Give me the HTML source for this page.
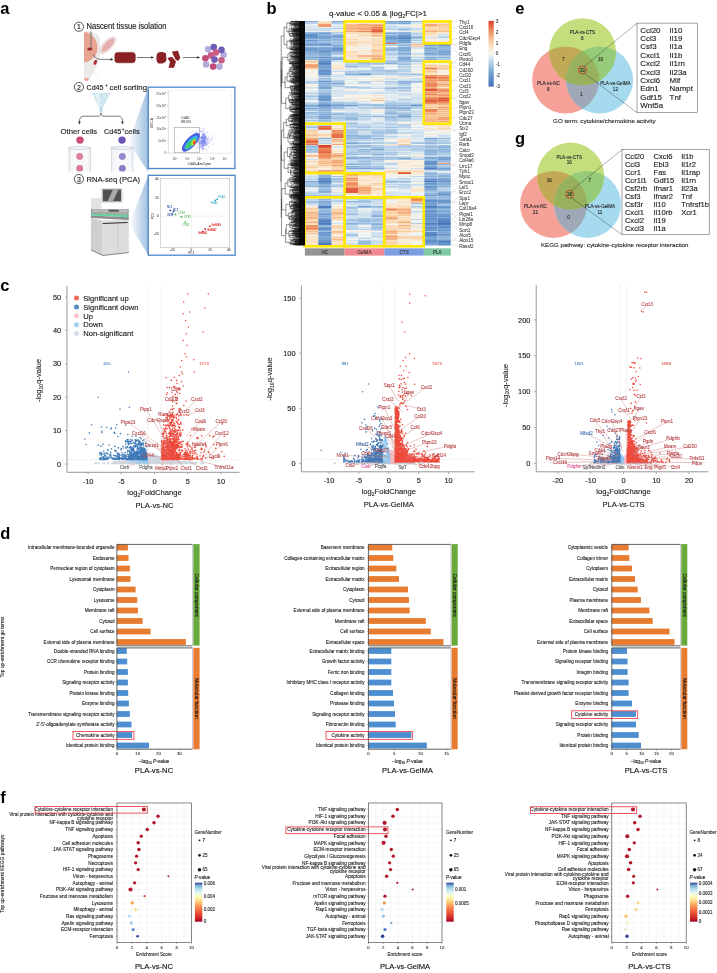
<!DOCTYPE html>
<html><head><meta charset="utf-8"><style>
html,body{margin:0;padding:0;background:#fff;width:717px;height:973px;overflow:hidden}
svg{display:block}
text{font-family:"Liberation Sans", sans-serif}
svg{-webkit-font-smoothing:antialiased;will-change:transform}
</style></head><body>
<svg width="717" height="973" viewBox="0 0 717 973" font-family='"Liberation Sans", sans-serif'>
<rect width="717" height="973" fill="#fff"/>
<defs><linearGradient id="wg" x1="0" y1="0" x2="1" y2="0"><stop offset="0" stop-color="#ffffff"/><stop offset="1" stop-color="#9dbfe0"/></linearGradient></defs>
<path d="M128.5 142 L148.3 87 L148.3 172 Z" fill="url(#wg)"/>
<path d="M129.4 224 L148.3 175.3 L148.3 255.2 Z" fill="url(#wg)"/>
<text x="0.30" y="14.30" font-size="16.5" font-weight="bold">a</text>
<circle cx="78.9" cy="26.7" r="4.6" fill="none" stroke="#222" stroke-width="0.75"/><text x="78.90" y="29.20" font-size="7" text-anchor="middle" fill="#222" stroke="#222" stroke-width="0.14">1</text>
<text x="86.50" y="29.40" font-size="8.2" fill="#222" stroke="#222" stroke-width="0.14" textLength="80" lengthAdjust="spacingAndGlyphs">Nascent tissue isolation</text>
<path d="M84.5 32 C90 31 97 33 99 38 L100 52 C99 60 96 66 93 72 C91 76 89 80 86 81 L84.5 80 Z" fill="#ece9e9" stroke="#d6d0d0" stroke-width="0.4"/>
<path d="M84.5 32.5 C92 33 97.5 40 97 49 C96.5 55 93 59 87 61.5 L84.5 62 Z" fill="#e8a491" stroke="#d88070" stroke-width="0.5"/>
<ellipse cx="107.6" cy="45.4" rx="10.8" ry="4.6" fill="#efe2e2" stroke="#d8c4c4" stroke-width="0.5" transform="rotate(-47 107.6 45.4)"/>
<ellipse cx="107.9" cy="45.1" rx="8.6" ry="3.2" fill="#e6adad" transform="rotate(-47 107.9 45.1)"/>
<line x1="91.00" y1="31.50" x2="91.00" y2="48.50" stroke="#7a7a7a" stroke-width="1.1"/>
<ellipse cx="89.8" cy="49" rx="2.6" ry="1.6" fill="#9c2a30"/>
<ellipse cx="95.3" cy="62.3" rx="1.5" ry="2.6" fill="#b02a30" transform="rotate(25 95.3 62.3)"/>
<ellipse cx="86.6" cy="79.5" rx="2.2" ry="1.4" fill="#e8a090"/>
<path d="M92 71 C95 73 97 76 99 78" stroke="#e0dada" stroke-width="0.4" fill="none"/>
<path d="M93 54.5 C95 58 97.5 59.4 101 59.4 L111.5 59.4" stroke="#222" stroke-width="0.6" fill="none"/>
<path d="M113.3 59.4 L110.6 58.1 L110.6 60.7 Z" fill="#222"/>
<rect x="114.8" y="52.4" width="20.5" height="10.4" rx="3" fill="#8b2225" stroke="#6a1518" stroke-width="0.5"/>
<line x1="137.00" y1="57.50" x2="152.00" y2="57.50" stroke="#222" stroke-width="0.6"/>
<path d="M154 57.5 L151.2 56.2 L151.2 58.8 Z" fill="#222"/>
<path d="M157.5 53 C160 51.5 164 51.8 166 53.5 L166.5 60 C165.5 63 162 64 158.5 63.5 C156 62 155.8 56 157.5 53 Z" fill="#8b2225"/>
<path d="M167.5 58 L172 56.8 L176 61.5 L174 67.8 L168.5 67.8 L170 62 Z" fill="#8b2225"/>
<path d="M172 51.5 L178 50.8 L180.3 58 L178 61 L175.5 59.5 L173 54.5 Z" fill="#8b2225"/>
<line x1="183.00" y1="57.50" x2="198.00" y2="57.50" stroke="#222" stroke-width="0.6"/>
<path d="M200 57.5 L197.2 56.2 L197.2 58.8 Z" fill="#222"/>
<circle cx="223.60" cy="54.70" r="3.30" fill="#b3aadc"/>
<circle cx="223.60" cy="54.70" r="1.50" fill="#b3aadc" opacity="0.6" stroke="#fff" stroke-opacity="0.15" stroke-width="0.3"/>
<circle cx="208.20" cy="49.20" r="3.30" fill="#b3aadc"/>
<circle cx="208.20" cy="49.20" r="1.50" fill="#b3aadc" opacity="0.6" stroke="#fff" stroke-opacity="0.15" stroke-width="0.3"/>
<circle cx="206.10" cy="64.50" r="3.30" fill="#b3aadc"/>
<circle cx="206.10" cy="64.50" r="1.50" fill="#b3aadc" opacity="0.6" stroke="#fff" stroke-opacity="0.15" stroke-width="0.3"/>
<circle cx="219.40" cy="66.60" r="3.30" fill="#b3aadc"/>
<circle cx="219.40" cy="66.60" r="1.50" fill="#b3aadc" opacity="0.6" stroke="#fff" stroke-opacity="0.15" stroke-width="0.3"/>
<circle cx="213.80" cy="47.10" r="3.30" fill="#6e5cb8"/>
<circle cx="213.80" cy="47.10" r="1.50" fill="#6e5cb8" opacity="0.6" stroke="#fff" stroke-opacity="0.15" stroke-width="0.3"/>
<circle cx="221.50" cy="49.90" r="3.30" fill="#6e5cb8"/>
<circle cx="221.50" cy="49.90" r="1.50" fill="#6e5cb8" opacity="0.6" stroke="#fff" stroke-opacity="0.15" stroke-width="0.3"/>
<circle cx="215.90" cy="52.60" r="3.30" fill="#c95c84"/>
<circle cx="215.90" cy="52.60" r="1.50" fill="#c95c84" opacity="0.6" stroke="#fff" stroke-opacity="0.15" stroke-width="0.3"/>
<circle cx="211.00" cy="55.40" r="3.30" fill="#c95c84"/>
<circle cx="211.00" cy="55.40" r="1.50" fill="#c95c84" opacity="0.6" stroke="#fff" stroke-opacity="0.15" stroke-width="0.3"/>
<circle cx="205.40" cy="58.20" r="3.30" fill="#c24a78"/>
<circle cx="205.40" cy="58.20" r="1.50" fill="#c24a78" opacity="0.6" stroke="#fff" stroke-opacity="0.15" stroke-width="0.3"/>
<circle cx="214.50" cy="59.60" r="3.30" fill="#6e5cb8"/>
<circle cx="214.50" cy="59.60" r="1.50" fill="#6e5cb8" opacity="0.6" stroke="#fff" stroke-opacity="0.15" stroke-width="0.3"/>
<circle cx="221.50" cy="60.30" r="3.30" fill="#c95c84"/>
<circle cx="221.50" cy="60.30" r="1.50" fill="#c95c84" opacity="0.6" stroke="#fff" stroke-opacity="0.15" stroke-width="0.3"/>
<circle cx="213.10" cy="66.60" r="3.30" fill="#c24a78"/>
<circle cx="213.10" cy="66.60" r="1.50" fill="#c24a78" opacity="0.6" stroke="#fff" stroke-opacity="0.15" stroke-width="0.3"/>
<circle cx="78.9" cy="87" r="4.6" fill="none" stroke="#222" stroke-width="0.75"/><text x="78.90" y="89.50" font-size="7" text-anchor="middle" fill="#222" stroke="#222" stroke-width="0.14">2</text>
<text x="86.50" y="89.50" font-size="8.0" fill="#222" stroke="#222" stroke-width="0.14" textLength="17" lengthAdjust="spacingAndGlyphs">Cd45</text>
<text x="104.90" y="86.60" font-size="4.8" fill="#222" stroke="#222" stroke-width="0.1">+</text>
<text x="109.60" y="89.50" font-size="8.0" fill="#222" stroke="#222" stroke-width="0.14" textLength="37.4" lengthAdjust="spacingAndGlyphs">cell sorting</text>
<path d="M92.5 93 L110.1 93 L103.2 106.8 L98.8 106.8 Z" fill="#cfe7f0" stroke="#b8d6e4" stroke-width="0.3"/>
<path d="M95 93 L99 93 L100 106.8 L99.3 106.8 Z" fill="#e8f4f8"/>
<rect x="99.40" y="106.80" width="3.20" height="5.70" fill="#bcdde8"/>
<path d="M101 113 C101 115 100 116.2 98 116.2 L84 116.2 C81 116.2 79.4 118 79.4 121.5 M101 113 C101 115 102 116.2 104 116.2 L118.5 116.2 C121 116.2 122.5 118 122.5 121.5" stroke="#222" stroke-width="0.6" fill="none"/>
<path d="M79.4 124.4 L78.1 121.5 L80.7 121.5 Z" fill="#222"/>
<path d="M122.5 124.4 L121.2 121.5 L123.8 121.5 Z" fill="#222"/>
<text x="60.60" y="134.20" font-size="7.8" fill="#222" stroke="#222" stroke-width="0.14" textLength="36.5" lengthAdjust="spacingAndGlyphs">Other cells</text>
<text x="104.00" y="134.20" font-size="7.8" fill="#222" stroke="#222" stroke-width="0.14" textLength="17.4" lengthAdjust="spacingAndGlyphs">Cd45</text>
<text x="121.70" y="131.20" font-size="4.6" fill="#222" stroke="#222" stroke-width="0.1">+</text>
<text x="124.40" y="134.20" font-size="7.8" fill="#222" stroke="#222" stroke-width="0.14" textLength="15.4" lengthAdjust="spacingAndGlyphs">cells</text>
<circle cx="80.00" cy="140.10" r="3.70" fill="#c74a78"/>
<circle cx="122.00" cy="140.10" r="3.70" fill="#6a55b5"/>
<rect x="69" y="148" width="21.3" height="24" fill="#eef2f5" stroke="#b7c2cc" stroke-width="0.5"/>
<rect x="71" y="149" width="17.3" height="23" fill="#f6f8fa"/>
<ellipse cx="79.65" cy="148" rx="11.65" ry="1.4" fill="#f4f6f8" stroke="#a8b4be" stroke-width="0.5"/>
<circle cx="79.65" cy="156.40" r="3.40" fill="#dc7ea0"/>
<circle cx="79.65" cy="168.50" r="3.40" fill="#d8789c"/>
<rect x="111.7" y="148" width="21.3" height="24" fill="#eef2f5" stroke="#b7c2cc" stroke-width="0.5"/>
<rect x="113.7" y="149" width="17.3" height="23" fill="#f6f8fa"/>
<ellipse cx="122.35000000000001" cy="148" rx="11.65" ry="1.4" fill="#f4f6f8" stroke="#a8b4be" stroke-width="0.5"/>
<circle cx="122.35" cy="156.40" r="3.40" fill="#9a88cc"/>
<circle cx="122.35" cy="168.50" r="3.40" fill="#8e7cc6"/>
<rect x="60.00" y="171.50" width="80.00" height="3.50" fill="#fff"/>
<rect x="148.30" y="87.20" width="86.60" height="81.30" fill="#fff" stroke="#4a86c8" stroke-width="1.3"/>
<path d="M168.6 90.5 L231.4 90.5 L231.4 153.2" stroke="#e2e2e2" stroke-width="0.4" fill="none"/>
<path d="M168.6 90.5 L168.6 153.2 L231.4 153.2" stroke="#9a9a9a" stroke-width="0.4" fill="none" stroke-dasharray="1 0.6"/>
<text x="166.2" y="94.6" font-size="3.2" text-anchor="end" fill="#444">25x10<tspan font-size="2.2" dy="-1.2">3</tspan></text>
<line x1="167.00" y1="93.50" x2="168.60" y2="93.50" stroke="#888" stroke-width="0.3"/>
<text x="166.2" y="106.6" font-size="3.2" text-anchor="end" fill="#444">20x10<tspan font-size="2.2" dy="-1.2">3</tspan></text>
<line x1="167.00" y1="105.50" x2="168.60" y2="105.50" stroke="#888" stroke-width="0.3"/>
<text x="166.2" y="118.5" font-size="3.2" text-anchor="end" fill="#444">15x10<tspan font-size="2.2" dy="-1.2">3</tspan></text>
<line x1="167.00" y1="117.40" x2="168.60" y2="117.40" stroke="#888" stroke-width="0.3"/>
<text x="166.2" y="130.3" font-size="3.2" text-anchor="end" fill="#444">10x10<tspan font-size="2.2" dy="-1.2">3</tspan></text>
<line x1="167.00" y1="129.20" x2="168.60" y2="129.20" stroke="#888" stroke-width="0.3"/>
<text x="166.2" y="142.2" font-size="3.2" text-anchor="end" fill="#444">5x10<tspan font-size="2.2" dy="-1.2">3</tspan></text>
<line x1="167.00" y1="141.10" x2="168.60" y2="141.10" stroke="#888" stroke-width="0.3"/>
<text x="166.2" y="153.9" font-size="3.2" text-anchor="end" fill="#444">0<tspan font-size="2.2" dy="-1.2"></tspan></text>
<line x1="167.00" y1="152.80" x2="168.60" y2="152.80" stroke="#888" stroke-width="0.3"/>
<text x="174.9" y="159.8" font-size="3.2" text-anchor="middle" fill="#444">10<tspan font-size="2.2" dy="-1.2">2</tspan></text>
<text x="187.4" y="159.8" font-size="3.2" text-anchor="middle" fill="#444">10<tspan font-size="2.2" dy="-1.2">3</tspan></text>
<text x="199.3" y="159.8" font-size="3.2" text-anchor="middle" fill="#444">10<tspan font-size="2.2" dy="-1.2">4</tspan></text>
<text x="212.5" y="159.8" font-size="3.2" text-anchor="middle" fill="#444">10<tspan font-size="2.2" dy="-1.2">5</tspan></text>
<text x="225" y="159.8" font-size="3.2" text-anchor="middle" fill="#444">10<tspan font-size="2.2" dy="-1.2">6</tspan></text>
<text x="199.30" y="165.00" font-size="3.6" text-anchor="middle" fill="#444" stroke="#444" stroke-width="0.05">Cd45-AmCyan</text>
<text x="152.50" y="123.00" font-size="3.2" text-anchor="middle" fill="#444" stroke="#444" stroke-width="0.05" transform="rotate(-90 152.50 123.00)">SSC-A</text>
<rect x="174.20" y="127.40" width="25.50" height="25.40" fill="none" stroke="#8a8a8a" stroke-width="0.5"/>
<text x="181.00" y="118.60" font-size="3.6" fill="#444" stroke="#444" stroke-width="0.05">Cd45</text>
<text x="181.00" y="122.80" font-size="3.6" fill="#444" stroke="#444" stroke-width="0.05">98.5%</text>
<path d="M196.1 133.1h0M207.5 141.2h0M208.8 137.0h0M204.0 138.3h0M198.3 140.9h0M195.7 137.9h0M205.5 140.3h0M202.3 136.5h0M202.8 136.9h0M200.1 137.9h0M212.1 140.1h0M202.9 144.0h0M212.1 138.7h0M194.7 137.8h0M205.3 136.9h0M200.1 142.8h0M203.1 141.7h0M199.8 147.7h0M209.5 140.2h0M199.7 144.4h0M204.4 133.8h0M199.7 146.3h0M201.5 138.0h0M203.1 139.8h0M202.0 128.4h0M210.7 141.2h0M197.6 145.9h0M203.5 140.1h0M204.8 149.5h0M212.8 133.9h0M199.4 144.7h0M193.5 138.4h0M208.5 146.3h0M204.9 128.6h0M213.8 143.3h0M205.8 143.0h0M193.4 131.4h0M195.9 151.5h0M197.8 138.5h0M200.7 143.4h0M204.5 141.6h0M202.8 141.6h0M208.2 139.4h0M198.9 142.5h0M194.2 133.8h0M197.0 141.7h0M212.5 144.6h0M207.7 141.4h0M203.4 137.3h0M196.0 132.3h0M206.2 144.0h0M207.7 149.3h0M200.5 146.3h0M211.8 139.9h0M207.4 139.0h0M193.9 140.7h0M197.9 140.7h0M199.7 141.9h0M208.8 137.9h0M197.5 140.0h0M205.4 142.5h0M204.0 128.2h0M196.3 148.1h0M203.2 130.9h0M197.7 131.3h0M196.9 147.1h0M200.9 146.8h0M202.9 130.9h0M198.1 133.6h0M208.3 140.5h0M202.0 149.0h0M193.0 142.6h0M196.6 131.4h0M197.9 147.0h0M201.3 128.8h0M196.3 149.3h0M207.2 133.3h0M214.4 137.8h0M195.9 139.2h0M206.8 149.9h0M207.3 137.4h0M199.1 131.1h0M201.6 136.3h0M203.3 132.2h0M199.4 134.6h0M195.8 132.7h0M196.8 132.7h0M204.9 140.6h0M195.2 143.1h0M203.5 149.0h0M201.0 138.7h0M198.5 140.8h0M204.5 141.1h0M200.7 143.5h0M202.5 141.5h0M197.2 141.3h0M196.9 134.8h0M207.1 140.0h0M201.1 146.1h0M209.1 147.5h0M201.0 141.2h0M200.3 138.2h0M197.6 138.5h0M191.0 132.6h0M204.2 134.3h0M204.8 132.1h0M200.1 142.4h0M196.7 135.6h0M214.6 135.8h0M198.4 136.5h0M202.2 139.8h0M207.0 144.9h0M199.9 137.8h0M194.8 130.8h0M198.2 144.5h0M202.6 144.9h0M206.8 139.0h0M212.7 136.8h0M198.8 137.4h0M207.8 139.2h0M198.2 142.7h0M207.8 139.3h0M200.7 146.7h0M207.0 145.8h0M198.1 141.7h0M203.9 129.0h0M208.1 140.6h0M202.7 135.6h0M201.7 143.5h0M206.2 139.6h0M197.6 135.7h0M197.8 133.6h0M201.9 137.0h0M202.3 134.9h0M197.6 138.9h0M200.2 147.1h0M197.4 141.3h0M201.8 132.0h0M205.7 141.0h0M191.3 143.7h0M206.8 135.1h0M210.6 141.0h0M196.1 143.4h0M200.2 131.8h0M191.1 141.5h0M198.2 143.9h0M204.0 136.8h0" stroke="#7480ea" stroke-width="0.7" stroke-linecap="round" opacity="0.55"/>
<path d="M202.3 148.6h0M207.3 144.0h0M202.7 136.0h0M202.6 148.1h0M204.5 139.2h0M200.7 141.3h0M201.5 140.6h0M205.2 145.4h0M203.8 138.9h0M204.0 148.8h0M204.3 134.1h0M207.0 141.7h0M211.3 138.4h0M203.3 139.1h0M204.3 137.8h0M200.2 131.7h0M203.2 138.1h0M202.2 150.2h0M205.3 145.5h0M202.4 141.9h0M203.0 139.6h0M205.2 143.3h0M204.2 141.2h0M200.3 137.1h0M204.4 138.8h0M201.8 142.1h0M201.4 137.4h0M205.5 138.9h0M206.7 142.9h0M205.3 145.7h0M198.7 140.1h0M200.6 138.4h0M203.3 146.2h0M203.4 148.0h0M202.3 140.2h0M203.7 144.8h0M203.4 137.7h0M202.8 134.1h0M206.3 143.9h0M204.5 141.8h0M202.2 138.7h0M205.3 136.9h0M201.8 147.7h0M207.0 141.8h0M204.7 141.4h0M206.7 138.5h0M203.7 142.7h0M206.7 139.4h0M204.0 138.3h0M202.0 137.5h0M203.7 144.5h0M202.0 137.8h0M202.6 142.1h0M205.1 134.8h0M204.3 136.0h0M205.1 136.1h0M201.1 137.3h0M203.4 136.0h0M204.0 141.2h0M203.7 141.7h0M205.4 137.2h0M203.5 140.4h0M199.0 142.3h0M201.8 137.3h0M202.5 140.9h0M204.2 142.7h0M202.0 143.6h0M204.4 138.7h0M203.5 144.1h0M204.5 143.6h0M203.7 145.6h0M208.4 142.5h0M200.0 148.3h0M202.2 134.3h0M198.3 142.4h0M205.9 145.0h0M202.7 147.0h0M203.3 137.8h0M203.6 141.5h0M203.6 142.3h0M198.7 147.6h0M202.2 143.4h0M201.7 141.2h0M203.1 133.4h0M204.3 143.4h0M201.0 131.1h0M202.1 136.7h0M203.7 140.4h0M207.0 143.4h0M202.9 141.2h0M197.2 136.4h0M201.5 140.0h0M204.2 141.5h0M205.6 137.4h0M204.2 139.9h0M203.5 141.9h0M202.9 141.5h0M203.4 145.1h0M203.3 141.9h0M209.2 143.3h0M204.6 145.3h0M201.3 143.7h0M205.1 142.5h0M205.6 144.0h0M206.1 137.6h0M204.5 138.1h0M206.2 141.1h0M200.6 141.0h0M201.3 144.9h0M202.8 130.7h0M202.6 145.1h0M204.2 137.7h0M204.9 143.1h0M206.7 144.6h0M204.3 137.0h0M204.1 141.9h0M203.5 142.4h0M200.9 143.1h0M203.5 142.1h0M203.3 139.2h0M204.1 144.0h0M202.8 142.0h0M201.8 142.4h0M203.5 134.8h0M206.0 136.5h0M203.7 134.6h0M199.7 143.4h0M200.4 131.2h0M203.0 133.6h0M203.1 148.7h0M202.6 142.1h0M204.7 141.6h0M203.2 147.2h0M203.3 142.1h0M203.7 134.8h0M204.2 140.7h0M204.9 143.6h0M206.9 132.0h0M202.3 138.4h0M201.6 142.3h0" stroke="#4f5ce6" stroke-width="0.9" stroke-linecap="round" opacity="0.6"/>
<ellipse cx="203.2" cy="140.5" rx="2.6" ry="7" fill="#5864e6" opacity="0.35" transform="rotate(12 203.2 140.5)"/>
<ellipse cx="190.8" cy="142.3" rx="12" ry="4.9" fill="#4a5ae6" transform="rotate(-47 190.8 142.3)"/>
<ellipse cx="191.2" cy="142.6" rx="9" ry="3.4" fill="#34b4e4" transform="rotate(-47 191.2 142.6)"/>
<ellipse cx="190.5" cy="143.8" rx="7" ry="2.5" fill="#3ccc78" transform="rotate(-45 190.5 143.8)"/>
<ellipse cx="193.6" cy="142.4" rx="3.4" ry="1.9" fill="#b8e030" transform="rotate(-62 193.6 142.4)"/>
<ellipse cx="194.4" cy="142.6" rx="1.2" ry="2.2" fill="#e84820" transform="rotate(12 194.4 142.6)"/>
<circle cx="78.9" cy="179" r="4.6" fill="none" stroke="#222" stroke-width="0.75"/><text x="78.90" y="181.50" font-size="7" text-anchor="middle" fill="#222" stroke="#222" stroke-width="0.14">3</text>
<text x="86.50" y="181.80" font-size="8.0" fill="#222" stroke="#222" stroke-width="0.14" textLength="53.5" lengthAdjust="spacingAndGlyphs">RNA-seq (PCA)</text>
<rect x="90.90" y="198.00" width="10.50" height="11.50" fill="#e2e2e2"/>
<rect x="101.30" y="188.20" width="21.30" height="14.50" fill="#d9d9d9"/>
<rect x="102.80" y="189.50" width="18.30" height="11.80" fill="#505050"/>
<path d="M107.5 201.3 L113 189.5 L118.5 189.5 L113 201.3 Z" fill="#a8a8a8"/>
<path d="M90.9 209 L128.8 209 L128.8 216.5 L90.9 214.5 Z" fill="#a6a6a6"/>
<path d="M93 209.5 L127 209.5 L127 212.5 L93 211.5 Z" fill="#bdbdbd"/>
<path d="M108 209.8 L118 209.8 L119.5 211.8 L109 211.8 Z" fill="#5a5a5a"/>
<path d="M90.9 213.5 L128.8 215.3 L128.8 217.3 L90.9 215.5 Z" fill="#5fd8a0"/>
<path d="M90.9 215.5 L128.8 217.3 L128.8 220 L90.9 218 Z" fill="#8e8e8e"/>
<path d="M90.9 218 L102.7 220.5 L102.7 255.5 L90.9 250 Z" fill="#d0cfcf"/>
<path d="M102.7 220.5 L128.8 220 L128.8 252.5 L102.7 255.5 Z" fill="#dedcdc"/>
<line x1="102.70" y1="223.50" x2="127.60" y2="222.50" stroke="#2a2a2a" stroke-width="1"/>
<line x1="118.10" y1="224.00" x2="118.10" y2="253.80" stroke="#c2c0c0" stroke-width="0.5"/>
<path d="M90.9 250 L102.7 255.5 L128.8 252.5" stroke="#5a5a5a" stroke-width="0.7" fill="none"/>
<line x1="91.20" y1="223.00" x2="102.50" y2="226.00" stroke="#c4c2c2" stroke-width="0.4"/>
<line x1="91.20" y1="230.00" x2="102.50" y2="233.00" stroke="#c4c2c2" stroke-width="0.4"/>
<line x1="91.20" y1="237.00" x2="102.50" y2="240.00" stroke="#c4c2c2" stroke-width="0.4"/>
<line x1="91.20" y1="244.00" x2="102.50" y2="247.00" stroke="#c4c2c2" stroke-width="0.4"/>
<rect x="148.30" y="175.30" width="86.80" height="79.90" fill="#fff" stroke="#4a86c8" stroke-width="1.3"/>
<rect x="160.60" y="178.40" width="69.20" height="69.10" fill="none" stroke="#999" stroke-width="0.4"/>
<line x1="191.40" y1="178.40" x2="191.40" y2="247.50" stroke="#dddddd" stroke-width="0.4"/>
<line x1="160.60" y1="216.10" x2="229.80" y2="216.10" stroke="#dddddd" stroke-width="0.4"/>
<text x="158.60" y="180.40" font-size="3.2" text-anchor="end" fill="#444" stroke="#444" stroke-width="0.05">40</text>
<text x="158.60" y="198.50" font-size="3.2" text-anchor="end" fill="#444" stroke="#444" stroke-width="0.05">20</text>
<text x="158.60" y="217.20" font-size="3.2" text-anchor="end" fill="#444" stroke="#444" stroke-width="0.05">0</text>
<text x="158.60" y="235.40" font-size="3.2" text-anchor="end" fill="#444" stroke="#444" stroke-width="0.05">-20</text>
<text x="172.20" y="250.60" font-size="3.2" text-anchor="middle" fill="#444" stroke="#444" stroke-width="0.05">-20</text>
<text x="191.40" y="250.60" font-size="3.2" text-anchor="middle" fill="#444" stroke="#444" stroke-width="0.05">0</text>
<text x="209.90" y="250.60" font-size="3.2" text-anchor="middle" fill="#444" stroke="#444" stroke-width="0.05">20</text>
<text x="228.70" y="250.60" font-size="3.2" text-anchor="middle" fill="#444" stroke="#444" stroke-width="0.05">40</text>
<text x="191.40" y="254.00" font-size="3.0" text-anchor="middle" fill="#444" stroke="#444" stroke-width="0.05">PC1</text>
<text x="154.00" y="216.10" font-size="3.0" text-anchor="middle" fill="#444" stroke="#444" stroke-width="0.05" transform="rotate(-90 154.00 216.10)">PC2</text>
<circle cx="170.20" cy="210.40" r="0.90" fill="#1e3fa0"/>
<text x="167.00" y="207.80" font-size="2.6" fill="#1e3fa0" stroke="#1e3fa0" stroke-width="0.05">NC1</text>
<circle cx="172.20" cy="214.10" r="0.90" fill="#1e3fa0"/>
<text x="167.50" y="216.00" font-size="2.6" fill="#1e3fa0" stroke="#1e3fa0" stroke-width="0.05">NC3</text>
<circle cx="173.50" cy="211.50" r="0.90" fill="#1e3fa0"/>
<text x="173.00" y="211.20" font-size="2.6" fill="#1e3fa0" stroke="#1e3fa0" stroke-width="0.05">NC2</text>
<circle cx="175.50" cy="214.40" r="0.90" fill="#3cb043"/>
<text x="178.00" y="214.20" font-size="2.6" fill="#3cb043" stroke="#3cb043" stroke-width="0.05">CTS3</text>
<circle cx="181.40" cy="217.00" r="0.90" fill="#3cb043"/>
<text x="184.00" y="217.80" font-size="2.6" fill="#3cb043" stroke="#3cb043" stroke-width="0.05">CTS1</text>
<circle cx="185.40" cy="222.10" r="0.90" fill="#3cb043"/>
<text x="182.50" y="225.50" font-size="2.6" fill="#3cb043" stroke="#3cb043" stroke-width="0.05">CTS2</text>
<circle cx="215.20" cy="200.50" r="0.90" fill="#2aa0c8"/>
<text x="211.00" y="203.50" font-size="2.6" fill="#2aa0c8" stroke="#2aa0c8" stroke-width="0.05">PLA2</text>
<circle cx="217.20" cy="199.20" r="0.90" fill="#2aa0c8"/>
<text x="218.50" y="197.50" font-size="2.6" fill="#2aa0c8" stroke="#2aa0c8" stroke-width="0.05">PLA1</text>
<circle cx="209.90" cy="226.30" r="0.90" fill="#e02020"/>
<text x="211.50" y="225.50" font-size="2.6" fill="#e02020" stroke="#e02020" stroke-width="0.05">GelMA3</text>
<circle cx="205.30" cy="229.00" r="0.90" fill="#e02020"/>
<text x="207.00" y="230.50" font-size="2.6" fill="#e02020" stroke="#e02020" stroke-width="0.05">GelMA2</text>
<circle cx="202.60" cy="231.60" r="0.90" fill="#e02020"/>
<text x="198.00" y="234.00" font-size="2.6" fill="#e02020" stroke="#e02020" stroke-width="0.05">GelMA1</text>
<text x="266.50" y="14.20" font-size="16.5" font-weight="bold">b</text>
<text x="378" y="15.8" font-size="8" text-anchor="middle" fill="#222" stroke="#222" stroke-width="0.14">q-value &lt; 0.05 &amp; |log<tspan font-size="5" dy="1.8">2</tspan><tspan dy="-1.8">FC|&gt;1</tspan></text>
<path d="M305.00 21.0h13.25v1.0h-13.25zM318.25 40.0h13.25v1.0h-13.25z" fill="#85acd7"/>
<path d="M318.25 21.0h13.25v1.0h-13.25zM344.75 23.0h13.25v1.0h-13.25zM305.00 157.0h13.25v1.0h-13.25zM411.00 160.0h13.25v1.0h-13.25zM411.00 174.0h13.25v1.0h-13.25zM371.25 194.0h13.25v1.0h-13.25zM305.00 206.0h13.25v1.0h-13.25zM397.75 239.0h13.25v1.0h-13.25zM305.00 243.0h13.25v1.0h-13.25z" fill="#faebd6"/>
<path d="M331.50 21.0h13.25v1.0h-13.25zM344.75 74.0h13.25v1.0h-13.25zM318.25 93.0h13.25v1.0h-13.25zM318.25 108.0h13.25v1.0h-13.25zM371.25 154.0h13.25v1.0h-13.25zM437.50 169.0h13.25v1.0h-13.25zM424.25 173.0h13.25v1.0h-13.25zM318.25 177.0h13.25v1.0h-13.25zM424.25 182.0h13.25v1.0h-13.25zM424.25 209.0h13.25v1.0h-13.25zM437.50 213.0h13.25v1.0h-13.25zM437.50 231.0h13.25v1.0h-13.25z" fill="#84acd7"/>
<path d="M344.75 21.0h13.25v1.0h-13.25zM305.00 25.0h13.25v1.0h-13.25zM331.50 79.0h13.25v1.0h-13.25zM384.50 96.0h13.25v1.0h-13.25zM384.50 98.0h13.25v1.0h-13.25zM331.50 100.0h13.25v1.0h-13.25zM424.25 136.0h13.25v1.0h-13.25zM411.00 139.0h13.25v1.0h-13.25zM331.50 173.0h13.25v1.0h-13.25zM331.50 194.0h13.25v1.0h-13.25zM358.00 237.0h13.25v1.0h-13.25zM371.25 238.0h13.25v1.0h-13.25z" fill="#e1ebf1"/>
<path d="M358.00 21.0h13.25v1.0h-13.25zM437.50 73.0h13.25v1.0h-13.25zM344.75 84.0h13.25v1.0h-13.25zM305.00 85.0h13.25v1.0h-13.25zM371.25 111.0h13.25v1.0h-13.25zM331.50 145.0h13.25v1.0h-13.25zM397.75 175.0h13.25v1.0h-13.25z" fill="#f6f2e9"/>
<path d="M371.25 21.0h13.25v1.0h-13.25zM424.25 39.0h13.25v1.0h-13.25zM358.00 53.0h13.25v1.0h-13.25zM305.00 63.0h13.25v1.0h-13.25zM371.25 80.0h13.25v1.0h-13.25zM424.25 134.0h13.25v1.0h-13.25zM331.50 150.0h13.25v1.0h-13.25zM358.00 178.0h13.25v1.0h-13.25zM358.00 183.0h13.25v1.0h-13.25zM384.50 202.0h13.25v1.0h-13.25z" fill="#fbe9d1"/>
<path d="M384.50 21.0h13.25v1.0h-13.25zM397.75 47.0h13.25v1.0h-13.25zM305.00 52.0h13.25v1.0h-13.25zM318.25 53.0h13.25v1.0h-13.25zM318.25 54.0h13.25v1.0h-13.25zM318.25 83.0h13.25v1.0h-13.25zM318.25 237.0h13.25v1.0h-13.25z" fill="#83abd7"/>
<path d="M397.75 21.0h13.25v1.0h-13.25zM384.50 37.0h13.25v1.0h-13.25zM318.25 70.0h13.25v1.0h-13.25zM318.25 74.0h13.25v1.0h-13.25zM318.25 229.0h13.25v1.0h-13.25z" fill="#6795cb"/>
<path d="M411.00 21.0h13.25v1.0h-13.25zM397.75 29.0h13.25v1.0h-13.25zM437.50 48.0h13.25v1.0h-13.25zM318.25 212.0h13.25v1.0h-13.25z" fill="#98bbdf"/>
<path d="M424.25 21.0h13.25v1.0h-13.25zM344.75 37.0h13.25v1.0h-13.25zM358.00 46.0h13.25v1.0h-13.25zM371.25 79.0h13.25v1.0h-13.25zM318.25 133.0h13.25v1.0h-13.25zM318.25 136.0h13.25v1.0h-13.25zM411.00 191.0h13.25v1.0h-13.25zM305.00 207.0h13.25v1.0h-13.25zM411.00 226.0h13.25v1.0h-13.25zM397.75 243.0h13.25v1.0h-13.25z" fill="#faead4"/>
<path d="M437.50 21.0h13.25v1.0h-13.25zM411.00 24.0h13.25v1.0h-13.25zM344.75 34.0h13.25v1.0h-13.25zM358.00 37.0h13.25v1.0h-13.25zM305.00 75.0h13.25v1.0h-13.25zM424.25 126.0h13.25v1.0h-13.25zM384.50 169.0h13.25v1.0h-13.25zM371.25 186.0h13.25v1.0h-13.25zM331.50 191.0h13.25v1.0h-13.25zM384.50 203.0h13.25v1.0h-13.25zM397.75 234.0h13.25v1.0h-13.25z" fill="#f6f1e7"/>
<path d="M305.00 22.0h13.25v1.0h-13.25zM305.00 23.0h13.25v1.0h-13.25zM411.00 34.0h13.25v1.0h-13.25zM424.25 56.0h13.25v1.0h-13.25zM344.75 62.0h13.25v1.0h-13.25zM358.00 72.0h13.25v1.0h-13.25zM371.25 72.0h13.25v1.0h-13.25zM358.00 88.0h13.25v1.0h-13.25zM344.75 108.0h13.25v1.0h-13.25zM344.75 127.0h13.25v1.0h-13.25zM384.50 142.0h13.25v1.0h-13.25zM318.25 143.0h13.25v1.0h-13.25zM358.00 159.0h13.25v1.0h-13.25zM371.25 161.0h13.25v1.0h-13.25zM344.75 202.0h13.25v1.0h-13.25z" fill="#bad3e9"/>
<path d="M318.25 22.0h13.25v1.0h-13.25zM358.00 23.0h13.25v1.0h-13.25zM344.75 32.0h13.25v1.0h-13.25zM411.00 45.0h13.25v1.0h-13.25zM424.25 105.0h13.25v1.0h-13.25zM437.50 129.0h13.25v1.0h-13.25zM384.50 172.0h13.25v1.0h-13.25zM397.75 219.0h13.25v1.0h-13.25zM384.50 226.0h13.25v1.0h-13.25zM331.50 228.0h13.25v1.0h-13.25zM384.50 243.0h13.25v1.0h-13.25z" fill="#fadbb7"/>
<path d="M331.50 22.0h13.25v1.0h-13.25zM437.50 37.0h13.25v1.0h-13.25zM344.75 71.0h13.25v1.0h-13.25zM358.00 71.0h13.25v1.0h-13.25zM397.75 74.0h13.25v1.0h-13.25zM331.50 82.0h13.25v1.0h-13.25zM331.50 84.0h13.25v1.0h-13.25zM411.00 108.0h13.25v1.0h-13.25zM384.50 111.0h13.25v1.0h-13.25zM305.00 118.0h13.25v1.0h-13.25zM384.50 118.0h13.25v1.0h-13.25zM411.00 142.0h13.25v1.0h-13.25zM358.00 147.0h13.25v1.0h-13.25zM384.50 182.0h13.25v1.0h-13.25zM344.75 197.0h13.25v1.0h-13.25zM358.00 218.0h13.25v1.0h-13.25z" fill="#abc9e5"/>
<path d="M344.75 22.0h13.25v1.0h-13.25zM371.25 36.0h13.25v1.0h-13.25zM371.25 44.0h13.25v1.0h-13.25zM371.25 54.0h13.25v1.0h-13.25zM331.50 154.0h13.25v1.0h-13.25zM318.25 160.0h13.25v1.0h-13.25zM305.00 167.0h13.25v1.0h-13.25zM344.75 177.0h13.25v1.0h-13.25zM371.25 183.0h13.25v1.0h-13.25zM331.50 210.0h13.25v1.0h-13.25zM411.00 237.0h13.25v1.0h-13.25z" fill="#f8cfa4"/>
<path d="M358.00 22.0h13.25v1.0h-13.25zM437.50 125.0h13.25v1.0h-13.25zM397.75 139.0h13.25v1.0h-13.25zM397.75 140.0h13.25v1.0h-13.25zM411.00 189.0h13.25v1.0h-13.25zM397.75 230.0h13.25v1.0h-13.25z" fill="#fae2c3"/>
<path d="M371.25 22.0h13.25v1.0h-13.25zM371.25 43.0h13.25v1.0h-13.25zM397.75 206.0h13.25v1.0h-13.25z" fill="#fadcb9"/>
<path d="M384.50 22.0h13.25v1.0h-13.25zM384.50 23.0h13.25v1.0h-13.25zM318.25 32.0h13.25v1.0h-13.25zM437.50 47.0h13.25v1.0h-13.25zM437.50 57.0h13.25v1.0h-13.25zM424.25 59.0h13.25v1.0h-13.25zM397.75 83.0h13.25v1.0h-13.25zM371.25 138.0h13.25v1.0h-13.25zM358.00 145.0h13.25v1.0h-13.25zM424.25 152.0h13.25v1.0h-13.25zM344.75 157.0h13.25v1.0h-13.25zM437.50 175.0h13.25v1.0h-13.25zM437.50 197.0h13.25v1.0h-13.25zM318.25 226.0h13.25v1.0h-13.25zM371.25 227.0h13.25v1.0h-13.25zM437.50 233.0h13.25v1.0h-13.25z" fill="#8eb4db"/>
<path d="M397.75 22.0h13.25v1.0h-13.25zM331.50 57.0h13.25v1.0h-13.25zM331.50 108.0h13.25v1.0h-13.25zM344.75 132.0h13.25v1.0h-13.25zM437.50 150.0h13.25v1.0h-13.25zM371.25 157.0h13.25v1.0h-13.25zM424.25 160.0h13.25v1.0h-13.25zM437.50 160.0h13.25v1.0h-13.25zM424.25 165.0h13.25v1.0h-13.25zM424.25 197.0h13.25v1.0h-13.25zM437.50 209.0h13.25v1.0h-13.25zM437.50 238.0h13.25v1.0h-13.25z" fill="#96bade"/>
<path d="M411.00 22.0h13.25v1.0h-13.25zM437.50 34.0h13.25v1.0h-13.25zM331.50 60.0h13.25v1.0h-13.25zM397.75 65.0h13.25v1.0h-13.25zM411.00 79.0h13.25v1.0h-13.25zM384.50 92.0h13.25v1.0h-13.25zM384.50 100.0h13.25v1.0h-13.25zM344.75 110.0h13.25v1.0h-13.25zM411.00 110.0h13.25v1.0h-13.25zM305.00 119.0h13.25v1.0h-13.25zM358.00 128.0h13.25v1.0h-13.25zM411.00 181.0h13.25v1.0h-13.25zM331.50 187.0h13.25v1.0h-13.25zM305.00 204.0h13.25v1.0h-13.25zM371.25 208.0h13.25v1.0h-13.25zM358.00 213.0h13.25v1.0h-13.25zM358.00 216.0h13.25v1.0h-13.25zM344.75 218.0h13.25v1.0h-13.25zM371.25 235.0h13.25v1.0h-13.25z" fill="#d1e2ef"/>
<path d="M424.25 22.0h13.25v1.0h-13.25zM424.25 27.0h13.25v1.0h-13.25zM371.25 34.0h13.25v1.0h-13.25zM331.50 167.0h13.25v1.0h-13.25zM371.25 184.0h13.25v1.0h-13.25zM397.75 217.0h13.25v1.0h-13.25zM384.50 234.0h13.25v1.0h-13.25zM397.75 236.0h13.25v1.0h-13.25z" fill="#fadbb6"/>
<path d="M437.50 22.0h13.25v1.0h-13.25zM437.50 23.0h13.25v1.0h-13.25zM358.00 42.0h13.25v1.0h-13.25zM358.00 43.0h13.25v1.0h-13.25zM384.50 214.0h13.25v1.0h-13.25zM331.50 230.0h13.25v1.0h-13.25z" fill="#fae1c2"/>
<path d="M318.25 23.0h13.25v1.0h-13.25zM424.25 29.0h13.25v1.0h-13.25zM424.25 33.0h13.25v1.0h-13.25zM305.00 68.0h13.25v1.0h-13.25zM331.50 128.0h13.25v1.0h-13.25zM384.50 215.0h13.25v1.0h-13.25zM384.50 222.0h13.25v1.0h-13.25z" fill="#f9d4aa"/>
<path d="M331.50 23.0h13.25v1.0h-13.25zM331.50 41.0h13.25v1.0h-13.25zM397.75 55.0h13.25v1.0h-13.25zM371.25 60.0h13.25v1.0h-13.25zM344.75 64.0h13.25v1.0h-13.25zM384.50 87.0h13.25v1.0h-13.25zM397.75 125.0h13.25v1.0h-13.25zM344.75 126.0h13.25v1.0h-13.25zM358.00 142.0h13.25v1.0h-13.25zM371.25 143.0h13.25v1.0h-13.25zM305.00 150.0h13.25v1.0h-13.25zM358.00 150.0h13.25v1.0h-13.25zM358.00 153.0h13.25v1.0h-13.25zM384.50 153.0h13.25v1.0h-13.25zM397.75 182.0h13.25v1.0h-13.25zM371.25 214.0h13.25v1.0h-13.25z" fill="#b1cde6"/>
<path d="M371.25 23.0h13.25v1.0h-13.25zM331.50 31.0h13.25v1.0h-13.25zM424.25 34.0h13.25v1.0h-13.25zM305.00 164.0h13.25v1.0h-13.25zM318.25 166.0h13.25v1.0h-13.25zM305.00 169.0h13.25v1.0h-13.25zM397.75 201.0h13.25v1.0h-13.25zM397.75 229.0h13.25v1.0h-13.25z" fill="#fbe8cf"/>
<path d="M397.75 23.0h13.25v1.0h-13.25zM331.50 47.0h13.25v1.0h-13.25zM318.25 95.0h13.25v1.0h-13.25zM318.25 103.0h13.25v1.0h-13.25zM305.00 108.0h13.25v1.0h-13.25zM318.25 114.0h13.25v1.0h-13.25zM424.25 154.0h13.25v1.0h-13.25zM424.25 158.0h13.25v1.0h-13.25zM344.75 166.0h13.25v1.0h-13.25zM437.50 178.0h13.25v1.0h-13.25zM437.50 184.0h13.25v1.0h-13.25zM318.25 186.0h13.25v1.0h-13.25zM437.50 192.0h13.25v1.0h-13.25zM318.25 208.0h13.25v1.0h-13.25z" fill="#81aad6"/>
<path d="M411.00 23.0h13.25v1.0h-13.25zM411.00 48.0h13.25v1.0h-13.25zM384.50 69.0h13.25v1.0h-13.25zM344.75 88.0h13.25v1.0h-13.25zM384.50 91.0h13.25v1.0h-13.25zM397.75 100.0h13.25v1.0h-13.25zM331.50 147.0h13.25v1.0h-13.25zM397.75 153.0h13.25v1.0h-13.25zM397.75 193.0h13.25v1.0h-13.25zM305.00 198.0h13.25v1.0h-13.25zM371.25 204.0h13.25v1.0h-13.25zM411.00 204.0h13.25v1.0h-13.25zM371.25 240.0h13.25v1.0h-13.25z" fill="#d3e3ef"/>
<path d="M424.25 23.0h13.25v1.0h-13.25zM437.50 87.0h13.25v1.0h-13.25z" fill="#fbe3c6"/>
<path d="M305.00 24.0h13.25v1.0h-13.25zM384.50 31.0h13.25v1.0h-13.25zM411.00 52.0h13.25v1.0h-13.25zM371.25 83.0h13.25v1.0h-13.25zM358.00 84.0h13.25v1.0h-13.25zM411.00 177.0h13.25v1.0h-13.25zM358.00 232.0h13.25v1.0h-13.25zM344.75 238.0h13.25v1.0h-13.25zM358.00 239.0h13.25v1.0h-13.25z" fill="#ebf1f2"/>
<path d="M318.25 24.0h13.25v1.0h-13.25z" fill="#f19a6c"/>
<path d="M331.50 24.0h13.25v1.0h-13.25zM331.50 95.0h13.25v1.0h-13.25zM371.25 128.0h13.25v1.0h-13.25zM371.25 141.0h13.25v1.0h-13.25zM358.00 228.0h13.25v1.0h-13.25z" fill="#d7e6f0"/>
<path d="M344.75 24.0h13.25v1.0h-13.25zM384.50 219.0h13.25v1.0h-13.25z" fill="#f7c498"/>
<path d="M358.00 24.0h13.25v1.0h-13.25z" fill="#f3a475"/>
<path d="M371.25 24.0h13.25v1.0h-13.25zM371.25 35.0h13.25v1.0h-13.25zM358.00 56.0h13.25v1.0h-13.25zM424.25 87.0h13.25v1.0h-13.25zM358.00 189.0h13.25v1.0h-13.25zM305.00 212.0h13.25v1.0h-13.25zM397.75 225.0h13.25v1.0h-13.25zM331.50 239.0h13.25v1.0h-13.25z" fill="#f6b587"/>
<path d="M384.50 24.0h13.25v1.0h-13.25zM397.75 26.0h13.25v1.0h-13.25zM344.75 101.0h13.25v1.0h-13.25zM305.00 111.0h13.25v1.0h-13.25zM397.75 121.0h13.25v1.0h-13.25zM371.25 125.0h13.25v1.0h-13.25zM371.25 165.0h13.25v1.0h-13.25zM384.50 178.0h13.25v1.0h-13.25zM305.00 191.0h13.25v1.0h-13.25zM397.75 194.0h13.25v1.0h-13.25zM331.50 223.0h13.25v1.0h-13.25z" fill="#d4e4f0"/>
<path d="M397.75 24.0h13.25v1.0h-13.25zM318.25 30.0h13.25v1.0h-13.25zM344.75 91.0h13.25v1.0h-13.25zM331.50 109.0h13.25v1.0h-13.25zM384.50 123.0h13.25v1.0h-13.25zM397.75 129.0h13.25v1.0h-13.25zM411.00 132.0h13.25v1.0h-13.25zM411.00 135.0h13.25v1.0h-13.25zM411.00 136.0h13.25v1.0h-13.25zM384.50 156.0h13.25v1.0h-13.25zM411.00 158.0h13.25v1.0h-13.25zM344.75 162.0h13.25v1.0h-13.25zM371.25 243.0h13.25v1.0h-13.25zM371.25 244.0h13.25v1.0h-13.25z" fill="#ccdfee"/>
<path d="M424.25 24.0h13.25v1.0h-13.25zM305.00 66.0h13.25v1.0h-13.25zM437.50 92.0h13.25v1.0h-13.25zM424.25 93.0h13.25v1.0h-13.25zM318.25 170.0h13.25v1.0h-13.25zM397.75 209.0h13.25v1.0h-13.25z" fill="#f4aa7b"/>
<path d="M437.50 24.0h13.25v1.0h-13.25zM358.00 186.0h13.25v1.0h-13.25zM331.50 231.0h13.25v1.0h-13.25z" fill="#f7c497"/>
<path d="M318.25 25.0h13.25v1.0h-13.25z" fill="#f09769"/>
<path d="M331.50 25.0h13.25v1.0h-13.25zM411.00 41.0h13.25v1.0h-13.25zM437.50 42.0h13.25v1.0h-13.25zM437.50 63.0h13.25v1.0h-13.25zM411.00 214.0h13.25v1.0h-13.25z" fill="#e8eff2"/>
<path d="M344.75 25.0h13.25v1.0h-13.25zM358.00 27.0h13.25v1.0h-13.25zM424.25 81.0h13.25v1.0h-13.25zM318.25 158.0h13.25v1.0h-13.25zM331.50 161.0h13.25v1.0h-13.25zM344.75 179.0h13.25v1.0h-13.25zM331.50 213.0h13.25v1.0h-13.25zM397.75 222.0h13.25v1.0h-13.25zM384.50 238.0h13.25v1.0h-13.25z" fill="#f4ad7e"/>
<path d="M358.00 25.0h13.25v1.0h-13.25z" fill="#f5b284"/>
<path d="M371.25 25.0h13.25v1.0h-13.25zM305.00 229.0h13.25v1.0h-13.25z" fill="#f0986a"/>
<path d="M384.50 25.0h13.25v1.0h-13.25zM437.50 35.0h13.25v1.0h-13.25zM411.00 47.0h13.25v1.0h-13.25zM411.00 53.0h13.25v1.0h-13.25zM384.50 59.0h13.25v1.0h-13.25zM358.00 86.0h13.25v1.0h-13.25zM331.50 93.0h13.25v1.0h-13.25zM411.00 119.0h13.25v1.0h-13.25zM384.50 128.0h13.25v1.0h-13.25z" fill="#d5e4f0"/>
<path d="M397.75 25.0h13.25v1.0h-13.25zM331.50 30.0h13.25v1.0h-13.25zM384.50 67.0h13.25v1.0h-13.25zM358.00 79.0h13.25v1.0h-13.25zM305.00 84.0h13.25v1.0h-13.25zM411.00 92.0h13.25v1.0h-13.25zM384.50 176.0h13.25v1.0h-13.25zM397.75 197.0h13.25v1.0h-13.25zM411.00 216.0h13.25v1.0h-13.25zM411.00 220.0h13.25v1.0h-13.25z" fill="#edf2f2"/>
<path d="M411.00 25.0h13.25v1.0h-13.25zM411.00 240.0h13.25v1.0h-13.25z" fill="#fbe8ce"/>
<path d="M424.25 25.0h13.25v1.0h-13.25z" fill="#f3a576"/>
<path d="M437.50 25.0h13.25v1.0h-13.25zM424.25 65.0h13.25v1.0h-13.25zM437.50 106.0h13.25v1.0h-13.25zM424.25 115.0h13.25v1.0h-13.25zM397.75 144.0h13.25v1.0h-13.25z" fill="#f7c79b"/>
<path d="M305.00 26.0h13.25v1.0h-13.25zM331.50 70.0h13.25v1.0h-13.25zM411.00 94.0h13.25v1.0h-13.25zM397.75 95.0h13.25v1.0h-13.25zM331.50 121.0h13.25v1.0h-13.25zM411.00 127.0h13.25v1.0h-13.25zM411.00 131.0h13.25v1.0h-13.25zM305.00 189.0h13.25v1.0h-13.25zM397.75 189.0h13.25v1.0h-13.25zM358.00 212.0h13.25v1.0h-13.25zM371.25 232.0h13.25v1.0h-13.25z" fill="#d7e5f0"/>
<path d="M318.25 26.0h13.25v1.0h-13.25z" fill="#f19b6d"/>
<path d="M331.50 26.0h13.25v1.0h-13.25zM305.00 28.0h13.25v1.0h-13.25zM371.25 61.0h13.25v1.0h-13.25zM384.50 75.0h13.25v1.0h-13.25zM305.00 92.0h13.25v1.0h-13.25zM411.00 99.0h13.25v1.0h-13.25zM437.50 139.0h13.25v1.0h-13.25zM344.75 160.0h13.25v1.0h-13.25zM344.75 165.0h13.25v1.0h-13.25zM424.25 170.0h13.25v1.0h-13.25zM305.00 177.0h13.25v1.0h-13.25zM371.25 198.0h13.25v1.0h-13.25zM344.75 217.0h13.25v1.0h-13.25zM344.75 233.0h13.25v1.0h-13.25zM344.75 240.0h13.25v1.0h-13.25z" fill="#d2e3ef"/>
<path d="M344.75 26.0h13.25v1.0h-13.25zM358.00 26.0h13.25v1.0h-13.25zM424.25 96.0h13.25v1.0h-13.25zM384.50 237.0h13.25v1.0h-13.25z" fill="#f6bb8d"/>
<path d="M371.25 26.0h13.25v1.0h-13.25zM437.50 109.0h13.25v1.0h-13.25zM331.50 160.0h13.25v1.0h-13.25zM384.50 231.0h13.25v1.0h-13.25z" fill="#f4ac7d"/>
<path d="M384.50 26.0h13.25v1.0h-13.25zM411.00 78.0h13.25v1.0h-13.25zM411.00 112.0h13.25v1.0h-13.25zM384.50 151.0h13.25v1.0h-13.25zM411.00 151.0h13.25v1.0h-13.25zM371.25 155.0h13.25v1.0h-13.25zM305.00 178.0h13.25v1.0h-13.25zM397.75 187.0h13.25v1.0h-13.25zM344.75 215.0h13.25v1.0h-13.25z" fill="#c5daec"/>
<path d="M411.00 26.0h13.25v1.0h-13.25zM305.00 71.0h13.25v1.0h-13.25zM437.50 71.0h13.25v1.0h-13.25zM331.50 73.0h13.25v1.0h-13.25zM305.00 74.0h13.25v1.0h-13.25zM344.75 82.0h13.25v1.0h-13.25zM371.25 171.0h13.25v1.0h-13.25zM305.00 190.0h13.25v1.0h-13.25z" fill="#f5f4ed"/>
<path d="M424.25 26.0h13.25v1.0h-13.25zM424.25 118.0h13.25v1.0h-13.25zM384.50 242.0h13.25v1.0h-13.25z" fill="#f8c99d"/>
<path d="M437.50 26.0h13.25v1.0h-13.25zM344.75 51.0h13.25v1.0h-13.25zM371.25 52.0h13.25v1.0h-13.25zM331.50 209.0h13.25v1.0h-13.25z" fill="#f9d5ac"/>
<path d="M305.00 27.0h13.25v1.0h-13.25zM331.50 55.0h13.25v1.0h-13.25zM358.00 92.0h13.25v1.0h-13.25zM384.50 95.0h13.25v1.0h-13.25zM384.50 97.0h13.25v1.0h-13.25zM358.00 109.0h13.25v1.0h-13.25zM371.25 118.0h13.25v1.0h-13.25zM384.50 135.0h13.25v1.0h-13.25zM424.25 137.0h13.25v1.0h-13.25zM358.00 144.0h13.25v1.0h-13.25zM384.50 165.0h13.25v1.0h-13.25zM437.50 172.0h13.25v1.0h-13.25zM397.75 176.0h13.25v1.0h-13.25zM344.75 198.0h13.25v1.0h-13.25z" fill="#dfeaf1"/>
<path d="M318.25 27.0h13.25v1.0h-13.25zM411.00 58.0h13.25v1.0h-13.25zM397.75 78.0h13.25v1.0h-13.25zM331.50 89.0h13.25v1.0h-13.25zM344.75 111.0h13.25v1.0h-13.25zM397.75 136.0h13.25v1.0h-13.25zM411.00 137.0h13.25v1.0h-13.25zM411.00 140.0h13.25v1.0h-13.25zM358.00 141.0h13.25v1.0h-13.25zM411.00 141.0h13.25v1.0h-13.25zM384.50 167.0h13.25v1.0h-13.25zM371.25 205.0h13.25v1.0h-13.25zM358.00 210.0h13.25v1.0h-13.25zM411.00 212.0h13.25v1.0h-13.25z" fill="#e0ebf1"/>
<path d="M331.50 27.0h13.25v1.0h-13.25zM384.50 58.0h13.25v1.0h-13.25zM397.75 68.0h13.25v1.0h-13.25zM305.00 128.0h13.25v1.0h-13.25zM371.25 170.0h13.25v1.0h-13.25zM397.75 183.0h13.25v1.0h-13.25z" fill="#dce9f0"/>
<path d="M344.75 27.0h13.25v1.0h-13.25zM411.00 44.0h13.25v1.0h-13.25zM437.50 96.0h13.25v1.0h-13.25zM384.50 232.0h13.25v1.0h-13.25z" fill="#f6b688"/>
<path d="M371.25 27.0h13.25v1.0h-13.25zM424.25 98.0h13.25v1.0h-13.25zM437.50 101.0h13.25v1.0h-13.25z" fill="#eb8255"/>
<path d="M384.50 27.0h13.25v1.0h-13.25zM411.00 28.0h13.25v1.0h-13.25zM411.00 35.0h13.25v1.0h-13.25zM411.00 39.0h13.25v1.0h-13.25zM384.50 51.0h13.25v1.0h-13.25zM411.00 54.0h13.25v1.0h-13.25zM331.50 71.0h13.25v1.0h-13.25zM344.75 75.0h13.25v1.0h-13.25zM411.00 75.0h13.25v1.0h-13.25zM344.75 93.0h13.25v1.0h-13.25zM358.00 110.0h13.25v1.0h-13.25zM331.50 112.0h13.25v1.0h-13.25zM318.25 122.0h13.25v1.0h-13.25zM384.50 122.0h13.25v1.0h-13.25zM384.50 126.0h13.25v1.0h-13.25zM358.00 134.0h13.25v1.0h-13.25zM437.50 135.0h13.25v1.0h-13.25zM424.25 144.0h13.25v1.0h-13.25zM397.75 148.0h13.25v1.0h-13.25zM384.50 168.0h13.25v1.0h-13.25z" fill="#c9dded"/>
<path d="M397.75 27.0h13.25v1.0h-13.25zM305.00 29.0h13.25v1.0h-13.25zM411.00 30.0h13.25v1.0h-13.25zM411.00 43.0h13.25v1.0h-13.25zM397.75 79.0h13.25v1.0h-13.25zM331.50 94.0h13.25v1.0h-13.25zM331.50 96.0h13.25v1.0h-13.25zM397.75 98.0h13.25v1.0h-13.25zM411.00 100.0h13.25v1.0h-13.25zM411.00 102.0h13.25v1.0h-13.25zM371.25 114.0h13.25v1.0h-13.25zM331.50 122.0h13.25v1.0h-13.25zM397.75 137.0h13.25v1.0h-13.25zM358.00 148.0h13.25v1.0h-13.25zM411.00 153.0h13.25v1.0h-13.25zM397.75 180.0h13.25v1.0h-13.25zM411.00 185.0h13.25v1.0h-13.25zM331.50 202.0h13.25v1.0h-13.25zM344.75 205.0h13.25v1.0h-13.25z" fill="#d8e6f0"/>
<path d="M411.00 27.0h13.25v1.0h-13.25zM411.00 76.0h13.25v1.0h-13.25zM331.50 88.0h13.25v1.0h-13.25zM358.00 91.0h13.25v1.0h-13.25zM358.00 102.0h13.25v1.0h-13.25zM411.00 129.0h13.25v1.0h-13.25zM437.50 134.0h13.25v1.0h-13.25zM371.25 144.0h13.25v1.0h-13.25zM344.75 241.0h13.25v1.0h-13.25z" fill="#e3ecf1"/>
<path d="M437.50 27.0h13.25v1.0h-13.25zM371.25 51.0h13.25v1.0h-13.25zM437.50 81.0h13.25v1.0h-13.25zM437.50 120.0h13.25v1.0h-13.25zM384.50 216.0h13.25v1.0h-13.25z" fill="#f8ca9f"/>
<path d="M318.25 28.0h13.25v1.0h-13.25zM411.00 29.0h13.25v1.0h-13.25zM437.50 36.0h13.25v1.0h-13.25zM384.50 64.0h13.25v1.0h-13.25zM397.75 75.0h13.25v1.0h-13.25zM331.50 91.0h13.25v1.0h-13.25zM384.50 93.0h13.25v1.0h-13.25zM411.00 101.0h13.25v1.0h-13.25zM411.00 113.0h13.25v1.0h-13.25zM305.00 121.0h13.25v1.0h-13.25zM397.75 156.0h13.25v1.0h-13.25zM411.00 168.0h13.25v1.0h-13.25zM358.00 214.0h13.25v1.0h-13.25z" fill="#cde0ee"/>
<path d="M331.50 28.0h13.25v1.0h-13.25zM331.50 32.0h13.25v1.0h-13.25zM371.25 69.0h13.25v1.0h-13.25zM305.00 81.0h13.25v1.0h-13.25zM397.75 85.0h13.25v1.0h-13.25zM371.25 106.0h13.25v1.0h-13.25zM331.50 116.0h13.25v1.0h-13.25zM318.25 123.0h13.25v1.0h-13.25zM397.75 149.0h13.25v1.0h-13.25zM358.00 160.0h13.25v1.0h-13.25zM318.25 172.0h13.25v1.0h-13.25zM371.25 218.0h13.25v1.0h-13.25z" fill="#b3cee7"/>
<path d="M344.75 28.0h13.25v1.0h-13.25zM331.50 144.0h13.25v1.0h-13.25zM344.75 173.0h13.25v1.0h-13.25z" fill="#f3a677"/>
<path d="M358.00 28.0h13.25v1.0h-13.25z" fill="#f3a577"/>
<path d="M371.25 28.0h13.25v1.0h-13.25zM437.50 75.0h13.25v1.0h-13.25z" fill="#ef9264"/>
<path d="M384.50 28.0h13.25v1.0h-13.25zM384.50 82.0h13.25v1.0h-13.25z" fill="#bfd7eb"/>
<path d="M397.75 28.0h13.25v1.0h-13.25zM358.00 82.0h13.25v1.0h-13.25zM331.50 119.0h13.25v1.0h-13.25zM358.00 140.0h13.25v1.0h-13.25zM331.50 180.0h13.25v1.0h-13.25zM344.75 196.0h13.25v1.0h-13.25zM331.50 200.0h13.25v1.0h-13.25zM371.25 222.0h13.25v1.0h-13.25zM358.00 240.0h13.25v1.0h-13.25z" fill="#b8d1e8"/>
<path d="M424.25 28.0h13.25v1.0h-13.25zM424.25 41.0h13.25v1.0h-13.25zM411.00 165.0h13.25v1.0h-13.25zM384.50 198.0h13.25v1.0h-13.25zM397.75 207.0h13.25v1.0h-13.25zM331.50 225.0h13.25v1.0h-13.25zM305.00 236.0h13.25v1.0h-13.25zM305.00 245.0h13.25v0.5h-13.25z" fill="#fadfbe"/>
<path d="M437.50 28.0h13.25v1.0h-13.25zM305.00 161.0h13.25v1.0h-13.25z" fill="#fadab4"/>
<path d="M318.25 29.0h13.25v1.0h-13.25zM437.50 188.0h13.25v1.0h-13.25z" fill="#c6dbed"/>
<path d="M331.50 29.0h13.25v1.0h-13.25zM384.50 56.0h13.25v1.0h-13.25zM331.50 87.0h13.25v1.0h-13.25zM331.50 92.0h13.25v1.0h-13.25zM331.50 101.0h13.25v1.0h-13.25zM358.00 101.0h13.25v1.0h-13.25zM344.75 107.0h13.25v1.0h-13.25zM344.75 109.0h13.25v1.0h-13.25zM331.50 110.0h13.25v1.0h-13.25zM358.00 131.0h13.25v1.0h-13.25zM397.75 151.0h13.25v1.0h-13.25zM305.00 175.0h13.25v1.0h-13.25zM331.50 198.0h13.25v1.0h-13.25zM371.25 202.0h13.25v1.0h-13.25z" fill="#dbe8f0"/>
<path d="M344.75 29.0h13.25v1.0h-13.25z" fill="#f7c195"/>
<path d="M358.00 29.0h13.25v1.0h-13.25zM371.25 58.0h13.25v1.0h-13.25zM437.50 107.0h13.25v1.0h-13.25z" fill="#f2a273"/>
<path d="M371.25 29.0h13.25v1.0h-13.25z" fill="#e8764e"/>
<path d="M384.50 29.0h13.25v1.0h-13.25zM384.50 52.0h13.25v1.0h-13.25zM384.50 57.0h13.25v1.0h-13.25zM411.00 82.0h13.25v1.0h-13.25zM397.75 91.0h13.25v1.0h-13.25zM371.25 107.0h13.25v1.0h-13.25zM397.75 112.0h13.25v1.0h-13.25zM397.75 127.0h13.25v1.0h-13.25zM344.75 131.0h13.25v1.0h-13.25zM371.25 139.0h13.25v1.0h-13.25zM437.50 141.0h13.25v1.0h-13.25zM384.50 147.0h13.25v1.0h-13.25zM305.00 148.0h13.25v1.0h-13.25zM397.75 184.0h13.25v1.0h-13.25z" fill="#b9d2e9"/>
<path d="M437.50 29.0h13.25v1.0h-13.25zM371.25 49.0h13.25v1.0h-13.25zM437.50 110.0h13.25v1.0h-13.25zM331.50 215.0h13.25v1.0h-13.25z" fill="#f9d5ab"/>
<path d="M305.00 30.0h13.25v1.0h-13.25zM331.50 56.0h13.25v1.0h-13.25zM371.25 81.0h13.25v1.0h-13.25zM384.50 84.0h13.25v1.0h-13.25zM384.50 90.0h13.25v1.0h-13.25zM411.00 98.0h13.25v1.0h-13.25zM305.00 102.0h13.25v1.0h-13.25zM371.25 122.0h13.25v1.0h-13.25zM397.75 133.0h13.25v1.0h-13.25zM384.50 148.0h13.25v1.0h-13.25zM411.00 157.0h13.25v1.0h-13.25zM371.25 233.0h13.25v1.0h-13.25z" fill="#c6dbec"/>
<path d="M344.75 30.0h13.25v1.0h-13.25zM424.25 69.0h13.25v1.0h-13.25zM437.50 85.0h13.25v1.0h-13.25zM437.50 111.0h13.25v1.0h-13.25z" fill="#f6bd90"/>
<path d="M358.00 30.0h13.25v1.0h-13.25zM331.50 164.0h13.25v1.0h-13.25zM305.00 233.0h13.25v1.0h-13.25z" fill="#f8c99e"/>
<path d="M371.25 30.0h13.25v1.0h-13.25zM344.75 192.0h13.25v1.0h-13.25z" fill="#e26242"/>
<path d="M384.50 30.0h13.25v1.0h-13.25zM305.00 31.0h13.25v1.0h-13.25zM411.00 49.0h13.25v1.0h-13.25zM344.75 78.0h13.25v1.0h-13.25zM344.75 100.0h13.25v1.0h-13.25zM318.25 132.0h13.25v1.0h-13.25zM384.50 141.0h13.25v1.0h-13.25zM384.50 175.0h13.25v1.0h-13.25zM384.50 200.0h13.25v1.0h-13.25zM411.00 244.0h13.25v1.0h-13.25z" fill="#eef3f2"/>
<path d="M397.75 30.0h13.25v1.0h-13.25zM371.25 88.0h13.25v1.0h-13.25zM344.75 141.0h13.25v1.0h-13.25zM424.25 156.0h13.25v1.0h-13.25zM411.00 176.0h13.25v1.0h-13.25zM344.75 243.0h13.25v1.0h-13.25z" fill="#c2d8eb"/>
<path d="M424.25 30.0h13.25v1.0h-13.25zM437.50 30.0h13.25v1.0h-13.25zM437.50 114.0h13.25v1.0h-13.25zM305.00 208.0h13.25v1.0h-13.25zM384.50 211.0h13.25v1.0h-13.25zM305.00 214.0h13.25v1.0h-13.25zM305.00 219.0h13.25v1.0h-13.25z" fill="#f8cea3"/>
<path d="M318.25 31.0h13.25v1.0h-13.25zM384.50 66.0h13.25v1.0h-13.25zM305.00 80.0h13.25v1.0h-13.25zM305.00 91.0h13.25v1.0h-13.25zM411.00 121.0h13.25v1.0h-13.25zM397.75 128.0h13.25v1.0h-13.25zM384.50 162.0h13.25v1.0h-13.25zM331.50 177.0h13.25v1.0h-13.25zM397.75 191.0h13.25v1.0h-13.25z" fill="#e4edf1"/>
<path d="M344.75 31.0h13.25v1.0h-13.25z" fill="#f3a87a"/>
<path d="M358.00 31.0h13.25v1.0h-13.25zM437.50 90.0h13.25v1.0h-13.25zM318.25 156.0h13.25v1.0h-13.25zM411.00 199.0h13.25v1.0h-13.25z" fill="#ec8658"/>
<path d="M371.25 31.0h13.25v1.0h-13.25zM318.25 147.0h13.25v1.0h-13.25zM397.75 173.0h13.25v1.0h-13.25z" fill="#e15f40"/>
<path d="M397.75 31.0h13.25v1.0h-13.25zM411.00 91.0h13.25v1.0h-13.25zM411.00 224.0h13.25v1.0h-13.25z" fill="#e7eef2"/>
<path d="M411.00 31.0h13.25v1.0h-13.25zM318.25 167.0h13.25v1.0h-13.25z" fill="#fbe7cc"/>
<path d="M424.25 31.0h13.25v1.0h-13.25zM371.25 56.0h13.25v1.0h-13.25zM437.50 103.0h13.25v1.0h-13.25zM331.50 162.0h13.25v1.0h-13.25z" fill="#f4a97a"/>
<path d="M437.50 31.0h13.25v1.0h-13.25zM331.50 217.0h13.25v1.0h-13.25z" fill="#f6b98b"/>
<path d="M305.00 32.0h13.25v1.0h-13.25zM318.25 39.0h13.25v1.0h-13.25zM397.75 45.0h13.25v1.0h-13.25zM424.25 58.0h13.25v1.0h-13.25zM318.25 86.0h13.25v1.0h-13.25zM344.75 154.0h13.25v1.0h-13.25zM318.25 189.0h13.25v1.0h-13.25z" fill="#94b8dd"/>
<path d="M358.00 32.0h13.25v1.0h-13.25zM305.00 130.0h13.25v1.0h-13.25zM305.00 136.0h13.25v1.0h-13.25zM397.75 214.0h13.25v1.0h-13.25zM331.50 227.0h13.25v1.0h-13.25z" fill="#f9d7ae"/>
<path d="M371.25 32.0h13.25v1.0h-13.25zM437.50 117.0h13.25v1.0h-13.25zM344.75 182.0h13.25v1.0h-13.25z" fill="#f2a274"/>
<path d="M384.50 32.0h13.25v1.0h-13.25zM331.50 42.0h13.25v1.0h-13.25zM331.50 52.0h13.25v1.0h-13.25zM305.00 55.0h13.25v1.0h-13.25zM397.75 61.0h13.25v1.0h-13.25zM397.75 110.0h13.25v1.0h-13.25zM331.50 113.0h13.25v1.0h-13.25zM371.25 116.0h13.25v1.0h-13.25zM397.75 117.0h13.25v1.0h-13.25zM344.75 138.0h13.25v1.0h-13.25zM358.00 151.0h13.25v1.0h-13.25zM397.75 181.0h13.25v1.0h-13.25zM437.50 191.0h13.25v1.0h-13.25zM411.00 203.0h13.25v1.0h-13.25z" fill="#9bbee0"/>
<path d="M397.75 32.0h13.25v1.0h-13.25zM305.00 41.0h13.25v1.0h-13.25zM305.00 42.0h13.25v1.0h-13.25zM358.00 73.0h13.25v1.0h-13.25zM331.50 106.0h13.25v1.0h-13.25zM424.25 151.0h13.25v1.0h-13.25zM318.25 176.0h13.25v1.0h-13.25z" fill="#90b5dc"/>
<path d="M411.00 32.0h13.25v1.0h-13.25zM358.00 67.0h13.25v1.0h-13.25zM384.50 137.0h13.25v1.0h-13.25zM344.75 216.0h13.25v1.0h-13.25z" fill="#cee1ef"/>
<path d="M424.25 32.0h13.25v1.0h-13.25zM344.75 52.0h13.25v1.0h-13.25zM424.25 73.0h13.25v1.0h-13.25zM437.50 124.0h13.25v1.0h-13.25zM437.50 126.0h13.25v1.0h-13.25zM331.50 216.0h13.25v1.0h-13.25zM305.00 242.0h13.25v1.0h-13.25z" fill="#fadfbd"/>
<path d="M437.50 32.0h13.25v1.0h-13.25zM331.50 142.0h13.25v1.0h-13.25zM397.75 142.0h13.25v1.0h-13.25zM384.50 144.0h13.25v1.0h-13.25zM358.00 179.0h13.25v1.0h-13.25zM371.25 187.0h13.25v1.0h-13.25z" fill="#fbe5c9"/>
<path d="M305.00 33.0h13.25v1.0h-13.25zM318.25 201.0h13.25v1.0h-13.25zM437.50 210.0h13.25v1.0h-13.25zM344.75 223.0h13.25v1.0h-13.25z" fill="#88afd9"/>
<path d="M318.25 33.0h13.25v1.0h-13.25zM437.50 202.0h13.25v1.0h-13.25zM318.25 234.0h13.25v1.0h-13.25z" fill="#719dcf"/>
<path d="M331.50 33.0h13.25v1.0h-13.25zM411.00 59.0h13.25v1.0h-13.25zM397.75 73.0h13.25v1.0h-13.25zM397.75 119.0h13.25v1.0h-13.25zM371.25 129.0h13.25v1.0h-13.25zM358.00 169.0h13.25v1.0h-13.25zM344.75 211.0h13.25v1.0h-13.25zM358.00 229.0h13.25v1.0h-13.25z" fill="#bed5ea"/>
<path d="M344.75 33.0h13.25v1.0h-13.25zM344.75 55.0h13.25v1.0h-13.25zM411.00 171.0h13.25v1.0h-13.25zM305.00 211.0h13.25v1.0h-13.25zM384.50 212.0h13.25v1.0h-13.25zM305.00 230.0h13.25v1.0h-13.25zM331.50 240.0h13.25v1.0h-13.25z" fill="#f9d7af"/>
<path d="M358.00 33.0h13.25v1.0h-13.25zM344.75 56.0h13.25v1.0h-13.25zM344.75 58.0h13.25v1.0h-13.25zM424.25 64.0h13.25v1.0h-13.25zM371.25 180.0h13.25v1.0h-13.25zM305.00 223.0h13.25v1.0h-13.25zM384.50 225.0h13.25v1.0h-13.25z" fill="#fae0c0"/>
<path d="M371.25 33.0h13.25v1.0h-13.25z" fill="#f6bc8f"/>
<path d="M384.50 33.0h13.25v1.0h-13.25zM437.50 51.0h13.25v1.0h-13.25zM344.75 168.0h13.25v1.0h-13.25zM437.50 232.0h13.25v1.0h-13.25zM424.25 236.0h13.25v1.0h-13.25zM424.25 245.0h13.25v0.5h-13.25z" fill="#7aa4d3"/>
<path d="M397.75 33.0h13.25v1.0h-13.25zM331.50 39.0h13.25v1.0h-13.25zM318.25 55.0h13.25v1.0h-13.25zM318.25 138.0h13.25v1.0h-13.25zM437.50 183.0h13.25v1.0h-13.25zM318.25 196.0h13.25v1.0h-13.25z" fill="#86aed8"/>
<path d="M411.00 33.0h13.25v1.0h-13.25zM371.25 93.0h13.25v1.0h-13.25zM384.50 101.0h13.25v1.0h-13.25zM397.75 102.0h13.25v1.0h-13.25zM344.75 125.0h13.25v1.0h-13.25zM344.75 149.0h13.25v1.0h-13.25zM397.75 150.0h13.25v1.0h-13.25zM397.75 152.0h13.25v1.0h-13.25zM344.75 161.0h13.25v1.0h-13.25z" fill="#c1d8eb"/>
<path d="M437.50 33.0h13.25v1.0h-13.25zM358.00 50.0h13.25v1.0h-13.25zM344.75 59.0h13.25v1.0h-13.25zM437.50 74.0h13.25v1.0h-13.25zM344.75 77.0h13.25v1.0h-13.25zM424.25 129.0h13.25v1.0h-13.25z" fill="#f8eddc"/>
<path d="M305.00 34.0h13.25v1.0h-13.25z" fill="#618ec8"/>
<path d="M318.25 34.0h13.25v1.0h-13.25zM331.50 51.0h13.25v1.0h-13.25zM358.00 61.0h13.25v1.0h-13.25zM397.75 105.0h13.25v1.0h-13.25zM437.50 176.0h13.25v1.0h-13.25zM424.25 238.0h13.25v1.0h-13.25z" fill="#87aed8"/>
<path d="M331.50 34.0h13.25v1.0h-13.25zM424.25 55.0h13.25v1.0h-13.25zM305.00 117.0h13.25v1.0h-13.25zM384.50 129.0h13.25v1.0h-13.25zM437.50 148.0h13.25v1.0h-13.25zM305.00 185.0h13.25v1.0h-13.25zM424.25 191.0h13.25v1.0h-13.25zM424.25 231.0h13.25v1.0h-13.25zM358.00 244.0h13.25v1.0h-13.25z" fill="#a3c3e2"/>
<path d="M358.00 34.0h13.25v1.0h-13.25zM344.75 38.0h13.25v1.0h-13.25zM411.00 170.0h13.25v1.0h-13.25zM358.00 176.0h13.25v1.0h-13.25zM384.50 199.0h13.25v1.0h-13.25z" fill="#fbe5ca"/>
<path d="M384.50 34.0h13.25v1.0h-13.25zM371.25 71.0h13.25v1.0h-13.25zM318.25 79.0h13.25v1.0h-13.25zM331.50 117.0h13.25v1.0h-13.25zM344.75 134.0h13.25v1.0h-13.25z" fill="#aecbe5"/>
<path d="M397.75 34.0h13.25v1.0h-13.25zM305.00 59.0h13.25v1.0h-13.25zM318.25 110.0h13.25v1.0h-13.25zM437.50 138.0h13.25v1.0h-13.25zM318.25 192.0h13.25v1.0h-13.25zM424.25 193.0h13.25v1.0h-13.25zM437.50 199.0h13.25v1.0h-13.25zM318.25 211.0h13.25v1.0h-13.25z" fill="#8ab1d9"/>
<path d="M305.00 35.0h13.25v1.0h-13.25zM318.25 57.0h13.25v1.0h-13.25zM318.25 62.0h13.25v1.0h-13.25zM424.25 214.0h13.25v1.0h-13.25z" fill="#6290c8"/>
<path d="M318.25 35.0h13.25v1.0h-13.25zM424.25 49.0h13.25v1.0h-13.25zM318.25 112.0h13.25v1.0h-13.25zM331.50 114.0h13.25v1.0h-13.25zM384.50 181.0h13.25v1.0h-13.25zM424.25 190.0h13.25v1.0h-13.25zM344.75 201.0h13.25v1.0h-13.25z" fill="#91b6dc"/>
<path d="M331.50 35.0h13.25v1.0h-13.25zM397.75 48.0h13.25v1.0h-13.25zM305.00 105.0h13.25v1.0h-13.25zM397.75 116.0h13.25v1.0h-13.25zM371.25 149.0h13.25v1.0h-13.25zM318.25 230.0h13.25v1.0h-13.25zM318.25 239.0h13.25v1.0h-13.25z" fill="#7ea7d5"/>
<path d="M344.75 35.0h13.25v1.0h-13.25zM437.50 61.0h13.25v1.0h-13.25zM371.25 65.0h13.25v1.0h-13.25zM331.50 98.0h13.25v1.0h-13.25zM384.50 166.0h13.25v1.0h-13.25zM358.00 195.0h13.25v1.0h-13.25zM331.50 205.0h13.25v1.0h-13.25zM358.00 209.0h13.25v1.0h-13.25z" fill="#f6f3eb"/>
<path d="M358.00 35.0h13.25v1.0h-13.25zM371.25 41.0h13.25v1.0h-13.25zM305.00 209.0h13.25v1.0h-13.25z" fill="#f9d8b0"/>
<path d="M384.50 35.0h13.25v1.0h-13.25zM437.50 147.0h13.25v1.0h-13.25z" fill="#87afd8"/>
<path d="M397.75 35.0h13.25v1.0h-13.25z" fill="#6e9bcf"/>
<path d="M424.25 35.0h13.25v1.0h-13.25zM344.75 44.0h13.25v1.0h-13.25zM305.00 60.0h13.25v1.0h-13.25zM424.25 61.0h13.25v1.0h-13.25zM437.50 127.0h13.25v1.0h-13.25zM424.25 128.0h13.25v1.0h-13.25zM397.75 162.0h13.25v1.0h-13.25zM305.00 166.0h13.25v1.0h-13.25zM371.25 176.0h13.25v1.0h-13.25zM305.00 220.0h13.25v1.0h-13.25zM331.50 236.0h13.25v1.0h-13.25zM305.00 239.0h13.25v1.0h-13.25z" fill="#fae2c4"/>
<path d="M305.00 36.0h13.25v1.0h-13.25zM437.50 207.0h13.25v1.0h-13.25zM437.50 234.0h13.25v1.0h-13.25z" fill="#6492ca"/>
<path d="M318.25 36.0h13.25v1.0h-13.25zM318.25 60.0h13.25v1.0h-13.25zM318.25 69.0h13.25v1.0h-13.25zM424.25 169.0h13.25v1.0h-13.25zM437.50 206.0h13.25v1.0h-13.25z" fill="#709ccf"/>
<path d="M331.50 36.0h13.25v1.0h-13.25zM318.25 38.0h13.25v1.0h-13.25zM318.25 45.0h13.25v1.0h-13.25zM318.25 65.0h13.25v1.0h-13.25zM318.25 66.0h13.25v1.0h-13.25zM318.25 118.0h13.25v1.0h-13.25z" fill="#78a3d2"/>
<path d="M344.75 36.0h13.25v1.0h-13.25zM424.25 122.0h13.25v1.0h-13.25zM331.50 151.0h13.25v1.0h-13.25zM397.75 165.0h13.25v1.0h-13.25zM358.00 173.0h13.25v1.0h-13.25zM397.75 199.0h13.25v1.0h-13.25zM305.00 238.0h13.25v1.0h-13.25zM331.50 243.0h13.25v1.0h-13.25z" fill="#fbe6cb"/>
<path d="M358.00 36.0h13.25v1.0h-13.25zM371.25 40.0h13.25v1.0h-13.25zM331.50 65.0h13.25v1.0h-13.25zM384.50 206.0h13.25v1.0h-13.25z" fill="#fae3c6"/>
<path d="M384.50 36.0h13.25v1.0h-13.25zM305.00 38.0h13.25v1.0h-13.25zM318.25 49.0h13.25v1.0h-13.25zM397.75 57.0h13.25v1.0h-13.25zM331.50 59.0h13.25v1.0h-13.25z" fill="#7da6d4"/>
<path d="M397.75 36.0h13.25v1.0h-13.25zM305.00 49.0h13.25v1.0h-13.25zM424.25 229.0h13.25v1.0h-13.25z" fill="#6c99ce"/>
<path d="M411.00 36.0h13.25v1.0h-13.25zM344.75 73.0h13.25v1.0h-13.25zM318.25 75.0h13.25v1.0h-13.25zM305.00 96.0h13.25v1.0h-13.25zM384.50 110.0h13.25v1.0h-13.25zM318.25 121.0h13.25v1.0h-13.25zM344.75 137.0h13.25v1.0h-13.25zM384.50 158.0h13.25v1.0h-13.25zM344.75 163.0h13.25v1.0h-13.25zM318.25 200.0h13.25v1.0h-13.25zM305.00 202.0h13.25v1.0h-13.25zM344.75 220.0h13.25v1.0h-13.25z" fill="#a4c4e3"/>
<path d="M424.25 36.0h13.25v1.0h-13.25zM358.00 51.0h13.25v1.0h-13.25zM437.50 122.0h13.25v1.0h-13.25zM411.00 162.0h13.25v1.0h-13.25zM411.00 169.0h13.25v1.0h-13.25z" fill="#f9ecda"/>
<path d="M305.00 37.0h13.25v1.0h-13.25zM331.50 49.0h13.25v1.0h-13.25zM424.25 164.0h13.25v1.0h-13.25zM318.25 180.0h13.25v1.0h-13.25zM437.50 216.0h13.25v1.0h-13.25zM318.25 235.0h13.25v1.0h-13.25z" fill="#6694cb"/>
<path d="M318.25 37.0h13.25v1.0h-13.25zM318.25 116.0h13.25v1.0h-13.25zM437.50 159.0h13.25v1.0h-13.25zM424.25 166.0h13.25v1.0h-13.25zM424.25 208.0h13.25v1.0h-13.25z" fill="#75a0d1"/>
<path d="M331.50 37.0h13.25v1.0h-13.25zM344.75 143.0h13.25v1.0h-13.25zM437.50 211.0h13.25v1.0h-13.25z" fill="#79a3d3"/>
<path d="M371.25 37.0h13.25v1.0h-13.25zM358.00 52.0h13.25v1.0h-13.25zM437.50 70.0h13.25v1.0h-13.25zM344.75 89.0h13.25v1.0h-13.25zM358.00 95.0h13.25v1.0h-13.25zM411.00 163.0h13.25v1.0h-13.25zM371.25 195.0h13.25v1.0h-13.25zM411.00 217.0h13.25v1.0h-13.25zM331.50 224.0h13.25v1.0h-13.25z" fill="#f8efe0"/>
<path d="M397.75 37.0h13.25v1.0h-13.25z" fill="#5c8ac5"/>
<path d="M411.00 37.0h13.25v1.0h-13.25zM384.50 42.0h13.25v1.0h-13.25zM331.50 83.0h13.25v1.0h-13.25zM437.50 180.0h13.25v1.0h-13.25zM305.00 181.0h13.25v1.0h-13.25zM424.25 199.0h13.25v1.0h-13.25z" fill="#7da7d4"/>
<path d="M424.25 37.0h13.25v1.0h-13.25zM318.25 77.0h13.25v1.0h-13.25zM331.50 90.0h13.25v1.0h-13.25zM397.75 111.0h13.25v1.0h-13.25zM371.25 117.0h13.25v1.0h-13.25zM371.25 124.0h13.25v1.0h-13.25zM358.00 133.0h13.25v1.0h-13.25zM371.25 137.0h13.25v1.0h-13.25zM358.00 203.0h13.25v1.0h-13.25zM358.00 215.0h13.25v1.0h-13.25z" fill="#cfe1ef"/>
<path d="M331.50 38.0h13.25v1.0h-13.25zM331.50 43.0h13.25v1.0h-13.25zM424.25 46.0h13.25v1.0h-13.25zM411.00 61.0h13.25v1.0h-13.25zM318.25 91.0h13.25v1.0h-13.25zM318.25 101.0h13.25v1.0h-13.25zM331.50 103.0h13.25v1.0h-13.25zM358.00 104.0h13.25v1.0h-13.25zM305.00 114.0h13.25v1.0h-13.25zM437.50 143.0h13.25v1.0h-13.25zM384.50 154.0h13.25v1.0h-13.25z" fill="#a2c3e2"/>
<path d="M358.00 38.0h13.25v1.0h-13.25zM424.25 62.0h13.25v1.0h-13.25zM358.00 172.0h13.25v1.0h-13.25zM358.00 182.0h13.25v1.0h-13.25zM371.25 191.0h13.25v1.0h-13.25zM397.75 232.0h13.25v1.0h-13.25zM305.00 244.0h13.25v1.0h-13.25z" fill="#fbe8d0"/>
<path d="M371.25 38.0h13.25v1.0h-13.25zM358.00 58.0h13.25v1.0h-13.25zM331.50 68.0h13.25v1.0h-13.25zM397.75 141.0h13.25v1.0h-13.25zM305.00 162.0h13.25v1.0h-13.25zM384.50 207.0h13.25v1.0h-13.25zM384.50 220.0h13.25v1.0h-13.25zM384.50 221.0h13.25v1.0h-13.25zM305.00 232.0h13.25v1.0h-13.25zM411.00 239.0h13.25v1.0h-13.25z" fill="#faddba"/>
<path d="M384.50 38.0h13.25v1.0h-13.25zM305.00 44.0h13.25v1.0h-13.25zM318.25 97.0h13.25v1.0h-13.25z" fill="#6b99cd"/>
<path d="M397.75 38.0h13.25v1.0h-13.25zM437.50 242.0h13.25v1.0h-13.25zM437.50 244.0h13.25v1.0h-13.25z" fill="#5987c3"/>
<path d="M411.00 38.0h13.25v1.0h-13.25zM437.50 59.0h13.25v1.0h-13.25zM371.25 74.0h13.25v1.0h-13.25zM331.50 81.0h13.25v1.0h-13.25zM331.50 102.0h13.25v1.0h-13.25zM305.00 104.0h13.25v1.0h-13.25zM305.00 120.0h13.25v1.0h-13.25zM371.25 150.0h13.25v1.0h-13.25zM437.50 156.0h13.25v1.0h-13.25zM371.25 158.0h13.25v1.0h-13.25zM437.50 177.0h13.25v1.0h-13.25zM424.25 196.0h13.25v1.0h-13.25z" fill="#a7c6e3"/>
<path d="M424.25 38.0h13.25v1.0h-13.25zM331.50 125.0h13.25v1.0h-13.25zM437.50 133.0h13.25v1.0h-13.25zM384.50 194.0h13.25v1.0h-13.25zM358.00 208.0h13.25v1.0h-13.25zM371.25 239.0h13.25v1.0h-13.25z" fill="#e5eef1"/>
<path d="M437.50 38.0h13.25v1.0h-13.25z" fill="#eff3f3"/>
<path d="M305.00 39.0h13.25v1.0h-13.25zM305.00 58.0h13.25v1.0h-13.25zM411.00 74.0h13.25v1.0h-13.25z" fill="#9dc0e1"/>
<path d="M344.75 39.0h13.25v1.0h-13.25zM371.25 53.0h13.25v1.0h-13.25zM371.25 98.0h13.25v1.0h-13.25zM437.50 128.0h13.25v1.0h-13.25zM305.00 170.0h13.25v1.0h-13.25z" fill="#f9d9b3"/>
<path d="M358.00 39.0h13.25v1.0h-13.25zM305.00 69.0h13.25v1.0h-13.25zM424.25 74.0h13.25v1.0h-13.25zM384.50 223.0h13.25v1.0h-13.25zM397.75 242.0h13.25v1.0h-13.25z" fill="#fae9d2"/>
<path d="M371.25 39.0h13.25v1.0h-13.25zM358.00 98.0h13.25v1.0h-13.25zM397.75 171.0h13.25v1.0h-13.25zM411.00 230.0h13.25v1.0h-13.25z" fill="#fae1c1"/>
<path d="M384.50 39.0h13.25v1.0h-13.25zM397.75 50.0h13.25v1.0h-13.25zM331.50 58.0h13.25v1.0h-13.25zM318.25 59.0h13.25v1.0h-13.25zM437.50 195.0h13.25v1.0h-13.25zM424.25 205.0h13.25v1.0h-13.25zM424.25 222.0h13.25v1.0h-13.25z" fill="#7ba5d3"/>
<path d="M397.75 39.0h13.25v1.0h-13.25zM358.00 60.0h13.25v1.0h-13.25zM437.50 157.0h13.25v1.0h-13.25zM358.00 206.0h13.25v1.0h-13.25z" fill="#7ba5d4"/>
<path d="M437.50 39.0h13.25v1.0h-13.25zM411.00 62.0h13.25v1.0h-13.25zM397.75 96.0h13.25v1.0h-13.25zM331.50 172.0h13.25v1.0h-13.25zM397.75 195.0h13.25v1.0h-13.25z" fill="#e5edf1"/>
<path d="M305.00 40.0h13.25v1.0h-13.25zM437.50 240.0h13.25v1.0h-13.25z" fill="#6a97cd"/>
<path d="M331.50 40.0h13.25v1.0h-13.25zM344.75 60.0h13.25v1.0h-13.25zM397.75 60.0h13.25v1.0h-13.25zM344.75 118.0h13.25v1.0h-13.25zM318.25 175.0h13.25v1.0h-13.25z" fill="#92b7dc"/>
<path d="M344.75 40.0h13.25v1.0h-13.25zM384.50 77.0h13.25v1.0h-13.25zM331.50 126.0h13.25v1.0h-13.25zM411.00 172.0h13.25v1.0h-13.25zM358.00 177.0h13.25v1.0h-13.25zM331.50 229.0h13.25v1.0h-13.25z" fill="#faead3"/>
<path d="M358.00 40.0h13.25v1.0h-13.25zM371.25 193.0h13.25v1.0h-13.25zM411.00 225.0h13.25v1.0h-13.25z" fill="#faead5"/>
<path d="M384.50 40.0h13.25v1.0h-13.25zM424.25 57.0h13.25v1.0h-13.25zM397.75 115.0h13.25v1.0h-13.25zM358.00 149.0h13.25v1.0h-13.25zM371.25 216.0h13.25v1.0h-13.25zM371.25 224.0h13.25v1.0h-13.25z" fill="#89b0d9"/>
<path d="M397.75 40.0h13.25v1.0h-13.25z" fill="#6a98cd"/>
<path d="M411.00 40.0h13.25v1.0h-13.25zM344.75 106.0h13.25v1.0h-13.25zM344.75 145.0h13.25v1.0h-13.25zM371.25 152.0h13.25v1.0h-13.25zM397.75 159.0h13.25v1.0h-13.25zM358.00 200.0h13.25v1.0h-13.25zM411.00 206.0h13.25v1.0h-13.25z" fill="#a9c8e4"/>
<path d="M424.25 40.0h13.25v1.0h-13.25zM344.75 95.0h13.25v1.0h-13.25zM358.00 96.0h13.25v1.0h-13.25zM371.25 110.0h13.25v1.0h-13.25zM397.75 164.0h13.25v1.0h-13.25zM331.50 174.0h13.25v1.0h-13.25z" fill="#f6f2ea"/>
<path d="M437.50 40.0h13.25v1.0h-13.25zM344.75 48.0h13.25v1.0h-13.25zM305.00 86.0h13.25v1.0h-13.25zM331.50 127.0h13.25v1.0h-13.25zM397.75 143.0h13.25v1.0h-13.25z" fill="#f8eede"/>
<path d="M318.25 41.0h13.25v1.0h-13.25zM358.00 166.0h13.25v1.0h-13.25zM344.75 167.0h13.25v1.0h-13.25zM331.50 178.0h13.25v1.0h-13.25z" fill="#a0c2e2"/>
<path d="M344.75 41.0h13.25v1.0h-13.25zM305.00 165.0h13.25v1.0h-13.25zM371.25 172.0h13.25v1.0h-13.25zM371.25 175.0h13.25v1.0h-13.25zM331.50 218.0h13.25v1.0h-13.25zM384.50 228.0h13.25v1.0h-13.25zM384.50 229.0h13.25v1.0h-13.25z" fill="#f9d8b1"/>
<path d="M358.00 41.0h13.25v1.0h-13.25zM424.25 123.0h13.25v1.0h-13.25zM397.75 205.0h13.25v1.0h-13.25zM384.50 241.0h13.25v1.0h-13.25z" fill="#fadebd"/>
<path d="M384.50 41.0h13.25v1.0h-13.25zM384.50 63.0h13.25v1.0h-13.25zM318.25 85.0h13.25v1.0h-13.25zM358.00 158.0h13.25v1.0h-13.25zM318.25 185.0h13.25v1.0h-13.25z" fill="#8bb2da"/>
<path d="M397.75 41.0h13.25v1.0h-13.25zM344.75 158.0h13.25v1.0h-13.25z" fill="#82aad6"/>
<path d="M437.50 41.0h13.25v1.0h-13.25zM371.25 95.0h13.25v1.0h-13.25zM411.00 155.0h13.25v1.0h-13.25zM397.75 224.0h13.25v1.0h-13.25z" fill="#fbe4c7"/>
<path d="M318.25 42.0h13.25v1.0h-13.25z" fill="#99bcdf"/>
<path d="M344.75 42.0h13.25v1.0h-13.25zM437.50 105.0h13.25v1.0h-13.25zM305.00 132.0h13.25v1.0h-13.25z" fill="#faddb9"/>
<path d="M371.25 42.0h13.25v1.0h-13.25zM371.25 48.0h13.25v1.0h-13.25zM358.00 184.0h13.25v1.0h-13.25zM411.00 190.0h13.25v1.0h-13.25zM344.75 193.0h13.25v1.0h-13.25zM305.00 224.0h13.25v1.0h-13.25zM305.00 240.0h13.25v1.0h-13.25zM331.50 244.0h13.25v1.0h-13.25z" fill="#fae3c5"/>
<path d="M397.75 42.0h13.25v1.0h-13.25zM318.25 52.0h13.25v1.0h-13.25zM318.25 87.0h13.25v1.0h-13.25zM318.25 106.0h13.25v1.0h-13.25zM424.25 187.0h13.25v1.0h-13.25zM424.25 220.0h13.25v1.0h-13.25z" fill="#729ed0"/>
<path d="M411.00 42.0h13.25v1.0h-13.25zM411.00 57.0h13.25v1.0h-13.25zM305.00 83.0h13.25v1.0h-13.25zM397.75 84.0h13.25v1.0h-13.25zM411.00 107.0h13.25v1.0h-13.25zM358.00 118.0h13.25v1.0h-13.25zM331.50 120.0h13.25v1.0h-13.25zM371.25 151.0h13.25v1.0h-13.25zM305.00 179.0h13.25v1.0h-13.25zM397.75 186.0h13.25v1.0h-13.25zM371.25 197.0h13.25v1.0h-13.25zM358.00 224.0h13.25v1.0h-13.25zM344.75 228.0h13.25v1.0h-13.25zM358.00 238.0h13.25v1.0h-13.25z" fill="#bdd5ea"/>
<path d="M424.25 42.0h13.25v1.0h-13.25zM358.00 57.0h13.25v1.0h-13.25zM411.00 236.0h13.25v1.0h-13.25zM384.50 240.0h13.25v1.0h-13.25z" fill="#faddbb"/>
<path d="M305.00 43.0h13.25v1.0h-13.25zM384.50 49.0h13.25v1.0h-13.25zM437.50 50.0h13.25v1.0h-13.25zM358.00 138.0h13.25v1.0h-13.25zM371.25 206.0h13.25v1.0h-13.25z" fill="#8bb1da"/>
<path d="M318.25 43.0h13.25v1.0h-13.25zM424.25 54.0h13.25v1.0h-13.25zM424.25 176.0h13.25v1.0h-13.25zM318.25 191.0h13.25v1.0h-13.25zM318.25 216.0h13.25v1.0h-13.25zM318.25 236.0h13.25v1.0h-13.25z" fill="#86add8"/>
<path d="M344.75 43.0h13.25v1.0h-13.25zM371.25 173.0h13.25v1.0h-13.25z" fill="#f9d2a8"/>
<path d="M384.50 43.0h13.25v1.0h-13.25z" fill="#eb8053"/>
<path d="M397.75 43.0h13.25v1.0h-13.25zM397.75 56.0h13.25v1.0h-13.25zM397.75 69.0h13.25v1.0h-13.25zM384.50 120.0h13.25v1.0h-13.25zM371.25 130.0h13.25v1.0h-13.25zM358.00 197.0h13.25v1.0h-13.25zM371.25 211.0h13.25v1.0h-13.25zM344.75 213.0h13.25v1.0h-13.25z" fill="#acc9e5"/>
<path d="M424.25 43.0h13.25v1.0h-13.25zM305.00 56.0h13.25v1.0h-13.25zM397.75 64.0h13.25v1.0h-13.25zM318.25 94.0h13.25v1.0h-13.25zM344.75 123.0h13.25v1.0h-13.25zM305.00 147.0h13.25v1.0h-13.25zM318.25 190.0h13.25v1.0h-13.25z" fill="#99bddf"/>
<path d="M437.50 43.0h13.25v1.0h-13.25zM331.50 105.0h13.25v1.0h-13.25zM424.25 204.0h13.25v1.0h-13.25z" fill="#76a1d2"/>
<path d="M318.25 44.0h13.25v1.0h-13.25zM424.25 186.0h13.25v1.0h-13.25z" fill="#6290c9"/>
<path d="M331.50 44.0h13.25v1.0h-13.25zM318.25 80.0h13.25v1.0h-13.25zM318.25 109.0h13.25v1.0h-13.25zM397.75 114.0h13.25v1.0h-13.25zM344.75 117.0h13.25v1.0h-13.25zM305.00 127.0h13.25v1.0h-13.25zM371.25 132.0h13.25v1.0h-13.25zM424.25 140.0h13.25v1.0h-13.25zM371.25 147.0h13.25v1.0h-13.25z" fill="#9fc1e1"/>
<path d="M358.00 44.0h13.25v1.0h-13.25zM411.00 72.0h13.25v1.0h-13.25zM411.00 89.0h13.25v1.0h-13.25zM371.25 96.0h13.25v1.0h-13.25zM344.75 97.0h13.25v1.0h-13.25zM371.25 99.0h13.25v1.0h-13.25zM371.25 101.0h13.25v1.0h-13.25zM397.75 122.0h13.25v1.0h-13.25zM384.50 139.0h13.25v1.0h-13.25zM331.50 149.0h13.25v1.0h-13.25zM411.00 187.0h13.25v1.0h-13.25zM384.50 197.0h13.25v1.0h-13.25zM397.75 203.0h13.25v1.0h-13.25zM411.00 209.0h13.25v1.0h-13.25z" fill="#f8eedf"/>
<path d="M384.50 44.0h13.25v1.0h-13.25zM384.50 47.0h13.25v1.0h-13.25zM358.00 152.0h13.25v1.0h-13.25zM437.50 187.0h13.25v1.0h-13.25zM318.25 188.0h13.25v1.0h-13.25zM424.25 192.0h13.25v1.0h-13.25zM331.50 195.0h13.25v1.0h-13.25z" fill="#b2cde7"/>
<path d="M397.75 44.0h13.25v1.0h-13.25zM358.00 219.0h13.25v1.0h-13.25zM344.75 224.0h13.25v1.0h-13.25z" fill="#a2c2e2"/>
<path d="M424.25 44.0h13.25v1.0h-13.25z" fill="#79a3d2"/>
<path d="M437.50 44.0h13.25v1.0h-13.25zM318.25 50.0h13.25v1.0h-13.25zM318.25 178.0h13.25v1.0h-13.25zM424.25 221.0h13.25v1.0h-13.25zM424.25 228.0h13.25v1.0h-13.25z" fill="#6795cc"/>
<path d="M305.00 45.0h13.25v1.0h-13.25zM331.50 45.0h13.25v1.0h-13.25zM424.25 50.0h13.25v1.0h-13.25zM305.00 57.0h13.25v1.0h-13.25zM384.50 108.0h13.25v1.0h-13.25zM424.25 157.0h13.25v1.0h-13.25zM397.75 158.0h13.25v1.0h-13.25zM424.25 188.0h13.25v1.0h-13.25zM424.25 202.0h13.25v1.0h-13.25zM318.25 218.0h13.25v1.0h-13.25zM437.50 228.0h13.25v1.0h-13.25z" fill="#7fa8d5"/>
<path d="M344.75 45.0h13.25v1.0h-13.25zM371.25 179.0h13.25v1.0h-13.25zM384.50 204.0h13.25v1.0h-13.25zM331.50 211.0h13.25v1.0h-13.25zM331.50 241.0h13.25v1.0h-13.25z" fill="#fae0c1"/>
<path d="M358.00 45.0h13.25v1.0h-13.25zM358.00 47.0h13.25v1.0h-13.25zM358.00 77.0h13.25v1.0h-13.25zM305.00 89.0h13.25v1.0h-13.25zM371.25 231.0h13.25v1.0h-13.25zM344.75 245.0h13.25v0.5h-13.25z" fill="#f6f3ea"/>
<path d="M371.25 45.0h13.25v1.0h-13.25zM384.50 227.0h13.25v1.0h-13.25z" fill="#fadebb"/>
<path d="M384.50 45.0h13.25v1.0h-13.25zM397.75 63.0h13.25v1.0h-13.25zM384.50 73.0h13.25v1.0h-13.25zM305.00 107.0h13.25v1.0h-13.25zM371.25 108.0h13.25v1.0h-13.25zM384.50 114.0h13.25v1.0h-13.25zM358.00 129.0h13.25v1.0h-13.25zM371.25 131.0h13.25v1.0h-13.25zM344.75 133.0h13.25v1.0h-13.25zM371.25 142.0h13.25v1.0h-13.25zM384.50 159.0h13.25v1.0h-13.25zM424.25 172.0h13.25v1.0h-13.25zM437.50 173.0h13.25v1.0h-13.25z" fill="#adcae5"/>
<path d="M424.25 45.0h13.25v1.0h-13.25zM318.25 98.0h13.25v1.0h-13.25zM424.25 138.0h13.25v1.0h-13.25z" fill="#6f9ccf"/>
<path d="M437.50 45.0h13.25v1.0h-13.25zM331.50 48.0h13.25v1.0h-13.25zM424.25 179.0h13.25v1.0h-13.25zM437.50 201.0h13.25v1.0h-13.25zM437.50 218.0h13.25v1.0h-13.25zM318.25 222.0h13.25v1.0h-13.25zM437.50 245.0h13.25v0.5h-13.25z" fill="#6593ca"/>
<path d="M305.00 46.0h13.25v1.0h-13.25z" fill="#b8d2e9"/>
<path d="M318.25 46.0h13.25v1.0h-13.25zM397.75 46.0h13.25v1.0h-13.25zM371.25 73.0h13.25v1.0h-13.25zM344.75 86.0h13.25v1.0h-13.25zM344.75 113.0h13.25v1.0h-13.25zM358.00 114.0h13.25v1.0h-13.25zM397.75 118.0h13.25v1.0h-13.25zM358.00 124.0h13.25v1.0h-13.25zM411.00 148.0h13.25v1.0h-13.25zM371.25 164.0h13.25v1.0h-13.25zM344.75 227.0h13.25v1.0h-13.25z" fill="#b8d2e8"/>
<path d="M331.50 46.0h13.25v1.0h-13.25zM318.25 56.0h13.25v1.0h-13.25zM318.25 82.0h13.25v1.0h-13.25zM318.25 113.0h13.25v1.0h-13.25zM344.75 142.0h13.25v1.0h-13.25zM424.25 147.0h13.25v1.0h-13.25zM424.25 194.0h13.25v1.0h-13.25z" fill="#95bade"/>
<path d="M344.75 46.0h13.25v1.0h-13.25zM331.50 67.0h13.25v1.0h-13.25z" fill="#fae9d3"/>
<path d="M371.25 46.0h13.25v1.0h-13.25z" fill="#f9dab4"/>
<path d="M384.50 46.0h13.25v1.0h-13.25zM358.00 78.0h13.25v1.0h-13.25zM371.25 78.0h13.25v1.0h-13.25zM397.75 155.0h13.25v1.0h-13.25zM344.75 230.0h13.25v1.0h-13.25z" fill="#f4f6f2"/>
<path d="M411.00 46.0h13.25v1.0h-13.25zM424.25 116.0h13.25v1.0h-13.25zM305.00 216.0h13.25v1.0h-13.25zM397.75 231.0h13.25v1.0h-13.25zM397.75 237.0h13.25v1.0h-13.25z" fill="#f8cba0"/>
<path d="M437.50 46.0h13.25v1.0h-13.25zM384.50 88.0h13.25v1.0h-13.25zM318.25 210.0h13.25v1.0h-13.25z" fill="#95b9dd"/>
<path d="M305.00 47.0h13.25v1.0h-13.25z" fill="#89afd9"/>
<path d="M318.25 47.0h13.25v1.0h-13.25zM397.75 58.0h13.25v1.0h-13.25zM397.75 108.0h13.25v1.0h-13.25zM437.50 186.0h13.25v1.0h-13.25zM318.25 202.0h13.25v1.0h-13.25zM424.25 213.0h13.25v1.0h-13.25zM424.25 226.0h13.25v1.0h-13.25z" fill="#80a9d5"/>
<path d="M344.75 47.0h13.25v1.0h-13.25zM305.00 73.0h13.25v1.0h-13.25zM344.75 90.0h13.25v1.0h-13.25zM331.50 190.0h13.25v1.0h-13.25zM411.00 232.0h13.25v1.0h-13.25z" fill="#f7f1e5"/>
<path d="M371.25 47.0h13.25v1.0h-13.25zM344.75 53.0h13.25v1.0h-13.25zM331.50 138.0h13.25v1.0h-13.25z" fill="#fae0bf"/>
<path d="M424.25 47.0h13.25v1.0h-13.25zM305.00 54.0h13.25v1.0h-13.25zM371.25 215.0h13.25v1.0h-13.25z" fill="#8cb3da"/>
<path d="M305.00 48.0h13.25v1.0h-13.25zM437.50 229.0h13.25v1.0h-13.25z" fill="#74a0d1"/>
<path d="M318.25 48.0h13.25v1.0h-13.25zM424.25 48.0h13.25v1.0h-13.25zM305.00 50.0h13.25v1.0h-13.25zM437.50 54.0h13.25v1.0h-13.25zM358.00 74.0h13.25v1.0h-13.25zM437.50 158.0h13.25v1.0h-13.25zM318.25 238.0h13.25v1.0h-13.25z" fill="#76a1d1"/>
<path d="M358.00 48.0h13.25v1.0h-13.25zM344.75 94.0h13.25v1.0h-13.25zM358.00 94.0h13.25v1.0h-13.25zM318.25 131.0h13.25v1.0h-13.25zM331.50 222.0h13.25v1.0h-13.25z" fill="#ecf2f2"/>
<path d="M384.50 48.0h13.25v1.0h-13.25zM384.50 71.0h13.25v1.0h-13.25zM344.75 114.0h13.25v1.0h-13.25zM424.25 149.0h13.25v1.0h-13.25zM318.25 195.0h13.25v1.0h-13.25zM371.25 219.0h13.25v1.0h-13.25z" fill="#9fc0e1"/>
<path d="M344.75 49.0h13.25v1.0h-13.25zM384.50 160.0h13.25v1.0h-13.25zM411.00 167.0h13.25v1.0h-13.25z" fill="#f7f0e5"/>
<path d="M358.00 49.0h13.25v1.0h-13.25zM437.50 60.0h13.25v1.0h-13.25zM411.00 71.0h13.25v1.0h-13.25zM305.00 160.0h13.25v1.0h-13.25zM411.00 188.0h13.25v1.0h-13.25zM397.75 240.0h13.25v1.0h-13.25zM397.75 245.0h13.25v0.5h-13.25z" fill="#f8eddd"/>
<path d="M397.75 49.0h13.25v1.0h-13.25zM437.50 53.0h13.25v1.0h-13.25zM318.25 68.0h13.25v1.0h-13.25zM318.25 102.0h13.25v1.0h-13.25zM305.00 106.0h13.25v1.0h-13.25zM384.50 113.0h13.25v1.0h-13.25zM318.25 184.0h13.25v1.0h-13.25zM318.25 199.0h13.25v1.0h-13.25z" fill="#8db3db"/>
<path d="M437.50 49.0h13.25v1.0h-13.25zM384.50 105.0h13.25v1.0h-13.25zM358.00 157.0h13.25v1.0h-13.25zM305.00 186.0h13.25v1.0h-13.25zM318.25 203.0h13.25v1.0h-13.25zM318.25 217.0h13.25v1.0h-13.25z" fill="#8fb5db"/>
<path d="M331.50 50.0h13.25v1.0h-13.25z" fill="#75a1d1"/>
<path d="M344.75 50.0h13.25v1.0h-13.25z" fill="#f8efe1"/>
<path d="M371.25 50.0h13.25v1.0h-13.25zM437.50 83.0h13.25v1.0h-13.25zM331.50 140.0h13.25v1.0h-13.25zM318.25 159.0h13.25v1.0h-13.25zM318.25 162.0h13.25v1.0h-13.25zM397.75 208.0h13.25v1.0h-13.25zM397.75 221.0h13.25v1.0h-13.25z" fill="#f7c69a"/>
<path d="M384.50 50.0h13.25v1.0h-13.25zM397.75 51.0h13.25v1.0h-13.25zM358.00 63.0h13.25v1.0h-13.25zM358.00 161.0h13.25v1.0h-13.25zM344.75 207.0h13.25v1.0h-13.25zM358.00 207.0h13.25v1.0h-13.25z" fill="#9cbfe0"/>
<path d="M411.00 50.0h13.25v1.0h-13.25z" fill="#f1f5f3"/>
<path d="M305.00 51.0h13.25v1.0h-13.25zM424.25 150.0h13.25v1.0h-13.25zM371.25 168.0h13.25v1.0h-13.25z" fill="#82abd6"/>
<path d="M318.25 51.0h13.25v1.0h-13.25zM318.25 61.0h13.25v1.0h-13.25zM424.25 161.0h13.25v1.0h-13.25zM437.50 194.0h13.25v1.0h-13.25zM424.25 225.0h13.25v1.0h-13.25z" fill="#6896cc"/>
<path d="M411.00 51.0h13.25v1.0h-13.25zM424.25 63.0h13.25v1.0h-13.25zM397.75 123.0h13.25v1.0h-13.25zM424.25 131.0h13.25v1.0h-13.25zM384.50 177.0h13.25v1.0h-13.25z" fill="#f5f5ef"/>
<path d="M424.25 51.0h13.25v1.0h-13.25zM358.00 62.0h13.25v1.0h-13.25zM384.50 116.0h13.25v1.0h-13.25zM358.00 137.0h13.25v1.0h-13.25zM437.50 145.0h13.25v1.0h-13.25zM424.25 175.0h13.25v1.0h-13.25zM331.50 176.0h13.25v1.0h-13.25zM305.00 201.0h13.25v1.0h-13.25z" fill="#9dbfe1"/>
<path d="M397.75 52.0h13.25v1.0h-13.25zM344.75 66.0h13.25v1.0h-13.25zM318.25 115.0h13.25v1.0h-13.25zM344.75 119.0h13.25v1.0h-13.25zM358.00 241.0h13.25v1.0h-13.25zM358.00 242.0h13.25v1.0h-13.25z" fill="#98bcdf"/>
<path d="M424.25 52.0h13.25v1.0h-13.25zM384.50 107.0h13.25v1.0h-13.25zM424.25 143.0h13.25v1.0h-13.25zM437.50 182.0h13.25v1.0h-13.25zM318.25 213.0h13.25v1.0h-13.25z" fill="#8db3da"/>
<path d="M437.50 52.0h13.25v1.0h-13.25zM424.25 210.0h13.25v1.0h-13.25zM318.25 227.0h13.25v1.0h-13.25zM437.50 235.0h13.25v1.0h-13.25z" fill="#77a2d2"/>
<path d="M305.00 53.0h13.25v1.0h-13.25z" fill="#93b7dd"/>
<path d="M331.50 53.0h13.25v1.0h-13.25zM384.50 62.0h13.25v1.0h-13.25zM318.25 76.0h13.25v1.0h-13.25zM331.50 107.0h13.25v1.0h-13.25zM384.50 131.0h13.25v1.0h-13.25zM424.25 142.0h13.25v1.0h-13.25zM344.75 146.0h13.25v1.0h-13.25zM371.25 148.0h13.25v1.0h-13.25zM305.00 151.0h13.25v1.0h-13.25zM305.00 182.0h13.25v1.0h-13.25zM437.50 196.0h13.25v1.0h-13.25zM437.50 205.0h13.25v1.0h-13.25zM318.25 209.0h13.25v1.0h-13.25zM344.75 214.0h13.25v1.0h-13.25zM344.75 219.0h13.25v1.0h-13.25zM344.75 235.0h13.25v1.0h-13.25z" fill="#a1c2e2"/>
<path d="M384.50 53.0h13.25v1.0h-13.25zM344.75 63.0h13.25v1.0h-13.25zM384.50 109.0h13.25v1.0h-13.25zM305.00 115.0h13.25v1.0h-13.25zM331.50 115.0h13.25v1.0h-13.25zM358.00 119.0h13.25v1.0h-13.25zM397.75 126.0h13.25v1.0h-13.25zM371.25 127.0h13.25v1.0h-13.25zM384.50 150.0h13.25v1.0h-13.25zM344.75 151.0h13.25v1.0h-13.25zM358.00 165.0h13.25v1.0h-13.25zM371.25 169.0h13.25v1.0h-13.25zM331.50 182.0h13.25v1.0h-13.25zM384.50 184.0h13.25v1.0h-13.25zM318.25 194.0h13.25v1.0h-13.25zM384.50 195.0h13.25v1.0h-13.25zM331.50 197.0h13.25v1.0h-13.25zM305.00 199.0h13.25v1.0h-13.25z" fill="#c0d7eb"/>
<path d="M397.75 53.0h13.25v1.0h-13.25zM397.75 59.0h13.25v1.0h-13.25zM318.25 107.0h13.25v1.0h-13.25zM318.25 117.0h13.25v1.0h-13.25zM424.25 178.0h13.25v1.0h-13.25z" fill="#83abd6"/>
<path d="M424.25 53.0h13.25v1.0h-13.25z" fill="#7ea8d5"/>
<path d="M331.50 54.0h13.25v1.0h-13.25zM397.75 62.0h13.25v1.0h-13.25zM371.25 64.0h13.25v1.0h-13.25zM397.75 71.0h13.25v1.0h-13.25zM397.75 90.0h13.25v1.0h-13.25zM358.00 126.0h13.25v1.0h-13.25zM344.75 139.0h13.25v1.0h-13.25zM424.25 141.0h13.25v1.0h-13.25zM305.00 145.0h13.25v1.0h-13.25zM411.00 145.0h13.25v1.0h-13.25zM397.75 147.0h13.25v1.0h-13.25zM437.50 154.0h13.25v1.0h-13.25zM344.75 159.0h13.25v1.0h-13.25zM358.00 171.0h13.25v1.0h-13.25zM305.00 197.0h13.25v1.0h-13.25zM358.00 222.0h13.25v1.0h-13.25zM411.00 223.0h13.25v1.0h-13.25z" fill="#b0cce6"/>
<path d="M344.75 54.0h13.25v1.0h-13.25zM331.50 129.0h13.25v1.0h-13.25zM358.00 181.0h13.25v1.0h-13.25zM331.50 234.0h13.25v1.0h-13.25zM397.75 244.0h13.25v1.0h-13.25z" fill="#f9ebd7"/>
<path d="M358.00 54.0h13.25v1.0h-13.25zM411.00 55.0h13.25v1.0h-13.25zM358.00 100.0h13.25v1.0h-13.25zM424.25 124.0h13.25v1.0h-13.25zM437.50 132.0h13.25v1.0h-13.25zM397.75 190.0h13.25v1.0h-13.25zM384.50 196.0h13.25v1.0h-13.25zM331.50 235.0h13.25v1.0h-13.25zM411.00 243.0h13.25v1.0h-13.25z" fill="#f7f0e3"/>
<path d="M384.50 54.0h13.25v1.0h-13.25zM371.25 67.0h13.25v1.0h-13.25zM371.25 70.0h13.25v1.0h-13.25zM384.50 70.0h13.25v1.0h-13.25zM318.25 111.0h13.25v1.0h-13.25zM318.25 119.0h13.25v1.0h-13.25zM371.25 135.0h13.25v1.0h-13.25zM358.00 154.0h13.25v1.0h-13.25zM305.00 184.0h13.25v1.0h-13.25zM371.25 207.0h13.25v1.0h-13.25zM371.25 213.0h13.25v1.0h-13.25zM371.25 221.0h13.25v1.0h-13.25zM371.25 229.0h13.25v1.0h-13.25z" fill="#aac8e4"/>
<path d="M397.75 54.0h13.25v1.0h-13.25zM318.25 78.0h13.25v1.0h-13.25zM397.75 107.0h13.25v1.0h-13.25zM305.00 112.0h13.25v1.0h-13.25zM371.25 223.0h13.25v1.0h-13.25z" fill="#93b8dd"/>
<path d="M358.00 55.0h13.25v1.0h-13.25zM305.00 138.0h13.25v1.0h-13.25zM331.50 171.0h13.25v1.0h-13.25zM344.75 175.0h13.25v1.0h-13.25z" fill="#f5b486"/>
<path d="M371.25 55.0h13.25v1.0h-13.25zM437.50 113.0h13.25v1.0h-13.25zM384.50 208.0h13.25v1.0h-13.25z" fill="#f6b88a"/>
<path d="M384.50 55.0h13.25v1.0h-13.25zM305.00 97.0h13.25v1.0h-13.25zM384.50 125.0h13.25v1.0h-13.25zM318.25 142.0h13.25v1.0h-13.25zM384.50 164.0h13.25v1.0h-13.25zM344.75 199.0h13.25v1.0h-13.25zM305.00 200.0h13.25v1.0h-13.25z" fill="#c7dced"/>
<path d="M437.50 55.0h13.25v1.0h-13.25zM305.00 109.0h13.25v1.0h-13.25zM305.00 113.0h13.25v1.0h-13.25zM371.25 196.0h13.25v1.0h-13.25zM344.75 234.0h13.25v1.0h-13.25z" fill="#a6c5e3"/>
<path d="M411.00 56.0h13.25v1.0h-13.25zM358.00 69.0h13.25v1.0h-13.25zM305.00 79.0h13.25v1.0h-13.25zM371.25 121.0h13.25v1.0h-13.25z" fill="#e0eaf1"/>
<path d="M437.50 56.0h13.25v1.0h-13.25zM358.00 66.0h13.25v1.0h-13.25zM397.75 66.0h13.25v1.0h-13.25zM344.75 67.0h13.25v1.0h-13.25zM384.50 72.0h13.25v1.0h-13.25zM331.50 86.0h13.25v1.0h-13.25zM318.25 92.0h13.25v1.0h-13.25zM384.50 102.0h13.25v1.0h-13.25zM358.00 107.0h13.25v1.0h-13.25zM344.75 129.0h13.25v1.0h-13.25zM397.75 145.0h13.25v1.0h-13.25zM411.00 146.0h13.25v1.0h-13.25zM344.75 148.0h13.25v1.0h-13.25zM424.25 148.0h13.25v1.0h-13.25zM344.75 153.0h13.25v1.0h-13.25zM371.25 199.0h13.25v1.0h-13.25zM344.75 210.0h13.25v1.0h-13.25zM344.75 221.0h13.25v1.0h-13.25z" fill="#b4cfe7"/>
<path d="M344.75 57.0h13.25v1.0h-13.25zM411.00 65.0h13.25v1.0h-13.25zM397.75 77.0h13.25v1.0h-13.25zM318.25 144.0h13.25v1.0h-13.25zM305.00 153.0h13.25v1.0h-13.25zM384.50 174.0h13.25v1.0h-13.25zM397.75 204.0h13.25v1.0h-13.25zM331.50 220.0h13.25v1.0h-13.25z" fill="#f9eddb"/>
<path d="M371.25 57.0h13.25v1.0h-13.25zM358.00 194.0h13.25v1.0h-13.25zM305.00 221.0h13.25v1.0h-13.25z" fill="#f8d0a5"/>
<path d="M318.25 58.0h13.25v1.0h-13.25zM411.00 81.0h13.25v1.0h-13.25zM318.25 120.0h13.25v1.0h-13.25zM437.50 149.0h13.25v1.0h-13.25zM318.25 197.0h13.25v1.0h-13.25zM358.00 221.0h13.25v1.0h-13.25z" fill="#92b7dd"/>
<path d="M437.50 58.0h13.25v1.0h-13.25zM384.50 60.0h13.25v1.0h-13.25zM344.75 115.0h13.25v1.0h-13.25zM344.75 124.0h13.25v1.0h-13.25zM437.50 142.0h13.25v1.0h-13.25zM411.00 147.0h13.25v1.0h-13.25zM331.50 201.0h13.25v1.0h-13.25z" fill="#b5cfe7"/>
<path d="M358.00 59.0h13.25v1.0h-13.25zM358.00 68.0h13.25v1.0h-13.25zM371.25 89.0h13.25v1.0h-13.25zM424.25 132.0h13.25v1.0h-13.25zM305.00 163.0h13.25v1.0h-13.25zM318.25 168.0h13.25v1.0h-13.25zM397.75 198.0h13.25v1.0h-13.25zM411.00 210.0h13.25v1.0h-13.25z" fill="#f5f4ef"/>
<path d="M371.25 59.0h13.25v1.0h-13.25zM424.25 114.0h13.25v1.0h-13.25zM331.50 141.0h13.25v1.0h-13.25zM318.25 161.0h13.25v1.0h-13.25zM318.25 165.0h13.25v1.0h-13.25zM411.00 201.0h13.25v1.0h-13.25z" fill="#f7bf92"/>
<path d="M411.00 60.0h13.25v1.0h-13.25zM384.50 130.0h13.25v1.0h-13.25z" fill="#aecae5"/>
<path d="M424.25 60.0h13.25v1.0h-13.25zM331.50 168.0h13.25v1.0h-13.25zM397.75 170.0h13.25v1.0h-13.25zM358.00 180.0h13.25v1.0h-13.25zM371.25 190.0h13.25v1.0h-13.25zM397.75 202.0h13.25v1.0h-13.25zM305.00 234.0h13.25v1.0h-13.25zM397.75 238.0h13.25v1.0h-13.25z" fill="#fadebc"/>
<path d="M305.00 61.0h13.25v1.0h-13.25zM424.25 107.0h13.25v1.0h-13.25zM331.50 157.0h13.25v1.0h-13.25zM397.75 228.0h13.25v1.0h-13.25zM384.50 235.0h13.25v1.0h-13.25z" fill="#f7c599"/>
<path d="M331.50 61.0h13.25v1.0h-13.25zM331.50 76.0h13.25v1.0h-13.25zM384.50 83.0h13.25v1.0h-13.25zM384.50 89.0h13.25v1.0h-13.25zM371.25 126.0h13.25v1.0h-13.25zM358.00 156.0h13.25v1.0h-13.25zM305.00 176.0h13.25v1.0h-13.25zM411.00 184.0h13.25v1.0h-13.25zM358.00 204.0h13.25v1.0h-13.25zM344.75 206.0h13.25v1.0h-13.25zM344.75 212.0h13.25v1.0h-13.25z" fill="#c8dced"/>
<path d="M344.75 61.0h13.25v1.0h-13.25zM384.50 61.0h13.25v1.0h-13.25zM411.00 143.0h13.25v1.0h-13.25zM318.25 174.0h13.25v1.0h-13.25z" fill="#a5c4e3"/>
<path d="M305.00 62.0h13.25v1.0h-13.25z" fill="#f9d6ae"/>
<path d="M331.50 62.0h13.25v1.0h-13.25zM344.75 85.0h13.25v1.0h-13.25zM331.50 111.0h13.25v1.0h-13.25zM411.00 161.0h13.25v1.0h-13.25zM344.75 195.0h13.25v1.0h-13.25zM358.00 233.0h13.25v1.0h-13.25zM411.00 233.0h13.25v1.0h-13.25zM411.00 234.0h13.25v1.0h-13.25zM358.00 236.0h13.25v1.0h-13.25z" fill="#f4f6f3"/>
<path d="M371.25 62.0h13.25v1.0h-13.25zM331.50 80.0h13.25v1.0h-13.25zM305.00 82.0h13.25v1.0h-13.25zM318.25 89.0h13.25v1.0h-13.25zM305.00 99.0h13.25v1.0h-13.25zM344.75 102.0h13.25v1.0h-13.25zM384.50 115.0h13.25v1.0h-13.25zM397.75 120.0h13.25v1.0h-13.25zM397.75 132.0h13.25v1.0h-13.25zM344.75 156.0h13.25v1.0h-13.25zM358.00 198.0h13.25v1.0h-13.25zM344.75 229.0h13.25v1.0h-13.25z" fill="#b7d1e8"/>
<path d="M437.50 62.0h13.25v1.0h-13.25zM331.50 72.0h13.25v1.0h-13.25zM371.25 82.0h13.25v1.0h-13.25zM397.75 92.0h13.25v1.0h-13.25zM384.50 140.0h13.25v1.0h-13.25zM397.75 160.0h13.25v1.0h-13.25z" fill="#f5f3ec"/>
<path d="M318.25 63.0h13.25v1.0h-13.25zM424.25 168.0h13.25v1.0h-13.25z" fill="#5583c1"/>
<path d="M331.50 63.0h13.25v1.0h-13.25zM411.00 69.0h13.25v1.0h-13.25zM371.25 76.0h13.25v1.0h-13.25zM305.00 78.0h13.25v1.0h-13.25zM384.50 99.0h13.25v1.0h-13.25zM371.25 119.0h13.25v1.0h-13.25zM318.25 130.0h13.25v1.0h-13.25zM424.25 133.0h13.25v1.0h-13.25zM437.50 144.0h13.25v1.0h-13.25zM437.50 171.0h13.25v1.0h-13.25zM411.00 180.0h13.25v1.0h-13.25zM371.25 181.0h13.25v1.0h-13.25zM411.00 205.0h13.25v1.0h-13.25zM411.00 213.0h13.25v1.0h-13.25z" fill="#e9f0f2"/>
<path d="M371.25 63.0h13.25v1.0h-13.25zM384.50 106.0h13.25v1.0h-13.25z" fill="#a4c4e2"/>
<path d="M411.00 63.0h13.25v1.0h-13.25zM411.00 80.0h13.25v1.0h-13.25zM305.00 98.0h13.25v1.0h-13.25zM358.00 103.0h13.25v1.0h-13.25zM411.00 117.0h13.25v1.0h-13.25zM305.00 129.0h13.25v1.0h-13.25zM437.50 136.0h13.25v1.0h-13.25zM344.75 155.0h13.25v1.0h-13.25zM305.00 159.0h13.25v1.0h-13.25zM344.75 209.0h13.25v1.0h-13.25zM371.25 242.0h13.25v1.0h-13.25z" fill="#cee0ef"/>
<path d="M305.00 64.0h13.25v1.0h-13.25zM437.50 104.0h13.25v1.0h-13.25zM331.50 156.0h13.25v1.0h-13.25zM344.75 186.0h13.25v1.0h-13.25zM305.00 217.0h13.25v1.0h-13.25z" fill="#f5b081"/>
<path d="M318.25 64.0h13.25v1.0h-13.25z" fill="#608dc7"/>
<path d="M331.50 64.0h13.25v1.0h-13.25zM305.00 72.0h13.25v1.0h-13.25zM384.50 173.0h13.25v1.0h-13.25zM371.25 178.0h13.25v1.0h-13.25zM411.00 228.0h13.25v1.0h-13.25zM344.75 231.0h13.25v1.0h-13.25z" fill="#f7efe1"/>
<path d="M358.00 64.0h13.25v1.0h-13.25zM358.00 108.0h13.25v1.0h-13.25zM397.75 109.0h13.25v1.0h-13.25zM384.50 124.0h13.25v1.0h-13.25zM344.75 140.0h13.25v1.0h-13.25zM411.00 159.0h13.25v1.0h-13.25z" fill="#aecbe6"/>
<path d="M411.00 64.0h13.25v1.0h-13.25zM331.50 78.0h13.25v1.0h-13.25zM397.75 86.0h13.25v1.0h-13.25zM411.00 95.0h13.25v1.0h-13.25zM384.50 192.0h13.25v1.0h-13.25z" fill="#d9e7f0"/>
<path d="M437.50 64.0h13.25v1.0h-13.25zM371.25 97.0h13.25v1.0h-13.25zM411.00 229.0h13.25v1.0h-13.25zM411.00 241.0h13.25v1.0h-13.25z" fill="#f7f1e6"/>
<path d="M305.00 65.0h13.25v1.0h-13.25zM424.25 80.0h13.25v1.0h-13.25zM424.25 82.0h13.25v1.0h-13.25zM331.50 131.0h13.25v1.0h-13.25zM331.50 132.0h13.25v1.0h-13.25z" fill="#ef9466"/>
<path d="M344.75 65.0h13.25v1.0h-13.25zM331.50 85.0h13.25v1.0h-13.25zM397.75 124.0h13.25v1.0h-13.25zM318.25 125.0h13.25v1.0h-13.25zM305.00 126.0h13.25v1.0h-13.25zM318.25 140.0h13.25v1.0h-13.25zM437.50 162.0h13.25v1.0h-13.25zM397.75 178.0h13.25v1.0h-13.25zM371.25 226.0h13.25v1.0h-13.25z" fill="#b6d0e8"/>
<path d="M358.00 65.0h13.25v1.0h-13.25zM358.00 81.0h13.25v1.0h-13.25zM397.75 89.0h13.25v1.0h-13.25zM305.00 95.0h13.25v1.0h-13.25zM411.00 103.0h13.25v1.0h-13.25zM371.25 123.0h13.25v1.0h-13.25zM384.50 136.0h13.25v1.0h-13.25zM384.50 143.0h13.25v1.0h-13.25zM371.25 163.0h13.25v1.0h-13.25zM437.50 165.0h13.25v1.0h-13.25zM384.50 180.0h13.25v1.0h-13.25zM331.50 184.0h13.25v1.0h-13.25zM437.50 190.0h13.25v1.0h-13.25zM358.00 199.0h13.25v1.0h-13.25zM371.25 201.0h13.25v1.0h-13.25zM371.25 241.0h13.25v1.0h-13.25z" fill="#bfd6ea"/>
<path d="M384.50 65.0h13.25v1.0h-13.25zM411.00 84.0h13.25v1.0h-13.25zM371.25 85.0h13.25v1.0h-13.25zM411.00 90.0h13.25v1.0h-13.25zM411.00 125.0h13.25v1.0h-13.25zM384.50 201.0h13.25v1.0h-13.25zM411.00 218.0h13.25v1.0h-13.25zM331.50 221.0h13.25v1.0h-13.25z" fill="#f3f5f3"/>
<path d="M437.50 65.0h13.25v1.0h-13.25zM371.25 189.0h13.25v1.0h-13.25zM331.50 219.0h13.25v1.0h-13.25z" fill="#f9d3a9"/>
<path d="M331.50 66.0h13.25v1.0h-13.25zM437.50 72.0h13.25v1.0h-13.25zM358.00 97.0h13.25v1.0h-13.25zM358.00 231.0h13.25v1.0h-13.25z" fill="#f9ecd8"/>
<path d="M371.25 66.0h13.25v1.0h-13.25zM344.75 69.0h13.25v1.0h-13.25zM384.50 86.0h13.25v1.0h-13.25zM305.00 87.0h13.25v1.0h-13.25zM411.00 97.0h13.25v1.0h-13.25zM305.00 125.0h13.25v1.0h-13.25zM411.00 130.0h13.25v1.0h-13.25zM424.25 171.0h13.25v1.0h-13.25zM384.50 179.0h13.25v1.0h-13.25zM397.75 188.0h13.25v1.0h-13.25zM331.50 199.0h13.25v1.0h-13.25zM331.50 203.0h13.25v1.0h-13.25z" fill="#d0e2ef"/>
<path d="M411.00 66.0h13.25v1.0h-13.25zM384.50 85.0h13.25v1.0h-13.25zM371.25 120.0h13.25v1.0h-13.25zM411.00 123.0h13.25v1.0h-13.25zM411.00 134.0h13.25v1.0h-13.25zM411.00 179.0h13.25v1.0h-13.25zM331.50 183.0h13.25v1.0h-13.25zM411.00 208.0h13.25v1.0h-13.25z" fill="#e2ecf1"/>
<path d="M424.25 66.0h13.25v1.0h-13.25z" fill="#fadcb7"/>
<path d="M437.50 66.0h13.25v1.0h-13.25zM331.50 159.0h13.25v1.0h-13.25zM344.75 176.0h13.25v1.0h-13.25zM371.25 188.0h13.25v1.0h-13.25zM331.50 214.0h13.25v1.0h-13.25zM384.50 230.0h13.25v1.0h-13.25z" fill="#f8cda2"/>
<path d="M305.00 67.0h13.25v1.0h-13.25z" fill="#f4ab7c"/>
<path d="M318.25 67.0h13.25v1.0h-13.25zM424.25 219.0h13.25v1.0h-13.25z" fill="#6d9ace"/>
<path d="M397.75 67.0h13.25v1.0h-13.25zM397.75 106.0h13.25v1.0h-13.25zM371.25 146.0h13.25v1.0h-13.25zM371.25 212.0h13.25v1.0h-13.25z" fill="#b5d0e8"/>
<path d="M411.00 67.0h13.25v1.0h-13.25zM371.25 86.0h13.25v1.0h-13.25zM371.25 87.0h13.25v1.0h-13.25zM344.75 121.0h13.25v1.0h-13.25zM358.00 122.0h13.25v1.0h-13.25zM397.75 130.0h13.25v1.0h-13.25zM411.00 152.0h13.25v1.0h-13.25zM344.75 200.0h13.25v1.0h-13.25zM344.75 244.0h13.25v1.0h-13.25z" fill="#dde9f1"/>
<path d="M424.25 67.0h13.25v1.0h-13.25zM371.25 174.0h13.25v1.0h-13.25zM411.00 202.0h13.25v1.0h-13.25z" fill="#f7c194"/>
<path d="M437.50 67.0h13.25v1.0h-13.25zM424.25 108.0h13.25v1.0h-13.25zM384.50 170.0h13.25v1.0h-13.25zM397.75 220.0h13.25v1.0h-13.25zM397.75 227.0h13.25v1.0h-13.25zM331.50 238.0h13.25v1.0h-13.25z" fill="#fadcb8"/>
<path d="M344.75 68.0h13.25v1.0h-13.25zM371.25 75.0h13.25v1.0h-13.25zM384.50 76.0h13.25v1.0h-13.25zM344.75 96.0h13.25v1.0h-13.25zM397.75 138.0h13.25v1.0h-13.25zM305.00 174.0h13.25v1.0h-13.25zM331.50 204.0h13.25v1.0h-13.25zM358.00 225.0h13.25v1.0h-13.25zM344.75 242.0h13.25v1.0h-13.25z" fill="#f0f4f3"/>
<path d="M371.25 68.0h13.25v1.0h-13.25zM384.50 74.0h13.25v1.0h-13.25zM371.25 134.0h13.25v1.0h-13.25zM411.00 211.0h13.25v1.0h-13.25z" fill="#bcd4e9"/>
<path d="M384.50 68.0h13.25v1.0h-13.25zM358.00 89.0h13.25v1.0h-13.25zM411.00 122.0h13.25v1.0h-13.25zM437.50 130.0h13.25v1.0h-13.25zM331.50 188.0h13.25v1.0h-13.25z" fill="#f4f5f2"/>
<path d="M411.00 68.0h13.25v1.0h-13.25zM411.00 86.0h13.25v1.0h-13.25zM358.00 90.0h13.25v1.0h-13.25zM371.25 113.0h13.25v1.0h-13.25zM411.00 164.0h13.25v1.0h-13.25zM358.00 226.0h13.25v1.0h-13.25z" fill="#eff3f2"/>
<path d="M424.25 68.0h13.25v1.0h-13.25z" fill="#e97b51"/>
<path d="M437.50 68.0h13.25v1.0h-13.25zM424.25 104.0h13.25v1.0h-13.25zM358.00 193.0h13.25v1.0h-13.25z" fill="#f7c396"/>
<path d="M331.50 69.0h13.25v1.0h-13.25zM371.25 90.0h13.25v1.0h-13.25zM397.75 167.0h13.25v1.0h-13.25zM305.00 173.0h13.25v1.0h-13.25zM411.00 215.0h13.25v1.0h-13.25z" fill="#f6f1e6"/>
<path d="M437.50 69.0h13.25v1.0h-13.25zM384.50 171.0h13.25v1.0h-13.25z" fill="#f9d6ad"/>
<path d="M305.00 70.0h13.25v1.0h-13.25zM371.25 94.0h13.25v1.0h-13.25zM331.50 97.0h13.25v1.0h-13.25zM331.50 148.0h13.25v1.0h-13.25zM358.00 234.0h13.25v1.0h-13.25z" fill="#f1f4f3"/>
<path d="M344.75 70.0h13.25v1.0h-13.25zM344.75 76.0h13.25v1.0h-13.25zM344.75 81.0h13.25v1.0h-13.25zM358.00 93.0h13.25v1.0h-13.25zM411.00 93.0h13.25v1.0h-13.25zM358.00 111.0h13.25v1.0h-13.25zM437.50 137.0h13.25v1.0h-13.25zM344.75 237.0h13.25v1.0h-13.25z" fill="#deeaf1"/>
<path d="M358.00 70.0h13.25v1.0h-13.25zM305.00 194.0h13.25v1.0h-13.25z" fill="#c1d7eb"/>
<path d="M397.75 70.0h13.25v1.0h-13.25zM305.00 196.0h13.25v1.0h-13.25z" fill="#bcd5ea"/>
<path d="M411.00 70.0h13.25v1.0h-13.25zM331.50 77.0h13.25v1.0h-13.25zM411.00 124.0h13.25v1.0h-13.25zM397.75 168.0h13.25v1.0h-13.25zM358.00 170.0h13.25v1.0h-13.25z" fill="#eaf0f2"/>
<path d="M424.25 70.0h13.25v1.0h-13.25zM318.25 164.0h13.25v1.0h-13.25z" fill="#f9d4a9"/>
<path d="M318.25 71.0h13.25v1.0h-13.25zM424.25 201.0h13.25v1.0h-13.25z" fill="#618fc8"/>
<path d="M424.25 71.0h13.25v1.0h-13.25z" fill="#f7c397"/>
<path d="M318.25 72.0h13.25v1.0h-13.25zM318.25 96.0h13.25v1.0h-13.25zM318.25 99.0h13.25v1.0h-13.25z" fill="#6c99cd"/>
<path d="M344.75 72.0h13.25v1.0h-13.25zM384.50 81.0h13.25v1.0h-13.25zM358.00 87.0h13.25v1.0h-13.25zM305.00 103.0h13.25v1.0h-13.25zM371.25 145.0h13.25v1.0h-13.25z" fill="#b2cee7"/>
<path d="M397.75 72.0h13.25v1.0h-13.25zM305.00 122.0h13.25v1.0h-13.25zM344.75 128.0h13.25v1.0h-13.25zM318.25 141.0h13.25v1.0h-13.25z" fill="#d2e2ef"/>
<path d="M424.25 72.0h13.25v1.0h-13.25zM305.00 133.0h13.25v1.0h-13.25zM318.25 135.0h13.25v1.0h-13.25zM358.00 185.0h13.25v1.0h-13.25zM411.00 231.0h13.25v1.0h-13.25z" fill="#f9d9b2"/>
<path d="M318.25 73.0h13.25v1.0h-13.25zM318.25 182.0h13.25v1.0h-13.25zM424.25 183.0h13.25v1.0h-13.25z" fill="#6794cb"/>
<path d="M411.00 73.0h13.25v1.0h-13.25zM384.50 78.0h13.25v1.0h-13.25zM331.50 123.0h13.25v1.0h-13.25zM358.00 125.0h13.25v1.0h-13.25zM344.75 144.0h13.25v1.0h-13.25zM344.75 171.0h13.25v1.0h-13.25zM384.50 193.0h13.25v1.0h-13.25zM318.25 198.0h13.25v1.0h-13.25zM358.00 227.0h13.25v1.0h-13.25z" fill="#cbdeee"/>
<path d="M331.50 74.0h13.25v1.0h-13.25zM358.00 123.0h13.25v1.0h-13.25zM358.00 211.0h13.25v1.0h-13.25zM411.00 227.0h13.25v1.0h-13.25z" fill="#dce8f0"/>
<path d="M331.50 75.0h13.25v1.0h-13.25zM371.25 84.0h13.25v1.0h-13.25zM371.25 91.0h13.25v1.0h-13.25zM344.75 92.0h13.25v1.0h-13.25zM344.75 99.0h13.25v1.0h-13.25zM358.00 112.0h13.25v1.0h-13.25zM384.50 138.0h13.25v1.0h-13.25zM397.75 192.0h13.25v1.0h-13.25z" fill="#dde9f0"/>
<path d="M358.00 75.0h13.25v1.0h-13.25zM358.00 83.0h13.25v1.0h-13.25zM358.00 115.0h13.25v1.0h-13.25zM397.75 185.0h13.25v1.0h-13.25zM344.75 203.0h13.25v1.0h-13.25zM411.00 207.0h13.25v1.0h-13.25z" fill="#c4daec"/>
<path d="M424.25 75.0h13.25v1.0h-13.25zM305.00 225.0h13.25v1.0h-13.25z" fill="#ee8e60"/>
<path d="M305.00 76.0h13.25v1.0h-13.25zM305.00 77.0h13.25v1.0h-13.25zM397.75 169.0h13.25v1.0h-13.25zM397.75 177.0h13.25v1.0h-13.25zM411.00 182.0h13.25v1.0h-13.25z" fill="#f6f2e8"/>
<path d="M358.00 76.0h13.25v1.0h-13.25zM411.00 83.0h13.25v1.0h-13.25zM305.00 90.0h13.25v1.0h-13.25zM358.00 121.0h13.25v1.0h-13.25zM411.00 154.0h13.25v1.0h-13.25zM411.00 186.0h13.25v1.0h-13.25zM384.50 189.0h13.25v1.0h-13.25zM411.00 194.0h13.25v1.0h-13.25zM411.00 195.0h13.25v1.0h-13.25z" fill="#e7eff2"/>
<path d="M397.75 76.0h13.25v1.0h-13.25zM344.75 112.0h13.25v1.0h-13.25zM358.00 117.0h13.25v1.0h-13.25z" fill="#cadded"/>
<path d="M424.25 76.0h13.25v1.0h-13.25zM437.50 102.0h13.25v1.0h-13.25zM305.00 140.0h13.25v1.0h-13.25z" fill="#ee8d5f"/>
<path d="M437.50 76.0h13.25v1.0h-13.25zM331.50 139.0h13.25v1.0h-13.25z" fill="#f5ae7f"/>
<path d="M371.25 77.0h13.25v1.0h-13.25zM411.00 166.0h13.25v1.0h-13.25z" fill="#f9eddc"/>
<path d="M411.00 77.0h13.25v1.0h-13.25zM344.75 80.0h13.25v1.0h-13.25zM305.00 100.0h13.25v1.0h-13.25zM371.25 102.0h13.25v1.0h-13.25zM411.00 175.0h13.25v1.0h-13.25zM397.75 196.0h13.25v1.0h-13.25z" fill="#f4f5f1"/>
<path d="M424.25 77.0h13.25v1.0h-13.25z" fill="#e36644"/>
<path d="M437.50 77.0h13.25v1.0h-13.25z" fill="#e8784f"/>
<path d="M424.25 78.0h13.25v1.0h-13.25zM424.25 99.0h13.25v1.0h-13.25z" fill="#ec8355"/>
<path d="M437.50 78.0h13.25v1.0h-13.25zM318.25 148.0h13.25v1.0h-13.25zM344.75 178.0h13.25v1.0h-13.25z" fill="#ee8c5e"/>
<path d="M344.75 79.0h13.25v1.0h-13.25zM331.50 99.0h13.25v1.0h-13.25zM411.00 115.0h13.25v1.0h-13.25zM384.50 145.0h13.25v1.0h-13.25zM384.50 185.0h13.25v1.0h-13.25zM305.00 187.0h13.25v1.0h-13.25zM331.50 189.0h13.25v1.0h-13.25zM371.25 237.0h13.25v1.0h-13.25z" fill="#dae7f0"/>
<path d="M384.50 79.0h13.25v1.0h-13.25zM358.00 120.0h13.25v1.0h-13.25z" fill="#cde0ef"/>
<path d="M424.25 79.0h13.25v1.0h-13.25zM437.50 84.0h13.25v1.0h-13.25zM384.50 218.0h13.25v1.0h-13.25z" fill="#f2a374"/>
<path d="M437.50 79.0h13.25v1.0h-13.25zM437.50 118.0h13.25v1.0h-13.25zM437.50 119.0h13.25v1.0h-13.25zM331.50 165.0h13.25v1.0h-13.25z" fill="#f2a172"/>
<path d="M358.00 80.0h13.25v1.0h-13.25zM305.00 101.0h13.25v1.0h-13.25zM411.00 128.0h13.25v1.0h-13.25zM305.00 188.0h13.25v1.0h-13.25zM384.50 188.0h13.25v1.0h-13.25zM411.00 221.0h13.25v1.0h-13.25zM411.00 245.0h13.25v0.5h-13.25z" fill="#f5f5f0"/>
<path d="M384.50 80.0h13.25v1.0h-13.25z" fill="#e6eef2"/>
<path d="M397.75 80.0h13.25v1.0h-13.25zM371.25 217.0h13.25v1.0h-13.25z" fill="#c5dbec"/>
<path d="M437.50 80.0h13.25v1.0h-13.25zM424.25 102.0h13.25v1.0h-13.25z" fill="#ed8a5c"/>
<path d="M318.25 81.0h13.25v1.0h-13.25zM437.50 200.0h13.25v1.0h-13.25zM437.50 225.0h13.25v1.0h-13.25zM424.25 230.0h13.25v1.0h-13.25z" fill="#6b98cd"/>
<path d="M397.75 81.0h13.25v1.0h-13.25zM397.75 82.0h13.25v1.0h-13.25zM344.75 136.0h13.25v1.0h-13.25zM358.00 143.0h13.25v1.0h-13.25zM305.00 149.0h13.25v1.0h-13.25zM437.50 151.0h13.25v1.0h-13.25zM318.25 225.0h13.25v1.0h-13.25z" fill="#95b9de"/>
<path d="M437.50 82.0h13.25v1.0h-13.25z" fill="#f8c79b"/>
<path d="M344.75 83.0h13.25v1.0h-13.25zM305.00 94.0h13.25v1.0h-13.25zM411.00 96.0h13.25v1.0h-13.25zM358.00 113.0h13.25v1.0h-13.25zM411.00 120.0h13.25v1.0h-13.25zM305.00 123.0h13.25v1.0h-13.25zM424.25 130.0h13.25v1.0h-13.25zM384.50 134.0h13.25v1.0h-13.25zM411.00 138.0h13.25v1.0h-13.25zM384.50 155.0h13.25v1.0h-13.25zM371.25 162.0h13.25v1.0h-13.25zM344.75 170.0h13.25v1.0h-13.25zM331.50 193.0h13.25v1.0h-13.25zM358.00 217.0h13.25v1.0h-13.25zM371.25 234.0h13.25v1.0h-13.25z" fill="#d6e5f0"/>
<path d="M424.25 83.0h13.25v1.0h-13.25z" fill="#f09768"/>
<path d="M318.25 84.0h13.25v1.0h-13.25zM384.50 112.0h13.25v1.0h-13.25zM305.00 116.0h13.25v1.0h-13.25zM344.75 130.0h13.25v1.0h-13.25zM358.00 146.0h13.25v1.0h-13.25zM344.75 147.0h13.25v1.0h-13.25zM437.50 167.0h13.25v1.0h-13.25zM424.25 174.0h13.25v1.0h-13.25zM358.00 220.0h13.25v1.0h-13.25z" fill="#9abde0"/>
<path d="M424.25 84.0h13.25v1.0h-13.25z" fill="#eb8154"/>
<path d="M358.00 85.0h13.25v1.0h-13.25zM411.00 88.0h13.25v1.0h-13.25zM358.00 99.0h13.25v1.0h-13.25zM411.00 144.0h13.25v1.0h-13.25zM384.50 190.0h13.25v1.0h-13.25zM411.00 193.0h13.25v1.0h-13.25zM371.25 245.0h13.25v0.5h-13.25z" fill="#f2f5f3"/>
<path d="M411.00 85.0h13.25v1.0h-13.25zM397.75 135.0h13.25v1.0h-13.25zM358.00 230.0h13.25v1.0h-13.25zM305.00 235.0h13.25v1.0h-13.25zM344.75 239.0h13.25v1.0h-13.25z" fill="#f5f4ee"/>
<path d="M424.25 85.0h13.25v1.0h-13.25zM424.25 94.0h13.25v1.0h-13.25zM424.25 109.0h13.25v1.0h-13.25zM318.25 149.0h13.25v1.0h-13.25z" fill="#ec8557"/>
<path d="M424.25 86.0h13.25v1.0h-13.25zM344.75 187.0h13.25v1.0h-13.25z" fill="#ee9062"/>
<path d="M437.50 86.0h13.25v1.0h-13.25zM437.50 116.0h13.25v1.0h-13.25zM331.50 166.0h13.25v1.0h-13.25z" fill="#f8cca1"/>
<path d="M344.75 87.0h13.25v1.0h-13.25zM344.75 103.0h13.25v1.0h-13.25zM424.25 145.0h13.25v1.0h-13.25zM397.75 146.0h13.25v1.0h-13.25zM344.75 152.0h13.25v1.0h-13.25zM384.50 152.0h13.25v1.0h-13.25zM371.25 167.0h13.25v1.0h-13.25zM358.00 196.0h13.25v1.0h-13.25zM371.25 225.0h13.25v1.0h-13.25z" fill="#a8c7e4"/>
<path d="M397.75 87.0h13.25v1.0h-13.25zM305.00 146.0h13.25v1.0h-13.25zM358.00 164.0h13.25v1.0h-13.25z" fill="#97bbdf"/>
<path d="M411.00 87.0h13.25v1.0h-13.25zM305.00 88.0h13.25v1.0h-13.25zM371.25 92.0h13.25v1.0h-13.25zM384.50 191.0h13.25v1.0h-13.25zM305.00 205.0h13.25v1.0h-13.25z" fill="#dee9f1"/>
<path d="M318.25 88.0h13.25v1.0h-13.25zM437.50 193.0h13.25v1.0h-13.25zM437.50 217.0h13.25v1.0h-13.25zM424.25 244.0h13.25v1.0h-13.25z" fill="#7ca6d4"/>
<path d="M397.75 88.0h13.25v1.0h-13.25zM344.75 104.0h13.25v1.0h-13.25zM305.00 110.0h13.25v1.0h-13.25zM358.00 127.0h13.25v1.0h-13.25zM424.25 139.0h13.25v1.0h-13.25zM437.50 152.0h13.25v1.0h-13.25zM397.75 157.0h13.25v1.0h-13.25zM437.50 166.0h13.25v1.0h-13.25zM318.25 173.0h13.25v1.0h-13.25zM424.25 177.0h13.25v1.0h-13.25zM305.00 183.0h13.25v1.0h-13.25z" fill="#a7c6e4"/>
<path d="M424.25 88.0h13.25v1.0h-13.25z" fill="#ef9566"/>
<path d="M437.50 88.0h13.25v1.0h-13.25zM305.00 155.0h13.25v1.0h-13.25zM318.25 163.0h13.25v1.0h-13.25zM305.00 231.0h13.25v1.0h-13.25z" fill="#f6bb8e"/>
<path d="M424.25 89.0h13.25v1.0h-13.25z" fill="#df563b"/>
<path d="M437.50 89.0h13.25v1.0h-13.25zM358.00 188.0h13.25v1.0h-13.25z" fill="#f19f70"/>
<path d="M318.25 90.0h13.25v1.0h-13.25zM397.75 104.0h13.25v1.0h-13.25zM344.75 150.0h13.25v1.0h-13.25zM305.00 152.0h13.25v1.0h-13.25zM437.50 153.0h13.25v1.0h-13.25zM384.50 163.0h13.25v1.0h-13.25zM305.00 193.0h13.25v1.0h-13.25zM371.25 228.0h13.25v1.0h-13.25z" fill="#afcce6"/>
<path d="M424.25 90.0h13.25v1.0h-13.25z" fill="#e0593c"/>
<path d="M424.25 91.0h13.25v1.0h-13.25zM424.25 95.0h13.25v1.0h-13.25z" fill="#f5b384"/>
<path d="M437.50 91.0h13.25v1.0h-13.25z" fill="#f19d6e"/>
<path d="M424.25 92.0h13.25v1.0h-13.25z" fill="#f09869"/>
<path d="M305.00 93.0h13.25v1.0h-13.25zM371.25 160.0h13.25v1.0h-13.25zM358.00 205.0h13.25v1.0h-13.25zM371.25 236.0h13.25v1.0h-13.25z" fill="#bbd3e9"/>
<path d="M397.75 93.0h13.25v1.0h-13.25zM397.75 94.0h13.25v1.0h-13.25zM411.00 118.0h13.25v1.0h-13.25zM384.50 121.0h13.25v1.0h-13.25zM411.00 133.0h13.25v1.0h-13.25zM344.75 236.0h13.25v1.0h-13.25zM358.00 245.0h13.25v0.5h-13.25z" fill="#cadeee"/>
<path d="M437.50 93.0h13.25v1.0h-13.25zM344.75 181.0h13.25v1.0h-13.25zM384.50 245.0h13.25v0.5h-13.25z" fill="#f8cb9f"/>
<path d="M384.50 94.0h13.25v1.0h-13.25zM397.75 97.0h13.25v1.0h-13.25zM371.25 103.0h13.25v1.0h-13.25zM371.25 112.0h13.25v1.0h-13.25zM411.00 156.0h13.25v1.0h-13.25zM411.00 178.0h13.25v1.0h-13.25zM411.00 222.0h13.25v1.0h-13.25zM397.75 235.0h13.25v1.0h-13.25zM411.00 235.0h13.25v1.0h-13.25z" fill="#e6eef1"/>
<path d="M437.50 94.0h13.25v1.0h-13.25z" fill="#f19e70"/>
<path d="M437.50 95.0h13.25v1.0h-13.25zM384.50 236.0h13.25v1.0h-13.25z" fill="#f09a6b"/>
<path d="M424.25 97.0h13.25v1.0h-13.25zM331.50 155.0h13.25v1.0h-13.25zM305.00 226.0h13.25v1.0h-13.25z" fill="#f09668"/>
<path d="M437.50 97.0h13.25v1.0h-13.25zM305.00 139.0h13.25v1.0h-13.25z" fill="#ed8b5d"/>
<path d="M344.75 98.0h13.25v1.0h-13.25zM344.75 194.0h13.25v1.0h-13.25zM397.75 216.0h13.25v1.0h-13.25zM305.00 241.0h13.25v1.0h-13.25z" fill="#fbe7cd"/>
<path d="M437.50 98.0h13.25v1.0h-13.25z" fill="#e05b3d"/>
<path d="M397.75 99.0h13.25v1.0h-13.25zM397.75 103.0h13.25v1.0h-13.25zM437.50 140.0h13.25v1.0h-13.25zM358.00 163.0h13.25v1.0h-13.25zM331.50 186.0h13.25v1.0h-13.25zM437.50 189.0h13.25v1.0h-13.25z" fill="#accae5"/>
<path d="M437.50 99.0h13.25v1.0h-13.25zM411.00 197.0h13.25v1.0h-13.25z" fill="#e66f4a"/>
<path d="M318.25 100.0h13.25v1.0h-13.25zM424.25 167.0h13.25v1.0h-13.25z" fill="#6e9ace"/>
<path d="M371.25 100.0h13.25v1.0h-13.25zM424.25 112.0h13.25v1.0h-13.25zM437.50 115.0h13.25v1.0h-13.25z" fill="#f7be91"/>
<path d="M424.25 100.0h13.25v1.0h-13.25zM424.25 101.0h13.25v1.0h-13.25z" fill="#e26141"/>
<path d="M437.50 100.0h13.25v1.0h-13.25z" fill="#df593c"/>
<path d="M397.75 101.0h13.25v1.0h-13.25zM318.25 139.0h13.25v1.0h-13.25z" fill="#d0e1ef"/>
<path d="M384.50 103.0h13.25v1.0h-13.25z" fill="#abc8e4"/>
<path d="M424.25 103.0h13.25v1.0h-13.25z" fill="#ef9263"/>
<path d="M318.25 104.0h13.25v1.0h-13.25zM437.50 230.0h13.25v1.0h-13.25zM424.25 237.0h13.25v1.0h-13.25zM424.25 239.0h13.25v1.0h-13.25zM318.25 240.0h13.25v1.0h-13.25zM437.50 243.0h13.25v1.0h-13.25z" fill="#6e9bce"/>
<path d="M331.50 104.0h13.25v1.0h-13.25zM318.25 205.0h13.25v1.0h-13.25zM437.50 239.0h13.25v1.0h-13.25z" fill="#88afd8"/>
<path d="M371.25 104.0h13.25v1.0h-13.25zM411.00 106.0h13.25v1.0h-13.25zM397.75 113.0h13.25v1.0h-13.25zM358.00 116.0h13.25v1.0h-13.25zM384.50 127.0h13.25v1.0h-13.25zM358.00 135.0h13.25v1.0h-13.25zM424.25 159.0h13.25v1.0h-13.25zM358.00 167.0h13.25v1.0h-13.25zM331.50 181.0h13.25v1.0h-13.25zM305.00 195.0h13.25v1.0h-13.25zM424.25 198.0h13.25v1.0h-13.25zM371.25 220.0h13.25v1.0h-13.25zM358.00 243.0h13.25v1.0h-13.25z" fill="#9ec0e1"/>
<path d="M384.50 104.0h13.25v1.0h-13.25zM358.00 105.0h13.25v1.0h-13.25zM384.50 119.0h13.25v1.0h-13.25zM371.25 133.0h13.25v1.0h-13.25zM411.00 149.0h13.25v1.0h-13.25zM437.50 174.0h13.25v1.0h-13.25zM358.00 202.0h13.25v1.0h-13.25z" fill="#a5c5e3"/>
<path d="M411.00 104.0h13.25v1.0h-13.25zM424.25 146.0h13.25v1.0h-13.25z" fill="#94b9dd"/>
<path d="M318.25 105.0h13.25v1.0h-13.25zM318.25 228.0h13.25v1.0h-13.25z" fill="#5b88c4"/>
<path d="M344.75 105.0h13.25v1.0h-13.25zM437.50 168.0h13.25v1.0h-13.25z" fill="#749fd1"/>
<path d="M371.25 105.0h13.25v1.0h-13.25zM437.50 185.0h13.25v1.0h-13.25z" fill="#9cbee0"/>
<path d="M411.00 105.0h13.25v1.0h-13.25zM437.50 226.0h13.25v1.0h-13.25z" fill="#6997cc"/>
<path d="M358.00 106.0h13.25v1.0h-13.25zM437.50 155.0h13.25v1.0h-13.25z" fill="#cddfee"/>
<path d="M424.25 106.0h13.25v1.0h-13.25zM437.50 112.0h13.25v1.0h-13.25zM305.00 137.0h13.25v1.0h-13.25z" fill="#f9d5aa"/>
<path d="M437.50 108.0h13.25v1.0h-13.25z" fill="#f7c296"/>
<path d="M371.25 109.0h13.25v1.0h-13.25z" fill="#faebd7"/>
<path d="M411.00 109.0h13.25v1.0h-13.25zM397.75 131.0h13.25v1.0h-13.25zM358.00 155.0h13.25v1.0h-13.25zM358.00 235.0h13.25v1.0h-13.25z" fill="#ecf1f2"/>
<path d="M424.25 110.0h13.25v1.0h-13.25zM344.75 174.0h13.25v1.0h-13.25zM384.50 209.0h13.25v1.0h-13.25z" fill="#ea7d52"/>
<path d="M411.00 111.0h13.25v1.0h-13.25zM344.75 122.0h13.25v1.0h-13.25zM424.25 155.0h13.25v1.0h-13.25zM397.75 179.0h13.25v1.0h-13.25zM318.25 193.0h13.25v1.0h-13.25zM344.75 225.0h13.25v1.0h-13.25zM371.25 230.0h13.25v1.0h-13.25z" fill="#c3d9ec"/>
<path d="M424.25 111.0h13.25v1.0h-13.25zM318.25 153.0h13.25v1.0h-13.25z" fill="#ef9163"/>
<path d="M424.25 113.0h13.25v1.0h-13.25zM331.50 170.0h13.25v1.0h-13.25z" fill="#f2a475"/>
<path d="M411.00 114.0h13.25v1.0h-13.25zM344.75 120.0h13.25v1.0h-13.25zM371.25 153.0h13.25v1.0h-13.25zM384.50 186.0h13.25v1.0h-13.25zM411.00 219.0h13.25v1.0h-13.25z" fill="#bcd4ea"/>
<path d="M371.25 115.0h13.25v1.0h-13.25z" fill="#c2d9eb"/>
<path d="M344.75 116.0h13.25v1.0h-13.25zM384.50 132.0h13.25v1.0h-13.25zM437.50 170.0h13.25v1.0h-13.25zM344.75 208.0h13.25v1.0h-13.25z" fill="#a9c7e4"/>
<path d="M411.00 116.0h13.25v1.0h-13.25zM371.25 136.0h13.25v1.0h-13.25zM437.50 198.0h13.25v1.0h-13.25z" fill="#a3c4e2"/>
<path d="M384.50 117.0h13.25v1.0h-13.25zM437.50 212.0h13.25v1.0h-13.25z" fill="#91b7dc"/>
<path d="M424.25 117.0h13.25v1.0h-13.25zM384.50 210.0h13.25v1.0h-13.25zM305.00 218.0h13.25v1.0h-13.25z" fill="#f6ba8c"/>
<path d="M331.50 118.0h13.25v1.0h-13.25zM384.50 157.0h13.25v1.0h-13.25z" fill="#9dbfe0"/>
<path d="M424.25 119.0h13.25v1.0h-13.25z" fill="#f5b385"/>
<path d="M424.25 120.0h13.25v1.0h-13.25zM305.00 213.0h13.25v1.0h-13.25z" fill="#f6b586"/>
<path d="M424.25 121.0h13.25v1.0h-13.25z" fill="#f6ba8d"/>
<path d="M437.50 121.0h13.25v1.0h-13.25zM437.50 163.0h13.25v1.0h-13.25zM358.00 190.0h13.25v1.0h-13.25z" fill="#f19e6f"/>
<path d="M437.50 123.0h13.25v1.0h-13.25zM318.25 169.0h13.25v1.0h-13.25zM371.25 182.0h13.25v1.0h-13.25z" fill="#fbe7ce"/>
<path d="M305.00 124.0h13.25v1.0h-13.25zM371.25 156.0h13.25v1.0h-13.25zM305.00 203.0h13.25v1.0h-13.25zM344.75 222.0h13.25v1.0h-13.25z" fill="#bed6ea"/>
<path d="M318.25 124.0h13.25v1.0h-13.25zM424.25 153.0h13.25v1.0h-13.25zM371.25 166.0h13.25v1.0h-13.25zM331.50 179.0h13.25v1.0h-13.25zM358.00 201.0h13.25v1.0h-13.25zM318.25 231.0h13.25v1.0h-13.25z" fill="#a0c1e1"/>
<path d="M331.50 124.0h13.25v1.0h-13.25z" fill="#d9e6f0"/>
<path d="M424.25 125.0h13.25v1.0h-13.25zM318.25 137.0h13.25v1.0h-13.25zM331.50 143.0h13.25v1.0h-13.25z" fill="#fadfbf"/>
<path d="M318.25 126.0h13.25v1.0h-13.25z" fill="#e46a47"/>
<path d="M411.00 126.0h13.25v1.0h-13.25z" fill="#f0f3f3"/>
<path d="M318.25 127.0h13.25v1.0h-13.25z" fill="#e97a50"/>
<path d="M424.25 127.0h13.25v1.0h-13.25z" fill="#f5f3ed"/>
<path d="M318.25 128.0h13.25v1.0h-13.25z" fill="#e0593d"/>
<path d="M318.25 129.0h13.25v1.0h-13.25z" fill="#e9794f"/>
<path d="M331.50 130.0h13.25v1.0h-13.25z" fill="#ed885a"/>
<path d="M358.00 130.0h13.25v1.0h-13.25zM331.50 185.0h13.25v1.0h-13.25z" fill="#afcbe6"/>
<path d="M305.00 131.0h13.25v1.0h-13.25z" fill="#f9d0a6"/>
<path d="M437.50 131.0h13.25v1.0h-13.25zM331.50 152.0h13.25v1.0h-13.25zM397.75 166.0h13.25v1.0h-13.25z" fill="#f7f0e4"/>
<path d="M358.00 132.0h13.25v1.0h-13.25zM371.25 140.0h13.25v1.0h-13.25z" fill="#c7dbed"/>
<path d="M331.50 133.0h13.25v1.0h-13.25z" fill="#ee8f61"/>
<path d="M384.50 133.0h13.25v1.0h-13.25z" fill="#a6c6e3"/>
<path d="M305.00 134.0h13.25v1.0h-13.25zM305.00 156.0h13.25v1.0h-13.25z" fill="#f8c89d"/>
<path d="M318.25 134.0h13.25v1.0h-13.25z" fill="#f9d3a8"/>
<path d="M331.50 134.0h13.25v1.0h-13.25z" fill="#e7744c"/>
<path d="M397.75 134.0h13.25v1.0h-13.25zM331.50 175.0h13.25v1.0h-13.25zM411.00 192.0h13.25v1.0h-13.25z" fill="#eef2f2"/>
<path d="M305.00 135.0h13.25v1.0h-13.25zM397.75 211.0h13.25v1.0h-13.25zM384.50 233.0h13.25v1.0h-13.25z" fill="#f7c093"/>
<path d="M331.50 135.0h13.25v1.0h-13.25zM305.00 142.0h13.25v1.0h-13.25z" fill="#e6704a"/>
<path d="M344.75 135.0h13.25v1.0h-13.25zM358.00 136.0h13.25v1.0h-13.25zM344.75 164.0h13.25v1.0h-13.25zM437.50 164.0h13.25v1.0h-13.25zM318.25 204.0h13.25v1.0h-13.25z" fill="#8cb2da"/>
<path d="M424.25 135.0h13.25v1.0h-13.25z" fill="#f4f5f0"/>
<path d="M331.50 136.0h13.25v1.0h-13.25z" fill="#e6714b"/>
<path d="M331.50 137.0h13.25v1.0h-13.25zM344.75 188.0h13.25v1.0h-13.25z" fill="#e46845"/>
<path d="M358.00 139.0h13.25v1.0h-13.25zM384.50 187.0h13.25v1.0h-13.25zM371.25 203.0h13.25v1.0h-13.25zM344.75 226.0h13.25v1.0h-13.25z" fill="#c3d9eb"/>
<path d="M305.00 141.0h13.25v1.0h-13.25z" fill="#df573b"/>
<path d="M305.00 143.0h13.25v1.0h-13.25z" fill="#f0996b"/>
<path d="M305.00 144.0h13.25v1.0h-13.25z" fill="#e7744d"/>
<path d="M318.25 145.0h13.25v1.0h-13.25z" fill="#d73c2b"/>
<path d="M318.25 146.0h13.25v1.0h-13.25z" fill="#da4531"/>
<path d="M331.50 146.0h13.25v1.0h-13.25zM344.75 232.0h13.25v1.0h-13.25z" fill="#e3edf1"/>
<path d="M384.50 146.0h13.25v1.0h-13.25zM384.50 149.0h13.25v1.0h-13.25zM411.00 150.0h13.25v1.0h-13.25z" fill="#bbd4e9"/>
<path d="M437.50 146.0h13.25v1.0h-13.25zM318.25 187.0h13.25v1.0h-13.25z" fill="#97bbde"/>
<path d="M318.25 150.0h13.25v1.0h-13.25zM397.75 172.0h13.25v1.0h-13.25z" fill="#e8764d"/>
<path d="M318.25 151.0h13.25v1.0h-13.25z" fill="#e7724b"/>
<path d="M318.25 152.0h13.25v1.0h-13.25z" fill="#e36443"/>
<path d="M331.50 153.0h13.25v1.0h-13.25zM358.00 191.0h13.25v1.0h-13.25zM397.75 210.0h13.25v1.0h-13.25z" fill="#f6b789"/>
<path d="M305.00 154.0h13.25v1.0h-13.25zM384.50 161.0h13.25v1.0h-13.25zM411.00 173.0h13.25v1.0h-13.25z" fill="#f9ecd9"/>
<path d="M318.25 154.0h13.25v1.0h-13.25z" fill="#ef9162"/>
<path d="M397.75 154.0h13.25v1.0h-13.25zM331.50 196.0h13.25v1.0h-13.25zM371.25 200.0h13.25v1.0h-13.25zM371.25 210.0h13.25v1.0h-13.25z" fill="#cbdfee"/>
<path d="M318.25 155.0h13.25v1.0h-13.25z" fill="#ef9364"/>
<path d="M318.25 157.0h13.25v1.0h-13.25zM411.00 200.0h13.25v1.0h-13.25z" fill="#ef9365"/>
<path d="M305.00 158.0h13.25v1.0h-13.25z" fill="#f8eee0"/>
<path d="M331.50 158.0h13.25v1.0h-13.25zM305.00 172.0h13.25v1.0h-13.25zM305.00 210.0h13.25v1.0h-13.25zM397.75 223.0h13.25v1.0h-13.25zM331.50 233.0h13.25v1.0h-13.25zM411.00 238.0h13.25v1.0h-13.25z" fill="#fadab5"/>
<path d="M371.25 159.0h13.25v1.0h-13.25zM358.00 223.0h13.25v1.0h-13.25z" fill="#9abddf"/>
<path d="M397.75 161.0h13.25v1.0h-13.25zM397.75 200.0h13.25v1.0h-13.25z" fill="#fbe9d0"/>
<path d="M437.50 161.0h13.25v1.0h-13.25zM424.25 185.0h13.25v1.0h-13.25zM318.25 215.0h13.25v1.0h-13.25z" fill="#90b6dc"/>
<path d="M358.00 162.0h13.25v1.0h-13.25z" fill="#b2cde6"/>
<path d="M424.25 162.0h13.25v1.0h-13.25zM318.25 241.0h13.25v1.0h-13.25z" fill="#6492c9"/>
<path d="M331.50 163.0h13.25v1.0h-13.25z" fill="#f6b88b"/>
<path d="M397.75 163.0h13.25v1.0h-13.25zM397.75 174.0h13.25v1.0h-13.25zM411.00 183.0h13.25v1.0h-13.25z" fill="#f7efe2"/>
<path d="M424.25 163.0h13.25v1.0h-13.25zM318.25 214.0h13.25v1.0h-13.25z" fill="#6391c9"/>
<path d="M305.00 168.0h13.25v1.0h-13.25zM331.50 206.0h13.25v1.0h-13.25zM397.75 233.0h13.25v1.0h-13.25z" fill="#fbe6cc"/>
<path d="M358.00 168.0h13.25v1.0h-13.25zM424.25 212.0h13.25v1.0h-13.25z" fill="#78a2d2"/>
<path d="M331.50 169.0h13.25v1.0h-13.25z" fill="#f9d1a7"/>
<path d="M344.75 169.0h13.25v1.0h-13.25zM305.00 180.0h13.25v1.0h-13.25zM305.00 192.0h13.25v1.0h-13.25z" fill="#c4d9ec"/>
<path d="M305.00 171.0h13.25v1.0h-13.25z" fill="#f8ca9e"/>
<path d="M318.25 171.0h13.25v1.0h-13.25z" fill="#f19d6f"/>
<path d="M344.75 172.0h13.25v1.0h-13.25z" fill="#f6bc8e"/>
<path d="M358.00 174.0h13.25v1.0h-13.25z" fill="#f6be90"/>
<path d="M358.00 175.0h13.25v1.0h-13.25zM371.25 177.0h13.25v1.0h-13.25zM384.50 244.0h13.25v1.0h-13.25z" fill="#f9d7b0"/>
<path d="M318.25 179.0h13.25v1.0h-13.25zM424.25 224.0h13.25v1.0h-13.25zM424.25 241.0h13.25v1.0h-13.25z" fill="#5f8dc7"/>
<path d="M437.50 179.0h13.25v1.0h-13.25zM424.25 243.0h13.25v1.0h-13.25z" fill="#739ed0"/>
<path d="M344.75 180.0h13.25v1.0h-13.25z" fill="#f3a879"/>
<path d="M424.25 180.0h13.25v1.0h-13.25zM424.25 203.0h13.25v1.0h-13.25z" fill="#719dd0"/>
<path d="M318.25 181.0h13.25v1.0h-13.25z" fill="#517ebe"/>
<path d="M424.25 181.0h13.25v1.0h-13.25z" fill="#4c79bc"/>
<path d="M437.50 181.0h13.25v1.0h-13.25zM424.25 200.0h13.25v1.0h-13.25z" fill="#608ec7"/>
<path d="M318.25 183.0h13.25v1.0h-13.25zM424.25 215.0h13.25v1.0h-13.25zM437.50 215.0h13.25v1.0h-13.25zM318.25 233.0h13.25v1.0h-13.25z" fill="#6f9bcf"/>
<path d="M344.75 183.0h13.25v1.0h-13.25zM305.00 228.0h13.25v1.0h-13.25z" fill="#ed895b"/>
<path d="M384.50 183.0h13.25v1.0h-13.25z" fill="#d3e4ef"/>
<path d="M344.75 184.0h13.25v1.0h-13.25z" fill="#ee8f60"/>
<path d="M424.25 184.0h13.25v1.0h-13.25z" fill="#739fd0"/>
<path d="M344.75 185.0h13.25v1.0h-13.25z" fill="#f19b6c"/>
<path d="M371.25 185.0h13.25v1.0h-13.25z" fill="#f9d6ac"/>
<path d="M358.00 187.0h13.25v1.0h-13.25zM397.75 212.0h13.25v1.0h-13.25z" fill="#f5b182"/>
<path d="M344.75 189.0h13.25v1.0h-13.25zM411.00 198.0h13.25v1.0h-13.25z" fill="#df583c"/>
<path d="M424.25 189.0h13.25v1.0h-13.25z" fill="#7ea7d4"/>
<path d="M344.75 190.0h13.25v1.0h-13.25z" fill="#e26041"/>
<path d="M344.75 191.0h13.25v1.0h-13.25z" fill="#de5339"/>
<path d="M331.50 192.0h13.25v1.0h-13.25zM344.75 204.0h13.25v1.0h-13.25z" fill="#d5e5f0"/>
<path d="M358.00 192.0h13.25v1.0h-13.25z" fill="#f5b485"/>
<path d="M371.25 192.0h13.25v1.0h-13.25z" fill="#fbe6ca"/>
<path d="M424.25 195.0h13.25v1.0h-13.25zM318.25 232.0h13.25v1.0h-13.25zM424.25 242.0h13.25v1.0h-13.25z" fill="#6996cc"/>
<path d="M411.00 196.0h13.25v1.0h-13.25z" fill="#dc4d35"/>
<path d="M437.50 203.0h13.25v1.0h-13.25zM437.50 237.0h13.25v1.0h-13.25z" fill="#8ab0d9"/>
<path d="M437.50 204.0h13.25v1.0h-13.25z" fill="#a8c6e4"/>
<path d="M384.50 205.0h13.25v1.0h-13.25zM397.75 241.0h13.25v1.0h-13.25z" fill="#f9ecdb"/>
<path d="M318.25 206.0h13.25v1.0h-13.25z" fill="#517fbf"/>
<path d="M424.25 206.0h13.25v1.0h-13.25z" fill="#4b78bb"/>
<path d="M318.25 207.0h13.25v1.0h-13.25zM318.25 221.0h13.25v1.0h-13.25z" fill="#4d7abc"/>
<path d="M331.50 207.0h13.25v1.0h-13.25z" fill="#f8eedd"/>
<path d="M424.25 207.0h13.25v1.0h-13.25z" fill="#5886c3"/>
<path d="M331.50 208.0h13.25v1.0h-13.25zM305.00 237.0h13.25v1.0h-13.25zM331.50 242.0h13.25v1.0h-13.25z" fill="#fbe4c8"/>
<path d="M437.50 208.0h13.25v1.0h-13.25z" fill="#85add7"/>
<path d="M371.25 209.0h13.25v1.0h-13.25z" fill="#dae8f0"/>
<path d="M424.25 211.0h13.25v1.0h-13.25zM437.50 220.0h13.25v1.0h-13.25zM424.25 233.0h13.25v1.0h-13.25z" fill="#5d8ac5"/>
<path d="M331.50 212.0h13.25v1.0h-13.25z" fill="#f6b687"/>
<path d="M384.50 213.0h13.25v1.0h-13.25zM331.50 226.0h13.25v1.0h-13.25zM331.50 245.0h13.25v0.5h-13.25z" fill="#f9d1a6"/>
<path d="M397.75 213.0h13.25v1.0h-13.25zM384.50 217.0h13.25v1.0h-13.25z" fill="#f5af80"/>
<path d="M437.50 214.0h13.25v1.0h-13.25z" fill="#709dcf"/>
<path d="M305.00 215.0h13.25v1.0h-13.25z" fill="#f7c094"/>
<path d="M397.75 215.0h13.25v1.0h-13.25zM331.50 237.0h13.25v1.0h-13.25z" fill="#f8c89c"/>
<path d="M424.25 216.0h13.25v1.0h-13.25z" fill="#5e8cc6"/>
<path d="M424.25 217.0h13.25v1.0h-13.25z" fill="#83acd7"/>
<path d="M397.75 218.0h13.25v1.0h-13.25z" fill="#fae1c3"/>
<path d="M424.25 218.0h13.25v1.0h-13.25zM437.50 219.0h13.25v1.0h-13.25z" fill="#5a88c4"/>
<path d="M318.25 219.0h13.25v1.0h-13.25z" fill="#6390c9"/>
<path d="M318.25 220.0h13.25v1.0h-13.25zM424.25 232.0h13.25v1.0h-13.25z" fill="#5d8bc6"/>
<path d="M437.50 221.0h13.25v1.0h-13.25z" fill="#5482c0"/>
<path d="M305.00 222.0h13.25v1.0h-13.25z" fill="#f3a678"/>
<path d="M437.50 222.0h13.25v1.0h-13.25z" fill="#5481c0"/>
<path d="M318.25 223.0h13.25v1.0h-13.25z" fill="#4d7bbc"/>
<path d="M424.25 223.0h13.25v1.0h-13.25z" fill="#507ebe"/>
<path d="M437.50 223.0h13.25v1.0h-13.25z" fill="#4471b7"/>
<path d="M318.25 224.0h13.25v1.0h-13.25z" fill="#5684c2"/>
<path d="M384.50 224.0h13.25v1.0h-13.25z" fill="#f5f3eb"/>
<path d="M437.50 224.0h13.25v1.0h-13.25z" fill="#4b79bb"/>
<path d="M397.75 226.0h13.25v1.0h-13.25z" fill="#f8d0a6"/>
<path d="M305.00 227.0h13.25v1.0h-13.25z" fill="#f09667"/>
<path d="M424.25 227.0h13.25v1.0h-13.25z" fill="#5b89c4"/>
<path d="M437.50 227.0h13.25v1.0h-13.25zM424.25 235.0h13.25v1.0h-13.25z" fill="#5381c0"/>
<path d="M331.50 232.0h13.25v1.0h-13.25z" fill="#f6be91"/>
<path d="M424.25 234.0h13.25v1.0h-13.25z" fill="#5784c2"/>
<path d="M437.50 236.0h13.25v1.0h-13.25z" fill="#8fb4db"/>
<path d="M384.50 239.0h13.25v1.0h-13.25z" fill="#f6b788"/>
<path d="M424.25 240.0h13.25v1.0h-13.25z" fill="#608ec8"/>
<path d="M437.50 241.0h13.25v1.0h-13.25z" fill="#5280bf"/>
<path d="M318.25 242.0h13.25v1.0h-13.25z" fill="#6491c9"/>
<path d="M411.00 242.0h13.25v1.0h-13.25z" fill="#f3f6f3"/>
<path d="M318.25 243.0h13.25v1.0h-13.25z" fill="#4e7bbd"/>
<path d="M318.25 244.0h13.25v1.0h-13.25z" fill="#4673b8"/>
<path d="M318.25 245.0h13.25v0.5h-13.25z" fill="#5a87c4"/>
<rect x="344.60" y="21.40" width="39.50" height="39.80" fill="none" stroke="#ffe800" stroke-width="2.6"/>
<rect x="423.80" y="21.40" width="26.70" height="22.00" fill="none" stroke="#ffe800" stroke-width="2.6"/>
<rect x="423.80" y="61.70" width="26.70" height="62.00" fill="none" stroke="#ffe800" stroke-width="2.6"/>
<rect x="304.60" y="123.70" width="40.10" height="49.40" fill="none" stroke="#ffe800" stroke-width="2.6"/>
<rect x="344.60" y="173.40" width="39.50" height="24.30" fill="none" stroke="#ffe800" stroke-width="2.6"/>
<rect x="304.60" y="197.30" width="40.10" height="49.00" fill="none" stroke="#ffe800" stroke-width="2.6"/>
<rect x="344.60" y="197.30" width="39.50" height="49.00" fill="none" stroke="#ffe800" stroke-width="2.6"/>
<rect x="384.30" y="197.30" width="39.50" height="49.00" fill="none" stroke="#ffe800" stroke-width="2.6"/>
<rect x="304.90" y="248.30" width="39.70" height="7.30" fill="#939393"/>
<text x="324.75" y="254.00" font-size="4.6" text-anchor="middle" fill="#333" stroke="#333" stroke-width="0.1">NC</text>
<rect x="344.60" y="248.30" width="39.80" height="7.30" fill="#f08a90"/>
<text x="364.50" y="254.00" font-size="4.6" text-anchor="middle" fill="#333" stroke="#333" stroke-width="0.1">GelMA</text>
<rect x="384.40" y="248.30" width="39.50" height="7.30" fill="#7d9de2"/>
<text x="404.15" y="254.00" font-size="4.6" text-anchor="middle" fill="#333" stroke="#333" stroke-width="0.1">CTS</text>
<rect x="423.90" y="248.30" width="26.90" height="7.30" fill="#80c9a2"/>
<text x="437.35" y="254.00" font-size="4.6" text-anchor="middle" fill="#333" stroke="#333" stroke-width="0.1">PLA</text>
<path d="M298.0 22.4H296.0V22.9H298.0M298.0 21.8H295.7V22.6H296.0M298.0 21.3H294.5V22.2H295.7M298.0 25.0H295.2V25.6H298.0M298.0 24.5H294.9V25.3H295.2M298.0 24.0H294.6V24.9H294.9M298.0 23.4H293.4V24.4H294.6M294.5 21.8H290.6V23.9H293.4M298.0 26.6H295.1V27.2H298.0M298.0 26.1H294.8V26.9H295.1M298.0 27.7H296.9V28.2H298.0M294.8 26.5H294.5V28.0H296.9M298.0 28.8H295.2V29.3H298.0M298.0 30.4H295.7V30.9H298.0M298.0 31.5H296.3V32.0H298.0M295.7 30.7H294.2V31.7H296.3M298.0 29.8H293.9V31.2H294.2M295.2 29.0H293.6V30.5H293.9M294.5 27.2H291.4V29.8H293.6M298.0 32.5H296.5V33.1H298.0M298.0 33.6H296.1V34.1H298.0M298.0 34.7H296.5V35.2H298.0M296.1 33.9H293.6V34.9H296.5M296.5 32.8H292.6V34.4H293.6M298.0 36.3H296.0V36.8H298.0M298.0 37.3H295.1V37.9H298.0M296.0 36.5H293.8V37.6H295.1M298.0 35.7H293.5V37.1H293.8M292.6 33.6H289.8V36.4H293.5M291.4 28.5H289.0V35.0H289.8M290.6 22.9H286.8V31.8H289.0M298.0 39.5H295.6V40.0H298.0M298.0 38.9H294.4V39.7H295.6M298.0 38.4H294.1V39.3H294.4M298.0 40.5H295.5V41.1H298.0M298.0 41.6H295.8V42.1H298.0M298.0 43.2H295.2V43.7H298.0M298.0 42.7H294.0V43.5H295.2M295.8 41.9H293.7V43.1H294.0M295.5 40.8H292.2V42.5H293.7M298.0 45.3H295.7V45.9H298.0M298.0 44.8H293.9V45.6H295.7M298.0 44.3H293.5V45.2H293.9M292.2 41.6H291.5V44.7H293.5M294.1 38.9H290.1V43.2H291.5M298.0 48.0H297.0V48.6H298.0M298.0 47.5H296.2V48.3H297.0M298.0 46.9H293.7V47.9H296.2M298.0 46.4H293.4V47.4H293.7M298.0 50.2H295.1V50.7H298.0M298.0 49.6H294.8V50.4H295.1M298.0 49.1H294.5V50.0H294.8M293.4 46.9H291.6V49.6H294.5M290.1 41.0H286.9V48.2H291.6M286.8 27.3H284.0V44.6H286.9M298.0 51.2H296.9V51.8H298.0M296.9 51.5H295.9V52.3H298.0M298.0 52.8H296.7V53.4H298.0M295.9 51.9H294.3V53.1H296.7M298.0 54.4H296.6V55.0H298.0M298.0 53.9H296.3V54.7H296.6M298.0 55.5H296.4V56.0H298.0M298.0 57.1H294.9V57.6H298.0M298.0 56.6H294.6V57.4H294.9M296.4 55.8H293.6V57.0H294.6M296.3 54.3H291.9V56.4H293.6M294.3 52.5H289.9V55.3H291.9M298.0 58.2H295.3V58.7H298.0M298.0 59.2H295.1V59.8H298.0M295.3 58.4H293.6V59.5H295.1M298.0 60.3H297.0V60.8H298.0M298.0 61.9H297.1V62.4H298.0M298.0 61.4H296.2V62.2H297.1M297.0 60.6H294.4V61.8H296.2M298.0 63.0H296.4V63.5H298.0M298.0 66.2H296.4V66.7H298.0M298.0 65.7H296.1V66.5H296.4M298.0 65.1H293.4V66.1H296.1M298.0 64.6H293.1V65.6H293.4M298.0 64.0H292.8V65.1H293.1M296.4 63.2H292.5V64.6H292.8M294.4 61.2H290.8V63.9H292.5M293.6 59.0H289.7V62.5H290.8M289.9 53.9H287.9V60.8H289.7M298.0 68.9H296.6V69.4H298.0M298.0 68.3H294.3V69.1H296.6M298.0 67.8H294.0V68.7H294.3M298.0 67.3H293.7V68.3H294.0M298.0 69.9H296.9V70.5H298.0M298.0 71.0H295.9V71.5H298.0M296.9 70.2H295.5V71.3H295.9M298.0 72.1H296.0V72.6H298.0M295.5 70.7H291.9V72.3H296.0M293.7 67.8H290.1V71.5H291.9M298.0 73.1H296.4V73.7H298.0M298.0 74.7H295.9V75.3H298.0M298.0 75.8H295.3V76.3H298.0M295.9 75.0H294.8V76.1H295.3M298.0 74.2H294.4V75.5H294.8M296.4 73.4H291.8V74.9H294.4M298.0 76.9H295.3V77.4H298.0M298.0 77.9H295.2V78.5H298.0M295.3 77.1H293.7V78.2H295.2M298.0 79.0H296.7V79.5H298.0M293.7 77.7H293.1V79.3H296.7M291.8 74.1H290.7V78.5H293.1M290.1 69.6H289.1V76.3H290.7M298.0 80.1H296.6V80.6H298.0M298.0 81.1H295.5V81.7H298.0M298.0 82.8H294.9V83.3H298.0M298.0 82.2H293.9V83.0H294.9M298.0 83.8H294.9V84.4H298.0M293.9 82.6H293.6V84.1H294.9M295.5 81.4H293.3V83.4H293.6M296.6 80.3H292.4V82.4H293.3M289.1 73.0H287.2V81.4H292.4M298.0 84.9H295.0V85.4H298.0M298.0 86.0H296.1V86.5H298.0M296.1 86.2H294.7V87.0H298.0M295.0 85.2H292.9V86.6H294.7M298.0 88.1H295.0V88.6H298.0M298.0 87.6H294.4V88.4H295.0M298.0 89.2H296.8V89.7H298.0M298.0 90.8H296.4V91.3H298.0M298.0 90.2H294.4V91.0H296.4M296.8 89.4H292.5V90.6H294.4M298.0 92.4H296.3V92.9H298.0M298.0 91.8H294.0V92.6H296.3M292.5 90.0H291.6V92.2H294.0M294.4 88.0H291.3V91.1H291.6M292.9 85.9H290.5V89.5H291.3M287.2 77.2H285.1V87.7H290.5M287.9 57.3H282.2V82.4H285.1M298.0 93.4H295.6V94.0H298.0M298.0 94.5H296.4V95.0H298.0M295.6 93.7H294.2V94.8H296.4M298.0 96.1H297.2V96.6H298.0M298.0 95.6H293.9V96.4H297.2M294.2 94.2H292.2V96.0H293.9M298.0 97.2H295.1V97.7H298.0M298.0 98.8H296.7V99.3H298.0M298.0 98.2H295.7V99.1H296.7M295.1 97.4H294.2V98.6H295.7M298.0 100.4H295.8V100.9H298.0M298.0 99.9H295.5V100.7H295.8M294.2 98.0H292.4V100.3H295.5M298.0 101.5H295.0V102.0H298.0M298.0 102.5H296.1V103.1H298.0M298.0 103.6H295.0V104.1H298.0M298.0 105.2H295.0V105.7H298.0M298.0 104.7H294.7V105.5H295.0M295.0 103.9H293.6V105.1H294.7M296.1 102.8H292.5V104.5H293.6M295.0 101.7H292.2V103.6H292.5M292.4 99.2H289.5V102.7H292.2M292.2 95.1H288.7V100.9H289.5M298.0 106.8H296.8V107.3H298.0M298.0 106.3H295.2V107.1H296.8M298.0 108.4H296.0V108.9H298.0M298.0 107.9H295.0V108.7H296.0M298.0 110.0H297.0V110.5H298.0M298.0 109.5H295.0V110.3H297.0M295.0 108.3H293.7V109.9H295.0M298.0 111.6H296.0V112.1H298.0M298.0 112.7H295.9V113.2H298.0M296.0 111.9H293.7V112.9H295.9M298.0 111.1H292.7V112.4H293.7M293.7 109.1H291.2V111.7H292.7M295.2 106.7H289.8V110.4H291.2M288.7 98.0H285.8V108.5H289.8M282.2 69.9H281.5V103.3H285.8M284.0 36.0H281.2V86.6H281.5M298.0 114.3H294.9V114.8H298.0M298.0 115.3H295.2V115.9H298.0M294.9 114.5H294.6V115.6H295.2M298.0 113.7H294.3V115.1H294.6M298.0 116.4H296.2V117.0H298.0M294.3 114.4H293.7V116.7H296.2M298.0 118.6H295.6V119.1H298.0M298.0 118.0H294.4V118.8H295.6M298.0 117.5H293.3V118.4H294.4M293.7 115.5H291.9V118.0H293.3M298.0 119.6H296.9V120.2H298.0M298.0 120.7H294.9V121.2H298.0M294.9 121.0H294.6V121.8H298.0M296.9 119.9H292.6V121.4H294.6M298.0 123.4H294.8V123.9H298.0M298.0 122.8H294.3V123.6H294.8M298.0 122.3H294.0V123.2H294.3M292.6 120.6H291.9V122.8H294.0M291.9 116.8H288.6V121.7H291.9M298.0 125.0H296.5V125.5H298.0M298.0 124.4H294.6V125.2H296.5M298.0 126.6H296.2V127.1H298.0M298.0 128.2H296.4V128.7H298.0M298.0 127.6H294.8V128.4H296.4M296.2 126.8H293.7V128.0H294.8M298.0 126.0H293.4V127.4H293.7M294.6 124.8H290.5V126.7H293.4M288.6 119.2H286.3V125.8H290.5M298.0 129.2H297.2V129.8H298.0M298.0 130.3H296.6V130.8H298.0M298.0 131.4H297.0V131.9H298.0M296.6 130.6H294.5V131.6H297.0M297.2 129.5H292.1V131.1H294.5M298.0 133.0H295.0V133.5H298.0M298.0 132.4H294.7V133.2H295.0M298.0 135.1H295.6V135.7H298.0M298.0 134.6H295.3V135.4H295.6M298.0 134.1H295.0V135.0H295.3M298.0 136.2H295.7V136.7H298.0M295.7 136.5H294.4V137.3H298.0M295.0 134.5H293.6V136.9H294.4M294.7 132.8H290.5V135.7H293.6M298.0 138.9H296.4V139.4H298.0M298.0 138.3H295.0V139.1H296.4M298.0 139.9H295.0V140.5H298.0M295.0 138.7H294.3V140.2H295.0M298.0 137.8H294.0V139.5H294.3M290.5 134.3H289.5V138.6H294.0M292.1 130.3H288.9V136.4H289.5M298.0 141.0H296.9V141.5H298.0M298.0 142.6H296.5V143.1H298.0M298.0 144.7H296.6V145.3H298.0M298.0 144.2H295.1V145.0H296.6M298.0 143.7H294.8V144.6H295.1M296.5 142.9H293.5V144.1H294.8M298.0 142.1H293.2V143.5H293.5M296.9 141.3H292.4V142.8H293.2M288.9 133.4H288.0V142.0H292.4M286.3 122.5H283.7V137.7H288.0M298.0 145.8H297.0V146.3H298.0M298.0 146.9H295.2V147.4H298.0M297.0 146.1H294.5V147.1H295.2M298.0 147.9H295.2V148.5H298.0M298.0 149.5H296.0V150.1H298.0M298.0 149.0H294.6V149.8H296.0M295.2 148.2H292.5V149.4H294.6M294.5 146.6H292.1V148.8H292.5M298.0 151.2H296.4V151.7H298.0M298.0 150.6H296.1V151.4H296.4M298.0 153.3H295.4V153.8H298.0M298.0 152.8H295.1V153.6H295.4M298.0 152.2H294.8V153.2H295.1M296.1 151.0H293.6V152.7H294.8M298.0 154.4H295.6V154.9H298.0M298.0 155.4H296.6V156.0H298.0M295.6 154.6H295.0V155.7H296.6M298.0 156.5H296.5V157.0H298.0M295.0 155.2H293.2V156.8H296.5M293.6 151.9H291.2V156.0H293.2M298.0 158.1H294.9V158.6H298.0M298.0 157.6H293.9V158.4H294.9M298.0 159.2H296.7V159.7H298.0M298.0 160.2H294.9V160.8H298.0M296.7 159.4H294.6V160.5H294.9M293.9 158.0H293.0V160.0H294.6M291.2 153.9H289.9V159.0H293.0M292.1 147.7H287.4V156.4H289.9M298.0 161.3H296.0V161.8H298.0M298.0 163.4H297.1V164.0H298.0M298.0 162.9H295.4V163.7H297.1M298.0 162.4H295.1V163.3H295.4M296.0 161.6H294.3V162.8H295.1M298.0 164.5H296.7V165.0H298.0M298.0 165.6H296.0V166.1H298.0M298.0 167.2H295.6V167.7H298.0M298.0 166.6H294.6V167.4H295.6M296.0 165.8H292.7V167.0H294.6M296.7 164.8H292.4V166.4H292.7M294.3 162.2H290.8V165.6H292.4M298.0 168.8H295.7V169.3H298.0M298.0 168.3H295.4V169.1H295.7M298.0 170.4H295.4V170.9H298.0M298.0 169.9H294.3V170.7H295.4M298.0 171.5H296.9V172.0H298.0M294.3 170.3H293.6V171.7H296.9M298.0 173.1H295.2V173.6H298.0M298.0 172.5H294.3V173.3H295.2M293.6 171.0H291.3V172.9H294.3M295.4 168.7H290.8V172.0H291.3M298.0 174.1H295.6V174.7H298.0M298.0 175.2H295.5V175.7H298.0M295.6 174.4H295.0V175.5H295.5M290.8 170.3H290.5V174.9H295.0M290.8 163.9H288.1V172.6H290.5M287.4 152.1H284.2V168.3H288.1M283.7 130.1H281.5V160.2H284.2M298.0 176.8H295.3V177.3H298.0M298.0 176.3H294.5V177.1H295.3M298.0 177.9H295.9V178.4H298.0M298.0 179.5H297.1V180.0H298.0M298.0 178.9H294.5V179.7H297.1M295.9 178.1H294.2V179.3H294.5M294.5 176.7H293.2V178.7H294.2M298.0 180.5H295.5V181.1H298.0M298.0 182.7H294.8V183.2H298.0M298.0 182.1H294.5V182.9H294.8M298.0 181.6H294.2V182.5H294.5M295.5 180.8H293.2V182.1H294.2M293.2 177.7H289.6V181.4H293.2M298.0 184.3H297.1V184.8H298.0M298.0 183.7H296.0V184.5H297.1M298.0 185.9H295.4V186.4H298.0M298.0 185.4H295.1V186.2H295.4M296.0 184.1H292.9V185.8H295.1M298.0 188.6H295.6V189.1H298.0M298.0 188.0H294.6V188.8H295.6M298.0 187.5H293.9V188.4H294.6M298.0 187.0H293.6V188.0H293.9M292.9 185.0H291.0V187.5H293.6M289.6 179.6H287.8V186.2H291.0M298.0 189.6H295.0V190.2H298.0M298.0 190.7H294.8V191.2H298.0M298.0 192.3H296.1V192.8H298.0M298.0 191.8H294.3V192.6H296.1M298.0 193.4H294.9V193.9H298.0M294.3 192.2H293.8V193.6H294.9M294.8 191.0H293.2V192.9H293.8M295.0 189.9H292.5V191.9H293.2M298.0 194.4H295.8V195.0H298.0M298.0 196.0H294.9V196.6H298.0M298.0 197.1H296.9V197.6H298.0M294.9 196.3H293.5V197.4H296.9M298.0 195.5H293.2V196.8H293.5M295.8 194.7H291.6V196.2H293.2M298.0 198.2H296.7V198.7H298.0M298.0 199.2H295.0V199.8H298.0M296.7 198.4H294.4V199.5H295.0M291.6 195.4H291.3V199.0H294.4M292.5 190.9H289.9V197.2H291.3M287.8 182.9H285.2V194.1H289.9M298.0 200.3H296.4V200.8H298.0M298.0 201.4H295.2V201.9H298.0M298.0 203.0H295.4V203.5H298.0M298.0 202.5H294.3V203.3H295.4M295.2 201.6H294.0V202.9H294.3M296.4 200.6H291.5V202.3H294.0M298.0 205.1H296.3V205.7H298.0M298.0 204.6H293.9V205.4H296.3M298.0 204.1H293.6V205.0H293.9M298.0 206.7H296.2V207.3H298.0M298.0 206.2H295.7V207.0H296.2M293.6 204.5H293.3V206.6H295.7M298.0 208.3H296.6V208.9H298.0M298.0 209.4H294.9V209.9H298.0M296.6 208.6H294.6V209.7H294.9M298.0 207.8H294.3V209.1H294.6M293.3 205.6H290.7V208.5H294.3M291.5 201.4H289.6V207.0H290.7M298.0 210.5H295.7V211.0H298.0M298.0 211.5H295.0V212.1H298.0M295.7 210.7H293.2V211.8H295.0M298.0 212.6H295.9V213.1H298.0M293.2 211.3H292.6V212.9H295.9M298.0 214.2H295.4V214.7H298.0M298.0 213.7H295.1V214.5H295.4M292.6 212.1H291.1V214.1H295.1M298.0 215.3H297.2V215.8H298.0M298.0 216.9H296.1V217.4H298.0M298.0 216.3H295.5V217.1H296.1M298.0 217.9H296.5V218.5H298.0M295.5 216.7H293.1V218.2H296.5M297.2 215.5H291.4V217.5H293.1M298.0 219.0H295.6V219.6H298.0M298.0 221.2H296.3V221.7H298.0M298.0 220.6H295.9V221.4H296.3M298.0 220.1H295.2V221.0H295.9M295.6 219.3H293.8V220.6H295.2M291.4 216.5H289.4V219.9H293.8M291.1 213.1H288.3V218.2H289.4M289.6 204.2H285.9V215.6H288.3M285.2 188.5H281.8V209.9H285.9M298.0 223.3H296.4V223.8H298.0M298.0 222.8H296.1V223.6H296.4M298.0 222.2H295.0V223.2H296.1M298.0 224.4H295.1V224.9H298.0M298.0 225.4H295.4V226.0H298.0M295.1 224.6H294.6V225.7H295.4M298.0 227.0H296.3V227.6H298.0M298.0 226.5H295.5V227.3H296.3M298.0 229.2H294.9V229.7H298.0M298.0 228.6H294.6V229.4H294.9M298.0 228.1H294.3V229.0H294.6M295.5 226.9H292.3V228.6H294.3M294.6 225.2H290.1V227.7H292.3M295.0 222.7H289.8V226.4H290.1M298.0 230.2H296.3V230.8H298.0M298.0 231.8H295.2V232.4H298.0M295.2 232.1H294.2V232.9H298.0M298.0 231.3H293.9V232.5H294.2M296.3 230.5H293.6V231.9H293.9M298.0 234.5H297.3V235.0H298.0M298.0 234.0H295.4V234.8H297.3M298.0 233.4H293.3V234.4H295.4M298.0 235.6H295.2V236.1H298.0M293.3 233.9H292.2V235.8H295.2M298.0 237.2H297.0V237.7H298.0M298.0 236.7H296.0V237.5H297.0M298.0 238.3H296.0V238.8H298.0M296.0 237.1H293.2V238.5H296.0M292.2 234.9H289.9V237.8H293.2M293.6 231.2H288.8V236.3H289.9M289.8 224.6H286.3V233.8H288.8M298.0 239.9H297.2V240.4H298.0M298.0 239.3H294.4V240.1H297.2M298.0 241.5H295.7V242.0H298.0M295.7 241.7H295.4V242.5H298.0M298.0 240.9H295.1V242.1H295.4M294.4 239.7H293.2V241.5H295.1M298.0 243.1H295.5V243.6H298.0M298.0 244.7H297.1V245.2H298.0M298.0 244.1H295.0V244.9H297.1M295.5 243.3H293.5V244.5H295.0M293.2 240.6H291.0V243.9H293.5M286.3 229.2H285.6V242.3H291.0M281.8 199.2H281.5V235.7H285.6M281.5 145.1H281.2V217.5H281.5M281.2 61.3H280.9V181.3H281.2" stroke="#111" stroke-width="0.45" fill="none"/><path d="M299.5 124.4H289.1M299.5 165.6H290.1M299.5 127.7H297.8M299.5 76.6H289.1M299.5 179.1H297.1M299.5 26.1H295.1M299.5 172.3H295.9M299.5 78.9H293.0M299.5 228.5H297.9M299.5 28.8H296.8M299.5 115.4H292.8M299.5 65.6H291.3M299.5 186.8H295.0M299.5 67.2H288.9M299.5 91.1H291.0M299.5 72.9H298.0M299.5 191.6H297.3M299.5 234.5H295.1M299.5 63.2H297.9M299.5 114.7H293.0M299.5 233.8H298.6M299.5 109.4H298.0M299.5 239.5H298.6M299.5 32.8H299.2M299.5 109.3H289.9M299.5 219.2H292.2M299.5 244.7H289.5M299.5 95.0H298.3M299.5 230.9H292.0M299.5 28.3H293.0M299.5 106.0H296.4M299.5 95.5H298.4M299.5 21.8H297.4M299.5 100.0H289.1M299.5 48.9H289.0M299.5 67.7H296.6M299.5 205.3H291.0M299.5 118.1H299.3M299.5 127.3H296.5M299.5 227.3H298.2M299.5 102.8H289.9M299.5 28.0H296.0M299.5 203.1H291.7M299.5 30.3H299.4M299.5 35.2H289.6M299.5 78.8H292.0M299.5 222.6H296.8M299.5 82.2H289.1M299.5 159.5H297.6M299.5 181.8H297.0M299.5 83.0H299.5M299.5 190.5H289.7M299.5 163.3H289.3M299.5 26.6H297.8M299.5 127.7H289.1M299.5 235.0H296.3M299.5 77.5H295.8M299.5 131.8H289.5M299.5 62.2H291.2M299.5 186.7H291.0M299.5 194.4H293.7M299.5 94.7H297.0M299.5 102.3H291.5M299.5 38.9H298.2M299.5 189.9H297.7M299.5 35.7H299.4M299.5 145.0H296.9M299.5 240.9H290.1M299.5 242.6H297.5M299.5 40.0H299.0M299.5 132.9H292.5M299.5 121.4H297.8M299.5 114.6H293.6M299.5 172.3H292.0M299.5 211.0H293.0M299.5 48.4H290.7M299.5 87.0H294.2M299.5 104.8H292.1M299.5 65.8H297.7M299.5 76.2H298.5M299.5 219.3H294.1M299.5 94.3H296.2M299.5 243.6H294.9M299.5 73.1H291.2M299.5 167.6H288.6M299.5 44.1H295.3M299.5 204.8H290.7M299.5 226.1H299.3M299.5 87.0H298.8M299.5 63.7H288.9M299.5 151.9H289.5M299.5 104.6H290.4M299.5 121.8H297.6M299.5 195.5H289.3M299.5 44.9H293.9M299.5 160.1H298.0M299.5 103.8H298.6M299.5 66.9H297.6M299.5 155.5H293.2M299.5 66.8H299.5M299.5 94.5H292.9M299.5 62.7H297.1M299.5 66.8H291.3M299.5 144.0H299.2M299.5 43.9H296.2M299.5 144.5H293.4M299.5 41.6H298.5M299.5 177.0H296.1M299.5 84.7H297.1M299.5 234.8H297.1M299.5 148.2H296.6M299.5 114.5H290.4M299.5 244.5H296.5M299.5 65.4H292.2M299.5 66.8H299.5M299.5 223.3H295.9M299.5 205.0H296.1M299.5 219.0H295.5M299.5 57.6H299.5M299.5 144.8H293.3M299.5 225.1H299.0M299.5 160.6H296.5M299.5 134.3H298.6M299.5 84.7H294.8M299.5 228.6H298.9M299.5 131.1H291.2M299.5 237.9H298.2M299.5 49.6H289.3M299.5 239.8H295.2M299.5 33.2H289.5M299.5 108.1H289.8M299.5 160.2H290.9M299.5 57.1H291.5M299.5 71.0H296.1M299.5 210.9H290.9M299.5 62.2H298.0M299.5 110.8H294.8M299.5 107.2H298.8M299.5 76.6H292.3M299.5 222.3H299.3M299.5 147.2H291.8M299.5 29.7H290.8M299.5 47.6H293.8M299.5 144.5H293.5M299.5 89.8H295.9M299.5 151.8H295.9M299.5 168.8H295.6M299.5 119.4H299.4M299.5 159.9H295.2M299.5 73.9H291.8M299.5 196.0H295.5M299.5 61.4H295.3M299.5 45.2H298.7M299.5 117.7H299.0M299.5 120.2H294.9M299.5 30.3H293.4M299.5 39.6H292.1M299.5 195.5H294.9M299.5 33.4H295.0M299.5 105.9H289.2M299.5 51.7H290.5M299.5 244.4H292.2M299.5 203.8H298.2M299.5 241.2H295.1M299.5 235.6H289.7M299.5 58.2H291.4M299.5 229.7H299.2M299.5 99.8H291.9M299.5 56.8H290.0M299.5 82.8H291.1M299.5 53.4H295.0M299.5 227.4H298.1M299.5 80.1H295.0M299.5 92.7H299.3M299.5 62.0H298.5M299.5 231.0H292.8M299.5 221.9H298.4M299.5 197.1H298.8M299.5 140.1H293.4M299.5 101.8H290.3M299.5 145.6H294.1M299.5 219.0H298.9M299.5 243.7H293.5M299.5 109.6H291.3M299.5 80.5H288.6M299.5 150.6H296.6M299.5 192.6H295.7M299.5 60.8H292.0M299.5 32.0H291.0M299.5 78.0H293.4M299.5 241.7H294.0M299.5 169.9H297.1M299.5 21.6H299.4M299.5 54.7H293.6M299.5 118.1H294.9M299.5 221.9H298.7M299.5 72.1H293.2M299.5 26.2H299.5M299.5 100.7H298.9M299.5 101.2H297.9M299.5 152.0H294.0M299.5 67.0H293.5M299.5 127.6H298.7M299.5 231.1H297.7M299.5 54.7H299.0M299.5 164.2H290.3M299.5 196.5H296.1M299.5 80.4H299.5M299.5 165.7H294.3M299.5 99.7H293.3M299.5 120.6H289.4M299.5 185.6H297.7M299.5 223.7H299.3M299.5 140.3H296.1M299.5 74.5H299.2M299.5 195.7H299.5M299.5 144.7H289.3M299.5 53.1H298.1M299.5 157.5H295.0M299.5 165.0H291.1M299.5 60.3H297.1M299.5 88.5H299.3M299.5 220.5H291.5M299.5 181.5H299.5M299.5 210.4H292.0M299.5 125.5H292.0M299.5 122.6H297.9M299.5 44.8H297.9M299.5 29.9H296.8M299.5 189.2H292.6M299.5 210.6H292.4M299.5 80.8H294.4M299.5 118.9H291.4M299.5 138.5H297.5M299.5 165.1H289.0M299.5 69.8H290.2M299.5 24.6H297.6M299.5 74.1H292.0M299.5 232.9H292.0M299.5 94.5H290.2M299.5 94.8H297.8M299.5 224.6H293.5M299.5 176.5H293.0M299.5 240.6H295.4M299.5 209.4H292.6M299.5 213.4H295.7M299.5 183.6H294.2M299.5 90.2H298.0M299.5 160.7H299.1M299.5 225.3H298.6M299.5 27.2H298.9M299.5 229.4H296.7M299.5 53.0H299.4M299.5 30.5H292.7M299.5 163.3H292.6M299.5 186.3H299.2M299.5 153.5H296.5M299.5 204.4H291.0M299.5 220.9H299.2M299.5 215.7H289.7M299.5 232.8H298.9M299.5 67.3H298.9M299.5 28.9H290.6M299.5 203.2H293.4M299.5 206.1H293.4M299.5 85.6H298.9M299.5 43.1H291.8M299.5 67.1H297.0M299.5 116.2H299.4M299.5 78.7H297.4M299.5 181.6H296.5M299.5 93.1H289.0M299.5 134.1H290.6M299.5 159.8H299.4M299.5 113.7H295.8M299.5 194.4H296.7M299.5 179.1H294.6M299.5 69.7H290.4M299.5 41.6H291.0M299.5 59.4H299.5M299.5 66.5H291.8M299.5 240.3H299.5M299.5 131.2H295.1M299.5 199.8H298.3M299.5 132.0H296.7M299.5 207.6H297.6M299.5 232.7H297.4M299.5 69.3H292.6M299.5 132.9H298.9M299.5 163.8H299.1M299.5 197.8H292.6M299.5 197.6H293.5M299.5 100.9H296.1M299.5 109.6H290.0M299.5 40.5H290.1M299.5 26.8H298.1M299.5 80.2H289.9M299.5 133.5H296.4M299.5 219.3H297.8M299.5 124.5H294.7M299.5 190.3H291.9M299.5 166.0H296.7M299.5 94.4H298.5M299.5 210.1H293.1M299.5 187.5H298.4M299.5 119.5H291.6M299.5 151.0H298.8M299.5 124.7H290.1M299.5 74.5H298.2M299.5 88.8H292.5M299.5 210.3H298.5M299.5 56.2H297.7M299.5 94.4H294.8M299.5 57.3H296.9M299.5 63.6H288.9M299.5 184.5H298.9M299.5 236.9H298.9M299.5 107.3H288.7M299.5 199.3H292.2M299.5 118.7H298.2M299.5 164.2H298.9M299.5 67.5H296.3M299.5 28.8H296.2M299.5 198.5H292.7M299.5 133.4H293.4M299.5 125.0H298.6M299.5 156.5H296.1M299.5 187.2H289.8M299.5 117.6H294.2M299.5 189.1H295.9M299.5 72.4H292.3M299.5 218.4H291.6M299.5 178.1H290.6M299.5 173.5H293.3M299.5 122.9H297.1M299.5 162.0H299.0M299.5 115.2H291.5M299.5 181.0H293.5M299.5 77.2H295.9M299.5 123.2H293.6M299.5 112.9H292.9M299.5 229.7H298.3M299.5 167.9H291.6M299.5 108.3H295.2M299.5 239.6H299.3M299.5 143.0H298.5M299.5 196.4H289.3M299.5 137.6H298.9M299.5 150.0H294.6M299.5 181.9H294.9M299.5 164.5H290.9M299.5 138.1H296.0M299.5 233.6H298.1M299.5 174.6H296.2M299.5 192.1H298.8M299.5 241.8H296.6M299.5 33.9H297.5M299.5 110.8H299.5M299.5 115.0H295.9M299.5 177.7H296.7M299.5 80.6H297.9M299.5 187.4H289.4M299.5 139.3H298.0M299.5 200.8H296.2M299.5 68.7H298.7M299.5 195.2H291.1M299.5 163.3H295.4M299.5 147.2H297.9M299.5 237.2H296.7M299.5 164.4H291.0M299.5 204.1H295.4M299.5 87.2H294.5M299.5 49.2H290.8M299.5 100.7H290.6M299.5 81.1H296.4M299.5 78.0H295.9M299.5 62.9H299.5M299.5 183.0H297.4M299.5 76.1H297.2M299.5 128.7H295.8M299.5 164.0H293.1M299.5 102.4H289.5M299.5 212.7H299.2M299.5 206.7H289.8M299.5 196.9H298.6M299.5 207.5H293.4M299.5 24.6H299.5M299.5 234.5H293.1M299.5 77.2H298.9M299.5 53.2H297.8M299.5 195.2H296.7M299.5 55.4H289.9M299.5 198.6H298.4M299.5 220.9H293.7M299.5 196.3H293.0M299.5 221.5H291.4M299.5 209.2H298.2M299.5 176.5H294.7M299.5 187.5H295.7M299.5 219.0H294.4M299.5 80.5H297.8M299.5 52.4H295.1M299.5 34.3H295.4M299.5 53.6H295.1M299.5 132.8H294.6M299.5 214.6H299.5M299.5 209.6H295.4M299.5 147.3H293.0M299.5 209.6H296.4M299.5 115.1H289.1M299.5 38.1H293.4M299.5 163.8H299.4M299.5 157.8H292.8M299.5 229.9H296.9M299.5 241.2H294.9M299.5 129.8H289.9M299.5 28.8H292.3M299.5 161.3H296.8M299.5 214.3H296.5M299.5 127.5H294.7M299.5 193.9H298.0M299.5 118.7H295.9M299.5 145.4H290.9M299.5 86.8H290.9M299.5 111.7H295.0M299.5 82.1H295.0M299.5 239.7H293.2M299.5 198.7H296.9M299.5 92.3H297.2M299.5 152.6H293.4M299.5 196.9H299.3M299.5 183.2H290.1M299.5 143.4H299.3M299.5 88.5H299.5M299.5 63.8H289.6M299.5 157.6H293.1M299.5 198.0H289.8M299.5 158.3H293.6M299.5 161.7H292.6M299.5 154.8H292.8M299.5 68.8H293.0M299.5 123.8H291.8M299.5 43.9H298.3M299.5 29.5H291.6M299.5 226.0H293.1M299.5 103.9H291.0M299.5 197.5H294.3M299.5 79.0H297.2M299.5 115.7H297.0M299.5 117.7H293.3M299.5 230.5H299.2M299.5 148.4H299.3M299.5 47.8H291.1M299.5 150.1H289.6M299.5 121.3H299.5M299.5 108.0H293.9M299.5 231.3H288.8M299.5 127.7H296.0M299.5 44.1H293.3M299.5 68.8H298.6M299.5 24.7H299.5M299.5 174.4H298.8M299.5 237.8H299.0M299.5 216.1H298.7M299.5 25.2H292.3M299.5 75.5H292.1M299.5 63.2H299.3M299.5 194.7H292.4M299.5 212.9H292.2M299.5 40.1H293.5M299.5 180.1H295.5M299.5 230.1H297.6M299.5 237.3H292.4M299.5 23.8H299.5M299.5 167.0H291.0M299.5 39.1H297.1M299.5 184.7H298.4M299.5 214.1H295.2M299.5 34.6H296.5M299.5 150.0H295.7M299.5 172.9H298.6M299.5 199.9H296.6M299.5 165.7H293.5M299.5 114.9H296.3M299.5 197.4H289.3M299.5 197.0H294.2M299.5 86.7H299.2M299.5 239.5H292.5M299.5 206.6H296.9M299.5 157.0H288.8M299.5 207.5H293.8M299.5 90.4H295.8M299.5 220.2H296.4M299.5 174.7H293.8M299.5 222.0H291.2M299.5 84.7H299.5M299.5 80.1H295.9M299.5 152.7H291.1M299.5 220.1H299.3M299.5 207.9H291.1M299.5 215.5H294.2M299.5 82.6H290.6M299.5 202.1H292.8M299.5 226.0H296.7M299.5 40.3H294.4M299.5 199.9H298.1M299.5 189.3H289.5M299.5 73.6H293.8M299.5 173.1H295.4M299.5 67.5H297.6M299.5 189.5H291.4M299.5 124.2H299.0M299.5 202.0H291.6M299.5 73.4H294.1M299.5 222.2H290.1M299.5 138.1H295.3M299.5 153.3H298.2M299.5 64.3H298.3M299.5 178.3H296.6M299.5 147.7H296.1M299.5 137.1H298.6M299.5 31.2H288.5M299.5 105.0H298.9M299.5 163.0H291.4M299.5 56.2H293.9M299.5 98.5H294.8M299.5 25.8H299.4M299.5 243.1H290.4M299.5 130.2H294.2M299.5 79.8H291.5M299.5 116.7H289.3M299.5 193.1H291.0M299.5 237.1H297.6M299.5 29.7H298.1M299.5 61.7H299.1M299.5 32.6H294.4M299.5 216.3H295.5M299.5 233.5H289.8M299.5 35.6H293.9M299.5 110.3H298.8M299.5 236.2H297.6M299.5 147.7H293.3M299.5 235.5H293.0M299.5 109.3H295.6M299.5 57.0H289.0M299.5 243.4H297.9M299.5 29.9H297.6M299.5 100.1H289.9M299.5 223.9H290.8M299.5 31.7H291.5M299.5 180.2H293.3M299.5 242.0H299.2M299.5 53.6H291.9M299.5 231.7H292.9M299.5 88.2H293.9M299.5 191.0H298.9M299.5 93.8H297.6M299.5 49.0H295.2M299.5 59.0H297.8M299.5 53.3H292.9M299.5 24.0H292.4M299.5 64.9H299.4M299.5 229.1H298.0M299.5 230.5H290.4M299.5 220.4H298.6M299.5 121.4H299.0M299.5 229.3H290.7M299.5 162.0H295.6M299.5 97.3H291.0M299.5 128.2H293.5M299.5 53.2H297.9M299.5 33.9H292.4M299.5 145.2H298.6M299.5 216.3H297.5M299.5 113.5H298.5M299.5 82.0H290.7M299.5 96.2H298.4M299.5 131.2H297.0M299.5 223.6H298.8M299.5 240.5H299.2M299.5 221.8H293.0M299.5 68.5H295.3M299.5 85.3H297.6M299.5 66.4H296.5M299.5 243.3H288.5M299.5 228.5H299.0M299.5 86.1H290.0M299.5 34.1H292.2M299.5 87.0H288.8M299.5 24.8H291.2M299.5 97.6H298.6M299.5 21.6H290.8M299.5 139.2H298.3M299.5 118.7H289.7M299.5 70.1H294.2M299.5 52.1H298.3M299.5 193.9H292.4M299.5 65.3H299.1M299.5 40.8H293.7M299.5 132.2H297.5M299.5 67.4H293.7M299.5 179.8H291.1M299.5 151.8H298.1M299.5 35.9H292.2M299.5 112.7H292.3M299.5 33.6H291.1M299.5 96.3H290.7M299.5 214.9H295.1M299.5 24.7H289.8M299.5 128.0H290.3M299.5 80.9H298.3M299.5 207.6H296.5M299.5 57.8H296.5M299.5 154.5H299.5M299.5 137.7H295.7M299.5 136.8H298.8M299.5 181.3H291.0M299.5 215.2H297.0M299.5 180.6H296.4M299.5 189.6H299.2M299.5 216.8H289.2M299.5 132.1H294.9M299.5 140.1H294.6M299.5 25.8H289.0M299.5 71.3H298.3M299.5 44.2H297.7M299.5 204.3H299.4M299.5 42.8H292.6M299.5 64.9H299.4M299.5 155.5H294.1M299.5 138.4H292.5M299.5 44.3H290.3M299.5 181.9H299.3M299.5 48.8H295.1M299.5 133.4H297.4M299.5 48.5H296.1M299.5 51.9H293.9M299.5 214.2H298.6M299.5 149.6H292.0M299.5 58.0H290.9M299.5 231.3H296.3M299.5 115.4H290.7M299.5 139.0H296.2M299.5 232.1H291.6M299.5 97.1H297.8M299.5 96.3H295.8M299.5 241.1H291.2M299.5 225.8H291.1M299.5 211.2H299.3M299.5 137.1H289.1M299.5 230.6H297.7M299.5 115.8H293.4M299.5 102.9H294.7M299.5 36.7H295.8M299.5 134.3H299.4M299.5 52.4H288.9M299.5 195.2H289.4M299.5 163.1H291.1M299.5 219.4H290.1M299.5 28.9H293.3M299.5 80.8H292.9M299.5 82.5H294.5M299.5 228.4H293.6M299.5 77.4H294.8M299.5 118.4H289.2M299.5 85.6H297.1M299.5 166.3H298.8M299.5 154.4H289.1M299.5 136.3H297.5M299.5 125.7H294.6M299.5 54.5H298.8M299.5 50.6H297.3M299.5 112.3H297.3M299.5 75.7H299.0M299.5 143.6H290.7M299.5 157.9H294.2M299.5 166.9H298.1M299.5 180.4H295.5M299.5 144.0H293.7M299.5 126.3H297.1M299.5 75.5H297.9M299.5 136.0H296.3M299.5 152.5H299.5M299.5 100.2H290.4M299.5 74.7H294.4M299.5 131.3H297.4M299.5 242.5H297.2M299.5 194.2H298.5M299.5 36.2H290.3M299.5 119.8H299.2M299.5 108.1H295.7M299.5 186.0H298.9M299.5 71.7H289.1M299.5 186.7H298.5M299.5 96.7H296.7M299.5 172.5H293.6M299.5 211.7H291.0M299.5 137.2H292.1M299.5 187.8H291.8M299.5 127.7H291.5M299.5 180.0H289.7M299.5 49.7H290.3M299.5 22.2H291.7M299.5 152.5H295.1M299.5 237.0H294.2M299.5 114.9H291.5M299.5 216.8H293.7M299.5 106.3H295.6M299.5 123.8H292.3M299.5 86.8H296.3M299.5 145.7H296.3M299.5 93.4H291.4M299.5 211.6H295.0M299.5 120.7H298.3M299.5 89.3H298.6M299.5 150.2H294.1M299.5 40.9H289.6M299.5 93.8H290.7M299.5 209.0H289.1M299.5 67.0H295.9M299.5 225.3H299.5M299.5 31.8H294.3M299.5 132.7H289.6M299.5 194.5H294.6M299.5 244.9H294.8M299.5 137.1H292.8M299.5 108.5H296.6M299.5 154.5H296.7M299.5 233.6H292.9M299.5 138.9H299.0M299.5 105.1H296.1M299.5 147.0H294.2M299.5 218.4H289.0M299.5 130.3H295.7M299.5 161.2H288.6M299.5 98.1H294.7M299.5 204.0H298.4M299.5 92.5H288.8M299.5 206.3H294.9M299.5 46.0H290.0M299.5 175.8H291.0M299.5 243.1H290.1M299.5 115.5H298.5M299.5 86.2H294.9M299.5 134.3H298.2M299.5 62.1H293.5M299.5 156.4H296.7M299.5 243.9H293.4M299.5 30.7H296.0M299.5 197.7H297.1M299.5 176.0H299.5M299.5 89.4H290.7M299.5 152.6H293.0M299.5 65.3H295.1M299.5 145.2H297.5M299.5 166.2H294.7M299.5 244.7H294.1M299.5 113.3H298.8M299.5 56.3H291.8M299.5 45.1H298.9M299.5 59.4H294.8M299.5 205.7H293.7M299.5 202.0H299.2M299.5 24.0H291.7M299.5 93.5H292.4M299.5 100.5H298.4M299.5 80.9H299.0M299.5 223.8H294.1M299.5 99.4H295.6M299.5 107.6H299.2M299.5 220.8H294.0M299.5 236.2H295.7M299.5 160.2H297.7M299.5 31.1H289.5M299.5 212.7H297.1M299.5 222.6H291.1M299.5 89.3H293.8M299.5 236.3H295.1M299.5 234.0H297.8M299.5 108.6H292.3M299.5 70.8H297.1M299.5 217.4H295.2M299.5 198.9H297.7M299.5 60.1H296.6M299.5 63.0H288.9M299.5 86.3H294.3M299.5 46.9H294.6M299.5 107.6H296.1M299.5 35.9H298.8M299.5 206.3H296.7M299.5 76.1H298.2M299.5 84.8H297.8M299.5 29.0H293.0M299.5 97.7H298.5M299.5 179.4H299.0M299.5 81.6H290.8M299.5 49.8H295.7M299.5 208.6H291.2M299.5 56.9H296.7M299.5 183.1H296.4M299.5 236.0H298.1M299.5 234.3H295.0M299.5 72.1H295.6M299.5 50.5H292.5M299.5 79.6H289.9M299.5 152.9H296.5M299.5 76.4H293.7M299.5 68.8H290.3M299.5 48.7H294.9M299.5 142.8H297.5M299.5 194.1H296.3M299.5 168.6H294.2M299.5 90.8H296.3M299.5 40.5H298.3M299.5 211.9H297.0M299.5 169.7H298.9M299.5 147.1H296.6M299.5 133.3H297.2M299.5 36.0H297.1M299.5 71.9H298.8M299.5 181.8H297.4M299.5 111.6H289.8M299.5 194.9H290.1M299.5 214.2H298.7M299.5 83.2H299.4M299.5 173.5H293.0M299.5 100.0H296.0M299.5 168.9H292.6M299.5 76.9H290.6M299.5 100.1H293.5M299.5 61.9H298.8M299.5 225.7H292.1M299.5 180.9H299.3M299.5 30.2H298.5M299.5 65.6H297.2M299.5 106.5H299.3M299.5 90.9H293.4M299.5 61.5H290.7M299.5 149.0H292.4M299.5 78.3H295.8M299.5 174.6H296.7M299.5 21.4H290.8M299.5 195.2H297.3M299.5 30.8H290.5M299.5 157.3H299.3M299.5 76.0H298.9M299.5 198.6H298.1M299.5 226.1H291.9M299.5 40.5H292.6M299.5 109.4H292.0M299.5 206.9H297.4M299.5 41.4H289.3M299.5 116.2H289.5M299.5 176.2H292.1M299.5 207.2H293.5M299.5 122.7H299.3M299.5 177.7H295.8M299.5 135.9H289.5M299.5 49.8H291.8M299.5 31.0H292.5M299.5 201.8H297.6M299.5 143.6H288.9M299.5 164.1H294.5M299.5 77.2H299.2M299.5 101.4H296.0M299.5 66.3H297.1M299.5 51.8H292.5M299.5 171.4H297.8M299.5 75.4H294.9M299.5 120.9H289.4M299.5 100.0H297.2M299.5 219.5H298.6M299.5 147.4H296.9M299.5 203.9H294.5M299.5 191.6H298.4M299.5 170.6H293.9M299.5 124.6H291.7M299.5 207.5H298.8M299.5 86.0H296.6M299.5 67.5H299.2M299.5 84.1H298.2M299.5 178.4H295.6M299.5 46.5H297.0M299.5 126.2H296.6M299.5 58.9H299.1M299.5 23.6H288.6M299.5 189.4H299.1M299.5 181.9H288.8M299.5 147.5H298.9M299.5 130.8H295.8M299.5 63.7H294.5M299.5 23.1H289.6M299.5 165.6H293.5M299.5 230.8H293.2M299.5 77.5H297.7M299.5 52.3H299.4M299.5 194.8H290.7M299.5 87.6H298.3M299.5 164.2H290.7M299.5 228.9H298.4M299.5 197.0H290.9M299.5 187.6H296.9M299.5 62.6H290.9M299.5 92.9H296.5M299.5 144.7H296.5M299.5 207.5H297.8M299.5 30.4H294.2M299.5 162.0H291.0M299.5 179.3H289.8M299.5 233.0H295.1M299.5 133.1H298.5M299.5 88.3H294.1M299.5 39.2H292.7M299.5 57.9H295.7M299.5 238.5H299.0M299.5 30.2H295.7M299.5 64.0H292.3M299.5 21.8H290.7M299.5 212.9H291.4M299.5 116.5H297.4M299.5 169.5H294.9M299.5 115.6H296.8M299.5 119.5H293.0M299.5 206.3H289.9M299.5 58.1H297.2M299.5 120.5H294.3M299.5 99.2H298.2M299.5 40.3H297.0M299.5 124.4H288.9M299.5 224.8H290.4M299.5 239.6H289.0M299.5 160.1H291.1M299.5 34.6H292.9M299.5 157.7H297.2M299.5 149.2H289.2M299.5 128.9H293.2M299.5 88.3H296.8M299.5 219.6H299.4M299.5 63.5H292.9M299.5 121.5H299.1M299.5 169.2H296.5M299.5 151.4H296.0M299.5 140.0H294.3M299.5 110.0H298.8M299.5 61.7H290.0M299.5 144.0H298.9M299.5 214.4H297.7M299.5 42.5H294.7M299.5 77.6H295.2M299.5 145.4H297.9M299.5 149.5H298.9M299.5 136.2H294.0M299.5 39.2H296.1M299.5 37.7H295.7M299.5 214.7H294.4M299.5 181.3H291.8M299.5 46.9H288.6M299.5 182.9H298.9M299.5 207.3H296.2M299.5 59.6H289.1M299.5 147.4H291.6M299.5 51.9H291.6M299.5 34.1H297.8M299.5 104.6H299.5M299.5 154.4H298.0M299.5 88.4H292.5M299.5 116.7H290.1M299.5 160.4H290.3M299.5 147.4H289.7M299.5 216.3H298.4M299.5 188.3H296.8M299.5 192.3H292.8M299.5 206.2H298.8M299.5 104.8H292.1M299.5 233.7H292.3M299.5 30.9H293.8M299.5 43.5H294.5M299.5 201.2H298.9M299.5 228.6H292.9M299.5 78.3H298.2M299.5 121.3H290.8M299.5 151.5H298.8M299.5 25.9H298.9M299.5 200.6H298.3M299.5 145.4H297.3M299.5 175.2H296.4M299.5 53.5H290.2M299.5 141.9H292.7M299.5 202.3H289.2M299.5 24.3H296.8M299.5 55.0H295.0M299.5 216.9H291.3M299.5 29.1H298.3M299.5 204.6H292.8M299.5 109.2H295.3M299.5 56.7H290.7M299.5 109.4H290.3M299.5 158.1H299.1M299.5 95.0H298.0M299.5 221.5H294.0" stroke="#111" stroke-width="0.4" fill="none"/><rect x="298.5" y="21.0" width="6.5" height="224.5" fill="#0a0a0a"/>
<text x="459.20" y="23.75" font-size="4.65" fill="#333" stroke="#333" stroke-width="0.04">Thy1</text>
<text x="459.20" y="29.08" font-size="4.65" fill="#333" stroke="#333" stroke-width="0.04">Cxcl16</text>
<text x="459.20" y="34.41" font-size="4.65" fill="#333" stroke="#333" stroke-width="0.04">Ccl4</text>
<text x="459.20" y="39.74" font-size="4.65" fill="#333" stroke="#333" stroke-width="0.04">Cdc42ep4</text>
<text x="459.20" y="45.07" font-size="4.65" fill="#333" stroke="#333" stroke-width="0.04">Pdgfa</text>
<text x="459.20" y="50.40" font-size="4.65" fill="#333" stroke="#333" stroke-width="0.04">Eng</text>
<text x="459.20" y="55.73" font-size="4.65" fill="#333" stroke="#333" stroke-width="0.04">Cxcl6</text>
<text x="459.20" y="61.06" font-size="4.65" fill="#333" stroke="#333" stroke-width="0.04">Piezo1</text>
<text x="459.20" y="66.39" font-size="4.65" fill="#333" stroke="#333" stroke-width="0.04">Cd44</text>
<text x="459.20" y="71.72" font-size="4.65" fill="#333" stroke="#333" stroke-width="0.04">Cd200</text>
<text x="459.20" y="77.05" font-size="4.65" fill="#333" stroke="#333" stroke-width="0.04">Ccl20</text>
<text x="459.20" y="82.38" font-size="4.65" fill="#333" stroke="#333" stroke-width="0.04">Cxcl1</text>
<text x="459.20" y="87.71" font-size="4.65" fill="#333" stroke="#333" stroke-width="0.04">Cxcl3</text>
<text x="459.20" y="93.04" font-size="4.65" fill="#333" stroke="#333" stroke-width="0.04">Ccl3</text>
<text x="459.20" y="98.37" font-size="4.65" fill="#333" stroke="#333" stroke-width="0.04">Cxcl2</text>
<text x="459.20" y="103.70" font-size="4.65" fill="#333" stroke="#333" stroke-width="0.04">Itgav</text>
<text x="459.20" y="109.03" font-size="4.65" fill="#333" stroke="#333" stroke-width="0.04">Ptpn1</text>
<text x="459.20" y="114.36" font-size="4.65" fill="#333" stroke="#333" stroke-width="0.04">Ptpn23</text>
<text x="459.20" y="119.69" font-size="4.65" fill="#333" stroke="#333" stroke-width="0.04">Cdc27</text>
<text x="459.20" y="125.02" font-size="4.65" fill="#333" stroke="#333" stroke-width="0.04">Ucma</text>
<text x="459.20" y="130.35" font-size="4.65" fill="#333" stroke="#333" stroke-width="0.04">Six2</text>
<text x="459.20" y="135.68" font-size="4.65" fill="#333" stroke="#333" stroke-width="0.04">Igf2</text>
<text x="459.20" y="141.01" font-size="4.65" fill="#333" stroke="#333" stroke-width="0.04">Gata1</text>
<text x="459.20" y="146.34" font-size="4.65" fill="#333" stroke="#333" stroke-width="0.04">Rarb</text>
<text x="459.20" y="151.67" font-size="4.65" fill="#333" stroke="#333" stroke-width="0.04">Calcr</text>
<text x="459.20" y="157.00" font-size="4.65" fill="#333" stroke="#333" stroke-width="0.04">Smpd3</text>
<text x="459.20" y="162.33" font-size="4.65" fill="#333" stroke="#333" stroke-width="0.04">Col4a6</text>
<text x="459.20" y="167.66" font-size="4.65" fill="#333" stroke="#333" stroke-width="0.04">Lrrc17</text>
<text x="459.20" y="172.99" font-size="4.65" fill="#333" stroke="#333" stroke-width="0.04">Tph1</text>
<text x="459.20" y="178.32" font-size="4.65" fill="#333" stroke="#333" stroke-width="0.04">Myoc</text>
<text x="459.20" y="183.65" font-size="4.65" fill="#333" stroke="#333" stroke-width="0.04">Smoc1</text>
<text x="459.20" y="188.98" font-size="4.65" fill="#333" stroke="#333" stroke-width="0.04">Lef1</text>
<text x="459.20" y="194.31" font-size="4.65" fill="#333" stroke="#333" stroke-width="0.04">Ercc2</text>
<text x="459.20" y="199.64" font-size="4.65" fill="#333" stroke="#333" stroke-width="0.04">Spp1</text>
<text x="459.20" y="204.97" font-size="4.65" fill="#333" stroke="#333" stroke-width="0.04">Lepr</text>
<text x="459.20" y="210.30" font-size="4.65" fill="#333" stroke="#333" stroke-width="0.04">Col16a4</text>
<text x="459.20" y="215.63" font-size="4.65" fill="#333" stroke="#333" stroke-width="0.04">Pigwl1</text>
<text x="459.20" y="220.96" font-size="4.65" fill="#333" stroke="#333" stroke-width="0.04">Lin28a</text>
<text x="459.20" y="226.29" font-size="4.65" fill="#333" stroke="#333" stroke-width="0.04">Mmp8</text>
<text x="459.20" y="231.62" font-size="4.65" fill="#333" stroke="#333" stroke-width="0.04">Sort1</text>
<text x="459.20" y="236.95" font-size="4.65" fill="#333" stroke="#333" stroke-width="0.04">Alox5</text>
<text x="459.20" y="242.28" font-size="4.65" fill="#333" stroke="#333" stroke-width="0.04">Alox15</text>
<text x="459.20" y="247.61" font-size="4.65" fill="#333" stroke="#333" stroke-width="0.04">Rassf2</text>
<path d="M451.5 21.5L453.5 21.5L457.8 22.0M451.5 27.9L453.5 27.9L457.8 27.3M451.5 31.1L453.5 31.1L457.8 32.7M451.5 39.2L453.5 39.2L457.8 38.0M451.5 44.8L453.5 44.8L457.8 43.3M451.5 43.4L453.5 43.4L457.8 48.6M451.5 48.1L453.5 48.1L457.8 54.0M451.5 63.4L453.5 63.4L457.8 59.3M451.5 61.8L453.5 61.8L457.8 64.6M451.5 66.8L453.5 66.8L457.8 70.0M451.5 81.2L453.5 81.2L457.8 75.3M451.5 80.3L453.5 80.3L457.8 80.6M451.5 90.0L453.5 90.0L457.8 86.0M451.5 91.0L453.5 91.0L457.8 91.3M451.5 98.3L453.5 98.3L457.8 96.6M451.5 97.8L453.5 97.8L457.8 102.0M451.5 108.9L453.5 108.9L457.8 107.3M451.5 117.0L453.5 117.0L457.8 112.6M451.5 118.2L453.5 118.2L457.8 117.9M451.5 126.2L453.5 126.2L457.8 123.3M451.5 130.7L453.5 130.7L457.8 128.6M451.5 128.7L453.5 128.7L457.8 133.9M451.5 142.4L453.5 142.4L457.8 139.3M451.5 145.7L453.5 145.7L457.8 144.6M451.5 147.5L453.5 147.5L457.8 149.9M451.5 149.6L453.5 149.6L457.8 155.2M451.5 165.0L453.5 165.0L457.8 160.6M451.5 165.6L453.5 165.6L457.8 165.9M451.5 173.9L453.5 173.9L457.8 171.2M451.5 181.1L453.5 181.1L457.8 176.6M451.5 184.5L453.5 184.5L457.8 181.9M451.5 192.3L453.5 192.3L457.8 187.2M451.5 191.3L453.5 191.3L457.8 192.6M451.5 201.5L453.5 201.5L457.8 197.9M451.5 202.6L453.5 202.6L457.8 203.2M451.5 213.8L453.5 213.8L457.8 208.6M451.5 218.4L453.5 218.4L457.8 213.9M451.5 214.4L453.5 214.4L457.8 219.2M451.5 220.2L453.5 220.2L457.8 224.5M451.5 226.5L453.5 226.5L457.8 229.9M451.5 240.8L453.5 240.8L457.8 235.2M451.5 239.8L453.5 239.8L457.8 240.5M451.5 245.0L453.5 245.0L457.8 245.9" stroke="#b0b0b0" stroke-width="0.3" fill="none"/>
<defs><linearGradient id="cb" x1="0" y1="0" x2="0" y2="1"><stop offset="0.000" stop-color="#d73c2b"/><stop offset="0.133" stop-color="#ec8456"/><stop offset="0.233" stop-color="#f5b081"/><stop offset="0.333" stop-color="#f9d5ab"/><stop offset="0.417" stop-color="#fbe8cf"/><stop offset="0.500" stop-color="#f4f6f3"/><stop offset="0.583" stop-color="#cfe1ef"/><stop offset="0.700" stop-color="#9bbee0"/><stop offset="0.833" stop-color="#6896cc"/><stop offset="1.000" stop-color="#4471b7"/></linearGradient></defs>
<rect x="488.50" y="20.90" width="5.30" height="65.70" fill="url(#cb)"/>
<text x="495.80" y="23.40" font-size="4.6" fill="#333" stroke="#333" stroke-width="0.1">3</text>
<text x="495.80" y="34.08" font-size="4.6" fill="#333" stroke="#333" stroke-width="0.1">2</text>
<text x="495.80" y="44.77" font-size="4.6" fill="#333" stroke="#333" stroke-width="0.1">1</text>
<text x="495.80" y="55.45" font-size="4.6" fill="#333" stroke="#333" stroke-width="0.1">0</text>
<text x="495.80" y="66.13" font-size="4.6" fill="#333" stroke="#333" stroke-width="0.1">-1</text>
<text x="495.80" y="76.82" font-size="4.6" fill="#333" stroke="#333" stroke-width="0.1">-2</text>
<text x="495.80" y="87.50" font-size="4.6" fill="#333" stroke="#333" stroke-width="0.1">-3</text>
<text x="515.30" y="14.20" font-size="16.5" font-weight="bold">e</text>
<defs><clipPath id="ver"><circle cx="565.6" cy="80.0" r="33.5"/></clipPath><clipPath id="veb"><circle cx="599.6" cy="80.0" r="33.5"/></clipPath><clipPath id="veg"><circle cx="582.6" cy="51.7" r="33.5"/></clipPath></defs><circle cx="565.60" cy="80.00" r="33.50" fill="#f5a198"/><circle cx="599.60" cy="80.00" r="33.50" fill="#a6daee"/><circle cx="582.60" cy="51.70" r="33.50" fill="#c4de7e"/><g clip-path="url(#ver)"><circle cx="582.60" cy="51.70" r="33.50" fill="#c2a955"/><circle cx="599.60" cy="80.00" r="33.50" fill="#9fa8b6"/></g><g clip-path="url(#veb)"><circle cx="582.60" cy="51.70" r="33.50" fill="#95cb79"/></g><g clip-path="url(#ver)"><g clip-path="url(#veb)"><circle cx="582.60" cy="51.70" r="33.50" fill="#97b15d"/></g></g>
<text x="582.40" y="34.30" font-size="4.6" text-anchor="middle" fill="#222" stroke="#222" stroke-width="0.1">PLA-vs-CTS</text>
<text x="582.40" y="40.10" font-size="4.6" text-anchor="middle" fill="#222" stroke="#222" stroke-width="0.1">8</text>
<text x="563.20" y="60.50" font-size="4.6" text-anchor="middle" fill="#222" stroke="#222" stroke-width="0.1">7</text>
<text x="600.60" y="60.50" font-size="4.6" text-anchor="middle" fill="#222" stroke="#222" stroke-width="0.1">10</text>
<text x="582.30" y="71.70" font-size="4.6" text-anchor="middle" fill="#222" stroke="#222" stroke-width="0.1">19</text>
<text x="548.40" y="85.30" font-size="4.6" text-anchor="middle" fill="#222" stroke="#222" stroke-width="0.1">PLA-vs-NC</text>
<text x="548.40" y="90.60" font-size="4.6" text-anchor="middle" fill="#222" stroke="#222" stroke-width="0.1">8</text>
<text x="615.40" y="85.00" font-size="4.6" text-anchor="middle" fill="#222" stroke="#222" stroke-width="0.1">PLA-vs-GelMA</text>
<text x="615.40" y="90.60" font-size="4.6" text-anchor="middle" fill="#222" stroke="#222" stroke-width="0.1">12</text>
<text x="581.40" y="96.20" font-size="4.6" text-anchor="middle" fill="#222" stroke="#222" stroke-width="0.1">1</text>
<circle cx="582.5" cy="70" r="4" fill="none" stroke="#c0392b" stroke-width="0.9"/>
<line x1="584.00" y1="66.50" x2="637.00" y2="23.20" stroke="#333" stroke-width="0.4"/>
<line x1="584.50" y1="73.50" x2="637.00" y2="112.60" stroke="#333" stroke-width="0.4"/>
<rect x="637.00" y="23.10" width="60.60" height="89.50" fill="#fff" stroke="#444" stroke-width="0.5"/>
<text x="640.30" y="32.60" font-size="7.9" fill="#222" stroke="#222" stroke-width="0.14">Ccl20</text>
<text x="640.30" y="41.01" font-size="7.9" fill="#222" stroke="#222" stroke-width="0.14">Ccl3</text>
<text x="640.30" y="49.42" font-size="7.9" fill="#222" stroke="#222" stroke-width="0.14">Csf3</text>
<text x="640.30" y="57.83" font-size="7.9" fill="#222" stroke="#222" stroke-width="0.14">Cxcl1</text>
<text x="640.30" y="66.24" font-size="7.9" fill="#222" stroke="#222" stroke-width="0.14">Cxcl2</text>
<text x="640.30" y="74.65" font-size="7.9" fill="#222" stroke="#222" stroke-width="0.14">Cxcl3</text>
<text x="640.30" y="83.06" font-size="7.9" fill="#222" stroke="#222" stroke-width="0.14">Cxcl6</text>
<text x="640.30" y="91.47" font-size="7.9" fill="#222" stroke="#222" stroke-width="0.14">Edn1</text>
<text x="640.30" y="99.88" font-size="7.9" fill="#222" stroke="#222" stroke-width="0.14">Gdf15</text>
<text x="640.30" y="108.29" font-size="7.9" fill="#222" stroke="#222" stroke-width="0.14">Wnt5a</text>
<text x="669.60" y="32.60" font-size="7.9" fill="#222" stroke="#222" stroke-width="0.14">Il10</text>
<text x="669.60" y="41.01" font-size="7.9" fill="#222" stroke="#222" stroke-width="0.14">Il19</text>
<text x="669.60" y="49.42" font-size="7.9" fill="#222" stroke="#222" stroke-width="0.14">Il1a</text>
<text x="669.60" y="57.83" font-size="7.9" fill="#222" stroke="#222" stroke-width="0.14">Il1b</text>
<text x="669.60" y="66.24" font-size="7.9" fill="#222" stroke="#222" stroke-width="0.14">Il1rn</text>
<text x="669.60" y="74.65" font-size="7.9" fill="#222" stroke="#222" stroke-width="0.14">Il23a</text>
<text x="669.60" y="83.06" font-size="7.9" fill="#222" stroke="#222" stroke-width="0.14">Mif</text>
<text x="669.60" y="91.47" font-size="7.9" fill="#222" stroke="#222" stroke-width="0.14">Nampt</text>
<text x="669.60" y="99.88" font-size="7.9" fill="#222" stroke="#222" stroke-width="0.14">Tnf</text>
<text x="604.30" y="123.20" font-size="5.6" text-anchor="middle" fill="#222" stroke="#222" stroke-width="0.1" textLength="102.5" lengthAdjust="spacingAndGlyphs">GO term: cytokine/chemokine activity</text>
<text x="515.00" y="143.50" font-size="16.5" font-weight="bold">g</text>
<defs><clipPath id="vgr"><circle cx="553.6" cy="204.4" r="33.5"/></clipPath><clipPath id="vgb"><circle cx="587.6" cy="204.4" r="33.5"/></clipPath><clipPath id="vgg"><circle cx="570.6" cy="176.1" r="33.5"/></clipPath></defs><circle cx="553.60" cy="204.40" r="33.50" fill="#f5a198"/><circle cx="587.60" cy="204.40" r="33.50" fill="#a6daee"/><circle cx="570.60" cy="176.10" r="33.50" fill="#c4de7e"/><g clip-path="url(#vgr)"><circle cx="570.60" cy="176.10" r="33.50" fill="#c2a955"/><circle cx="587.60" cy="204.40" r="33.50" fill="#9fa8b6"/></g><g clip-path="url(#vgb)"><circle cx="570.60" cy="176.10" r="33.50" fill="#95cb79"/></g><g clip-path="url(#vgr)"><g clip-path="url(#vgb)"><circle cx="570.60" cy="176.10" r="33.50" fill="#97b15d"/></g></g>
<text x="569.20" y="158.50" font-size="4.6" text-anchor="middle" fill="#222" stroke="#222" stroke-width="0.1">PLA-vs-CTS</text>
<text x="569.20" y="164.20" font-size="4.6" text-anchor="middle" fill="#222" stroke="#222" stroke-width="0.1">16</text>
<text x="549.30" y="181.50" font-size="4.6" text-anchor="middle" fill="#222" stroke="#222" stroke-width="0.1">16</text>
<text x="589.70" y="181.50" font-size="4.6" text-anchor="middle" fill="#222" stroke="#222" stroke-width="0.1">7</text>
<text x="569.50" y="196.00" font-size="4.6" text-anchor="middle" fill="#222" stroke="#222" stroke-width="0.1">28</text>
<text x="535.40" y="208.40" font-size="4.6" text-anchor="middle" fill="#222" stroke="#222" stroke-width="0.1">PLA-vs-NC</text>
<text x="535.40" y="214.20" font-size="4.6" text-anchor="middle" fill="#222" stroke="#222" stroke-width="0.1">21</text>
<text x="600.00" y="208.40" font-size="4.6" text-anchor="middle" fill="#222" stroke="#222" stroke-width="0.1">PLA-vs-GelMA</text>
<text x="600.00" y="214.20" font-size="4.6" text-anchor="middle" fill="#222" stroke="#222" stroke-width="0.1">11</text>
<text x="568.60" y="219.10" font-size="4.6" text-anchor="middle" fill="#222" stroke="#222" stroke-width="0.1">0</text>
<circle cx="569.6" cy="194.3" r="4" fill="none" stroke="#c0392b" stroke-width="0.9"/>
<line x1="571.00" y1="190.80" x2="622.00" y2="149.60" stroke="#333" stroke-width="0.4"/>
<line x1="571.50" y1="197.80" x2="622.00" y2="234.70" stroke="#333" stroke-width="0.4"/>
<rect x="622.00" y="149.50" width="87.20" height="85.20" fill="#fff" stroke="#444" stroke-width="0.5"/>
<text x="624.90" y="158.50" font-size="7.6" fill="#222" stroke="#222" stroke-width="0.14">Ccl20</text>
<text x="624.90" y="166.50" font-size="7.6" fill="#222" stroke="#222" stroke-width="0.14">Ccl3</text>
<text x="624.90" y="174.50" font-size="7.6" fill="#222" stroke="#222" stroke-width="0.14">Ccr1</text>
<text x="624.90" y="182.50" font-size="7.6" fill="#222" stroke="#222" stroke-width="0.14">Ccr1l1</text>
<text x="624.90" y="190.50" font-size="7.6" fill="#222" stroke="#222" stroke-width="0.14">Csf2rb</text>
<text x="624.90" y="198.50" font-size="7.6" fill="#222" stroke="#222" stroke-width="0.14">Csf3</text>
<text x="624.90" y="206.50" font-size="7.6" fill="#222" stroke="#222" stroke-width="0.14">Csf3r</text>
<text x="624.90" y="214.50" font-size="7.6" fill="#222" stroke="#222" stroke-width="0.14">Cxcl1</text>
<text x="624.90" y="222.50" font-size="7.6" fill="#222" stroke="#222" stroke-width="0.14">Cxcl2</text>
<text x="624.90" y="230.50" font-size="7.6" fill="#222" stroke="#222" stroke-width="0.14">Cxcl3</text>
<text x="653.50" y="158.50" font-size="7.6" fill="#222" stroke="#222" stroke-width="0.14">Cxcl6</text>
<text x="653.50" y="166.50" font-size="7.6" fill="#222" stroke="#222" stroke-width="0.14">Ebi3</text>
<text x="653.50" y="174.50" font-size="7.6" fill="#222" stroke="#222" stroke-width="0.14">Fas</text>
<text x="653.50" y="182.50" font-size="7.6" fill="#222" stroke="#222" stroke-width="0.14">Gdf15</text>
<text x="653.50" y="190.50" font-size="7.6" fill="#222" stroke="#222" stroke-width="0.14">Ifnar1</text>
<text x="653.50" y="198.50" font-size="7.6" fill="#222" stroke="#222" stroke-width="0.14">Ifnar2</text>
<text x="653.50" y="206.50" font-size="7.6" fill="#222" stroke="#222" stroke-width="0.14">Il10</text>
<text x="653.50" y="214.50" font-size="7.6" fill="#222" stroke="#222" stroke-width="0.14">Il10rb</text>
<text x="653.50" y="222.50" font-size="7.6" fill="#222" stroke="#222" stroke-width="0.14">Il19</text>
<text x="653.50" y="230.50" font-size="7.6" fill="#222" stroke="#222" stroke-width="0.14">Il1a</text>
<text x="681.20" y="158.50" font-size="7.6" fill="#222" stroke="#222" stroke-width="0.14">Il1b</text>
<text x="681.20" y="166.50" font-size="7.6" fill="#222" stroke="#222" stroke-width="0.14">Il1r2</text>
<text x="681.20" y="174.50" font-size="7.6" fill="#222" stroke="#222" stroke-width="0.14">Il1rap</text>
<text x="681.20" y="182.50" font-size="7.6" fill="#222" stroke="#222" stroke-width="0.14">Il1rn</text>
<text x="681.20" y="190.50" font-size="7.6" fill="#222" stroke="#222" stroke-width="0.14">Il23a</text>
<text x="681.20" y="198.50" font-size="7.6" fill="#222" stroke="#222" stroke-width="0.14">Tnf</text>
<text x="681.20" y="206.50" font-size="7.6" fill="#222" stroke="#222" stroke-width="0.14">Tnfrsf1b</text>
<text x="681.20" y="214.50" font-size="7.6" fill="#222" stroke="#222" stroke-width="0.14">Xcr1</text>
<text x="614.70" y="246.80" font-size="5.6" text-anchor="middle" fill="#222" stroke="#222" stroke-width="0.1" textLength="147.4" lengthAdjust="spacingAndGlyphs">KEGG pathway: cytokine-cytokine receptor interaction</text>
<text x="0.30" y="290.50" font-size="16.5" font-weight="bold">c</text>
<line x1="67.00" y1="285.90" x2="67.00" y2="472.30" stroke="#8c8c8c" stroke-width="0.9"/>
<line x1="67.00" y1="472.30" x2="239.50" y2="472.30" stroke="#8c8c8c" stroke-width="0.9"/>
<line x1="65.00" y1="464.00" x2="67.00" y2="464.00" stroke="#8c8c8c" stroke-width="0.7"/>
<text x="61.20" y="466.60" font-size="7.4" text-anchor="end" fill="#222" stroke="#222" stroke-width="0.14">0</text>
<line x1="65.00" y1="430.60" x2="67.00" y2="430.60" stroke="#8c8c8c" stroke-width="0.7"/>
<text x="61.20" y="433.20" font-size="7.4" text-anchor="end" fill="#222" stroke="#222" stroke-width="0.14">10</text>
<line x1="65.00" y1="397.20" x2="67.00" y2="397.20" stroke="#8c8c8c" stroke-width="0.7"/>
<text x="61.20" y="399.80" font-size="7.4" text-anchor="end" fill="#222" stroke="#222" stroke-width="0.14">20</text>
<line x1="65.00" y1="363.80" x2="67.00" y2="363.80" stroke="#8c8c8c" stroke-width="0.7"/>
<text x="61.20" y="366.40" font-size="7.4" text-anchor="end" fill="#222" stroke="#222" stroke-width="0.14">30</text>
<line x1="65.00" y1="330.40" x2="67.00" y2="330.40" stroke="#8c8c8c" stroke-width="0.7"/>
<text x="61.20" y="333.00" font-size="7.4" text-anchor="end" fill="#222" stroke="#222" stroke-width="0.14">40</text>
<line x1="65.00" y1="297.00" x2="67.00" y2="297.00" stroke="#8c8c8c" stroke-width="0.7"/>
<text x="61.20" y="299.60" font-size="7.4" text-anchor="end" fill="#222" stroke="#222" stroke-width="0.14">50</text>
<line x1="88.10" y1="472.30" x2="88.10" y2="474.30" stroke="#8c8c8c" stroke-width="0.7"/>
<text x="88.10" y="483.90" font-size="7.4" text-anchor="middle" fill="#222" stroke="#222" stroke-width="0.14">-10</text>
<line x1="121.30" y1="472.30" x2="121.30" y2="474.30" stroke="#8c8c8c" stroke-width="0.7"/>
<text x="121.30" y="483.90" font-size="7.4" text-anchor="middle" fill="#222" stroke="#222" stroke-width="0.14">-5</text>
<line x1="154.50" y1="472.30" x2="154.50" y2="474.30" stroke="#8c8c8c" stroke-width="0.7"/>
<text x="154.50" y="483.90" font-size="7.4" text-anchor="middle" fill="#222" stroke="#222" stroke-width="0.14">0</text>
<line x1="187.70" y1="472.30" x2="187.70" y2="474.30" stroke="#8c8c8c" stroke-width="0.7"/>
<text x="187.70" y="483.90" font-size="7.4" text-anchor="middle" fill="#222" stroke="#222" stroke-width="0.14">5</text>
<line x1="220.90" y1="472.30" x2="220.90" y2="474.30" stroke="#8c8c8c" stroke-width="0.7"/>
<text x="220.90" y="483.90" font-size="7.4" text-anchor="middle" fill="#222" stroke="#222" stroke-width="0.14">10</text>
<line x1="147.90" y1="285.90" x2="147.90" y2="472.30" stroke="#cfcfcf" stroke-width="0.5" stroke-dasharray="1 1"/>
<line x1="161.10" y1="285.90" x2="161.10" y2="472.30" stroke="#cfcfcf" stroke-width="0.5" stroke-dasharray="1 1"/>
<line x1="67.00" y1="459.70" x2="239.50" y2="459.70" stroke="#cfcfcf" stroke-width="0.5" stroke-dasharray="1 1"/>
<text x="154.5" y="494.7" font-size="7.6" text-anchor="middle" fill="#222" stroke="#222" stroke-width="0.12">log<tspan font-size="5" dy="1.8">2</tspan><tspan dy="-1.8">FoldChange</tspan></text>
<text x="154.50" y="507.90" font-size="7.6" text-anchor="middle" fill="#222" stroke="#222" stroke-width="0.14">PLA-vs-NC</text>
<text x="40.8" y="380.5" font-size="7.6" text-anchor="middle" fill="#222" stroke="#222" stroke-width="0.12" transform="rotate(-90 40.8 380.5)">-log<tspan font-size="5" dy="1.8">10</tspan><tspan dy="-1.8">q-value</tspan></text>
<path d="M165.3 461.0h0M174.6 462.1h0M158.3 457.8h0M181.8 462.4h0M139.2 463.5h0M151.4 460.1h0M146.2 459.5h0M148.5 461.7h0M152.4 455.7h0M156.9 457.7h0M168.7 463.3h0M135.0 462.3h0M143.3 459.8h0M152.0 460.0h0M169.8 463.0h0M178.2 461.5h0M130.9 462.4h0M158.2 459.7h0M153.7 456.3h0M156.2 461.1h0M154.1 455.7h0M140.2 460.5h0M152.7 458.4h0M122.6 462.1h0M165.9 460.5h0M165.5 462.5h0M183.8 462.7h0M135.1 462.2h0M135.6 460.7h0M157.0 460.0h0M159.4 458.7h0M153.1 455.6h0M131.8 461.9h0M152.3 457.3h0M156.0 458.7h0M175.1 461.9h0M156.3 460.2h0M161.4 458.7h0M138.6 462.3h0M171.0 463.1h0M180.8 461.9h0M164.5 461.8h0M141.3 460.3h0M128.2 461.3h0M108.5 462.8h0M180.5 462.2h0M166.7 462.0h0M138.4 462.5h0M159.2 462.8h0M144.6 460.0h0M154.8 456.6h0M132.2 463.3h0M151.1 459.9h0M166.1 462.7h0M166.1 460.3h0M158.5 456.9h0M151.3 461.0h0M132.1 461.0h0M124.3 463.4h0M147.4 462.0h0M168.0 460.7h0M125.7 462.1h0M131.5 461.3h0M162.0 461.6h0M138.3 461.0h0M148.9 463.3h0M134.9 463.4h0M112.5 462.8h0M131.0 461.9h0M125.3 462.8h0M115.7 462.3h0M176.2 463.0h0M158.2 463.1h0M156.1 459.5h0M173.8 461.7h0M178.7 463.1h0M137.0 461.8h0M148.2 461.8h0M157.4 460.2h0M161.4 459.6h0M146.8 459.7h0M150.2 457.4h0M156.5 463.3h0M121.7 462.6h0M178.9 463.0h0M163.2 460.2h0M151.4 460.6h0M178.5 463.3h0M140.5 460.4h0M161.4 461.6h0M130.1 461.2h0M151.4 462.3h0M135.3 461.3h0M139.6 460.4h0M142.0 461.4h0M176.7 462.1h0M181.0 461.6h0M164.2 461.8h0M129.2 463.1h0M201.5 463.4h0M180.2 461.9h0M165.9 461.7h0M149.3 459.0h0M149.5 460.2h0M134.8 462.2h0M150.0 461.5h0M169.4 462.5h0M157.4 458.1h0M163.2 461.2h0M126.6 462.8h0M136.9 461.5h0M165.0 459.9h0M168.8 461.8h0M161.9 459.8h0M175.0 461.8h0M132.8 461.4h0M135.0 461.4h0M122.1 462.2h0M153.0 459.8h0M190.3 462.7h0M172.0 460.9h0M112.2 463.5h0M146.1 461.3h0M165.6 462.7h0M145.2 461.8h0M149.5 457.3h0M150.9 462.3h0M132.6 461.0h0M148.5 461.0h0M140.6 461.2h0M146.3 458.9h0M139.6 462.2h0M151.0 461.9h0M185.2 462.3h0M159.1 461.2h0M174.0 462.4h0M169.9 462.0h0M144.8 460.6h0M149.8 460.4h0M162.3 461.9h0M168.4 463.3h0M192.5 462.6h0M176.6 463.4h0M141.1 461.5h0M174.8 461.7h0M157.6 461.2h0M173.5 463.1h0M152.9 460.4h0M116.7 462.9h0M162.3 462.6h0M160.2 460.0h0M120.8 463.3h0M158.5 459.4h0M168.0 462.6h0M162.6 459.2h0M120.4 462.0h0M174.5 463.2h0M154.4 456.1h0M151.3 461.6h0M122.7 463.3h0M161.2 460.0h0M130.2 462.2h0M156.7 460.9h0M136.9 462.2h0M144.6 459.7h0M175.0 463.2h0M170.7 461.5h0M160.4 462.0h0M151.1 463.0h0M157.8 459.5h0M141.3 462.7h0M129.1 463.1h0M171.3 462.2h0M142.8 460.7h0M148.9 462.7h0M131.0 461.4h0M153.0 460.0h0M156.7 459.0h0M144.4 460.4h0M144.1 461.2h0M169.5 461.1h0M180.5 461.7h0M146.7 459.4h0M140.9 460.4h0M114.9 462.3h0M144.0 461.6h0M189.7 462.5h0M137.3 463.4h0M137.6 461.5h0M170.9 461.3h0M145.7 459.2h0M143.7 461.1h0M160.5 457.9h0M143.9 461.0h0M156.4 456.6h0M123.9 462.6h0M167.1 462.7h0M160.6 460.1h0M158.3 462.2h0M136.8 463.3h0M131.7 463.4h0M162.4 460.2h0M153.8 455.9h0M159.8 460.0h0M168.2 462.9h0M139.1 462.5h0M129.9 461.6h0M163.2 460.1h0M144.1 461.4h0M141.1 461.9h0M138.3 461.6h0M152.7 459.2h0M183.2 462.3h0M159.0 458.1h0M149.5 457.1h0M124.0 462.6h0M150.7 458.4h0M152.8 458.4h0M98.6 463.3h0M124.1 462.9h0M148.7 460.1h0M120.4 463.3h0M129.7 462.1h0M175.3 462.2h0M133.2 461.7h0M167.4 461.1h0M170.9 462.2h0M130.3 462.7h0M157.9 456.9h0M121.8 463.0h0M172.8 463.2h0M122.2 462.8h0M145.4 459.7h0M144.6 462.1h0M145.9 462.1h0M138.7 462.6h0M124.6 462.9h0M152.3 457.7h0M139.1 462.1h0M173.3 462.8h0M155.6 457.6h0M156.5 459.8h0M177.3 461.9h0M176.7 463.4h0M148.2 460.5h0M128.9 462.2h0M168.1 461.4h0M147.9 459.6h0M141.3 460.8h0M163.7 460.7h0M131.9 462.7h0M157.4 457.5h0M176.4 462.3h0M154.9 461.1h0M132.3 463.1h0M140.0 461.7h0M167.6 462.2h0M178.5 462.6h0M153.0 461.4h0M157.1 461.9h0M128.1 462.8h0M128.3 463.1h0M143.5 461.6h0M150.0 458.1h0M159.6 459.8h0M177.5 463.2h0M152.9 462.3h0M175.2 462.8h0M123.6 462.4h0M137.1 461.4h0M166.5 462.2h0M152.7 456.1h0M132.9 463.3h0M175.5 462.1h0M174.9 461.9h0M133.1 462.8h0M158.1 456.8h0M148.7 458.6h0M147.8 462.2h0M131.0 462.4h0M138.9 462.0h0M130.2 461.5h0M165.3 463.0h0M156.5 460.4h0M159.5 462.2h0M124.0 462.7h0M171.2 462.1h0M168.3 462.6h0M127.5 462.4h0M176.4 461.8h0M138.3 461.6h0M137.8 462.1h0M158.3 460.9h0M171.0 462.4h0M166.7 461.8h0M187.0 463.1h0M163.6 459.8h0M154.2 460.1h0M145.6 460.3h0M141.0 461.7h0M150.0 460.4h0M130.8 462.6h0M124.8 462.0h0M133.6 462.0h0M134.6 461.1h0M183.9 463.1h0M139.1 461.2h0M125.0 461.5h0M161.2 458.3h0M142.9 462.0h0M117.4 463.2h0M184.2 462.7h0M142.2 462.3h0M142.0 460.5h0M130.2 461.5h0M133.3 461.1h0M177.1 461.3h0M131.9 462.0h0M145.6 459.1h0M132.1 461.7h0M128.7 462.6h0M162.6 462.6h0M144.8 463.4h0M158.0 462.5h0M123.7 463.3h0M160.1 459.5h0M167.6 462.3h0M165.1 461.6h0M147.6 460.9h0M134.5 461.4h0M163.8 460.4h0M162.5 459.5h0M165.0 461.0h0M150.1 460.8h0M141.9 462.8h0M120.0 462.8h0M166.7 461.2h0M145.6 459.7h0M146.4 463.4h0M181.6 462.7h0M159.8 461.8h0M165.6 463.3h0M155.3 458.4h0M141.8 461.3h0M171.4 461.6h0M124.7 463.0h0M152.4 456.1h0M144.0 461.9h0M151.6 459.9h0M163.9 460.2h0M169.3 461.2h0M129.2 462.7h0M145.5 461.2h0M165.1 460.2h0M159.1 457.3h0M151.7 456.4h0M126.1 461.8h0M158.3 461.7h0M115.4 462.4h0M119.4 462.0h0M175.4 462.2h0M165.7 460.2h0M162.7 462.7h0M170.7 461.2h0M151.1 460.6h0M147.6 462.4h0M135.8 463.2h0M133.5 460.9h0M170.0 461.7h0M147.8 461.0h0M138.2 461.9h0M141.1 460.8h0M157.5 457.7h0M165.2 462.4h0M186.4 463.2h0M167.8 462.0h0M146.6 461.3h0M164.2 461.1h0M167.7 463.2h0M166.0 463.0h0M155.6 460.2h0M164.1 462.0h0M165.0 461.5h0M130.2 461.5h0M146.0 460.3h0M138.0 461.1h0M123.7 462.2h0M145.7 459.2h0M149.6 457.1h0M177.5 462.2h0M158.2 458.2h0M147.5 461.6h0M151.9 458.9h0M133.7 462.6h0M150.3 458.7h0M186.4 462.5h0M162.6 459.1h0M161.4 462.1h0M125.9 462.3h0M145.6 460.7h0M181.4 462.9h0M146.2 461.1h0M128.9 461.8h0M164.5 462.2h0M145.4 463.3h0M134.7 462.5h0M143.7 460.7h0M159.8 457.6h0M174.0 461.3h0M141.7 461.5h0M120.6 463.3h0M132.9 462.3h0M140.8 461.8h0M163.1 463.1h0M133.2 462.7h0M112.8 463.2h0M136.2 462.6h0M178.4 461.8h0M162.7 460.0h0M172.4 461.6h0M189.1 462.4h0M173.7 462.1h0M166.7 462.7h0M133.8 462.2h0M160.1 463.0h0M134.4 462.8h0M160.8 459.7h0M173.0 462.1h0M115.4 463.0h0M177.0 461.9h0M157.7 461.7h0M171.7 463.0h0M147.4 461.0h0M159.1 459.0h0M122.5 462.5h0M142.5 463.0h0M149.4 458.4h0M134.5 460.8h0M138.9 462.1h0M149.9 459.7h0M148.5 460.7h0M159.1 459.0h0M163.6 459.8h0M125.1 461.8h0M130.8 463.3h0M165.0 460.4h0M148.3 460.3h0M138.8 462.4h0M156.9 457.4h0M134.4 460.9h0M154.8 460.1h0M135.2 460.8h0M161.1 461.2h0M145.5 459.8h0M152.4 459.4h0M137.8 460.6h0M163.5 460.5h0M159.3 457.7h0M170.2 461.2h0M145.5 459.1h0M145.9 461.9h0M162.7 459.8h0M165.7 460.2h0M168.5 462.7h0M137.2 460.6h0M136.5 461.8h0M114.6 462.5h0M154.0 461.8h0M157.6 456.6h0M135.4 460.7h0M134.0 462.7h0M152.6 460.7h0M154.7 457.3h0M161.9 463.0h0M132.9 461.4h0M138.3 461.5h0M164.4 462.9h0M145.7 460.5h0M145.6 459.3h0M202.9 463.0h0M158.3 459.7h0M140.7 461.9h0M142.4 461.5h0M165.6 461.0h0M173.1 463.0h0M155.2 455.8h0M130.0 462.5h0M144.5 460.4h0M142.4 461.1h0M115.1 463.1h0M148.0 459.1h0M147.8 461.3h0M150.1 459.0h0M142.8 462.6h0M165.0 460.3h0M154.9 459.8h0M121.6 461.8h0M147.5 461.7h0M141.5 460.6h0M123.6 462.7h0M122.0 462.9h0M156.7 459.3h0M129.3 462.7h0M126.8 461.9h0M153.9 459.0h0M161.7 460.0h0M125.1 463.0h0M119.5 462.5h0M138.6 460.6h0M153.5 461.8h0M151.5 458.2h0M156.8 458.2h0M158.3 458.8h0M190.3 463.2h0M183.4 462.8h0M139.7 460.6h0M162.8 461.3h0M163.5 459.5h0M146.7 462.1h0M168.1 460.9h0M165.4 462.0h0M182.5 462.4h0M161.6 460.5h0M142.3 461.0h0M136.2 461.5h0M143.6 462.0h0M153.1 458.1h0M153.8 458.3h0M154.9 457.7h0M142.2 461.6h0M119.7 462.6h0M146.7 460.9h0M145.9 459.3h0M144.1 461.1h0M170.9 460.9h0M157.1 456.3h0M139.7 460.4h0M157.9 460.9h0M164.8 461.4h0M153.3 457.7h0M166.1 460.8h0M158.2 460.6h0M164.1 461.5h0M176.1 461.8h0M120.4 462.5h0M155.0 455.7h0M162.5 460.9h0M126.4 462.1h0M146.9 458.9h0M156.7 457.2h0M155.5 458.6h0M117.9 462.1h0M104.0 463.4h0M160.0 460.8h0M123.1 462.4h0M138.1 461.0h0M133.6 461.3h0M170.3 461.6h0M176.9 463.5h0M155.1 460.4h0M173.9 462.9h0M171.2 461.4h0M162.4 460.0h0M157.0 456.6h0M173.3 462.3h0M162.2 460.3h0M154.7 462.5h0M153.3 456.2h0M128.1 463.0h0M153.3 457.6h0M161.2 459.2h0M145.2 459.7h0M174.1 461.8h0M150.8 460.5h0M154.7 458.0h0M137.2 461.4h0M182.1 463.2h0M149.8 461.8h0M141.0 460.9h0M165.4 462.3h0M134.2 462.4h0M145.0 460.5h0M107.8 463.4h0M171.2 461.0h0M139.4 463.1h0M137.3 461.4h0M157.1 457.9h0M136.7 461.7h0M180.7 462.7h0M170.2 461.9h0M154.4 456.4h0M116.7 462.9h0M157.5 459.1h0M143.7 461.5h0M170.3 461.5h0M131.2 461.4h0M141.1 462.9h0M167.1 462.1h0M160.6 462.4h0M178.4 461.5h0M136.7 463.0h0M140.8 461.7h0M143.0 459.8h0M148.1 461.0h0M138.9 462.1h0M157.5 460.9h0M155.9 460.0h0M146.6 460.2h0M136.7 461.9h0M153.8 462.6h0M145.3 459.9h0M169.1 462.0h0M130.2 462.6h0M164.6 461.1h0M160.0 459.9h0M174.3 461.7h0M173.5 461.0h0M130.1 462.7h0M169.8 462.2h0M146.5 460.9h0M189.6 462.4h0M131.5 462.5h0M160.4 459.4h0M159.8 459.0h0M153.2 455.5h0M152.4 460.2h0M170.5 463.1h0M156.9 457.2h0M128.5 461.3h0M147.5 462.5h0M158.4 459.0h0M181.5 462.5h0M137.0 460.7h0M170.7 460.8h0M193.4 463.3h0M128.1 463.4h0M158.1 459.4h0M140.4 461.7h0M170.3 462.9h0M148.8 461.8h0M178.0 463.0h0M133.8 460.9h0M132.6 461.8h0M171.9 461.1h0M147.6 460.1h0M152.1 456.7h0M124.5 462.5h0M169.0 462.2h0M144.0 461.2h0M161.5 458.6h0M127.0 462.9h0M135.9 462.2h0M137.0 463.4h0M143.6 460.0h0M169.3 460.6h0M170.2 462.5h0M149.9 459.4h0M167.2 460.3h0M159.8 458.0h0M162.1 461.8h0M138.1 463.5h0M127.9 463.4h0M154.0 457.5h0M113.3 462.9h0M168.9 463.0h0M164.4 461.9h0M172.1 462.1h0M156.4 460.7h0M153.0 463.0h0M158.1 462.2h0M156.3 457.6h0M151.4 459.5h0M139.3 460.4h0M144.1 460.1h0M136.7 460.8h0M162.2 462.4h0M168.7 461.6h0M134.8 461.8h0M145.5 462.0h0M147.8 461.1h0M153.2 457.4h0M159.0 460.3h0M150.9 456.7h0M134.6 462.6h0M133.8 461.3h0M150.4 462.1h0M133.6 461.7h0M146.4 462.0h0M103.6 463.4h0M138.6 460.5h0M170.3 463.1h0M147.9 460.3h0M152.6 457.2h0M151.7 457.3h0M169.4 462.9h0M167.4 463.0h0M137.5 461.3h0M149.9 459.5h0M156.8 463.4h0M190.3 462.5h0M144.5 460.7h0M188.1 462.8h0M159.0 457.9h0M185.1 461.9h0M118.6 462.1h0M130.9 461.7h0M139.4 462.1h0M171.8 461.2h0M119.1 462.1h0M140.5 460.8h0M156.4 462.4h0M166.8 462.1h0M159.8 458.6h0M164.0 462.8h0M185.7 462.2h0M132.6 462.7h0M147.0 460.0h0M170.3 460.9h0M159.1 458.1h0M152.8 463.1h0M160.5 458.1h0M145.0 461.1h0M126.5 461.7h0M131.9 462.2h0M122.4 462.9h0M159.4 461.1h0M176.4 461.5h0M126.0 462.6h0M147.4 458.9h0M158.6 462.9h0M153.4 459.2h0M155.3 455.6h0M163.7 462.1h0M157.5 458.1h0M145.2 460.2h0M160.2 458.2h0M155.0 459.6h0M157.2 456.6h0M160.6 459.6h0M155.3 457.1h0M146.8 460.4h0M153.4 462.2h0M157.1 456.5h0M154.5 462.2h0M120.2 463.0h0M156.8 460.0h0M157.9 461.6h0M130.4 462.0h0M183.7 461.8h0M150.8 463.1h0M170.9 463.4h0M159.2 457.4h0M146.1 459.2h0M172.9 462.2h0M152.8 459.3h0M141.9 460.8h0M141.0 460.5h0M154.0 460.0h0M164.6 460.2h0M144.0 462.7h0M132.5 461.7h0M114.0 462.9h0M196.5 462.9h0M146.4 462.0h0M172.0 463.0h0M164.5 463.1h0M112.8 463.1h0M137.7 460.9h0M191.8 463.4h0M141.8 462.8h0M194.8 463.3h0M139.4 462.7h0M150.0 462.4h0M144.3 462.6h0M137.2 460.9h0M144.0 462.6h0M176.1 462.4h0M133.5 461.7h0M147.9 458.2h0M144.0 461.4h0M118.2 463.4h0M148.7 461.4h0M179.5 462.9h0M157.3 457.9h0M140.3 462.7h0M96.0 463.2h0M156.3 461.6h0M133.7 461.5h0M157.0 460.1h0M133.8 463.0h0M124.4 462.6h0M170.3 460.8h0M139.5 460.9h0M167.1 460.5h0M162.0 460.9h0M136.9 462.9h0M120.9 463.1h0M144.2 461.9h0M169.2 461.9h0M159.5 457.4h0M133.3 462.8h0M118.0 462.7h0M149.8 459.3h0M145.4 460.4h0M163.3 460.0h0M153.8 461.6h0M140.1 462.0h0M138.1 460.7h0M123.6 461.9h0M173.3 461.9h0M164.3 459.8h0M161.1 461.7h0M142.1 460.7h0M145.6 460.1h0M169.7 463.0h0M137.1 461.0h0M115.1 462.8h0M132.8 462.4h0M131.1 461.6h0M159.6 459.3h0M165.7 462.5h0M135.5 461.0h0M149.4 460.1h0M142.0 460.4h0M144.0 459.9h0M147.7 459.2h0M160.5 458.5h0M177.0 462.1h0M172.2 463.4h0M145.0 460.4h0M170.4 461.3h0M118.2 462.1h0M158.3 462.8h0M133.4 462.9h0M189.3 462.4h0M163.8 459.7h0M155.0 458.5h0M133.1 463.4h0M161.2 463.0h0M166.6 462.2h0M141.7 462.6h0M150.6 462.5h0M120.1 462.6h0M160.6 459.3h0M145.3 459.8h0M121.4 462.5h0M161.9 461.8h0M154.8 460.2h0M135.4 462.5h0M140.0 462.7h0M147.7 459.4h0M95.2 463.4h0M141.4 461.4h0M122.7 462.2h0M164.6 460.6h0M136.8 462.8h0M163.4 462.4h0M132.6 461.7h0M160.3 461.3h0M135.1 461.4h0M195.8 463.2h0M150.5 459.6h0M145.0 460.8h0M158.5 461.0h0M119.7 462.5h0M156.3 455.9h0M155.1 462.6h0M162.4 460.0h0M149.1 459.2h0M163.7 459.4h0M152.7 456.0h0M108.5 463.1h0M157.4 461.4h0M180.7 463.3h0M132.0 461.7h0M172.0 462.2h0M159.3 459.4h0M159.4 460.0h0M124.4 462.2h0M144.3 459.8h0M170.1 462.2h0M141.8 461.5h0M151.9 457.6h0M162.6 461.1h0M168.9 462.3h0M154.3 462.6h0M175.4 461.5h0M155.2 456.6h0M141.7 461.0h0M144.8 462.0h0M153.7 461.9h0M167.1 462.9h0M159.1 457.3h0M151.2 458.0h0M151.4 458.0h0M143.5 462.4h0M132.9 461.1h0M150.9 462.4h0M174.7 462.0h0M152.9 457.9h0M166.1 460.9h0M160.4 459.8h0M150.9 462.9h0M153.9 456.2h0M150.9 460.8h0M158.4 461.6h0M146.6 460.5h0M150.4 458.6h0M129.2 462.7h0M146.6 461.2h0M151.7 457.0h0M137.7 462.7h0M115.4 462.6h0M157.0 460.9h0M142.5 460.6h0M162.3 461.4h0M165.7 460.5h0M129.1 462.1h0M146.6 461.0h0M177.6 463.3h0M141.3 463.1h0M155.3 460.8h0M176.5 462.3h0M144.7 460.8h0M135.0 462.5h0M166.3 460.5h0M156.9 458.9h0M133.8 462.3h0M156.1 456.3h0M119.3 463.2h0M162.0 462.7h0M145.2 461.3h0M146.7 460.0h0M145.0 459.3h0M157.7 461.9h0M120.0 462.8h0M152.2 456.5h0M168.4 460.5h0M149.8 459.1h0M173.9 461.1h0M143.6 462.9h0M154.5 461.8h0M144.3 460.4h0M153.0 461.4h0M178.4 462.3h0M159.1 458.4h0M136.9 463.1h0M144.0 460.0h0M146.1 462.9h0M139.7 461.3h0M177.6 461.4h0M139.7 460.3h0M159.6 460.2h0M159.7 462.5h0M120.2 462.9h0M155.0 456.7h0M150.9 462.6h0M183.6 463.2h0M173.6 463.4h0M158.3 458.5h0M119.3 462.8h0M170.3 461.1h0M152.1 457.2h0M135.1 461.6h0M136.7 462.8h0M141.8 461.4h0M133.6 460.8h0M149.7 461.9h0M170.6 463.1h0M140.1 461.4h0M159.5 460.1h0M170.5 461.2h0M157.5 457.0h0M148.3 458.0h0M156.0 459.3h0M157.6 463.0h0M166.5 462.5h0M166.4 461.3h0M158.5 458.9h0M176.5 463.2h0M136.2 460.6h0M116.0 463.4h0M146.1 461.1h0M137.8 461.9h0M175.0 463.0h0M159.2 457.9h0M171.2 461.8h0M166.2 463.3h0M167.1 462.0h0M165.1 462.7h0M161.9 459.4h0M159.3 462.2h0M152.2 456.9h0M143.4 460.4h0M164.5 459.7h0M140.2 461.9h0M129.8 463.0h0M128.1 463.3h0M147.6 461.9h0M140.2 461.6h0M158.3 461.6h0M163.9 462.9h0M165.2 460.7h0M121.4 462.6h0M170.9 461.8h0M141.7 463.3h0M144.4 460.5h0M161.4 458.5h0M141.3 460.5h0M141.0 463.0h0M153.6 455.7h0M147.0 459.4h0M171.6 461.6h0M150.0 460.3h0M151.9 459.4h0M130.4 461.5h0M164.8 462.2h0M146.7 458.5h0M143.2 461.1h0M166.0 462.2h0M138.5 461.9h0M155.6 456.9h0M155.2 456.0h0M112.2 463.1h0M156.6 458.3h0M125.8 462.3h0M171.4 460.9h0M141.2 462.9h0M146.0 459.9h0M159.0 460.1h0M145.2 461.1h0M166.0 462.2h0M127.8 463.4h0M152.9 461.1h0M126.7 462.1h0M147.9 459.1h0M117.0 462.4h0M167.3 461.6h0M123.7 462.8h0M138.5 462.4h0M131.3 463.3h0M152.0 459.1h0M182.0 462.4h0M135.0 461.4h0M147.2 459.0h0M156.7 458.9h0M133.6 460.9h0M136.6 462.4h0M126.4 461.9h0M139.8 460.5h0M181.6 463.4h0M159.7 461.1h0M133.2 461.1h0M176.6 462.1h0M127.9 463.4h0M143.1 461.8h0M146.6 461.6h0M153.5 460.6h0M159.6 460.7h0M159.9 459.3h0M160.8 459.0h0M139.7 461.0h0M161.0 458.7h0M158.8 462.1h0M135.8 461.1h0M135.5 461.2h0M155.7 457.5h0M143.3 460.0h0M129.8 463.2h0M114.3 462.9h0M166.2 462.0h0M148.9 461.2h0M138.9 461.7h0M164.8 462.2h0M112.1 463.1h0M151.8 461.0h0M175.4 461.5h0M138.3 460.6h0M166.5 463.5h0M150.3 458.1h0M142.7 460.1h0M137.4 461.0h0M130.4 462.3h0M141.6 462.6h0M144.2 461.2h0M178.6 462.2h0M129.0 463.1h0M118.4 463.3h0M153.3 458.4h0M139.9 461.6h0M140.0 461.9h0M130.2 461.9h0M182.2 462.5h0M138.7 461.1h0M142.0 463.5h0M189.8 462.7h0M155.7 458.7h0M114.0 462.8h0M129.1 462.4h0M133.7 461.6h0" stroke="#cfd6de" stroke-width="2.3" stroke-linecap="round"/>
<path d="M147.7 463.7h0M143.8 463.3h0M143.5 460.9h0M144.9 461.3h0M143.2 462.3h0M143.7 460.5h0M140.0 462.5h0M134.8 460.7h0M138.8 460.4h0M147.4 461.3h0M144.3 462.1h0M146.6 460.9h0M136.5 463.5h0M143.2 461.6h0M139.9 463.2h0M142.8 461.6h0M142.0 461.6h0M137.1 461.8h0M144.0 464.0h0M133.0 460.1h0M144.7 461.1h0M147.7 461.0h0M138.8 463.8h0M137.8 461.0h0M139.5 462.1h0M131.9 460.3h0M147.0 463.6h0M147.3 462.7h0M146.7 463.6h0M140.7 461.4h0M130.4 462.6h0M133.1 462.0h0M134.5 461.1h0M145.7 462.3h0M139.2 464.0h0M146.8 461.3h0M135.1 461.2h0M145.3 461.7h0M141.9 461.7h0M146.8 462.7h0" stroke="#8cc6ee" stroke-width="1.6" stroke-linecap="round"/>
<path d="M167.9 460.9h0M163.0 462.7h0M163.4 463.9h0M180.6 463.3h0M174.4 463.2h0M167.6 463.5h0M169.9 460.0h0M177.8 460.2h0M161.2 460.8h0M165.3 462.2h0" stroke="#f6b9c2" stroke-width="1.6" stroke-linecap="round"/>
<path d="M144.9 459.6h0M146.7 456.2h0M142.0 443.7h0M140.5 459.3h0M129.8 459.2h0M129.8 451.4h0M138.7 457.0h0M139.7 456.0h0M131.2 456.7h0M139.2 456.8h0M141.2 450.5h0M135.3 455.0h0M137.7 440.2h0M140.4 450.7h0M131.6 452.0h0M145.5 458.3h0M141.2 452.9h0M140.9 458.0h0M131.3 456.1h0M143.4 455.7h0M139.9 459.5h0M143.0 456.8h0M143.9 458.6h0M135.7 458.6h0M136.9 453.2h0M145.8 459.0h0M133.3 457.0h0M138.7 452.1h0M134.9 455.4h0M145.5 458.5h0M145.7 459.1h0M140.3 458.9h0M136.8 452.5h0M144.1 458.8h0M145.2 458.5h0M137.8 450.1h0M144.5 454.6h0M142.6 448.6h0M136.5 459.5h0M146.4 457.9h0M138.8 458.6h0M139.0 453.5h0M143.9 455.9h0M144.2 456.8h0M146.1 458.3h0M129.7 457.4h0M142.1 455.9h0M119.8 455.3h0M141.5 457.9h0M137.4 456.5h0M145.1 459.5h0M138.1 459.2h0M140.6 444.2h0M139.9 458.3h0M132.4 456.9h0M130.2 454.4h0M145.5 458.6h0M136.8 459.6h0M138.2 452.5h0M136.7 440.9h0M137.4 459.1h0M136.9 455.6h0M142.3 459.6h0M146.7 457.7h0M132.1 436.2h0M131.6 447.8h0M138.1 457.4h0M128.5 457.5h0M144.5 454.4h0M145.7 459.4h0M132.2 459.4h0M137.9 454.8h0M137.4 452.5h0M146.6 457.9h0M143.3 457.5h0M137.0 451.6h0M144.3 452.6h0M136.9 456.8h0M144.0 457.6h0M142.1 456.1h0M140.4 456.1h0M110.7 456.4h0M146.5 458.3h0M135.3 454.1h0M143.5 450.5h0M140.6 459.4h0M143.4 448.7h0M137.6 456.6h0M142.7 456.7h0M140.6 455.8h0M128.9 459.0h0M134.2 453.8h0M133.1 453.9h0M143.8 452.0h0M140.2 456.8h0M141.1 451.1h0M140.9 443.9h0M137.4 457.3h0M137.0 456.6h0M142.6 452.8h0M138.1 457.1h0M139.7 444.6h0M141.8 457.9h0M140.2 437.5h0M130.8 459.6h0M145.9 458.0h0M137.5 454.9h0M134.5 458.5h0M130.2 458.1h0M135.1 456.1h0M127.6 452.0h0M139.7 452.4h0M138.1 449.2h0M132.4 459.3h0M145.4 457.4h0M135.5 454.8h0M138.9 452.2h0M125.7 447.1h0M138.9 454.2h0M137.5 448.2h0M143.8 457.3h0M145.0 454.3h0M142.1 451.0h0M146.5 454.3h0M128.8 455.2h0M145.1 457.4h0M144.3 459.0h0M143.5 454.2h0M141.1 457.0h0M133.8 458.6h0M130.1 458.1h0M129.2 457.1h0M146.4 457.8h0M147.1 458.6h0M127.8 458.8h0M132.3 458.0h0M144.9 450.2h0M128.7 454.9h0M137.5 459.5h0M136.6 454.5h0M126.2 448.2h0M140.9 459.0h0M139.7 458.3h0M114.9 458.1h0M139.4 458.9h0M146.1 454.3h0M140.6 458.3h0M133.9 458.4h0M137.6 454.5h0M141.2 455.9h0M146.8 459.3h0M140.0 459.3h0M144.9 459.6h0M138.0 459.5h0M138.0 458.5h0M135.4 452.4h0M144.4 458.7h0M145.0 454.4h0M145.9 456.6h0M138.9 457.8h0M132.2 455.6h0M133.7 455.0h0M127.5 454.5h0M134.2 459.5h0M128.0 456.6h0M126.6 459.5h0M140.7 453.6h0M135.3 455.9h0M145.1 459.0h0M137.1 457.1h0M141.6 459.4h0M146.9 455.0h0M135.3 456.7h0M133.3 459.2h0M138.4 448.6h0M146.0 458.5h0M141.7 458.0h0M133.0 455.4h0M139.5 453.9h0M143.8 459.5h0M125.7 444.2h0M138.9 452.8h0M142.9 457.6h0M139.0 458.2h0M143.1 459.4h0M145.5 458.5h0M142.1 456.6h0M138.2 451.2h0M139.3 452.0h0M138.3 456.9h0M142.5 449.0h0M119.5 458.1h0M134.1 458.4h0M126.8 458.9h0M145.1 458.6h0M131.7 441.0h0M118.1 456.4h0M140.7 453.7h0M134.6 456.9h0M132.5 458.5h0M133.3 449.4h0M140.2 453.0h0M131.6 457.5h0M138.2 458.8h0M137.7 445.0h0M141.0 454.4h0M143.7 458.6h0M133.5 456.5h0M144.6 457.5h0M142.8 452.2h0M146.8 458.5h0M145.5 457.0h0M144.7 458.2h0M134.5 457.0h0M129.8 453.0h0M137.3 456.9h0M129.2 458.6h0M140.9 457.6h0M139.6 457.9h0M138.3 454.4h0M137.1 455.6h0M135.5 455.5h0M137.2 459.0h0M142.5 454.8h0M143.4 449.0h0M139.4 457.1h0M135.6 457.3h0M137.9 457.4h0M137.2 449.0h0M139.5 458.0h0M139.3 458.3h0M128.3 459.6h0M139.8 450.2h0M136.4 456.7h0M146.2 452.4h0M133.1 447.5h0M140.7 455.9h0M144.8 456.4h0M146.0 449.9h0M142.5 458.1h0M137.7 459.6h0M137.3 448.7h0M140.5 454.1h0M146.4 459.5h0M142.6 455.2h0M143.6 453.2h0M128.5 458.7h0M135.6 442.8h0M144.2 459.5h0M143.0 458.6h0M139.5 459.0h0M140.1 458.0h0M137.2 458.1h0M134.0 459.1h0M139.5 459.3h0M142.2 459.0h0M137.8 451.4h0M146.8 459.4h0M145.3 456.1h0M144.4 450.0h0M141.2 452.2h0M139.1 457.3h0M138.6 457.8h0M146.0 454.9h0M141.8 457.7h0M142.6 459.5h0M130.1 455.8h0M130.6 458.2h0M134.3 458.9h0M144.9 456.0h0M146.5 458.5h0M142.1 457.7h0M146.5 456.6h0M143.9 455.6h0M143.8 452.6h0M142.4 457.7h0M136.1 453.8h0M135.9 436.1h0M146.5 446.5h0M130.6 456.1h0M145.3 458.1h0M142.1 457.3h0M145.1 457.5h0M142.3 454.9h0M134.3 456.3h0M146.8 453.2h0M146.4 459.1h0M137.7 459.0h0M140.3 454.0h0M138.5 459.2h0M143.3 450.8h0M130.1 458.2h0M134.5 458.3h0M142.6 456.5h0M123.7 458.3h0M138.5 448.6h0M138.7 458.8h0M140.3 458.1h0M143.9 458.2h0M145.6 458.2h0M128.3 457.0h0M123.6 448.0h0M146.5 457.6h0M146.1 457.8h0M144.2 458.5h0M140.0 449.5h0M136.5 458.0h0M142.9 455.0h0M145.8 458.8h0M145.3 451.9h0M140.9 457.0h0M132.1 455.2h0M132.3 451.2h0M145.1 455.2h0M131.0 452.5h0M144.8 457.2h0M135.7 454.8h0M137.4 446.5h0M133.5 448.5h0M144.9 459.4h0M140.6 451.5h0M133.4 456.0h0M139.3 458.5h0M130.2 459.6h0M145.6 459.1h0M141.0 459.1h0M129.9 456.6h0M133.5 453.5h0M145.9 455.2h0M142.1 458.2h0M131.0 459.6h0M141.8 454.6h0M143.8 457.6h0M139.2 453.3h0M144.5 457.9h0M143.8 456.0h0M136.2 451.9h0M144.2 451.6h0M146.9 458.9h0M139.2 452.3h0M145.1 457.1h0M135.0 455.3h0M140.1 459.3h0M144.7 452.7h0M145.2 458.2h0M133.7 450.4h0M134.0 457.6h0M132.7 458.6h0M143.9 459.3h0M141.2 438.8h0M144.5 457.2h0M143.3 459.3h0M133.9 452.3h0M141.8 444.6h0M138.5 459.5h0M141.1 454.6h0M141.7 458.4h0M146.8 458.8h0M138.7 442.1h0M143.4 455.7h0M143.8 458.5h0M129.1 450.9h0M143.0 457.9h0M145.2 458.2h0M132.3 450.1h0M136.0 456.6h0M131.9 453.7h0M146.4 456.9h0M136.9 452.1h0M137.5 456.3h0M143.2 457.6h0M139.6 458.2h0M117.9 436.6h0M136.5 458.2h0M135.6 457.7h0M139.8 459.3h0M141.9 456.8h0M126.5 459.4h0M140.7 449.1h0M142.7 453.5h0M138.1 459.2h0M145.7 458.0h0M140.9 449.5h0M128.2 456.7h0M134.8 458.2h0M140.9 445.2h0M135.5 458.6h0M125.2 452.6h0M143.9 452.4h0M146.8 455.7h0M115.6 450.5h0M121.5 455.0h0M128.5 459.5h0M135.9 445.1h0M144.4 448.2h0M128.6 454.8h0M139.0 457.3h0M139.4 456.3h0M141.1 456.5h0M133.3 453.0h0M124.3 458.3h0M143.9 457.9h0M145.6 457.6h0M134.9 459.2h0M144.5 457.9h0M135.5 457.2h0M122.0 455.0h0M134.6 457.8h0M141.0 458.7h0M141.1 458.7h0M147.1 457.9h0M136.8 458.8h0M145.1 454.0h0M124.7 458.3h0M142.2 458.1h0M145.7 459.0h0M131.3 456.2h0M146.9 453.1h0M135.6 457.1h0M132.7 454.9h0M134.2 452.8h0M137.2 451.2h0M129.0 456.8h0M142.4 450.9h0M127.6 459.0h0M140.3 445.8h0M117.2 453.2h0M136.4 459.2h0M144.8 457.0h0M139.1 458.4h0M141.0 453.6h0M135.9 457.7h0M144.0 459.6h0M145.9 442.0h0M144.7 449.1h0M139.8 459.6h0M144.9 458.6h0M146.4 459.3h0M146.2 457.3h0M139.8 457.5h0M130.3 455.5h0M137.3 459.0h0M132.4 456.9h0M141.0 456.4h0M141.2 448.2h0M141.9 444.3h0M141.6 449.2h0M137.6 452.3h0M139.6 458.0h0M132.4 459.0h0M138.4 444.3h0M141.8 450.0h0M124.3 457.1h0M141.2 456.4h0M146.4 457.1h0M146.0 459.0h0M138.7 457.7h0M138.4 453.1h0M144.4 456.0h0M135.4 439.7h0M135.5 453.7h0M147.2 459.5h0M146.4 456.3h0M140.2 459.6h0M145.2 456.8h0M129.2 448.1h0M136.9 459.2h0M146.2 457.2h0M136.9 451.4h0M133.8 459.1h0M134.2 457.3h0M145.7 456.9h0M136.8 457.2h0M145.0 455.8h0M135.4 441.1h0M138.5 457.6h0M142.8 448.1h0M127.9 434.6h0M138.9 456.1h0M145.4 454.8h0M133.8 453.5h0M137.3 458.2h0M141.9 459.6h0M131.7 448.5h0M145.8 455.9h0M134.5 457.8h0M144.2 454.2h0M139.9 459.6h0M123.8 459.6h0M141.8 459.3h0M147.1 459.0h0M134.1 450.2h0M138.2 454.5h0M139.8 451.9h0M142.2 459.0h0M135.7 458.4h0M135.3 458.0h0M142.8 440.7h0M146.2 458.5h0M122.9 446.3h0M134.7 446.8h0M143.3 443.0h0M140.1 458.6h0M143.8 459.4h0M142.7 456.4h0M143.5 459.6h0M143.5 448.1h0M126.1 458.2h0M141.4 456.1h0M131.8 459.1h0M139.2 453.9h0M140.3 453.7h0M142.4 459.5h0M142.1 447.6h0M132.5 454.4h0M146.9 446.4h0M129.8 443.5h0M121.8 454.9h0M142.9 457.7h0M147.2 459.3h0M123.9 458.1h0M129.9 452.5h0M123.6 459.2h0M123.4 454.4h0M129.1 458.7h0M115.0 455.5h0M119.7 459.5h0M119.4 457.5h0M117.7 455.1h0M125.9 457.1h0M121.5 458.1h0M122.8 458.4h0M126.6 458.7h0M122.1 457.3h0M122.0 459.3h0M128.0 458.6h0M119.3 454.3h0M128.9 456.4h0M128.8 459.5h0M116.0 451.6h0M126.5 458.6h0M130.8 454.9h0M128.9 458.0h0M128.0 459.5h0M121.3 448.6h0M131.1 459.3h0M119.1 458.5h0M129.0 457.4h0M130.9 454.1h0M117.1 457.7h0M117.8 459.0h0M119.2 456.9h0M131.0 453.9h0M120.6 458.0h0M121.6 458.6h0M126.2 457.9h0M121.3 458.6h0M118.4 447.9h0M115.0 446.4h0M126.1 456.6h0M126.1 455.3h0M118.7 459.4h0M130.8 456.8h0M127.4 452.3h0M118.6 459.5h0M129.3 455.7h0M122.4 459.3h0M127.8 459.6h0M127.7 450.2h0M120.8 458.3h0M128.0 459.3h0M118.7 453.3h0M119.4 456.3h0M124.5 455.7h0M118.3 458.4h0M120.9 449.8h0M117.0 455.9h0M127.6 447.2h0M117.0 459.2h0M124.1 454.2h0M125.3 455.6h0M122.0 452.6h0M123.0 456.2h0M115.3 456.3h0M116.6 459.0h0M130.2 458.7h0M129.6 452.1h0M117.1 456.3h0M115.2 459.4h0M125.9 459.6h0M138.6 440.2h0M130.9 439.6h0M138.3 451.9h0M131.4 448.6h0M130.5 446.4h0M128.9 443.7h0M139.9 447.0h0M128.2 443.9h0M132.7 448.5h0M139.7 442.9h0M128.2 442.4h0M143.0 444.0h0M132.1 449.0h0M133.6 446.3h0M136.6 440.1h0M128.7 444.6h0M137.9 444.5h0M138.6 440.1h0M134.9 452.2h0M136.1 446.6h0M128.0 441.3h0M133.9 452.3h0M137.3 445.3h0M131.8 443.5h0M132.4 440.2h0M130.7 446.6h0M135.8 447.0h0M137.0 444.0h0M141.1 447.5h0M140.7 447.2h0M134.4 451.9h0M134.1 442.6h0M141.2 445.5h0M143.0 444.3h0M135.3 446.0h0M138.2 447.9h0M130.4 441.6h0M129.2 441.2h0M138.6 440.4h0M139.9 448.9h0M138.0 445.0h0M138.6 442.7h0M134.9 445.3h0M131.6 448.5h0M127.3 446.6h0M139.9 441.2h0M138.5 447.8h0M127.7 441.4h0M143.6 443.6h0M141.4 451.9h0M141.9 444.3h0M133.5 442.8h0M127.1 439.8h0M127.1 441.6h0M128.0 439.4h0M143.6 445.7h0M140.3 446.8h0M130.4 443.0h0M135.2 443.4h0M135.3 440.0h0M133.7 449.1h0M140.9 442.9h0M136.0 451.8h0M130.8 449.4h0M143.9 439.7h0M130.3 447.2h0M131.5 450.6h0M142.4 449.4h0M140.3 446.1h0M135.5 441.1h0M108.0 459.1h0M106.3 452.9h0M103.1 459.0h0M103.9 459.3h0M114.0 459.1h0M106.9 458.8h0M107.0 458.8h0M119.4 458.5h0M119.0 458.0h0M115.6 456.0h0M99.6 458.9h0M101.1 452.6h0M109.9 454.2h0M104.8 454.0h0M101.2 457.6h0M113.6 455.3h0M107.1 458.5h0M114.8 450.6h0M106.1 459.6h0M103.5 457.2h0M106.5 458.1h0M102.9 458.8h0M111.9 457.9h0M104.2 459.6h0M108.0 457.0h0M104.9 455.9h0M112.9 459.2h0M107.9 458.4h0M111.4 448.7h0M106.2 459.5h0M110.7 452.4h0M101.1 459.6h0M107.7 453.5h0M113.6 458.4h0M118.2 458.1h0M100.1 458.4h0M100.7 459.5h0M106.1 457.9h0M108.2 450.4h0M109.9 455.7h0M99.7 452.7h0M105.7 455.9h0M101.9 457.3h0M102.6 454.3h0M107.8 449.8h0M116.4 458.8h0M104.9 455.3h0M105.8 458.8h0M99.9 454.0h0M113.4 458.8h0M119.8 458.9h0M104.7 458.3h0M103.0 459.6h0M104.1 453.2h0M103.3 457.8h0M116.0 459.5h0M110.8 454.9h0M101.4 454.1h0M112.9 458.3h0M118.4 456.7h0M117.9 454.3h0M105.1 459.2h0M100.2 459.3h0M101.2 455.2h0M103.6 456.5h0M99.8 459.2h0M101.4 459.1h0M109.3 457.7h0M103.7 451.0h0M116.5 459.2h0M112.3 458.3h0M114.0 459.0h0M105.4 459.1h0M111.2 458.0h0M107.5 454.0h0M129.5 447.7h0M89.3 432.9h0M100.9 446.1h0M115.7 428.0h0M101.3 427.0h0M91.6 424.8h0M114.9 433.5h0M120.4 433.6h0M103.0 444.1h0M114.3 432.4h0M125.7 441.7h0M109.0 445.0h0M110.9 429.0h0M98.3 445.3h0M125.6 440.8h0M102.0 432.8h0M125.8 425.3h0M116.8 424.6h0" stroke="#3f7ab8" stroke-width="1.6" stroke-linecap="round"/>
<path d="M168.7 447.6h0M165.9 456.2h0M171.3 456.3h0M189.7 457.0h0M172.2 458.1h0M165.0 430.0h0M170.2 454.7h0M169.0 457.6h0M162.2 459.5h0M161.8 458.8h0M161.6 445.5h0M168.5 457.8h0M167.8 449.8h0M174.1 459.6h0M171.3 458.9h0M167.0 448.6h0M166.1 449.6h0M169.4 455.1h0M172.3 447.7h0M163.3 446.4h0M175.0 446.3h0M178.6 450.5h0M164.8 452.9h0M171.6 447.8h0M162.3 459.5h0M172.2 453.6h0M165.2 456.3h0M169.6 454.9h0M179.4 449.3h0M163.1 455.8h0M167.6 451.9h0M166.6 450.3h0M175.2 440.3h0M169.4 450.0h0M165.9 450.2h0M163.6 452.6h0M164.3 459.4h0M162.1 458.7h0M190.3 455.4h0M173.6 442.7h0M177.7 459.4h0M171.5 458.0h0M162.4 457.0h0M174.2 459.0h0M170.1 453.6h0M170.8 453.9h0M164.2 457.1h0M166.5 456.5h0M168.0 456.8h0M162.2 459.0h0M161.5 458.8h0M162.7 458.6h0M164.8 456.0h0M166.0 453.0h0M165.6 454.7h0M171.5 458.8h0M188.6 454.1h0M171.6 449.1h0M170.7 448.6h0M172.2 453.6h0M187.6 458.4h0M171.7 457.5h0M166.6 454.2h0M163.4 457.3h0M166.2 459.4h0M165.4 457.2h0M173.3 459.2h0M168.8 445.2h0M165.7 455.1h0M176.9 458.8h0M165.4 451.8h0M169.3 411.7h0M165.2 441.3h0M180.9 447.4h0M164.9 448.2h0M176.0 446.8h0M171.7 448.0h0M188.9 455.3h0M161.8 456.1h0M166.4 447.1h0M177.6 447.4h0M177.4 458.6h0M166.7 457.5h0M174.8 454.6h0M169.8 454.5h0M165.9 459.1h0M170.2 450.7h0M175.9 439.5h0M173.2 456.5h0M166.4 440.6h0M162.0 457.1h0M175.6 451.0h0M169.5 459.2h0M169.4 456.4h0M162.5 458.5h0M163.2 456.8h0M172.0 433.1h0M188.9 453.7h0M172.7 457.5h0M168.6 452.4h0M179.9 456.7h0M174.0 459.5h0M172.7 453.0h0M170.2 454.8h0M169.2 450.0h0M175.8 457.1h0M170.4 459.0h0M174.8 459.4h0M175.3 457.5h0M165.8 457.1h0M161.5 441.3h0M174.7 459.3h0M169.6 454.8h0M164.2 459.2h0M161.9 453.2h0M176.9 459.3h0M168.1 459.2h0M166.2 457.4h0M179.5 459.1h0M176.3 458.4h0M176.5 458.5h0M168.1 455.3h0M184.4 455.0h0M179.1 454.3h0M165.5 453.5h0M167.5 458.0h0M162.6 458.4h0M163.6 453.0h0M167.3 456.1h0M167.1 459.0h0M164.4 453.7h0M178.2 446.7h0M170.4 433.4h0M186.8 458.4h0M170.5 457.7h0M180.1 453.3h0M162.5 454.5h0M165.1 443.0h0M178.3 446.0h0M173.9 454.7h0M175.3 440.8h0M172.7 449.2h0M165.2 455.7h0M177.0 457.2h0M169.0 449.1h0M172.4 443.2h0M173.4 456.2h0M173.8 458.2h0M171.1 456.8h0M164.4 452.5h0M167.9 441.2h0M162.1 449.2h0M163.5 452.7h0M163.9 431.6h0M181.9 458.8h0M178.7 454.3h0M171.2 455.9h0M179.8 443.1h0M165.3 453.5h0M162.9 458.5h0M166.3 458.5h0M168.6 456.6h0M163.8 432.9h0M170.2 435.6h0M176.0 448.9h0M164.3 457.8h0M163.2 447.7h0M168.2 458.8h0M173.1 459.5h0M169.3 450.9h0M164.5 455.6h0M171.6 450.4h0M169.0 419.7h0M169.5 447.3h0M173.1 459.6h0M164.0 456.0h0M163.8 455.2h0M167.1 444.1h0M167.5 458.6h0M165.8 459.5h0M180.9 435.2h0M163.4 448.0h0M176.7 455.7h0M163.1 457.3h0M185.5 456.7h0M166.2 458.2h0M175.8 449.4h0M163.6 452.9h0M162.5 454.9h0M161.8 443.0h0M170.6 443.9h0M165.5 457.1h0M167.6 448.2h0M176.8 447.8h0M167.1 456.5h0M166.7 435.6h0M171.1 459.2h0M172.8 455.9h0M164.2 443.1h0M175.9 456.9h0M169.4 459.5h0M162.1 452.9h0M185.1 456.5h0M171.6 450.2h0M173.6 455.6h0M171.8 459.5h0M161.8 451.5h0M174.4 457.2h0M162.2 450.3h0M174.5 441.6h0M186.2 459.3h0M167.6 456.9h0M174.8 459.2h0M167.9 455.3h0M180.8 452.4h0M164.0 448.9h0M166.8 457.4h0M164.2 451.8h0M166.8 456.4h0M173.1 455.8h0M168.1 451.6h0M182.7 458.9h0M169.4 456.6h0M170.4 455.2h0M163.1 456.3h0M164.1 440.9h0M175.9 458.0h0M170.1 451.5h0M169.8 456.3h0M168.4 452.3h0M173.5 450.9h0M169.6 457.5h0M183.5 454.7h0M167.6 456.6h0M162.5 433.9h0M168.1 449.7h0M162.1 455.6h0M161.6 458.8h0M179.3 455.1h0M167.0 453.2h0M171.5 444.6h0M161.5 451.6h0M168.8 456.4h0M166.9 458.8h0M177.6 447.1h0M172.5 438.9h0M177.0 453.0h0M164.6 456.9h0M163.8 457.9h0M161.9 454.0h0M163.2 447.4h0M165.8 451.0h0M161.5 452.4h0M162.1 450.9h0M164.6 455.8h0M179.0 439.6h0M170.2 458.3h0M172.9 442.0h0M174.3 447.9h0M179.1 458.6h0M168.4 449.6h0M177.2 452.9h0M180.3 457.4h0M165.4 458.0h0M163.8 458.8h0M170.6 458.6h0M166.5 457.9h0M164.3 449.8h0M163.7 451.8h0M164.4 454.4h0M174.2 457.9h0M167.9 457.6h0M172.5 451.8h0M165.7 459.0h0M168.4 452.1h0M178.2 454.6h0M170.6 457.3h0M168.0 455.7h0M167.1 448.3h0M171.1 458.7h0M166.7 457.2h0M170.6 457.9h0M165.9 459.0h0M167.0 437.1h0M166.3 459.3h0M182.3 457.0h0M177.4 459.4h0M167.8 447.0h0M187.6 454.4h0M172.1 459.5h0M172.3 455.3h0M174.5 453.8h0M172.8 458.9h0M165.6 458.0h0M170.3 456.0h0M172.3 458.8h0M163.5 458.1h0M165.4 451.4h0M164.9 457.0h0M168.6 457.0h0M179.5 411.8h0M164.1 455.4h0M171.4 455.8h0M165.6 453.2h0M176.1 454.8h0M174.7 459.2h0M177.0 458.4h0M173.3 453.8h0M161.9 455.0h0M167.3 454.8h0M164.2 457.9h0M165.9 453.8h0M163.9 428.8h0M164.8 450.4h0M166.8 446.6h0M180.0 441.8h0M171.5 457.7h0M168.0 454.4h0M171.9 456.4h0M170.2 450.3h0M166.8 457.7h0M165.1 458.8h0M173.9 436.5h0M167.4 458.8h0M174.7 457.3h0M162.8 436.4h0M179.1 450.8h0M171.3 432.1h0M179.5 458.4h0M171.0 455.0h0M167.1 455.2h0M168.9 453.3h0M174.7 454.6h0M175.9 455.6h0M162.3 444.8h0M163.9 459.2h0M163.9 450.0h0M162.7 456.8h0M162.0 455.9h0M169.7 444.7h0M166.0 457.3h0M166.5 446.2h0M164.2 454.8h0M164.3 459.5h0M162.2 457.7h0M167.8 458.8h0M166.7 439.6h0M165.1 453.7h0M161.6 458.4h0M167.0 455.2h0M172.6 459.5h0M169.8 459.1h0M174.4 454.1h0M163.8 449.0h0M165.5 447.5h0M164.0 453.8h0M171.5 453.6h0M167.9 458.6h0M174.8 451.9h0M177.8 446.6h0M170.0 445.8h0M173.5 448.7h0M174.2 453.0h0M162.8 458.6h0M161.7 458.4h0M165.0 453.8h0M166.2 456.0h0M167.8 458.8h0M171.0 455.7h0M183.8 456.7h0M168.6 442.5h0M167.4 444.4h0M169.0 459.5h0M175.8 455.5h0M165.7 443.0h0M168.3 450.3h0M162.0 453.8h0M166.8 445.3h0M172.1 459.4h0M168.9 452.3h0M173.7 451.3h0M166.3 452.6h0M177.1 459.5h0M167.4 459.4h0M164.5 455.7h0M166.6 455.5h0M171.6 451.8h0M181.0 458.2h0M171.3 443.6h0M170.1 457.6h0M165.5 449.7h0M169.4 438.7h0M174.1 458.7h0M163.6 448.0h0M170.8 456.6h0M165.7 455.1h0M163.9 456.5h0M170.1 453.8h0M174.7 454.0h0M162.5 446.0h0M183.2 459.3h0M166.8 446.9h0M171.6 453.3h0M175.5 457.9h0M178.2 455.7h0M169.2 458.6h0M169.7 459.2h0M171.3 457.8h0M165.0 456.9h0M163.1 459.5h0M168.2 459.3h0M176.9 453.9h0M162.4 457.7h0M175.8 452.0h0M163.0 457.4h0M172.7 459.3h0M162.9 457.5h0M175.9 459.1h0M181.9 450.4h0M166.1 456.0h0M168.5 441.7h0M170.4 456.2h0M166.7 449.3h0M167.2 459.6h0M172.2 456.9h0M169.8 452.9h0M161.9 457.3h0M162.2 458.4h0M169.3 457.5h0M172.1 443.9h0M162.4 436.3h0M167.3 452.7h0M176.4 456.1h0M172.8 452.4h0M175.0 458.7h0M168.5 458.6h0M168.4 452.9h0M167.1 458.8h0M164.7 452.9h0M164.5 438.2h0M162.8 454.4h0M180.3 452.2h0M165.2 457.7h0M161.6 450.7h0M178.9 457.3h0M166.5 452.5h0M168.8 459.2h0M166.7 442.4h0M166.8 435.8h0M168.8 456.3h0M167.2 454.9h0M171.5 458.4h0M161.7 459.2h0M167.3 455.9h0M166.0 455.6h0M181.6 442.0h0M171.4 446.9h0M168.2 455.0h0M164.4 444.8h0M181.4 450.3h0M171.8 447.6h0M163.9 459.2h0M174.3 449.4h0M168.3 459.1h0M167.2 458.5h0M162.2 453.4h0M177.6 458.4h0M172.8 450.2h0M163.1 454.8h0M179.7 455.4h0M187.1 454.8h0M180.7 454.2h0M165.8 458.0h0M172.0 454.9h0M164.1 450.1h0M169.1 459.5h0M163.6 453.7h0M162.6 455.5h0M173.5 454.8h0M171.9 458.5h0M169.4 454.7h0M162.7 436.2h0M172.2 459.3h0M164.9 457.0h0M166.7 452.6h0M166.3 454.3h0M166.9 458.6h0M163.2 446.1h0M162.0 455.1h0M162.3 456.2h0M162.7 448.9h0M175.9 448.1h0M169.1 448.4h0M174.6 446.7h0M170.5 451.2h0M161.7 441.8h0M165.6 459.1h0M172.1 448.0h0M163.8 456.3h0M172.6 447.2h0M177.1 448.1h0M175.4 448.1h0M173.2 458.2h0M164.1 458.6h0M168.0 456.4h0M163.0 433.4h0M172.6 434.1h0M161.8 440.3h0M167.7 443.0h0M163.5 452.9h0M172.2 459.0h0M165.1 452.3h0M165.4 443.9h0M182.2 444.6h0M175.5 456.0h0M163.9 458.5h0M173.9 446.6h0M173.3 454.6h0M163.1 453.1h0M165.8 457.3h0M180.1 455.4h0M179.0 457.0h0M177.1 455.2h0M168.5 446.8h0M163.5 444.2h0M165.9 458.9h0M162.8 459.4h0M176.2 454.3h0M169.4 459.5h0M163.2 447.4h0M162.7 458.5h0M167.4 455.1h0M171.3 458.3h0M165.7 459.3h0M173.6 444.8h0M166.9 459.6h0M171.7 453.8h0M167.1 458.0h0M166.6 458.5h0M166.3 459.2h0M162.2 454.7h0M168.8 433.6h0M163.6 453.4h0M169.9 453.5h0M178.9 459.0h0M178.4 459.4h0M175.3 457.7h0M169.7 457.1h0M178.8 456.2h0M161.5 448.0h0M165.4 455.4h0M166.6 455.2h0M165.6 456.5h0M163.2 459.5h0M169.5 454.2h0M162.7 449.8h0M167.6 455.8h0M167.7 445.3h0M168.8 454.9h0M177.7 457.5h0M166.3 459.1h0M168.4 443.2h0M166.0 457.8h0M161.6 455.9h0M163.2 433.5h0M164.1 455.6h0M175.0 447.5h0M165.7 446.0h0M171.7 458.2h0M163.3 458.6h0M167.5 456.7h0M166.5 456.8h0M174.1 456.3h0M178.3 454.4h0M163.2 452.4h0M176.7 459.4h0M168.9 458.1h0M167.8 457.3h0M172.7 457.1h0M169.9 453.2h0M164.9 450.8h0M171.9 458.2h0M182.0 459.1h0M167.6 457.0h0M167.6 439.8h0M167.5 456.5h0M176.8 456.5h0M174.1 440.2h0M163.6 444.2h0M176.8 457.0h0M169.8 458.4h0M173.5 458.0h0M169.5 457.0h0M164.9 438.3h0M168.1 456.9h0M173.3 453.5h0M165.7 459.0h0M172.7 454.6h0M164.4 454.6h0M182.7 450.9h0M162.3 448.4h0M167.9 448.8h0M168.6 444.3h0M171.5 431.7h0M167.8 456.2h0M180.5 459.0h0M168.0 445.9h0M176.1 458.0h0M166.7 452.7h0M168.1 458.5h0M172.9 455.6h0M163.4 442.8h0M169.3 444.6h0M173.6 443.4h0M162.1 459.5h0M168.3 453.2h0M165.4 442.7h0M162.9 459.1h0M169.1 459.3h0M166.4 457.5h0M164.5 459.2h0M174.1 454.6h0M170.7 458.6h0M162.5 458.9h0M174.4 450.3h0M173.0 448.2h0M173.7 446.6h0M169.7 449.8h0M162.4 449.5h0M178.4 457.1h0M172.3 443.7h0M165.5 450.6h0M163.4 436.9h0M169.5 444.8h0M172.9 445.1h0M173.7 452.5h0M172.4 458.9h0M167.2 457.9h0M175.0 432.2h0M167.1 454.7h0M170.5 451.7h0M174.2 439.8h0M163.7 440.2h0M169.4 457.2h0M165.4 455.2h0M170.4 441.7h0M166.7 446.0h0M176.8 458.4h0M167.4 456.8h0M169.4 458.4h0M161.8 448.0h0M163.0 447.2h0M167.5 449.3h0M164.2 455.7h0M179.7 434.5h0M173.1 456.1h0M163.4 450.6h0M163.6 441.7h0M172.9 456.3h0M162.2 456.7h0M176.1 454.3h0M173.8 449.5h0M170.0 428.8h0M162.4 450.0h0M166.5 454.8h0M177.5 454.7h0M163.9 456.1h0M169.1 442.7h0M167.8 456.1h0M170.7 457.9h0M165.6 449.9h0M166.8 456.2h0M161.6 458.7h0M171.6 455.7h0M162.5 442.9h0M169.7 455.7h0M168.0 451.8h0M174.0 447.9h0M171.1 451.2h0M166.2 443.1h0M167.0 454.2h0M174.3 453.5h0M163.9 447.7h0M163.8 425.1h0M170.9 449.5h0M165.0 452.4h0M186.4 444.4h0M164.0 432.9h0M173.6 457.7h0M178.1 456.4h0M177.6 459.6h0M162.8 458.2h0M164.8 452.7h0M170.4 451.6h0M184.3 458.5h0M162.6 454.1h0M165.0 457.1h0M174.1 457.5h0M162.7 458.2h0M168.4 455.1h0M161.8 451.1h0M163.2 459.4h0M170.5 458.4h0M164.0 456.1h0M163.9 457.8h0M162.3 456.3h0M164.6 455.9h0M170.7 438.8h0M162.3 454.3h0M169.1 457.2h0M169.3 457.5h0M175.8 452.2h0M165.0 455.4h0M161.6 448.6h0M165.2 447.3h0M167.2 445.6h0M171.3 443.7h0M172.5 406.0h0M174.1 458.4h0M165.3 453.1h0M178.1 436.3h0M163.1 454.3h0M182.1 456.1h0M177.0 438.2h0M169.3 454.2h0M171.5 459.3h0M166.5 452.9h0M167.6 458.5h0M164.6 454.0h0M170.5 452.9h0M172.0 443.7h0M174.0 448.3h0M165.7 455.8h0M167.3 459.6h0M170.6 455.4h0M180.0 457.4h0M166.7 455.5h0M168.1 450.5h0M176.7 459.6h0M178.8 459.5h0M168.0 446.7h0M166.9 458.0h0M168.6 451.0h0M165.3 457.0h0M163.5 453.3h0M167.6 457.0h0M163.6 455.0h0M166.2 459.2h0M163.7 446.7h0M171.2 458.9h0M172.9 420.2h0M175.1 444.5h0M170.7 422.3h0M176.0 434.5h0M169.2 439.4h0M178.0 445.1h0M171.8 434.5h0M175.1 438.8h0M182.7 429.9h0M166.1 440.5h0M174.1 423.7h0M178.8 446.0h0M167.1 444.0h0M173.7 433.3h0M171.9 415.5h0M172.9 434.0h0M167.9 416.0h0M178.1 424.0h0M169.2 433.8h0M175.6 426.4h0M169.6 433.5h0M168.4 421.0h0M166.2 437.5h0M170.3 415.4h0M176.6 441.4h0M171.5 442.3h0M176.2 417.2h0M168.0 445.3h0M169.6 436.5h0M175.0 441.5h0M174.3 431.5h0M171.7 416.9h0M176.5 440.3h0M164.8 421.1h0M178.0 420.8h0M180.6 434.5h0M169.9 446.7h0M175.7 429.5h0M177.0 443.9h0M176.5 437.3h0M175.1 441.7h0M168.8 441.4h0M171.3 416.9h0M170.8 447.3h0M170.1 425.4h0M173.4 445.3h0M180.9 423.9h0M176.5 439.7h0M171.1 415.8h0M174.9 443.4h0M163.2 433.3h0M169.2 436.9h0M175.2 440.5h0M173.2 420.5h0M178.9 446.6h0M175.2 447.3h0M173.1 441.3h0M174.5 431.2h0M180.8 414.1h0M174.4 428.5h0M174.9 443.7h0M170.5 429.9h0M165.5 428.0h0M173.5 442.1h0M172.6 414.3h0M170.6 442.9h0M172.5 443.9h0M169.9 446.2h0M168.8 420.2h0M174.6 423.7h0M175.6 426.1h0M170.7 422.5h0M181.0 415.5h0M178.4 445.2h0M172.0 441.8h0M170.1 447.0h0M169.7 428.0h0M168.6 445.0h0M168.9 442.1h0M169.1 416.3h0M172.2 415.9h0M174.0 444.1h0M177.1 446.8h0M173.2 442.4h0M167.1 438.7h0M173.7 447.2h0M177.5 445.3h0M174.3 436.6h0M167.9 415.1h0M170.3 434.5h0M175.5 447.1h0M173.0 430.9h0M172.9 447.2h0M165.8 442.9h0M165.9 431.7h0M177.4 434.4h0M175.8 431.6h0M174.8 437.9h0M174.2 445.9h0M172.3 414.1h0M170.1 431.9h0M172.4 433.4h0M175.9 430.8h0M173.8 417.6h0M172.1 415.5h0M175.7 445.8h0M174.8 434.7h0M169.3 427.7h0M170.0 441.3h0M182.3 447.0h0M167.4 428.5h0M172.4 438.8h0M176.3 439.6h0M176.5 437.0h0M179.0 443.0h0M178.9 415.9h0M171.5 436.0h0M167.8 447.3h0M171.5 420.6h0M176.2 421.5h0M169.9 417.2h0M169.8 447.3h0M166.6 439.3h0M174.0 438.2h0M173.2 436.8h0M170.6 431.1h0M166.7 413.9h0M170.5 439.8h0M167.5 419.0h0M171.9 445.5h0M180.7 422.2h0M176.8 446.5h0M176.3 434.9h0M170.9 435.0h0M171.2 446.2h0M176.7 446.7h0M167.2 425.1h0M164.8 430.6h0M169.9 418.7h0M174.0 446.9h0M167.5 440.5h0M171.8 442.0h0M173.1 425.2h0M172.5 447.0h0M174.4 443.7h0M174.2 425.2h0M175.9 441.7h0M180.8 446.9h0M169.1 433.7h0M171.3 443.1h0M174.0 427.8h0M180.0 444.2h0M174.6 446.0h0M167.2 417.3h0M165.9 429.0h0M176.8 418.8h0M180.4 430.8h0M177.2 439.6h0M178.7 430.6h0M170.0 447.1h0M172.1 438.9h0M169.4 427.5h0M170.4 444.3h0M166.1 420.9h0M171.9 420.0h0M173.5 444.4h0M168.6 446.4h0M171.2 442.0h0M178.0 446.8h0M174.2 443.8h0M176.7 437.4h0M171.4 446.7h0M177.9 441.8h0M170.7 432.3h0M167.6 438.5h0M175.9 440.4h0M170.8 424.2h0M179.7 427.4h0M176.6 422.3h0M171.1 431.8h0M172.4 426.4h0M174.4 446.1h0M168.8 446.4h0M173.9 417.8h0M166.2 418.0h0M179.2 446.6h0M170.0 436.2h0M177.5 423.1h0M171.7 420.9h0M175.1 441.4h0M173.3 447.1h0M173.5 440.0h0M173.6 443.2h0M170.8 441.1h0M181.1 423.9h0M169.9 442.7h0M171.4 423.2h0M171.6 434.7h0M176.3 436.7h0M173.8 441.0h0M169.3 432.5h0M184.0 415.1h0M169.5 443.4h0M179.2 424.4h0M176.3 447.1h0M171.6 425.3h0M173.2 445.0h0M163.5 415.1h0M175.6 447.2h0M177.7 432.9h0M175.6 446.8h0M170.1 439.3h0M167.1 442.3h0M168.5 426.0h0M178.3 437.9h0M171.8 422.2h0M170.2 435.6h0M175.6 439.5h0M168.8 425.1h0M178.6 426.9h0M167.5 425.0h0M178.1 439.8h0M170.7 431.3h0M177.4 413.9h0M174.8 415.0h0M174.8 443.3h0M172.5 436.2h0M170.0 446.8h0M168.1 445.4h0M169.3 440.8h0M172.0 443.5h0M172.8 443.3h0M175.4 446.2h0M174.7 445.1h0M171.9 443.9h0M178.1 430.0h0M172.4 433.9h0M174.7 445.6h0M177.8 430.5h0M183.1 441.4h0M169.5 422.9h0M169.5 445.5h0M179.6 433.1h0M169.1 437.3h0M178.3 443.4h0M171.9 419.5h0M174.9 446.8h0M171.9 442.0h0M174.6 417.1h0M176.6 414.9h0M173.8 433.1h0M175.1 442.7h0M180.5 436.1h0M172.3 430.3h0M175.9 435.9h0M173.5 433.5h0M167.7 441.7h0M166.4 433.5h0M173.1 439.1h0M173.3 445.3h0M176.7 445.8h0M172.3 443.4h0M171.7 447.3h0M171.6 445.3h0M170.8 445.7h0M175.8 446.2h0M166.6 446.0h0M171.6 442.2h0M171.7 419.7h0M174.1 430.6h0M170.6 447.3h0M171.0 432.9h0M166.2 426.1h0M173.2 446.0h0M171.8 446.0h0M165.4 425.2h0M169.6 425.9h0M167.5 415.4h0M180.2 414.6h0M173.6 434.6h0M171.0 414.9h0M173.1 416.7h0M174.8 445.9h0M172.9 446.8h0M172.6 433.3h0M178.5 447.3h0M180.1 447.1h0M166.8 446.8h0M172.5 425.1h0M177.0 439.5h0M170.1 415.1h0M176.1 439.7h0M173.3 418.3h0M168.6 443.6h0M176.9 430.7h0M171.2 436.2h0M174.4 425.8h0M179.6 428.8h0M175.5 445.0h0M177.0 441.9h0M178.8 419.3h0M170.4 435.8h0M172.9 441.2h0M170.6 423.3h0M173.2 422.2h0M170.4 443.4h0M179.0 443.0h0M167.4 440.3h0M176.5 441.9h0M181.7 446.3h0M179.2 435.9h0M181.0 442.3h0M178.2 447.2h0M163.5 434.4h0M181.1 433.1h0M170.4 433.7h0M170.3 435.8h0M176.2 444.8h0M172.5 429.1h0M176.6 433.3h0M172.8 412.4h0M167.1 387.5h0M177.3 398.1h0M188.0 415.4h0M171.3 380.4h0M179.7 410.3h0M175.3 394.4h0M181.6 381.5h0M176.8 403.3h0M180.6 409.4h0M172.5 400.3h0M172.3 409.2h0M176.7 391.0h0M176.2 400.3h0M172.7 401.8h0M186.4 414.5h0M186.0 401.0h0M173.8 386.2h0M176.6 380.4h0M180.2 389.0h0M179.8 393.6h0M173.7 408.6h0M170.8 409.5h0M176.3 403.7h0M174.9 387.1h0M183.8 405.5h0M178.8 388.5h0M174.4 377.2h0M178.5 389.1h0M166.1 377.6h0M179.3 375.6h0M175.9 397.3h0M166.4 394.5h0M177.0 383.5h0M176.3 400.2h0M173.0 396.4h0M177.3 392.3h0M167.4 392.7h0M172.4 400.6h0M173.2 415.7h0M172.0 392.2h0M183.4 386.0h0M169.6 387.6h0M179.4 408.5h0M176.1 388.3h0M195.0 458.1h0M189.8 451.5h0M192.3 453.3h0M185.7 457.1h0M200.1 455.8h0M201.0 452.8h0M185.6 452.6h0M190.6 435.5h0M206.1 446.8h0M190.4 446.7h0M190.2 452.8h0M214.0 436.1h0M213.9 444.4h0M197.5 444.6h0M185.9 457.4h0M192.1 449.3h0M205.5 457.9h0M187.3 459.4h0M187.9 455.7h0M192.4 456.2h0M194.4 458.9h0M192.2 451.1h0M191.9 428.7h0M201.5 459.0h0M195.4 446.7h0M185.2 458.5h0M208.7 452.0h0M185.4 456.3h0M186.9 453.2h0M185.9 455.1h0M196.6 438.1h0M201.3 448.4h0M187.7 458.7h0M222.2 423.9h0M185.2 452.0h0M186.3 457.4h0M197.3 458.9h0M202.2 459.6h0M189.8 459.6h0M203.6 455.4h0M205.8 445.1h0M209.6 435.6h0M190.9 457.6h0M186.2 450.4h0M224.2 436.4h0M204.0 451.9h0M213.3 458.5h0M203.0 456.9h0M187.6 446.6h0M184.9 448.8h0M202.2 449.0h0M197.2 456.9h0M187.4 455.2h0M184.4 453.9h0M186.1 457.1h0M198.1 437.5h0M185.7 453.1h0M196.7 458.9h0M212.8 436.9h0M194.2 453.6h0M201.5 435.7h0M187.3 456.0h0M212.8 458.0h0M198.1 459.3h0M196.8 454.2h0M211.7 457.7h0M215.7 448.2h0M185.1 458.5h0M186.1 457.4h0M204.7 450.0h0M190.4 451.6h0M184.4 459.1h0M190.7 452.7h0M195.5 458.3h0M188.3 458.9h0M196.7 456.2h0M189.2 445.3h0M193.4 458.2h0M192.1 458.0h0M203.2 456.4h0M224.2 456.4h0M200.2 459.0h0M192.2 459.4h0M193.9 451.6h0M187.6 442.2h0M185.7 454.2h0M194.9 447.5h0M188.9 459.6h0M195.7 450.2h0M192.0 457.1h0M188.4 457.7h0M208.8 452.7h0M185.2 453.1h0M192.7 455.6h0M187.7 444.8h0M186.4 458.1h0M189.2 457.1h0M187.4 452.1h0M185.5 452.2h0M187.1 452.8h0M186.1 454.3h0M197.6 457.7h0M202.1 422.4h0M187.1 458.3h0M184.4 453.4h0M217.8 456.6h0M188.2 449.0h0M185.3 459.6h0M195.2 453.0h0M194.1 451.0h0M187.6 443.5h0M198.0 438.4h0M190.1 457.6h0M185.0 452.2h0M192.4 457.6h0M194.5 451.1h0M201.2 449.6h0M189.7 458.7h0M201.9 458.4h0M221.6 451.5h0M190.8 459.6h0M186.3 456.5h0M191.8 448.0h0M185.2 459.4h0M185.4 453.0h0M186.4 455.4h0M185.3 454.1h0M188.6 456.3h0M187.3 459.3h0M192.8 455.3h0" stroke="#ee4a3c" stroke-width="1.6" stroke-linecap="round"/>
<path d="M175.5 389.5L178.0 395.0M171.5 399.3L178.0 404.0M196.8 399.7L186.0 410.0M145.9 409.2L170.0 448.0M199.9 409.9L186.0 416.0M164.8 414.7L174.0 440.0M183.8 411.8L180.0 416.0M157.7 419.9L172.0 450.0M128.1 422.2L170.0 453.0M221.3 421.8L190.0 450.0M200.4 421.8L186.0 436.0M199.2 428.9L185.0 445.0M138.8 433.6L168.0 455.0M221.7 433.6L205.0 455.0M151.8 445.5L170.0 457.0M199.2 444.1L186.0 452.0M221.7 444.3L210.0 455.0M148.2 455.4L166.0 458.0M214.6 456.6L205.0 458.0M124.5 467.3L135.0 464.0M145.9 467.8L150.0 463.0M161.3 468.0L163.0 463.0M172.0 468.0L170.0 462.0M186.2 468.0L178.0 462.0M201.6 468.0L190.0 462.0M224.1 467.3L200.0 461.0" stroke="#d08484" stroke-width="0.45" fill="none"/>
<text x="175.50" y="391.10" font-size="4.6" text-anchor="middle" fill="#b5474a" stroke="#b5474a" stroke-width="0.1">Ccl4</text>
<text x="171.50" y="400.90" font-size="4.6" text-anchor="middle" fill="#b5474a" stroke="#b5474a" stroke-width="0.1">Cd200</text>
<text x="196.80" y="401.30" font-size="4.6" text-anchor="middle" fill="#b5474a" stroke="#b5474a" stroke-width="0.1">Cxcl2</text>
<text x="145.90" y="410.80" font-size="4.6" text-anchor="middle" fill="#b5474a" stroke="#b5474a" stroke-width="0.1">Ptpn1</text>
<text x="199.90" y="411.50" font-size="4.6" text-anchor="middle" fill="#b5474a" stroke="#b5474a" stroke-width="0.1">Ccl3</text>
<text x="164.80" y="416.30" font-size="4.6" text-anchor="middle" fill="#b5474a" stroke="#b5474a" stroke-width="0.1">Runx3</text>
<text x="183.80" y="413.40" font-size="4.6" text-anchor="middle" fill="#b5474a" stroke="#b5474a" stroke-width="0.1">Cxcl3</text>
<text x="157.70" y="421.50" font-size="4.6" text-anchor="middle" fill="#b5474a" stroke="#b5474a" stroke-width="0.1">Cdc42ep4</text>
<text x="128.10" y="423.80" font-size="4.6" text-anchor="middle" fill="#b5474a" stroke="#b5474a" stroke-width="0.1">Ptpn23</text>
<text x="221.30" y="423.40" font-size="4.6" text-anchor="middle" fill="#b5474a" stroke="#b5474a" stroke-width="0.1">Ccl20</text>
<text x="200.40" y="423.40" font-size="4.6" text-anchor="middle" fill="#b5474a" stroke="#b5474a" stroke-width="0.1">Cxcl6</text>
<text x="199.20" y="430.50" font-size="4.6" text-anchor="middle" fill="#b5474a" stroke="#b5474a" stroke-width="0.1">Mcam</text>
<text x="138.80" y="435.20" font-size="4.6" text-anchor="middle" fill="#b5474a" stroke="#b5474a" stroke-width="0.1">Cxcl16</text>
<text x="221.70" y="435.20" font-size="4.6" text-anchor="middle" fill="#b5474a" stroke="#b5474a" stroke-width="0.1">Cxcl12</text>
<text x="151.80" y="447.10" font-size="4.6" text-anchor="middle" fill="#b5474a" stroke="#b5474a" stroke-width="0.1">Piezo1</text>
<text x="199.20" y="445.70" font-size="4.6" text-anchor="middle" fill="#b5474a" stroke="#b5474a" stroke-width="0.1">Ndufa4</text>
<text x="221.70" y="445.90" font-size="4.6" text-anchor="middle" fill="#b5474a" stroke="#b5474a" stroke-width="0.1">Ptpn6</text>
<text x="148.20" y="457.00" font-size="4.6" text-anchor="middle" fill="#b5474a" stroke="#b5474a" stroke-width="0.1">Cd44</text>
<text x="214.60" y="458.20" font-size="4.6" text-anchor="middle" fill="#b5474a" stroke="#b5474a" stroke-width="0.1">Cxcl6</text>
<text x="124.50" y="468.90" font-size="4.6" text-anchor="middle" fill="#666" stroke="#666" stroke-width="0.1">Ctsh</text>
<text x="145.90" y="469.40" font-size="4.6" text-anchor="middle" fill="#666" stroke="#666" stroke-width="0.1">Pdgfra</text>
<text x="161.30" y="469.60" font-size="4.6" text-anchor="middle" fill="#b5474a" stroke="#b5474a" stroke-width="0.1">Mmp2</text>
<text x="172.00" y="469.60" font-size="4.6" text-anchor="middle" fill="#b5474a" stroke="#b5474a" stroke-width="0.1">Ptpn2</text>
<text x="186.20" y="469.60" font-size="4.6" text-anchor="middle" fill="#b5474a" stroke="#b5474a" stroke-width="0.1">Cxcl1</text>
<text x="201.60" y="469.60" font-size="4.6" text-anchor="middle" fill="#b5474a" stroke="#b5474a" stroke-width="0.1">Cxcl2</text>
<text x="224.10" y="468.90" font-size="4.6" text-anchor="middle" fill="#b5474a" stroke="#b5474a" stroke-width="0.1">Tnfrsf11a</text>
<path d="M187.7 293.7h0M208.3 293.7h0M183.7 302.0h0M189.7 312.0h0M183.1 313.7h0M205.0 308.0h0M185.7 320.4h0M188.4 327.1h0M186.4 333.7h0M203.0 332.1h0M183.1 340.4h0M187.0 345.4h0M185.0 353.8h0M186.4 357.1h0M181.7 360.5h0M180.4 367.1h0M193.7 359.8h0M181.7 371.8h0M182.4 373.8h0M194.3 372.1h0" stroke="#ee4a3c" stroke-width="1.5" stroke-linecap="round"/>
<path d="M98.1 397.2h0M128.6 372.1h0M84.8 438.9h0M86.1 444.6h0M120.0 408.9h0M129.3 407.2h0M106.7 427.3h0M111.3 427.9h0M102.0 431.3h0" stroke="#3f7ab8" stroke-width="1.5" stroke-linecap="round"/>
<text x="107.00" y="364.60" font-size="4.3" text-anchor="middle" fill="#4f86c0" stroke="#4f86c0" stroke-width="0.1">615</text>
<text x="204.00" y="365.10" font-size="4.3" text-anchor="middle" fill="#e06055" stroke="#e06055" stroke-width="0.1">1273</text>
<circle cx="76.50" cy="298.10" r="2.50" fill="#f2675a"/>
<text x="83.20" y="300.80" font-size="7.6" fill="#222" stroke="#222" stroke-width="0.14">Significant up</text>
<circle cx="76.50" cy="306.98" r="2.50" fill="#5a8dc4"/>
<text x="83.20" y="309.68" font-size="7.6" fill="#222" stroke="#222" stroke-width="0.14">Significant down</text>
<circle cx="76.50" cy="315.86" r="2.50" fill="#f9c6cf"/>
<text x="83.20" y="318.56" font-size="7.6" fill="#222" stroke="#222" stroke-width="0.14">Up</text>
<circle cx="76.50" cy="324.74" r="2.50" fill="#9fd2f2"/>
<text x="83.20" y="327.44" font-size="7.6" fill="#222" stroke="#222" stroke-width="0.14">Down</text>
<circle cx="76.50" cy="333.62" r="2.50" fill="#d5dde6"/>
<text x="83.20" y="336.32" font-size="7.6" fill="#222" stroke="#222" stroke-width="0.14">Non-significant</text>
<line x1="301.40" y1="285.60" x2="301.40" y2="471.80" stroke="#8c8c8c" stroke-width="0.9"/>
<line x1="301.40" y1="471.80" x2="474.50" y2="471.80" stroke="#8c8c8c" stroke-width="0.9"/>
<line x1="299.40" y1="463.50" x2="301.40" y2="463.50" stroke="#8c8c8c" stroke-width="0.7"/>
<text x="295.60" y="466.10" font-size="7.4" text-anchor="end" fill="#222" stroke="#222" stroke-width="0.14">0</text>
<line x1="299.40" y1="408.30" x2="301.40" y2="408.30" stroke="#8c8c8c" stroke-width="0.7"/>
<text x="295.60" y="410.90" font-size="7.4" text-anchor="end" fill="#222" stroke="#222" stroke-width="0.14">50</text>
<line x1="299.40" y1="353.10" x2="301.40" y2="353.10" stroke="#8c8c8c" stroke-width="0.7"/>
<text x="295.60" y="355.70" font-size="7.4" text-anchor="end" fill="#222" stroke="#222" stroke-width="0.14">100</text>
<line x1="299.40" y1="297.90" x2="301.40" y2="297.90" stroke="#8c8c8c" stroke-width="0.7"/>
<text x="295.60" y="300.50" font-size="7.4" text-anchor="end" fill="#222" stroke="#222" stroke-width="0.14">150</text>
<line x1="329.00" y1="471.80" x2="329.00" y2="473.80" stroke="#8c8c8c" stroke-width="0.7"/>
<text x="329.00" y="483.40" font-size="7.4" text-anchor="middle" fill="#222" stroke="#222" stroke-width="0.14">-10</text>
<line x1="358.90" y1="471.80" x2="358.90" y2="473.80" stroke="#8c8c8c" stroke-width="0.7"/>
<text x="358.90" y="483.40" font-size="7.4" text-anchor="middle" fill="#222" stroke="#222" stroke-width="0.14">-5</text>
<line x1="388.80" y1="471.80" x2="388.80" y2="473.80" stroke="#8c8c8c" stroke-width="0.7"/>
<text x="388.80" y="483.40" font-size="7.4" text-anchor="middle" fill="#222" stroke="#222" stroke-width="0.14">0</text>
<line x1="418.70" y1="471.80" x2="418.70" y2="473.80" stroke="#8c8c8c" stroke-width="0.7"/>
<text x="418.70" y="483.40" font-size="7.4" text-anchor="middle" fill="#222" stroke="#222" stroke-width="0.14">5</text>
<line x1="448.60" y1="471.80" x2="448.60" y2="473.80" stroke="#8c8c8c" stroke-width="0.7"/>
<text x="448.60" y="483.40" font-size="7.4" text-anchor="middle" fill="#222" stroke="#222" stroke-width="0.14">10</text>
<line x1="382.80" y1="285.60" x2="382.80" y2="471.80" stroke="#cfcfcf" stroke-width="0.5" stroke-dasharray="1 1"/>
<line x1="394.80" y1="285.60" x2="394.80" y2="471.80" stroke="#cfcfcf" stroke-width="0.5" stroke-dasharray="1 1"/>
<line x1="301.40" y1="459.40" x2="474.50" y2="459.40" stroke="#cfcfcf" stroke-width="0.5" stroke-dasharray="1 1"/>
<text x="388.8" y="494.2" font-size="7.6" text-anchor="middle" fill="#222" stroke="#222" stroke-width="0.12">log<tspan font-size="5" dy="1.8">2</tspan><tspan dy="-1.8">FoldChange</tspan></text>
<text x="388.80" y="507.40" font-size="7.6" text-anchor="middle" fill="#222" stroke="#222" stroke-width="0.14">PLA-vs-GelMA</text>
<text x="272.0" y="379.0" font-size="7.6" text-anchor="middle" fill="#222" stroke="#222" stroke-width="0.12" transform="rotate(-90 272.0 379.0)">-log<tspan font-size="5" dy="1.8">10</tspan><tspan dy="-1.8">q-value</tspan></text>
<path d="M393.1 463.4h0M383.8 459.9h0M388.6 461.1h0M392.2 462.3h0M393.5 460.4h0M379.4 462.5h0M360.1 462.6h0M366.9 461.6h0M384.7 460.3h0M381.6 461.5h0M382.5 460.6h0M394.1 461.6h0M407.8 461.6h0M376.8 461.8h0M379.8 462.7h0M367.9 461.5h0M376.6 460.7h0M408.0 462.2h0M401.9 461.8h0M405.8 463.1h0M402.0 463.4h0M391.0 460.3h0M369.2 462.6h0M385.2 461.1h0M396.0 462.4h0M379.9 461.6h0M380.4 461.7h0M403.5 462.5h0M378.0 463.2h0M370.9 461.1h0M376.8 462.3h0M397.3 460.8h0M401.5 462.5h0M380.9 463.2h0M392.5 461.7h0M380.7 462.4h0M379.7 462.9h0M397.2 463.4h0M361.9 462.5h0M380.4 462.8h0M384.3 462.0h0M381.6 460.7h0M399.2 461.2h0M378.5 462.0h0M367.8 461.4h0M383.1 460.9h0M364.0 462.4h0M389.5 462.2h0M391.2 461.4h0M360.9 462.1h0M401.9 461.9h0M387.7 462.2h0M395.8 462.2h0M404.4 462.9h0M420.5 463.2h0M395.2 463.1h0M388.0 460.2h0M396.1 463.0h0M384.8 461.8h0M391.9 462.8h0M373.3 461.1h0M404.4 461.6h0M398.8 461.1h0M389.0 463.4h0M390.4 462.1h0M401.1 461.6h0M382.8 462.6h0M370.7 463.0h0M385.3 461.0h0M390.8 462.9h0M401.0 463.4h0M373.1 462.2h0M382.6 461.8h0M383.4 463.4h0M385.9 461.1h0M384.6 459.9h0M391.5 461.7h0M377.6 463.1h0M370.8 461.6h0M408.8 463.5h0M371.5 463.1h0M399.3 461.3h0M399.4 462.5h0M375.0 461.2h0M377.0 462.7h0M385.1 462.9h0M394.5 461.3h0M371.9 461.5h0M394.6 462.2h0M384.3 460.3h0M386.8 461.0h0M372.2 463.0h0M388.1 462.1h0M389.6 462.6h0M349.7 463.4h0M381.8 461.6h0M398.1 462.0h0M371.8 461.6h0M419.0 462.9h0M390.4 460.6h0M388.7 463.3h0M380.2 462.9h0M353.4 462.8h0M384.8 462.0h0M369.6 462.7h0M370.1 461.3h0M406.5 461.6h0M377.9 461.1h0M378.8 462.6h0M375.9 462.8h0M415.2 463.1h0M396.9 463.4h0M383.2 461.9h0M391.7 462.4h0M392.9 462.1h0M399.8 462.5h0M390.4 461.6h0M375.0 461.1h0M398.7 463.4h0M382.4 460.2h0M376.2 463.1h0M385.0 462.6h0M383.0 463.3h0M392.8 460.2h0M388.7 461.7h0M379.7 460.9h0M380.6 462.4h0M385.7 462.1h0M401.4 462.3h0M376.5 461.7h0M405.8 461.8h0M392.1 461.2h0M378.6 463.5h0M394.5 463.2h0M394.3 461.0h0M398.3 462.9h0M366.6 462.3h0M389.2 463.4h0M401.8 462.7h0M377.1 462.8h0M373.9 462.6h0M356.2 463.1h0M377.8 462.3h0M382.8 460.3h0M361.8 463.1h0M376.9 461.0h0M387.8 461.5h0M376.2 461.5h0M369.1 463.0h0M377.6 461.8h0M370.8 462.6h0M405.3 461.4h0M377.2 462.3h0M381.0 463.1h0M385.4 461.2h0M381.6 462.5h0M387.0 460.9h0M378.8 461.3h0M386.6 462.1h0M393.0 461.4h0M385.7 461.8h0M387.6 460.4h0M403.7 462.3h0M413.2 463.3h0M396.5 462.1h0M393.6 462.9h0M399.8 462.8h0M394.0 462.1h0M365.6 462.4h0M392.3 462.7h0M397.4 463.4h0M410.4 463.3h0M409.1 462.5h0M396.8 460.8h0M377.1 462.2h0M376.9 461.4h0M388.7 462.0h0M410.4 463.4h0M376.0 463.1h0M400.5 461.1h0M400.5 461.1h0M378.4 461.4h0M378.0 460.6h0M383.9 460.2h0M372.9 463.3h0M389.8 461.3h0M394.2 462.6h0M375.0 461.8h0M388.1 462.4h0M377.7 461.6h0M410.3 463.0h0M392.3 460.7h0M377.9 463.4h0M388.1 463.1h0M384.3 460.6h0M408.9 462.3h0M378.7 461.2h0M404.8 462.7h0M399.3 462.9h0M393.4 462.9h0M381.6 460.5h0M389.2 462.5h0M403.9 463.5h0M372.4 461.2h0M391.9 460.5h0M370.2 462.4h0M393.6 462.5h0M387.0 460.2h0M389.1 462.2h0M379.8 463.1h0M387.5 461.9h0M398.5 463.1h0M380.2 460.6h0M377.2 462.1h0M364.6 462.9h0M395.8 462.7h0M394.1 462.7h0M393.8 461.1h0M372.6 462.8h0M402.8 463.3h0M381.2 460.5h0M398.7 462.9h0M387.7 462.5h0M393.6 460.4h0M394.8 463.3h0M381.7 461.9h0M380.0 462.2h0M382.4 460.9h0M407.7 462.2h0M386.0 460.5h0M370.5 462.3h0M387.1 463.0h0M375.7 462.6h0M384.9 463.3h0M388.3 461.5h0M389.7 462.6h0M370.5 463.0h0M380.2 463.1h0M368.8 462.0h0M374.1 462.1h0M383.1 462.4h0M384.3 460.6h0M381.2 462.1h0M390.3 460.5h0M391.3 461.8h0M389.7 460.3h0M377.8 461.2h0M392.4 463.2h0M380.6 460.7h0M403.6 461.5h0M380.9 462.3h0M395.4 463.1h0M382.5 460.1h0M409.0 463.0h0M406.1 461.5h0M395.7 461.1h0M366.4 462.0h0M397.7 461.4h0M334.9 463.2h0M388.1 462.6h0M380.4 462.3h0M388.3 460.4h0M369.1 461.8h0M387.3 463.2h0M376.2 462.1h0M398.4 461.6h0M408.6 462.5h0M376.3 461.5h0M346.7 463.3h0M376.2 461.8h0M374.4 461.4h0M394.5 462.3h0M404.1 461.3h0M373.2 461.7h0M373.9 463.5h0M380.2 461.4h0M386.0 460.6h0M363.8 463.4h0M381.3 462.2h0M375.6 461.1h0M373.1 463.4h0M394.5 462.9h0M388.2 461.5h0M395.1 463.4h0M390.8 460.9h0M388.9 459.9h0M385.8 463.0h0M369.3 461.8h0M389.6 461.6h0M389.8 460.4h0M375.6 462.6h0M411.3 461.9h0M383.9 460.0h0M358.4 462.5h0M391.3 461.6h0M401.4 461.7h0M388.1 462.4h0M403.7 463.1h0M362.2 462.6h0M393.5 462.3h0M387.8 462.0h0M398.6 462.7h0M382.1 462.5h0M395.0 461.4h0M372.2 461.2h0M372.1 461.8h0M395.4 461.9h0M396.0 461.2h0M379.8 462.0h0M384.7 461.1h0M389.1 462.7h0M371.2 463.4h0M362.9 463.3h0M385.4 461.6h0M371.4 462.9h0M375.7 463.2h0M397.4 460.9h0M387.4 461.9h0M411.4 462.6h0M383.7 461.9h0M361.5 463.0h0M375.8 463.1h0M401.4 462.5h0M374.3 462.4h0M400.1 461.4h0M396.4 462.0h0M378.5 462.5h0M364.5 462.4h0M407.3 463.1h0M382.0 461.2h0M371.2 461.8h0M367.1 461.7h0M395.1 462.0h0M384.4 463.3h0M392.3 462.1h0M385.2 461.2h0M378.2 462.0h0M389.4 462.7h0M364.1 463.0h0M387.2 461.8h0M374.4 461.3h0M373.3 461.2h0M393.9 461.9h0M384.1 463.1h0M381.4 460.7h0M372.7 462.3h0M386.8 461.1h0M382.5 462.1h0M389.0 463.2h0M380.2 461.3h0M379.0 462.2h0M398.8 460.8h0M367.3 461.8h0M367.6 461.7h0M375.0 462.1h0M389.5 460.3h0M397.5 460.9h0M375.3 461.4h0M404.7 461.7h0M390.7 463.3h0M371.6 462.3h0M399.6 462.1h0M394.9 460.8h0M391.6 462.3h0M367.6 462.9h0M388.2 461.9h0M358.1 462.5h0M384.8 462.9h0M362.8 462.0h0M385.3 461.5h0M372.4 461.8h0M371.2 461.3h0M428.0 463.5h0M382.0 461.1h0M377.3 463.2h0M393.0 460.5h0M399.1 462.1h0M375.4 462.9h0M406.6 463.2h0M375.6 461.9h0M396.6 462.4h0M385.5 462.1h0M381.0 461.4h0M390.8 462.6h0M379.3 460.8h0M371.8 461.7h0M390.8 460.7h0M379.6 461.0h0M385.7 463.1h0M386.4 460.6h0M390.8 462.6h0M384.8 462.0h0M403.7 461.5h0M394.0 460.8h0M398.9 461.3h0M413.0 463.3h0M405.0 461.6h0M360.5 462.4h0M392.7 463.5h0M370.3 461.9h0M378.0 463.1h0M385.8 460.2h0M389.5 463.4h0M383.3 461.0h0M378.6 462.1h0M412.6 462.4h0M408.6 463.1h0M392.7 462.1h0M373.7 462.9h0M386.9 461.8h0M393.4 463.1h0M388.4 460.3h0M370.8 461.4h0M422.4 463.4h0M410.8 462.8h0M354.0 463.1h0M378.5 462.7h0M371.6 461.7h0M388.4 463.4h0M399.1 462.6h0M388.4 462.8h0M378.8 462.3h0M385.3 463.3h0M387.3 462.7h0M392.1 460.8h0M362.9 462.4h0M396.4 461.4h0M385.7 461.8h0M400.2 461.6h0M382.2 460.8h0M408.6 462.9h0M380.5 461.4h0M395.2 462.7h0M354.6 462.9h0M384.4 463.1h0M377.9 461.8h0M375.8 461.7h0M378.7 463.0h0M370.5 461.6h0M378.3 461.3h0M401.2 463.2h0M394.2 461.8h0M376.5 463.5h0M366.5 462.5h0M393.3 461.9h0M400.4 462.2h0M386.8 461.7h0M374.3 462.8h0M392.1 463.0h0M404.2 461.7h0M381.1 460.9h0M390.6 463.4h0M380.2 463.4h0M405.1 462.0h0M351.1 463.3h0M371.5 461.5h0M401.9 463.3h0M383.8 462.3h0M385.9 461.1h0M385.6 461.6h0M385.0 460.1h0M372.6 463.2h0M375.6 461.9h0M391.7 462.8h0M374.4 461.0h0M395.6 463.4h0M384.2 460.9h0M393.4 461.0h0M409.7 461.9h0M388.3 461.8h0M365.7 461.7h0M372.0 462.9h0M384.4 462.2h0M380.4 460.5h0M374.0 462.3h0M373.6 462.3h0M403.1 461.3h0M389.2 463.1h0M404.6 461.7h0M390.0 462.0h0M402.9 461.9h0M395.8 462.8h0M392.5 460.9h0M370.0 463.0h0M372.7 461.8h0M401.3 461.3h0M406.4 463.5h0M378.1 462.1h0M373.8 462.7h0M365.1 463.4h0M377.9 461.9h0M381.4 462.7h0M388.3 461.4h0M383.5 460.4h0M381.0 461.7h0M379.8 460.9h0M365.5 462.0h0M363.8 462.8h0M400.8 462.3h0M400.6 461.4h0M365.2 463.2h0M393.3 461.0h0M402.4 461.6h0M367.0 462.1h0M391.7 462.5h0M396.6 462.6h0M374.6 461.7h0M379.2 460.7h0M387.0 461.1h0M385.8 461.3h0M365.4 461.9h0M395.1 462.7h0M380.5 462.1h0M379.7 462.4h0M398.7 461.1h0M358.5 462.9h0M380.9 461.7h0M366.5 463.2h0M381.7 461.5h0M420.0 463.4h0M381.3 463.1h0M391.6 462.2h0M385.1 461.7h0M388.4 460.0h0M372.3 462.5h0M389.0 462.5h0M381.6 462.1h0M393.8 460.5h0M367.0 462.5h0M407.0 462.2h0M372.2 461.3h0M387.4 461.2h0M390.1 462.1h0M396.8 461.8h0M378.1 462.6h0M393.3 460.2h0M384.0 460.3h0M358.4 463.3h0M364.3 462.6h0M380.8 461.8h0M372.7 463.1h0M371.4 463.4h0M385.3 462.4h0M389.5 463.4h0M401.7 463.0h0M398.1 461.5h0M363.0 462.6h0M398.5 461.1h0M373.0 461.1h0M392.3 461.2h0M360.7 462.5h0M397.9 461.7h0M414.2 463.4h0M390.8 463.4h0M381.0 462.7h0M393.5 461.9h0M365.0 461.9h0M385.4 460.9h0M395.5 463.0h0M374.9 461.5h0M394.2 461.5h0M385.6 462.1h0M389.3 461.8h0M385.4 462.2h0M370.4 463.5h0M402.4 462.8h0M400.7 463.5h0M382.7 461.4h0M368.4 461.6h0M359.5 462.2h0M384.7 461.0h0M397.8 462.5h0M383.0 462.8h0M388.6 463.0h0M370.9 463.0h0M401.1 462.8h0M398.0 461.8h0M392.8 461.5h0M375.5 461.6h0M372.2 461.5h0M386.1 460.0h0M385.4 461.7h0M409.1 462.7h0M384.8 463.3h0M405.3 463.5h0M399.4 463.4h0M379.8 461.3h0M368.0 463.4h0M407.9 463.5h0M379.9 461.7h0M381.2 461.5h0M394.7 460.4h0M410.2 461.9h0M390.7 463.2h0M387.7 462.3h0M384.4 463.4h0M389.5 461.5h0M393.4 462.1h0M408.4 463.4h0M381.1 463.3h0M381.2 460.8h0M410.7 462.1h0M400.7 462.0h0M369.2 461.6h0M397.1 460.9h0M363.1 462.6h0M402.3 461.8h0M395.8 460.6h0M385.3 460.1h0M356.6 463.2h0M401.8 462.4h0M377.8 462.2h0M371.6 461.7h0M386.1 462.5h0M367.5 461.5h0M393.6 461.1h0M373.3 461.8h0M381.3 460.4h0M399.3 462.7h0M387.3 460.5h0M385.3 460.2h0M384.9 462.0h0M389.8 463.2h0M390.6 462.6h0M404.5 463.2h0M396.4 462.2h0M377.7 462.6h0M373.4 462.3h0M368.3 462.2h0M390.3 462.4h0M374.4 460.9h0M361.3 462.6h0M385.7 461.9h0M386.3 459.7h0M407.4 463.1h0M384.4 462.8h0M394.1 460.4h0M397.9 462.9h0M392.8 462.6h0M369.9 462.5h0M404.2 461.4h0M392.3 462.4h0M397.0 462.5h0M383.7 461.0h0M386.7 461.6h0M389.5 461.7h0M390.3 463.1h0M393.1 462.9h0M397.5 460.9h0M402.0 462.0h0M388.2 459.9h0M403.1 462.6h0M385.6 460.6h0M384.4 460.4h0M357.6 462.8h0M378.0 461.1h0M372.3 462.8h0M386.7 461.4h0M386.3 461.0h0M382.2 463.4h0M372.3 461.2h0M368.7 462.1h0M373.7 461.7h0M368.8 462.0h0M374.6 462.5h0M361.6 462.1h0M387.3 463.3h0M389.7 461.5h0M390.2 460.3h0M380.3 461.9h0M381.6 460.2h0M378.7 462.1h0M387.0 463.3h0M405.0 462.1h0M389.6 462.6h0M379.8 462.6h0M392.3 460.7h0M403.8 462.4h0M375.7 461.2h0M357.6 463.1h0M392.8 460.8h0M380.4 463.2h0M383.1 461.5h0M391.6 463.1h0M379.3 461.4h0M380.6 461.9h0M382.9 460.9h0M392.8 462.9h0M370.6 461.4h0M412.6 462.4h0M368.6 461.7h0M365.7 461.9h0M386.0 460.6h0M371.6 462.5h0M382.9 463.0h0M384.6 461.0h0M391.2 460.5h0M389.0 460.2h0M409.7 463.0h0M381.7 461.5h0" stroke="#cfd6de" stroke-width="2.3" stroke-linecap="round"/>
<path d="M384.8 461.1h0M380.1 457.9h0M383.6 450.0h0M390.2 462.8h0M380.1 454.6h0M379.6 460.8h0M385.3 455.4h0M383.1 460.0h0M388.7 460.0h0M387.5 454.2h0M384.7 461.2h0M389.7 463.3h0M389.4 463.3h0M383.1 454.1h0M386.1 456.4h0M391.2 461.4h0M380.9 454.5h0M386.7 448.9h0M390.6 456.3h0M382.1 448.5h0M389.8 462.9h0M384.8 438.5h0M383.3 456.0h0M384.4 440.5h0M378.2 461.6h0M387.3 443.3h0M386.5 456.9h0M386.6 445.6h0M379.7 457.4h0M385.9 447.3h0M386.6 448.3h0M380.0 462.2h0M378.1 462.7h0M380.9 456.3h0M379.3 462.7h0M384.9 440.5h0M384.4 462.0h0M390.2 458.3h0M390.1 456.0h0M389.9 454.9h0M387.9 447.2h0M386.9 441.0h0M390.1 461.9h0M384.3 438.2h0M386.9 449.3h0M383.5 461.6h0M383.6 463.3h0M380.2 459.1h0M383.9 447.9h0M385.8 442.1h0M385.5 440.1h0M378.5 461.7h0M390.4 457.0h0M389.0 449.8h0M380.1 459.0h0M389.7 459.8h0M384.8 458.0h0M379.0 458.7h0M387.7 448.4h0M389.8 457.4h0M389.1 452.8h0M384.0 451.6h0M380.7 458.5h0M389.1 463.0h0M390.5 461.8h0M384.7 455.1h0M378.5 461.2h0M380.4 459.4h0M389.0 457.1h0M382.6 460.9h0M378.3 461.0h0M384.4 455.2h0M388.0 453.9h0M381.0 451.3h0M383.4 456.0h0M390.9 460.6h0M384.2 441.8h0M386.6 457.3h0M378.7 463.2h0M379.9 457.2h0M383.0 452.6h0M381.8 462.9h0M391.0 459.0h0M387.1 449.5h0M378.7 459.9h0M389.5 460.7h0M389.3 451.1h0M380.3 454.6h0M378.6 460.4h0M390.9 462.5h0M383.9 463.0h0M385.1 461.9h0M384.5 458.3h0M380.5 456.4h0M381.2 461.5h0M381.8 457.6h0M386.9 450.1h0M385.7 443.5h0M381.6 453.4h0M378.9 463.0h0M385.5 444.3h0M381.7 448.6h0M379.5 457.7h0M385.2 445.2h0M383.6 462.0h0M383.8 446.9h0M387.8 447.9h0M382.0 455.0h0M379.6 460.3h0M383.6 445.1h0M379.3 463.2h0M386.2 442.9h0M379.0 459.9h0M380.0 456.0h0M386.4 458.4h0M383.0 446.1h0M390.5 463.2h0M383.7 460.7h0M390.7 456.2h0M383.6 443.8h0M381.4 451.8h0M380.4 460.3h0M385.0 441.3h0M384.3 460.7h0M378.5 462.9h0M381.8 453.4h0M380.5 453.9h0M386.6 455.9h0M385.6 438.8h0M381.4 454.1h0M386.5 442.8h0M386.7 462.0h0M389.4 460.8h0M386.1 460.3h0M388.4 449.8h0M388.6 452.6h0M390.0 458.1h0M389.3 459.8h0M379.8 461.6h0M383.3 446.3h0M388.2 458.2h0M388.2 447.9h0M383.2 448.6h0M381.9 457.2h0M380.8 459.8h0M379.1 461.3h0M388.5 460.5h0M380.8 452.8h0M382.6 458.8h0M380.2 463.2h0M389.6 454.9h0M390.7 456.8h0M386.3 438.8h0M381.3 453.5h0M388.7 461.2h0M390.2 454.1h0M380.9 461.5h0M379.4 462.2h0M382.5 448.5h0M380.9 460.7h0M387.0 445.2h0M378.1 461.4h0M387.0 456.4h0M384.2 462.0h0M383.8 463.4h0M387.9 453.8h0M380.3 461.4h0M385.7 455.3h0M388.1 452.9h0M388.2 461.4h0M380.7 452.8h0M387.5 454.9h0M391.2 463.1h0M386.0 460.0h0M382.1 460.0h0M383.2 462.4h0M380.4 456.6h0M380.3 458.8h0M390.9 457.9h0M379.3 458.8h0M385.7 448.0h0M388.5 448.2h0M382.8 447.2h0M380.7 457.2h0M389.7 454.5h0M382.6 446.6h0M385.7 438.0h0M388.6 456.4h0M382.7 460.9h0M389.7 462.1h0M379.1 461.8h0M379.8 461.6h0M387.2 456.5h0M389.3 458.5h0M389.4 453.3h0M381.5 455.4h0M386.9 459.6h0M378.5 460.2h0M378.2 462.9h0M379.8 456.9h0M386.6 451.1h0M384.6 436.5h0M380.8 453.9h0M381.9 459.3h0M387.1 454.4h0M385.7 443.5h0M378.7 461.7h0M383.3 445.2h0M388.3 456.1h0M383.2 446.5h0M387.7 462.6h0M388.7 450.3h0M381.8 453.1h0M384.3 456.5h0M378.9 460.8h0M387.6 455.4h0M386.5 459.0h0M389.0 453.0h0M384.6 460.5h0M378.1 462.5h0M381.3 463.0h0M382.2 447.4h0M384.9 443.6h0M383.7 456.3h0M380.2 458.2h0M387.1 452.0h0M384.1 448.2h0M380.7 452.9h0M389.4 461.5h0M389.3 454.5h0M378.5 460.6h0M388.7 459.0h0M380.6 458.1h0M378.5 462.9h0M387.3 455.4h0M383.3 443.5h0M388.5 458.8h0M378.7 463.3h0M386.8 450.4h0M391.0 460.0h0M386.1 442.2h0M384.8 449.2h0M382.8 453.8h0M387.3 453.1h0M387.9 456.4h0M386.2 452.6h0M385.4 440.5h0M379.5 463.3h0M380.9 460.7h0M379.9 458.7h0M384.0 452.1h0M388.2 461.4h0M390.2 456.0h0M381.4 452.9h0M389.3 463.5h0M382.6 450.0h0M382.4 460.4h0M381.8 459.0h0M387.5 453.3h0M382.6 444.8h0M382.5 453.2h0M389.9 453.1h0M383.6 454.5h0M386.1 449.4h0M385.2 446.5h0M380.6 461.7h0M385.4 456.5h0M384.1 462.5h0M382.7 460.3h0M384.5 438.8h0M380.3 461.5h0M382.4 458.2h0M379.2 463.0h0M387.0 444.0h0M378.2 461.4h0M388.5 451.5h0M388.0 461.7h0M381.9 449.7h0M384.8 440.8h0M381.4 451.6h0M389.8 461.7h0M387.7 443.9h0M378.7 462.5h0M390.0 456.2h0M382.7 460.2h0M389.9 463.0h0M391.1 463.3h0M382.4 454.5h0M385.8 440.3h0M383.5 442.1h0M382.3 457.2h0M391.1 461.4h0M384.5 461.6h0M388.6 455.2h0M389.4 454.9h0M383.5 462.4h0M382.6 454.2h0M383.1 454.0h0M381.2 460.6h0M390.1 455.8h0M382.9 446.7h0M379.1 459.9h0M381.7 459.1h0M384.6 447.3h0M381.9 459.5h0M383.2 445.7h0M390.1 454.9h0M387.6 444.4h0M378.6 460.0h0M382.8 462.8h0M380.8 453.5h0M386.8 461.5h0M382.2 447.5h0M391.1 457.5h0M389.8 453.2h0M389.6 458.1h0M381.4 455.8h0M378.6 461.3h0M381.7 460.3h0M383.7 447.6h0" stroke="#8cc6ee" stroke-width="1.6" stroke-linecap="round"/>
<path d="M392.6 462.0h0M395.3 460.6h0M393.1 452.4h0M393.7 457.7h0M394.8 462.2h0M392.9 461.8h0M392.7 459.6h0M394.5 457.5h0M391.0 461.2h0M390.7 456.9h0M394.6 451.4h0M394.0 462.4h0M393.4 460.2h0M390.7 462.1h0M394.2 462.6h0M394.7 459.2h0M392.0 451.5h0M391.0 457.9h0M394.6 455.1h0M391.3 462.2h0M394.4 455.3h0M395.1 461.1h0M391.5 454.2h0M391.7 450.5h0M391.6 461.9h0M392.6 462.3h0M392.1 451.1h0M393.5 457.8h0M393.6 452.6h0M390.3 450.8h0M394.8 458.0h0M391.1 454.1h0M393.0 462.0h0M393.2 456.8h0M393.2 463.2h0M392.9 457.6h0M394.6 454.0h0M393.9 455.9h0M391.2 452.5h0M391.4 450.8h0M392.8 458.1h0M392.1 457.3h0M392.7 461.4h0M392.2 462.9h0M393.0 462.0h0M391.2 463.2h0M392.7 463.1h0M392.6 454.7h0M390.7 459.0h0M391.6 457.6h0M391.7 458.6h0M394.6 463.2h0M395.0 451.5h0M393.4 453.4h0M393.9 457.9h0M390.9 462.0h0M393.2 454.5h0M393.8 450.5h0M391.6 455.5h0M391.5 452.0h0M390.3 455.5h0M394.7 460.4h0M395.2 458.0h0M395.4 459.5h0M394.9 458.7h0M394.4 451.4h0M393.1 453.6h0M394.0 451.5h0M394.4 455.1h0M393.9 455.7h0M391.4 463.2h0M395.0 461.9h0M392.3 461.0h0M391.2 461.2h0M392.9 461.9h0M394.6 455.5h0M390.7 460.8h0M394.0 450.7h0M392.2 463.2h0M391.4 456.0h0M392.0 453.8h0M390.3 450.5h0M390.4 454.9h0M392.7 452.0h0M392.3 458.7h0M391.9 451.3h0M393.7 458.8h0M392.2 458.6h0M390.5 450.8h0M394.6 450.8h0M392.8 462.8h0M390.5 460.6h0M392.6 459.4h0M395.2 451.7h0M392.4 459.3h0M392.0 457.7h0M392.3 462.2h0M394.5 454.0h0M395.4 459.6h0M392.3 453.1h0M392.2 451.7h0M394.0 459.7h0M393.9 457.6h0M395.0 460.6h0M391.3 459.3h0M390.4 461.9h0M394.6 456.3h0M394.3 453.4h0M393.4 458.3h0M394.7 459.3h0" stroke="#f6b9c2" stroke-width="1.6" stroke-linecap="round"/>
<path d="M380.7 454.8h0M381.1 435.6h0M377.0 457.1h0M381.5 457.7h0M379.3 460.3h0M377.1 456.9h0M375.0 452.7h0M380.5 461.9h0M377.5 461.4h0M379.8 451.0h0M381.6 456.0h0M378.5 459.5h0M377.7 456.9h0M375.4 461.4h0M375.1 447.5h0M379.8 454.6h0M375.3 456.6h0M381.0 451.2h0M376.6 459.7h0M380.7 458.3h0M375.2 461.6h0M381.4 458.2h0M376.8 450.9h0M379.9 454.2h0M375.0 461.3h0M381.0 455.6h0M367.3 453.9h0M378.1 458.5h0M381.0 449.9h0M380.5 450.1h0M378.3 443.7h0M373.0 445.5h0M377.4 456.7h0M374.9 456.1h0M377.6 457.1h0M381.1 461.4h0M373.7 459.4h0M380.1 445.8h0M371.5 455.4h0M373.8 446.5h0M379.7 461.2h0M380.3 458.5h0M377.0 445.2h0M382.0 456.5h0M376.4 454.8h0M378.2 453.1h0M379.9 458.3h0M378.7 456.3h0M379.4 453.2h0M376.4 456.1h0M380.5 440.7h0M380.7 445.4h0M381.1 449.2h0M374.7 460.2h0M375.8 458.8h0M380.1 460.8h0M378.7 451.1h0M367.0 461.6h0M381.5 453.5h0M372.2 459.8h0M370.9 462.0h0M377.4 440.4h0M381.3 457.1h0M378.6 457.1h0M379.5 452.6h0M379.2 459.5h0M376.7 456.4h0M379.6 447.2h0M377.7 445.4h0M375.3 454.7h0M375.2 457.8h0M378.8 450.9h0M368.6 455.1h0M378.2 442.8h0M376.5 460.2h0M375.0 456.4h0M381.5 449.4h0M381.5 455.2h0M379.5 446.2h0M375.1 461.2h0M379.7 420.9h0M371.5 446.6h0M380.6 460.7h0M378.2 461.2h0M379.5 453.2h0M376.3 462.0h0M380.3 450.5h0M372.0 459.6h0M378.5 460.4h0M381.8 458.3h0M367.1 460.0h0M381.1 446.6h0M372.2 447.3h0M374.6 441.5h0M376.7 457.0h0M376.2 458.6h0M380.9 460.2h0M379.7 434.9h0M376.7 454.6h0M379.5 459.0h0M381.7 458.3h0M373.0 445.2h0M377.1 458.4h0M381.6 454.0h0M371.6 460.7h0M375.3 453.1h0M374.6 460.5h0M381.7 452.4h0M368.4 460.1h0M376.8 439.6h0M382.0 449.9h0M376.2 457.6h0M375.8 449.1h0M375.3 457.9h0M381.6 447.0h0M379.3 439.7h0M376.6 452.1h0M381.3 453.0h0M381.2 453.8h0M380.2 432.3h0M379.9 439.0h0M375.0 460.4h0M379.8 448.9h0M381.9 459.9h0M382.4 440.2h0M376.5 456.1h0M382.2 446.1h0M379.2 459.5h0M382.1 461.5h0M378.1 460.9h0M381.9 459.9h0M382.4 461.7h0M381.1 460.6h0M375.7 453.5h0M381.7 457.0h0M376.7 454.9h0M380.4 453.6h0M382.0 456.6h0M378.7 462.0h0M375.6 454.8h0M379.9 461.3h0M374.1 454.6h0M382.3 456.4h0M382.4 461.2h0M379.4 460.4h0M378.6 458.0h0M377.9 452.5h0M376.8 454.0h0M374.2 458.9h0M382.1 440.7h0M377.8 462.0h0M381.3 452.5h0M379.9 439.2h0M380.6 460.8h0M375.9 457.7h0M378.2 458.4h0M377.7 458.8h0M377.0 458.8h0M376.2 459.0h0M382.5 445.6h0M372.1 460.4h0M366.2 450.3h0M378.5 456.5h0M379.1 449.8h0M378.3 459.5h0M381.4 449.6h0M380.0 453.2h0M380.7 454.4h0M378.5 459.0h0M377.5 434.3h0M379.7 461.3h0M373.6 457.9h0M375.4 461.8h0M381.3 447.8h0M373.0 449.1h0M380.3 442.9h0M371.1 457.8h0M380.5 461.3h0M381.1 456.6h0M381.1 442.6h0M379.3 453.9h0M379.7 459.6h0M381.4 461.2h0M378.8 455.7h0M376.2 456.7h0M381.1 447.4h0M374.4 455.8h0M377.3 458.5h0M375.6 460.9h0M380.5 459.8h0M377.4 457.4h0M375.4 455.1h0M375.0 450.3h0M376.3 461.4h0M371.7 460.1h0M379.1 426.7h0M380.1 461.7h0M378.3 455.4h0M380.9 451.9h0M381.5 461.7h0M369.5 461.8h0M380.5 446.1h0M382.1 454.6h0M377.4 460.7h0M376.4 458.9h0M367.2 461.9h0M376.9 453.8h0M381.8 418.9h0M373.3 454.6h0M376.3 451.8h0M380.4 449.5h0M380.2 458.3h0M373.8 449.2h0M369.4 461.2h0M381.0 449.0h0M382.3 458.9h0M373.9 452.0h0M379.5 461.7h0M377.9 459.1h0M379.1 446.6h0M378.8 459.7h0M373.5 458.3h0M375.4 457.0h0M381.8 447.2h0M381.5 456.5h0M379.6 455.4h0M379.8 425.1h0M378.4 460.5h0M377.6 460.6h0M380.7 459.9h0M379.4 460.3h0M379.7 451.7h0M378.4 458.8h0M370.0 461.8h0M377.1 455.6h0M372.0 441.9h0M377.6 458.0h0M380.2 457.4h0M382.2 452.5h0M367.4 449.5h0M379.4 462.0h0M376.6 444.8h0M374.6 458.9h0M377.3 458.8h0M377.8 457.1h0M379.8 460.4h0M377.3 452.7h0M370.1 444.5h0M376.2 461.8h0M379.6 453.0h0M377.3 459.7h0M380.4 455.5h0M379.1 455.4h0M378.5 457.5h0M379.0 436.6h0M376.3 461.5h0M377.4 450.4h0M381.1 457.7h0M379.9 454.8h0M370.4 460.7h0M377.1 432.1h0M377.7 456.5h0M375.4 462.0h0M377.1 457.4h0M375.6 459.8h0M380.1 459.9h0M379.4 459.5h0M376.6 456.4h0M381.2 461.5h0M380.3 458.0h0M380.4 460.3h0M378.2 458.3h0M382.1 459.3h0M381.5 447.2h0M368.4 461.2h0M378.5 459.0h0M373.1 459.8h0M378.3 457.5h0M378.3 461.8h0M375.9 451.1h0M371.6 461.1h0M378.1 460.6h0M378.4 458.3h0M374.6 453.7h0M378.2 460.7h0M381.1 435.5h0M371.7 454.4h0M375.0 413.6h0M381.1 445.5h0M377.6 448.6h0M380.3 453.5h0M373.5 461.9h0M380.6 447.4h0M377.3 459.4h0M376.1 457.6h0M376.3 458.3h0M380.0 456.6h0M376.7 460.5h0M380.5 458.1h0M378.4 461.8h0M379.7 455.0h0M374.1 448.5h0M379.5 432.4h0M378.1 449.5h0M381.2 450.0h0M369.6 457.4h0M375.9 458.0h0M381.8 460.4h0M380.0 451.5h0M376.1 458.2h0M382.4 462.0h0M378.3 417.3h0M379.3 458.4h0M375.5 459.7h0M375.4 456.5h0M377.8 459.0h0M374.2 459.0h0M372.4 453.8h0M382.4 451.9h0M379.6 451.9h0M382.0 439.6h0M381.1 455.8h0M375.4 448.3h0M381.2 460.1h0M381.3 458.7h0M381.2 462.0h0M379.7 454.0h0M379.2 459.5h0M381.9 461.4h0M377.0 457.0h0M379.3 460.8h0M376.2 460.5h0M373.4 455.0h0M377.2 461.1h0M372.9 453.4h0M381.0 447.3h0M381.3 460.3h0M368.7 457.4h0M381.4 461.7h0M382.3 460.4h0M378.8 460.1h0M372.5 454.9h0M371.1 461.1h0M381.1 460.8h0M379.3 459.1h0M378.9 459.3h0M380.3 461.7h0M380.5 460.6h0M380.0 453.9h0M374.7 448.6h0M380.9 456.4h0M379.8 457.4h0M380.0 451.7h0M371.7 456.4h0M377.4 457.3h0M382.1 461.7h0M377.4 443.7h0M381.1 439.8h0M376.0 459.1h0M377.7 452.4h0M369.9 459.6h0M376.2 459.1h0M373.1 461.5h0M380.0 457.5h0M372.4 447.6h0M379.3 454.1h0M378.2 451.6h0M377.8 457.5h0M375.5 449.0h0M376.6 441.3h0M376.5 461.4h0M376.9 440.4h0M372.4 461.8h0M379.1 455.6h0M374.4 461.7h0M375.6 456.1h0M378.2 458.8h0M379.1 446.4h0M375.1 453.4h0M376.4 456.7h0M377.2 461.5h0M372.9 461.9h0M376.2 459.5h0M379.9 460.3h0M380.1 461.8h0M376.1 460.3h0M370.6 444.3h0M379.7 459.7h0M378.6 449.7h0M371.1 459.4h0M381.0 423.4h0M379.3 453.3h0M375.1 453.6h0M373.6 450.6h0M381.9 446.8h0M380.8 429.0h0M371.7 438.5h0M373.5 442.0h0M378.2 460.9h0M373.7 441.3h0M372.0 459.4h0M380.3 446.1h0M375.5 446.3h0M382.2 454.2h0M371.5 449.9h0M378.9 458.7h0M375.3 449.9h0M376.3 461.1h0M369.1 461.8h0M376.3 455.5h0M377.2 460.3h0M378.4 458.7h0M365.0 452.3h0M381.0 461.6h0M375.7 438.9h0M379.7 438.1h0M375.2 452.1h0M372.8 447.5h0M373.3 459.6h0M376.4 455.1h0M376.3 460.4h0M369.9 458.0h0M372.0 461.6h0M373.8 455.7h0M362.3 459.7h0M375.6 459.2h0M372.7 458.8h0M357.9 457.8h0M369.7 462.0h0M352.6 461.5h0M366.5 461.8h0M364.8 461.3h0M374.1 460.4h0M370.2 458.3h0M344.1 460.8h0M373.9 456.7h0M343.9 461.4h0M373.2 460.7h0M368.4 458.4h0M370.1 459.0h0M368.2 460.5h0M368.5 455.8h0M375.1 462.1h0M372.7 458.4h0M366.6 461.5h0M365.4 456.3h0M351.4 461.1h0M348.9 461.6h0M376.6 453.4h0M367.5 458.3h0M372.4 461.9h0M375.6 461.4h0M357.7 461.0h0M376.4 461.4h0M354.4 461.4h0M354.5 459.9h0M345.7 461.5h0M370.4 456.5h0M343.9 461.6h0M375.5 455.8h0M358.7 461.4h0M362.7 460.8h0M368.1 460.0h0M346.4 460.2h0M374.5 461.5h0M372.4 461.9h0M376.7 461.6h0M374.4 459.6h0M375.3 460.1h0M350.7 461.9h0M376.0 459.4h0M343.9 461.4h0M368.4 459.8h0M376.2 461.8h0M358.7 460.7h0M357.1 460.4h0M374.8 461.3h0M376.4 461.8h0M371.5 452.7h0M366.2 460.5h0M343.9 460.3h0M373.3 459.8h0M347.8 460.9h0M370.9 458.3h0M368.4 458.8h0M368.7 461.7h0M363.1 459.9h0M363.7 461.3h0M373.8 461.5h0M368.7 461.7h0M371.9 457.7h0M343.9 462.0h0M362.9 460.6h0M359.3 460.0h0M367.4 455.3h0M374.1 462.0h0M372.0 458.2h0M375.5 459.8h0M369.5 457.5h0M373.7 461.3h0M373.5 460.9h0M361.9 458.6h0M343.9 459.2h0M365.9 459.4h0M374.7 460.4h0M374.8 458.0h0M363.5 460.3h0M362.3 457.2h0M375.7 456.0h0M354.9 455.4h0M375.9 461.4h0M375.1 462.1h0M371.5 461.5h0M367.3 460.5h0M368.3 459.3h0M374.1 459.5h0M371.0 461.7h0M365.7 457.9h0M374.2 460.8h0M370.1 461.1h0M376.4 461.5h0M348.7 461.8h0M376.3 458.7h0M369.5 460.4h0M372.3 461.8h0M373.5 461.8h0M349.5 462.0h0M375.6 461.1h0M343.9 455.9h0M371.6 460.6h0M375.0 461.1h0M376.0 458.1h0M361.9 460.8h0M370.7 461.5h0M352.0 461.2h0M374.4 461.0h0M358.7 456.4h0M365.9 461.5h0M358.5 455.6h0M370.3 459.1h0M369.2 460.6h0M362.2 461.4h0M363.3 461.1h0M370.5 461.0h0M358.2 461.9h0M374.8 458.6h0M374.4 459.0h0M370.0 460.0h0M373.9 462.1h0M343.9 455.8h0M375.7 459.5h0M370.2 455.3h0M372.0 459.1h0M369.1 461.4h0M367.5 460.8h0M364.5 456.1h0M356.7 462.0h0M371.0 462.0h0M362.3 461.9h0M363.6 459.4h0M373.7 457.7h0M343.9 458.4h0M343.9 458.9h0M367.4 456.4h0M365.7 461.1h0M371.6 461.7h0M362.0 461.6h0M343.9 460.7h0M365.5 458.7h0M359.2 461.1h0M375.3 458.0h0M374.2 460.1h0M375.5 461.4h0M371.6 455.8h0M369.8 460.2h0M343.9 460.3h0M376.7 456.1h0M354.9 461.6h0M353.7 458.4h0M368.2 457.4h0M374.0 461.9h0M344.9 459.4h0M374.4 460.1h0M373.7 459.6h0M367.1 462.0h0M368.3 459.4h0M344.0 460.0h0M354.7 462.0h0M374.7 461.7h0M372.7 458.9h0M373.9 461.5h0M376.3 459.6h0M359.2 461.8h0M370.6 458.6h0M371.0 460.6h0M361.5 461.8h0M358.1 461.7h0M360.9 449.2h0M368.8 459.1h0M362.7 454.7h0M367.2 461.1h0M376.5 461.8h0M368.7 455.6h0M375.1 460.8h0M375.1 458.9h0M368.1 460.4h0M343.9 457.2h0M362.4 461.5h0M343.9 460.6h0M371.9 461.5h0M343.9 458.0h0M374.7 462.0h0M372.5 460.2h0M373.3 460.7h0M364.5 461.7h0M374.1 460.4h0M368.4 458.1h0M365.9 458.1h0M366.7 461.8h0M367.2 460.2h0M349.6 461.1h0M371.3 459.9h0M374.5 460.6h0M366.6 457.2h0M372.0 458.9h0M343.9 461.3h0M375.5 461.4h0M375.9 460.8h0M364.8 461.1h0M343.9 458.9h0M374.8 461.0h0M368.7 460.5h0M370.8 461.9h0M369.1 461.4h0M359.9 459.7h0M364.2 457.3h0M358.4 460.7h0M371.2 461.7h0M371.9 461.3h0M367.4 461.0h0M364.5 419.4h0M376.1 434.4h0M365.7 425.0h0M367.2 426.5h0M376.6 429.5h0M372.7 430.7h0M378.0 435.4h0M366.1 431.9h0M375.7 418.3h0M374.7 428.4h0M366.4 428.7h0M373.7 415.9h0" stroke="#3f7ab8" stroke-width="1.6" stroke-linecap="round"/>
<path d="M396.0 455.3h0M408.5 460.4h0M395.4 454.5h0M399.7 458.9h0M397.2 461.4h0M405.3 461.4h0M406.5 455.2h0M402.3 455.7h0M399.2 450.1h0M400.2 454.1h0M405.6 459.4h0M400.7 451.1h0M402.3 454.6h0M407.2 458.8h0M398.6 459.9h0M395.6 454.3h0M399.0 457.4h0M402.6 461.9h0M400.0 458.9h0M398.5 445.1h0M395.6 460.4h0M398.9 454.8h0M398.5 458.9h0M396.4 458.8h0M400.7 460.1h0M404.7 461.9h0M397.2 461.9h0M396.8 459.9h0M395.1 458.9h0M398.2 459.1h0M399.1 462.0h0M405.1 460.5h0M400.1 455.2h0M395.3 461.9h0M399.2 455.0h0M402.0 457.2h0M404.3 454.0h0M403.6 449.3h0M400.5 454.4h0M396.7 453.8h0M399.1 458.0h0M401.8 457.5h0M402.0 449.9h0M409.7 459.9h0M395.1 457.7h0M401.4 457.3h0M395.7 453.3h0M402.7 444.2h0M397.1 457.6h0M395.2 458.4h0M405.2 457.7h0M396.8 460.7h0M402.0 445.6h0M407.0 457.5h0M396.3 460.0h0M398.2 461.4h0M398.2 461.4h0M402.7 457.7h0M395.2 460.8h0M404.3 447.1h0M396.9 460.3h0M399.4 445.0h0M401.9 458.2h0M395.4 461.7h0M403.8 458.8h0M398.7 460.7h0M407.6 442.6h0M400.0 455.4h0M395.9 461.3h0M401.9 458.5h0M401.5 453.1h0M404.5 461.4h0M401.9 461.3h0M401.1 457.6h0M395.2 452.7h0M399.9 461.0h0M405.9 458.5h0M395.9 454.5h0M397.8 457.2h0M404.7 458.1h0M405.5 459.1h0M395.4 458.3h0M397.4 459.3h0M405.1 461.1h0M405.5 452.9h0M397.6 442.4h0M398.3 454.7h0M396.4 457.0h0M395.8 460.5h0M401.6 460.1h0M404.5 448.5h0M400.7 457.2h0M396.8 461.7h0M397.3 461.4h0M405.0 456.2h0M395.2 459.4h0M406.3 451.8h0M408.6 460.3h0M412.3 460.4h0M397.1 460.3h0M399.9 460.2h0M396.7 448.1h0M402.1 457.4h0M406.8 460.6h0M398.5 461.4h0M410.6 455.2h0M401.1 460.6h0M395.2 449.8h0M407.1 452.9h0M396.5 460.4h0M396.4 456.6h0M400.6 445.8h0M401.0 459.5h0M400.7 454.6h0M400.6 461.1h0M396.9 454.0h0M407.0 461.9h0M399.3 454.1h0M398.7 438.7h0M402.8 456.6h0M396.6 457.7h0M405.3 460.9h0M395.8 454.9h0M398.0 460.5h0M395.1 459.1h0M403.2 456.3h0M396.1 461.7h0M395.7 453.6h0M400.5 446.3h0M406.2 460.3h0M399.0 460.6h0M397.4 455.2h0M399.3 461.1h0M401.4 460.9h0M396.1 438.4h0M404.3 436.6h0M396.4 456.8h0M398.7 449.4h0M404.2 448.8h0M397.2 461.9h0M397.2 460.1h0M399.3 457.3h0M397.8 458.4h0M414.1 462.0h0M402.7 448.0h0M403.5 461.7h0M396.8 461.3h0M399.5 461.2h0M401.0 459.6h0M396.1 459.6h0M402.3 460.2h0M400.8 457.0h0M396.8 452.1h0M397.3 462.0h0M400.5 461.5h0M397.2 461.7h0M405.3 462.0h0M397.6 460.8h0M398.5 451.7h0M398.1 457.6h0M403.3 461.4h0M410.2 455.6h0M399.4 460.7h0M400.7 454.4h0M397.0 461.0h0M401.3 456.3h0M397.2 451.4h0M399.1 454.1h0M395.3 452.3h0M405.6 457.7h0M402.1 443.9h0M400.3 461.7h0M404.0 458.3h0M397.1 460.3h0M396.1 460.6h0M396.1 448.9h0M396.5 459.2h0M403.3 461.6h0M398.8 461.5h0M398.8 449.9h0M400.1 461.2h0M397.9 460.7h0M396.0 460.6h0M405.7 459.7h0M402.1 460.6h0M407.1 459.5h0M396.5 447.5h0M398.9 453.4h0M396.2 449.8h0M398.8 456.0h0M402.4 459.9h0M408.5 459.8h0M400.1 461.8h0M396.9 456.4h0M397.0 456.3h0M399.1 459.4h0M399.7 461.3h0M405.7 460.1h0M401.1 458.1h0M395.8 455.6h0M404.2 456.7h0M395.3 460.0h0M395.5 437.0h0M401.7 455.6h0M402.4 460.5h0M395.6 448.6h0M395.4 458.0h0M396.0 448.1h0M401.5 460.8h0M402.8 462.0h0M398.3 454.9h0M402.6 461.4h0M398.6 458.5h0M395.8 448.5h0M397.0 456.8h0M396.5 448.6h0M396.7 422.8h0M399.3 458.6h0M396.5 461.0h0M397.4 453.6h0M401.1 457.3h0M398.8 452.2h0M400.8 458.9h0M395.4 461.7h0M395.6 455.8h0M410.3 456.8h0M396.1 457.3h0M411.4 457.3h0M399.4 457.5h0M396.8 457.5h0M400.3 461.1h0M398.1 459.3h0M418.6 452.9h0M395.4 459.5h0M398.1 447.1h0M396.6 459.3h0M397.6 455.7h0M414.2 445.1h0M401.9 460.5h0M398.2 460.4h0M407.1 446.7h0M395.6 460.2h0M403.5 462.0h0M397.0 449.0h0M406.4 452.1h0M395.9 455.0h0M399.4 459.6h0M401.0 447.7h0M406.0 462.0h0M400.6 454.3h0M407.2 457.7h0M402.3 443.6h0M397.1 460.8h0M396.0 459.9h0M395.8 457.7h0M397.1 460.7h0M409.6 458.5h0M403.4 461.1h0M395.7 461.1h0M395.5 462.0h0M395.6 450.7h0M395.4 439.9h0M395.5 456.8h0M410.4 446.0h0M410.5 459.3h0M395.5 458.9h0M398.7 460.7h0M397.0 460.8h0M406.0 460.6h0M397.0 460.9h0M395.9 455.1h0M401.1 460.7h0M399.7 460.6h0M400.0 458.7h0M396.8 446.0h0M396.3 461.4h0M395.6 449.9h0M407.1 460.1h0M398.1 458.4h0M397.1 460.7h0M395.6 461.0h0M407.6 455.7h0M396.5 453.8h0M406.2 449.3h0M404.6 453.3h0M400.7 462.0h0M396.2 461.0h0M399.8 453.7h0M400.0 440.6h0M398.9 459.5h0M406.0 458.5h0M396.7 460.8h0M399.3 454.4h0M402.1 461.7h0M399.1 458.0h0M398.1 461.4h0M400.2 457.6h0M397.0 435.9h0M395.7 457.1h0M407.4 460.0h0M397.5 458.3h0M405.0 458.6h0M395.3 458.0h0M395.2 452.5h0M402.1 456.1h0M400.6 460.7h0M397.6 458.4h0M399.8 457.6h0M402.1 461.2h0M399.5 454.3h0M398.4 451.0h0M399.4 461.2h0M401.9 461.8h0M408.3 455.1h0M404.2 461.3h0M395.9 456.5h0M396.6 459.6h0M399.9 456.1h0M397.6 445.9h0M402.0 461.5h0M403.8 461.8h0M402.9 459.8h0M401.7 456.9h0M403.0 461.9h0M396.6 453.2h0M398.2 461.3h0M400.4 453.6h0M399.2 457.4h0M401.3 461.4h0M405.9 460.9h0M403.0 455.7h0M395.1 461.8h0M400.7 454.5h0M409.7 458.4h0M398.5 437.2h0M398.5 460.3h0M395.6 456.7h0M396.3 459.3h0M395.1 460.9h0M401.0 461.8h0M406.2 460.7h0M402.4 458.9h0M397.0 458.7h0M406.2 445.8h0M402.9 458.3h0M401.4 451.2h0M396.3 461.2h0M399.1 454.1h0M407.4 461.6h0M402.0 457.5h0M399.1 461.9h0M399.5 447.4h0M398.3 461.5h0M405.1 460.3h0M406.7 452.2h0M413.9 459.4h0M402.3 458.6h0M413.2 461.4h0M399.3 454.4h0M395.2 452.8h0M409.7 454.1h0M405.2 456.2h0M400.7 448.9h0M401.0 461.5h0M395.9 460.0h0M400.3 456.5h0M399.0 461.0h0M397.1 450.6h0M400.8 459.5h0M401.2 457.6h0M402.8 461.0h0M398.3 461.1h0M409.6 460.1h0M397.4 459.4h0M410.4 461.9h0M401.9 440.0h0M405.5 461.1h0M398.4 452.0h0M401.2 459.5h0M397.2 461.0h0M397.0 460.6h0M402.5 461.4h0M408.9 458.6h0M397.7 459.9h0M401.5 455.9h0M398.9 449.8h0M398.3 459.7h0M395.5 461.3h0M397.3 440.6h0M395.9 459.8h0M403.9 449.0h0M405.1 456.3h0M407.5 450.6h0M402.2 459.2h0M397.6 450.7h0M402.6 461.7h0M401.8 457.1h0M402.3 457.1h0M400.0 454.9h0M404.6 458.9h0M403.5 451.2h0M403.8 454.1h0M405.8 455.5h0M398.8 453.0h0M396.7 461.4h0M408.3 448.7h0M404.2 458.5h0M395.5 459.0h0M398.2 461.2h0M399.2 461.5h0M396.4 447.5h0M397.3 428.5h0M401.2 457.3h0M404.2 461.1h0M405.8 459.3h0M402.2 459.9h0M397.5 461.8h0M409.7 456.7h0M396.6 458.2h0M398.1 461.0h0M398.9 454.7h0M397.6 461.4h0M400.1 452.4h0M397.2 460.7h0M398.2 462.0h0M398.7 457.3h0M403.3 459.6h0M397.1 460.5h0M405.2 459.7h0M395.7 458.5h0M396.5 460.9h0M401.8 460.0h0M396.9 452.4h0M398.1 445.8h0M403.0 453.2h0M399.4 454.0h0M404.8 456.6h0M396.0 456.9h0M397.0 462.0h0M402.7 458.8h0M397.5 454.2h0M404.7 458.0h0M395.7 453.4h0M400.5 456.9h0M402.4 461.4h0M404.5 461.7h0M396.7 444.0h0M395.3 448.3h0M400.6 456.7h0M398.4 453.2h0M395.9 460.5h0M399.5 460.1h0M397.5 458.2h0M404.6 461.9h0M397.6 458.2h0M402.0 458.5h0M397.4 450.3h0M401.2 455.6h0M407.3 461.9h0M400.2 449.6h0M403.4 451.1h0M398.2 459.0h0M406.0 456.7h0M411.6 454.4h0M396.6 459.1h0M406.1 452.9h0M395.4 460.7h0M400.6 439.2h0M407.6 455.7h0M400.0 461.5h0M397.4 451.8h0M396.5 460.9h0M401.0 457.6h0M406.8 451.5h0M406.3 460.4h0M395.5 461.3h0M398.7 457.3h0M398.7 461.5h0M402.7 455.9h0M398.9 457.3h0M399.5 457.8h0M403.4 460.4h0M404.4 461.8h0M397.1 459.1h0M399.7 455.9h0M405.8 455.0h0M397.7 458.9h0M395.9 455.8h0M400.1 454.7h0M398.9 460.5h0M406.4 459.1h0M398.1 459.5h0M396.2 460.4h0M398.8 458.9h0M403.1 449.8h0M402.4 446.2h0M402.9 459.4h0M402.9 451.4h0M395.4 461.3h0M401.2 454.3h0M396.3 451.6h0M402.5 459.4h0M395.5 458.2h0M399.7 459.2h0M403.7 452.6h0M402.4 461.5h0M411.1 457.2h0M398.5 458.3h0M400.0 459.0h0M395.1 456.1h0M396.1 459.6h0M397.6 460.2h0M396.9 458.1h0M395.9 458.5h0M403.6 461.7h0M396.2 460.4h0M396.9 456.9h0M401.0 453.4h0M403.9 452.1h0M401.9 458.4h0M398.4 448.9h0M401.1 451.5h0M409.3 460.5h0M397.2 461.4h0M407.4 457.0h0M405.7 459.3h0M395.4 460.4h0M396.1 451.5h0M403.3 450.7h0M401.9 456.0h0M405.1 460.1h0M395.4 457.1h0M395.3 459.3h0M398.8 460.5h0M404.5 460.3h0M399.8 460.5h0M406.4 457.3h0M410.9 458.4h0M395.9 456.9h0M395.4 458.2h0M400.3 450.4h0M398.2 460.0h0M402.5 460.3h0M398.6 461.0h0M398.1 460.3h0M397.5 452.7h0M396.6 460.7h0M405.9 453.6h0M398.1 457.2h0M395.2 446.9h0M403.3 459.9h0M404.8 454.2h0M395.5 456.5h0M405.9 450.0h0M395.5 461.7h0M405.4 461.7h0M401.7 458.4h0M399.1 461.8h0M406.9 450.7h0M400.8 462.0h0M397.1 460.2h0M398.9 462.0h0M400.2 462.1h0M403.2 457.6h0M400.0 450.1h0M399.9 461.0h0M395.1 461.3h0M405.2 461.8h0M397.7 461.4h0M399.7 457.4h0M404.8 460.6h0M405.2 449.6h0M398.4 462.0h0M396.5 460.7h0M403.6 458.6h0M396.9 452.6h0M396.2 461.0h0M396.0 459.0h0M401.3 456.4h0M407.7 461.4h0M396.4 456.0h0M400.6 444.8h0M401.7 449.6h0M401.3 457.6h0M396.8 450.9h0M409.0 459.2h0M397.3 460.1h0M396.9 461.2h0M403.6 445.0h0M397.5 460.6h0M398.9 460.8h0M397.9 457.5h0M399.7 460.4h0M404.6 455.3h0M397.9 453.2h0M401.1 458.4h0M395.7 457.4h0M396.9 460.7h0M403.9 462.0h0M397.5 449.4h0M398.2 460.8h0M402.8 460.5h0M395.8 460.2h0M396.5 462.0h0M406.1 458.6h0M400.4 460.3h0M404.4 460.6h0M395.8 455.4h0M397.8 457.6h0M405.2 460.0h0M402.4 458.2h0M401.0 461.6h0M396.1 460.8h0M402.3 458.3h0M403.2 461.6h0M398.1 459.1h0M399.0 454.2h0M399.4 457.0h0M397.1 446.4h0M407.3 461.1h0M398.2 457.9h0M397.2 461.5h0M401.3 459.3h0M397.5 460.8h0M398.4 462.0h0M397.1 458.0h0M404.7 461.4h0M400.1 457.9h0M399.4 461.0h0M413.6 451.3h0M397.6 452.3h0M408.1 460.7h0M399.2 453.3h0M395.9 456.8h0M396.4 452.6h0M411.7 458.1h0M396.0 453.7h0M407.2 451.2h0M404.4 461.8h0M400.8 459.0h0M405.5 460.1h0M399.9 456.9h0M399.6 461.0h0M398.6 459.2h0M413.4 456.9h0M399.6 461.7h0M399.0 461.8h0M413.5 459.4h0M402.2 453.2h0M399.7 458.1h0M401.8 455.8h0M398.7 458.8h0M408.0 460.4h0M402.2 442.1h0M397.2 461.5h0M403.3 452.4h0M403.4 452.4h0M396.5 458.5h0M403.6 456.1h0M397.7 462.0h0M398.3 460.6h0M397.3 459.9h0M402.7 455.8h0M404.1 461.7h0M395.1 460.8h0M400.8 460.0h0M407.2 456.9h0M395.9 459.2h0M395.2 458.4h0M407.5 461.2h0M397.4 460.3h0M401.1 449.5h0M395.4 451.8h0M396.9 454.4h0M398.1 459.1h0M409.5 458.6h0M405.1 455.5h0M396.4 458.7h0M395.6 459.6h0M406.6 457.7h0M395.5 458.6h0M399.3 459.1h0M397.9 458.9h0M399.4 458.9h0M395.7 462.0h0M397.2 441.7h0M405.8 451.0h0M396.1 439.9h0M399.4 461.6h0M395.4 460.5h0M401.3 447.9h0M412.9 454.7h0M401.4 461.8h0M405.2 455.8h0M400.1 454.6h0M404.8 459.3h0M416.1 449.2h0M395.3 458.9h0M418.8 461.6h0M398.2 454.0h0M402.9 452.0h0M405.8 448.8h0M402.5 444.3h0M408.6 461.0h0M399.0 460.5h0M401.4 457.0h0M397.3 455.6h0M407.0 454.3h0M399.9 454.2h0M397.5 457.2h0M396.8 461.3h0M399.6 454.7h0M403.4 455.4h0M397.3 451.2h0M404.9 454.0h0M395.3 460.3h0M396.8 461.7h0M405.7 456.2h0M398.2 460.8h0M402.9 458.6h0M399.3 453.7h0M401.8 451.2h0M401.3 454.3h0M399.4 456.6h0M401.1 458.7h0M403.1 455.3h0M398.1 450.8h0M401.6 456.7h0M398.1 454.1h0M400.7 459.6h0M398.2 455.4h0M403.1 459.6h0M396.3 456.7h0M401.6 460.5h0M396.0 455.1h0M404.9 454.5h0M399.3 457.0h0M397.2 457.6h0M397.1 460.1h0M402.9 449.4h0M401.0 453.0h0M408.2 456.6h0M401.5 455.1h0M403.7 461.8h0M395.9 460.1h0M401.7 461.5h0M403.7 458.6h0M401.0 458.3h0M398.5 455.7h0M404.1 446.2h0M416.0 456.8h0M404.9 453.8h0M405.4 461.6h0M410.7 461.6h0M396.8 459.5h0M401.0 459.5h0M404.7 462.0h0M397.2 460.7h0M403.5 460.2h0M398.5 461.6h0M399.8 460.3h0M397.9 459.7h0M396.1 457.8h0M396.4 461.2h0M400.1 462.0h0M399.2 453.9h0M399.7 447.7h0M396.7 446.1h0M395.9 459.8h0M397.9 458.3h0M400.8 460.8h0M396.7 451.4h0M408.6 457.9h0M404.9 450.9h0M403.5 457.5h0M396.1 458.1h0M399.1 450.5h0M397.0 450.0h0M401.9 454.6h0M402.1 461.8h0M398.5 460.0h0M402.5 461.3h0M396.2 443.9h0M398.3 439.8h0M408.0 457.8h0M399.3 452.2h0M396.1 450.3h0M398.4 456.4h0M401.5 455.2h0M400.9 454.0h0M397.7 449.2h0M401.0 453.2h0M399.9 459.4h0M399.9 454.5h0M395.2 461.9h0M398.7 460.4h0M400.9 461.0h0M397.7 451.6h0M397.3 457.5h0M401.0 460.6h0M402.2 458.6h0M398.3 453.6h0M401.7 458.2h0M405.2 459.8h0M408.5 448.7h0M396.5 461.4h0M396.9 458.8h0M396.5 447.8h0M397.4 452.4h0M398.2 461.1h0M397.4 461.4h0M403.9 435.0h0M397.8 461.6h0M404.2 454.7h0M395.7 456.9h0M397.0 460.7h0M399.1 458.9h0M401.5 460.9h0M399.2 455.2h0M401.9 429.7h0M395.2 437.6h0M398.1 461.8h0M396.7 461.2h0M400.4 444.3h0M406.6 460.4h0M400.3 461.1h0M406.3 459.2h0M397.5 459.8h0M408.2 454.6h0M396.1 460.0h0M398.1 449.1h0M395.4 462.0h0M402.6 458.6h0M399.4 458.4h0M396.8 461.7h0M400.7 448.9h0M397.2 460.2h0M402.2 445.0h0M406.8 460.3h0M409.1 457.7h0M399.7 459.8h0M403.0 460.8h0M395.5 453.9h0M402.2 459.1h0M401.4 450.9h0M395.8 458.4h0M399.9 458.2h0M396.3 457.0h0M402.5 448.3h0M404.4 460.9h0M398.1 453.3h0M402.5 443.1h0M395.3 458.2h0M408.6 449.6h0M397.2 456.4h0M396.8 460.1h0M400.6 460.4h0M397.8 461.4h0M400.7 461.3h0M398.7 458.9h0M399.9 461.9h0M396.1 458.6h0M398.8 461.8h0M404.7 461.1h0M395.9 459.8h0M398.8 460.8h0M395.6 460.3h0M396.2 460.6h0M399.2 460.4h0M396.5 458.2h0M400.1 460.7h0M398.8 460.7h0M397.8 458.8h0M405.1 458.8h0M395.6 461.1h0M405.9 459.1h0M398.0 461.4h0M396.4 461.9h0M398.5 458.0h0M414.9 457.1h0M405.9 456.3h0M401.0 456.0h0M402.8 457.5h0M397.6 458.8h0M395.8 458.9h0M395.9 448.9h0M400.0 448.4h0M396.7 459.6h0M396.6 461.6h0M395.4 452.8h0M399.1 448.4h0M402.1 443.5h0M405.1 461.8h0M402.0 458.9h0M396.0 460.5h0M396.8 455.2h0M399.4 442.3h0M395.4 457.2h0M397.1 461.3h0M395.8 459.5h0M398.8 431.9h0M398.5 439.2h0M397.5 420.2h0M396.3 460.1h0M401.2 461.7h0M401.6 430.4h0M399.0 427.8h0M395.9 415.4h0M398.5 453.1h0M397.8 450.0h0M397.9 446.6h0M396.1 424.4h0M395.8 413.6h0M395.7 455.9h0M397.4 413.3h0M396.1 410.6h0M397.3 453.8h0M398.2 432.2h0M400.2 435.9h0M398.1 444.0h0M397.3 422.0h0M396.0 407.0h0M395.7 448.2h0M399.3 440.7h0M397.7 421.2h0M395.3 449.4h0M400.5 447.3h0M396.2 460.9h0M399.9 460.7h0M395.7 414.7h0M398.9 460.6h0M396.2 417.6h0M398.2 436.3h0M398.1 449.6h0M396.3 430.5h0M395.5 429.4h0M399.9 457.2h0M396.5 446.4h0M396.9 430.4h0M396.3 442.3h0M398.1 460.3h0M396.6 432.2h0M401.7 451.3h0M395.8 458.6h0M399.3 432.7h0M398.4 459.2h0M395.6 433.4h0M395.2 434.5h0M399.5 442.9h0M398.5 441.0h0M397.3 407.6h0M400.1 437.5h0M397.2 439.7h0M395.5 427.2h0M395.2 412.3h0M397.8 416.3h0M397.4 425.4h0M395.6 434.2h0M395.3 428.9h0M397.7 448.0h0M395.8 451.5h0M398.4 460.5h0M395.6 430.1h0M395.6 437.8h0M396.0 432.4h0M396.3 435.0h0M396.9 430.2h0M395.1 437.6h0M396.7 442.6h0M398.2 421.4h0M396.5 446.0h0M395.9 411.9h0M395.5 442.4h0M396.3 460.7h0M396.4 410.6h0M396.8 442.2h0M399.6 457.6h0M396.3 416.8h0M398.0 452.3h0M408.7 461.5h0M398.6 459.2h0M399.5 460.1h0M409.0 456.6h0M395.3 408.4h0M399.6 446.0h0M396.6 426.8h0M396.1 456.8h0M398.9 434.4h0M401.9 453.2h0M396.4 452.4h0M395.6 412.7h0M406.4 444.4h0M396.5 460.8h0M397.8 430.6h0M398.0 450.2h0M398.1 429.2h0M397.0 461.5h0M395.5 446.0h0M396.5 461.4h0M397.1 455.1h0M396.6 417.6h0M395.3 454.6h0M397.0 446.7h0M396.7 432.1h0M397.3 449.7h0M396.7 434.1h0M397.2 459.4h0M395.1 439.3h0M398.3 418.4h0M395.2 451.3h0M400.4 438.7h0M397.6 409.5h0M396.6 456.0h0M398.2 434.4h0M395.8 423.3h0M398.1 431.6h0M398.5 455.6h0M397.0 462.1h0M395.1 424.3h0M396.1 411.3h0M396.3 435.0h0M399.2 430.6h0M400.5 462.0h0M396.2 412.9h0M397.7 417.2h0M397.2 422.0h0M398.4 453.9h0M396.7 458.0h0M397.4 429.5h0M396.3 433.4h0M396.1 456.4h0M399.4 448.9h0M398.0 432.0h0M399.7 432.6h0M397.1 457.8h0M396.7 426.2h0M396.3 423.9h0M400.9 448.1h0M401.5 452.2h0M398.7 455.3h0M395.3 412.2h0M395.8 438.0h0M396.9 437.8h0M395.8 419.8h0M396.4 454.1h0M398.9 459.2h0M395.2 457.1h0M399.0 413.4h0M402.3 461.3h0M395.8 438.7h0M396.0 454.3h0M396.4 427.2h0M396.4 411.8h0M396.7 416.0h0M400.0 439.5h0M395.2 435.8h0M401.2 457.4h0M400.1 445.1h0M398.1 417.6h0M396.0 455.4h0M398.6 450.2h0M396.5 416.5h0M396.0 429.1h0M396.2 414.3h0M399.7 446.9h0M402.1 459.9h0M401.2 439.3h0M398.6 458.0h0M396.3 422.6h0M395.8 406.9h0M398.8 458.0h0M399.3 461.9h0M401.3 456.5h0M404.5 448.3h0M397.0 441.6h0M395.6 411.1h0M397.4 438.3h0M405.1 451.2h0M398.7 441.9h0M397.8 448.3h0M402.4 458.6h0M398.1 461.9h0M396.8 412.4h0M395.4 432.9h0M396.8 421.5h0M395.1 410.8h0M396.6 432.2h0M396.4 437.4h0M395.7 450.0h0M399.5 452.9h0M397.0 436.2h0M397.8 452.2h0M401.6 460.6h0M395.9 453.3h0M401.1 453.4h0M396.2 423.7h0M395.2 426.3h0M401.0 450.2h0M396.1 461.7h0M395.5 430.3h0M395.8 443.1h0M396.9 435.3h0M396.3 417.1h0M396.8 419.8h0M395.5 448.4h0M401.3 454.9h0M395.2 449.9h0M399.6 456.5h0M396.0 458.7h0M398.0 429.2h0M398.5 425.2h0M399.3 461.8h0M396.9 445.0h0M397.8 420.7h0M395.7 409.9h0M395.5 419.9h0M395.5 442.1h0M395.9 438.8h0M398.8 459.4h0M395.6 418.7h0M398.9 455.1h0M396.9 448.4h0M396.4 413.6h0M396.5 414.3h0M398.9 445.1h0M396.4 457.3h0M395.7 454.1h0M397.1 424.7h0M401.4 462.1h0M398.5 444.3h0M397.0 413.6h0M395.1 422.3h0M395.6 461.7h0M397.5 453.9h0M395.7 452.9h0M399.3 449.5h0M398.0 445.2h0M399.1 460.9h0M395.2 428.5h0M397.9 445.6h0M396.0 438.1h0M399.1 442.8h0M400.3 447.6h0M399.9 422.6h0M400.2 436.2h0M396.5 424.6h0M396.0 460.1h0M398.4 421.5h0M397.3 454.3h0M405.5 433.2h0M395.2 421.8h0M399.5 439.2h0M395.2 427.3h0M395.2 461.8h0M396.0 428.6h0M404.8 449.4h0M403.4 446.5h0M395.9 435.7h0M403.9 454.4h0M399.9 457.3h0M397.8 461.0h0M396.3 454.2h0M396.2 461.0h0M396.8 411.9h0M396.4 450.3h0M398.2 456.2h0M397.8 427.5h0M397.5 448.1h0M397.7 433.3h0M396.0 435.3h0M398.7 417.3h0M395.7 437.4h0M399.6 445.3h0M399.3 436.9h0M398.3 443.3h0M396.5 430.2h0M396.4 416.7h0M400.6 455.6h0M398.9 420.9h0M395.1 437.3h0M399.0 447.3h0M398.8 461.1h0M397.1 419.1h0M395.4 418.4h0M402.0 452.1h0M396.7 419.0h0M396.1 430.5h0M397.6 462.0h0M398.1 462.0h0M404.4 451.4h0M398.2 456.4h0M395.7 413.9h0M397.6 424.7h0M398.8 456.0h0M396.0 434.1h0M401.1 444.3h0M398.9 462.0h0M395.4 461.8h0M395.2 414.0h0M397.7 459.5h0M397.5 424.9h0M395.5 411.5h0M395.4 409.0h0M396.9 426.6h0M398.9 411.6h0M395.4 449.3h0M401.2 459.5h0M397.7 437.0h0M403.5 456.5h0M396.6 446.5h0M398.4 450.3h0M395.9 422.5h0M399.3 445.1h0M402.2 432.0h0M398.2 427.1h0M396.1 408.4h0M407.1 460.2h0M400.7 443.3h0M397.9 461.0h0M396.2 427.0h0M397.2 426.4h0M396.5 426.8h0M397.3 457.8h0M397.6 415.8h0M404.1 461.9h0M396.8 411.0h0M398.8 461.5h0M395.7 440.6h0M398.1 460.7h0M409.5 461.7h0M395.5 438.0h0M397.2 449.7h0M395.6 417.3h0M397.7 411.0h0M395.4 419.2h0M396.1 456.6h0M403.0 438.6h0M402.3 459.4h0M397.3 454.0h0M403.4 451.8h0M396.5 430.1h0M396.0 414.0h0M395.5 455.5h0M398.9 414.8h0M397.3 427.8h0M399.1 448.0h0M401.8 458.5h0M396.9 459.3h0M400.0 426.1h0M397.3 430.6h0M398.2 443.9h0M397.1 442.9h0M398.2 446.2h0M396.9 407.2h0M397.5 420.2h0M396.7 457.3h0M397.6 433.2h0M396.7 428.0h0M395.9 457.0h0M396.5 417.1h0M398.8 454.0h0M397.8 415.5h0M396.4 412.7h0M398.3 417.7h0M396.6 432.9h0M395.8 417.0h0M398.9 454.8h0M397.2 421.0h0M396.2 430.1h0M396.2 439.7h0M396.0 460.1h0M400.8 437.0h0M398.3 452.3h0M395.7 441.0h0M395.6 423.9h0M395.2 409.1h0M402.7 441.1h0M399.0 449.9h0M397.0 413.8h0M401.4 431.6h0M402.2 456.8h0M406.3 454.1h0M397.4 408.6h0M399.7 448.4h0M397.0 412.8h0M396.0 409.1h0M397.2 427.7h0M398.5 450.7h0M397.4 429.6h0M396.0 437.3h0M398.0 426.7h0M395.6 416.6h0M397.4 457.0h0M402.0 449.3h0M396.3 418.1h0M399.9 434.9h0M396.7 451.9h0M400.0 432.5h0M395.6 452.1h0M395.9 434.1h0M396.6 436.5h0M399.3 461.1h0M396.3 447.2h0M396.2 411.6h0M396.9 445.6h0M396.3 414.6h0M403.8 449.5h0M397.6 452.6h0M397.0 448.0h0M396.0 457.2h0M395.7 423.7h0M399.5 445.7h0M395.3 461.7h0M395.7 431.4h0M398.6 445.0h0M397.2 434.0h0M395.1 425.7h0M397.4 431.6h0M395.3 447.4h0M397.2 457.2h0M398.3 448.1h0M404.1 462.0h0M398.0 420.0h0M397.7 461.8h0M398.2 444.7h0M396.3 436.2h0M400.2 458.1h0M396.2 418.7h0M395.6 441.7h0M396.2 425.6h0M395.7 416.4h0M399.1 458.5h0M396.2 431.5h0M398.8 426.2h0M397.0 421.7h0M395.2 442.3h0M395.1 443.0h0M398.9 421.5h0M397.7 407.2h0M402.7 451.4h0M400.0 439.1h0M399.1 456.5h0M405.7 459.6h0M395.1 432.7h0M396.4 447.4h0M395.7 414.3h0M397.4 425.6h0M396.4 409.7h0M396.7 410.4h0M402.3 455.3h0M400.9 440.3h0M396.5 451.4h0M398.5 454.6h0M407.7 451.9h0M400.6 436.5h0M397.3 427.8h0M397.0 412.1h0M401.7 458.6h0M395.9 414.1h0M398.3 458.0h0M395.6 453.1h0M399.6 421.1h0M397.9 413.7h0M397.8 437.3h0M397.9 458.3h0M398.0 453.0h0M399.6 421.7h0M397.3 457.1h0M398.2 433.1h0M399.0 452.5h0M395.2 461.2h0M396.8 430.1h0M399.4 458.3h0M395.8 428.8h0M396.9 424.6h0M398.1 428.0h0M396.4 457.0h0M396.1 454.7h0M399.1 432.4h0M398.1 430.5h0M400.2 440.7h0M400.2 459.2h0M399.9 459.6h0M395.5 445.3h0M396.6 424.2h0M406.5 456.4h0M396.5 428.6h0M396.1 427.7h0M397.1 419.6h0M396.4 447.2h0M395.7 419.7h0M403.6 449.8h0M395.2 448.6h0M406.1 454.2h0M395.7 457.9h0M395.8 448.0h0M398.8 415.8h0M396.6 453.7h0M396.7 408.1h0M396.1 461.9h0M398.2 442.1h0M401.1 453.4h0M395.5 445.3h0M395.4 439.8h0M395.3 430.0h0M397.8 456.9h0M398.3 444.3h0M396.2 416.4h0M396.0 430.4h0M398.5 435.2h0M398.6 461.3h0M397.2 457.6h0M396.8 412.1h0M395.1 443.5h0M396.8 424.3h0M399.9 459.8h0M395.5 459.0h0M396.1 417.9h0M395.6 434.9h0M396.3 453.3h0M400.6 446.0h0M401.9 453.4h0M397.6 427.9h0M395.7 443.2h0M402.8 457.1h0M396.9 451.2h0M399.0 439.6h0M395.8 415.4h0M397.9 443.4h0M397.1 436.8h0M401.9 438.3h0M395.8 415.1h0M397.2 417.4h0M398.4 461.5h0M395.8 412.9h0M395.3 424.9h0M396.0 457.3h0M402.4 459.5h0M397.5 445.6h0M396.0 448.4h0M398.0 461.6h0M401.5 460.2h0M397.3 439.7h0M395.9 445.3h0M402.5 456.4h0M404.1 459.8h0M400.7 432.3h0M398.1 443.8h0M400.1 432.6h0M396.3 425.6h0M397.8 437.0h0M395.3 457.3h0M395.5 439.5h0M397.1 438.1h0M399.0 430.2h0M397.2 451.2h0M405.4 454.3h0M400.8 458.6h0M398.6 448.8h0M399.0 447.4h0M395.4 434.8h0M395.2 461.9h0M397.4 416.1h0M398.1 413.5h0M395.5 419.2h0M396.2 413.8h0M395.8 412.3h0M404.7 461.6h0M399.9 435.1h0M396.1 410.4h0M402.0 433.5h0M408.1 456.8h0M398.3 412.4h0M396.7 419.0h0M397.0 416.8h0M399.3 408.3h0M400.7 449.9h0M397.0 459.3h0M395.9 422.4h0M397.5 434.3h0M397.4 447.3h0M399.0 442.9h0M400.9 459.1h0M397.1 457.5h0M402.5 424.6h0M401.8 456.4h0M400.6 437.8h0M397.3 420.9h0M397.6 425.4h0M395.4 444.8h0M397.4 436.0h0M396.0 424.9h0M396.8 417.4h0M402.1 438.3h0M395.2 433.4h0M398.8 455.2h0M400.2 437.6h0M401.7 437.8h0M395.4 408.8h0M396.9 427.2h0M400.6 445.3h0M396.4 424.4h0M397.9 420.0h0M397.3 457.0h0M396.9 461.3h0M396.6 440.4h0M398.6 417.3h0M395.5 443.9h0M399.1 455.7h0M396.6 431.6h0M402.6 452.5h0M400.8 419.2h0M396.2 430.1h0M398.3 448.7h0M395.6 445.4h0M395.9 440.1h0M395.9 432.1h0M399.7 438.4h0M395.7 420.1h0M395.5 422.7h0M395.6 447.8h0M403.4 458.1h0M396.9 427.8h0M397.8 416.2h0M396.5 425.6h0M397.9 445.2h0M396.6 414.1h0M395.8 418.8h0M402.0 450.4h0M402.4 455.9h0M396.0 418.6h0M395.4 455.5h0M396.3 419.0h0M398.7 436.9h0M397.4 410.2h0M395.1 440.8h0M398.4 422.0h0M397.1 435.5h0M401.0 457.9h0M396.3 462.0h0M396.4 438.1h0M395.7 424.7h0M396.2 419.6h0M396.9 414.9h0M395.2 417.7h0M397.4 438.8h0M395.1 435.5h0M396.1 442.3h0M396.5 429.1h0M400.7 453.6h0M435.1 458.6h0M435.3 458.5h0M424.5 462.1h0M416.6 454.1h0M432.3 461.2h0M438.9 458.1h0M422.4 454.7h0M409.4 461.4h0M422.8 461.6h0M413.4 462.0h0M407.4 461.2h0M430.3 454.9h0M425.8 459.0h0M431.7 460.5h0M427.8 459.7h0M434.4 460.9h0M435.1 460.4h0M414.1 459.8h0M408.7 461.5h0M412.8 461.3h0M436.9 461.5h0M417.4 459.2h0M410.8 460.2h0M412.2 460.3h0M436.7 462.0h0M434.4 462.0h0M439.0 461.5h0M432.2 462.0h0M409.5 461.1h0M425.3 462.0h0M409.5 461.3h0M438.0 460.6h0M421.0 461.2h0M412.1 461.2h0M428.1 461.9h0M436.7 462.1h0M424.2 461.9h0M429.7 461.8h0M430.5 462.0h0M413.7 461.7h0M432.5 459.9h0M424.1 460.9h0M418.7 458.9h0M411.3 460.8h0M427.7 460.8h0M428.2 461.7h0M438.3 457.3h0M437.7 454.5h0M424.5 451.3h0M432.4 458.8h0M428.8 458.7h0M414.2 461.0h0M408.4 461.6h0M425.9 457.8h0M438.1 461.1h0M419.8 461.4h0M435.9 461.0h0M423.9 461.8h0M420.3 461.4h0M427.3 460.4h0M432.9 458.4h0M413.7 458.9h0M427.9 457.9h0M406.9 456.6h0M424.7 457.0h0M430.7 461.7h0M432.2 458.0h0M422.1 453.9h0M437.4 455.6h0M433.8 460.5h0M414.7 458.4h0M436.0 460.7h0M426.3 460.5h0M432.7 461.8h0M439.5 458.7h0M435.5 461.8h0M415.0 451.0h0M432.9 461.0h0M433.5 458.5h0M427.3 461.0h0M437.1 459.1h0M410.9 460.3h0M426.9 457.9h0M418.9 459.3h0M436.7 456.1h0M433.0 461.4h0M421.6 460.6h0M414.7 459.6h0M412.7 457.5h0M430.0 459.9h0M424.2 456.0h0M437.3 459.8h0M421.6 460.6h0M434.9 460.2h0M428.4 461.7h0M433.1 454.5h0M425.1 461.7h0M407.3 461.3h0M415.4 458.9h0M439.3 459.1h0M431.8 459.7h0M424.3 456.9h0M416.0 461.0h0M412.9 460.2h0M420.3 458.1h0M432.2 459.5h0M419.2 453.9h0M408.9 462.0h0M424.0 461.7h0M429.5 460.0h0M423.2 461.3h0M435.9 461.2h0M408.7 461.2h0M428.4 457.2h0M424.4 459.5h0M410.6 460.0h0M411.8 461.5h0M417.6 453.9h0M431.9 460.4h0M420.3 461.4h0M410.7 461.9h0M419.9 460.9h0M426.8 461.0h0M431.3 461.1h0M416.1 461.6h0M429.9 461.0h0M414.4 460.8h0M412.0 461.9h0M427.5 461.4h0M435.5 457.4h0M416.4 459.7h0M433.2 461.5h0M412.6 459.0h0M417.6 460.2h0M415.8 461.2h0M428.1 457.8h0M428.6 461.3h0M422.3 458.0h0M427.0 458.4h0M417.6 461.8h0M437.2 462.0h0M431.6 460.7h0M415.9 459.8h0M425.1 461.8h0M414.8 454.0h0M437.4 460.4h0M439.0 461.5h0M434.7 457.4h0M438.4 453.9h0M425.2 461.6h0M429.5 460.4h0M434.2 461.7h0M407.0 461.7h0M407.4 457.3h0M428.1 462.1h0M437.3 460.1h0M427.6 461.5h0M424.2 460.8h0M435.8 460.4h0M411.3 460.0h0M430.2 459.9h0M412.9 461.8h0M421.6 459.7h0M417.2 458.1h0M439.0 458.7h0M410.6 460.9h0M412.1 457.5h0M411.8 456.3h0M409.4 461.4h0M422.4 460.0h0M421.7 460.9h0M416.9 460.8h0M435.9 459.5h0M431.0 460.8h0M409.5 461.7h0M410.4 459.7h0M424.6 454.8h0M413.3 458.4h0M423.0 459.8h0M411.4 461.3h0M432.6 461.6h0M424.3 461.9h0M422.9 460.3h0M423.6 451.1h0M431.1 460.3h0M425.6 460.9h0M430.5 462.0h0M415.5 459.4h0M434.5 460.8h0M436.5 460.9h0M420.2 459.0h0M413.6 458.8h0M412.9 454.1h0M418.2 458.8h0M427.3 458.4h0M426.8 461.5h0M425.6 460.0h0M418.0 460.6h0M436.7 461.9h0M414.3 455.7h0M425.2 457.5h0M437.6 459.2h0M422.2 460.0h0M427.9 460.3h0M407.1 455.3h0M421.6 453.9h0M439.1 459.6h0M427.3 446.6h0M423.1 460.8h0M439.0 461.9h0M427.6 458.9h0M418.6 461.2h0M415.2 460.7h0M424.4 461.4h0M432.7 460.8h0M421.5 458.5h0M427.2 459.3h0M435.6 456.4h0M411.7 460.4h0M437.2 459.5h0M422.1 456.1h0M432.9 460.4h0M414.3 461.3h0M427.4 461.6h0M424.1 458.1h0M425.4 460.0h0M426.3 457.5h0M419.2 460.9h0M419.9 461.2h0M437.0 460.8h0M423.7 459.4h0M429.6 459.9h0M415.3 461.3h0M434.6 456.4h0M435.3 461.9h0M425.0 459.9h0M418.0 461.9h0M415.6 459.4h0M428.7 459.2h0M430.1 456.8h0M426.9 461.4h0M436.0 461.1h0M413.4 461.2h0M427.0 460.4h0M430.9 460.8h0M414.3 457.9h0M410.3 460.3h0M427.2 461.3h0M433.4 459.9h0M432.3 459.9h0M423.1 456.1h0M428.4 458.5h0M420.3 458.9h0M419.8 460.2h0M425.5 453.1h0M418.7 458.6h0M431.0 461.8h0M408.4 455.5h0M421.5 459.2h0M422.0 459.8h0M399.1 408.1h0M401.2 383.8h0M399.2 387.8h0M414.6 384.2h0M403.7 402.6h0M398.5 395.0h0M402.7 399.4h0M403.0 397.9h0M403.4 378.7h0M404.3 382.5h0M405.6 395.8h0M407.5 409.5h0M400.4 395.9h0M406.1 406.6h0M406.6 393.1h0M399.2 378.9h0M405.6 406.2h0M404.9 388.6h0M402.4 396.1h0M406.2 388.3h0M401.6 402.6h0M411.3 395.4h0M401.1 379.3h0M402.6 403.7h0M403.4 395.0h0M400.8 396.9h0M405.6 384.1h0M399.6 385.4h0M400.2 397.1h0M404.9 393.8h0M405.5 396.0h0M404.8 400.6h0M398.8 391.5h0M399.9 405.8h0M402.9 387.5h0M402.6 392.0h0M400.0 386.9h0M402.0 389.8h0M400.7 403.2h0M400.0 403.8h0" stroke="#ee4a3c" stroke-width="1.6" stroke-linecap="round"/>
<path d="M389.1 385.8L399.0 402.0M426.4 387.0L406.0 402.0M409.1 392.6L403.0 405.0M387.9 399.2L403.0 412.0M384.2 407.8L396.0 432.0M421.3 409.0L405.0 405.0M420.1 416.3L400.0 430.0M381.8 418.0L396.0 446.0M415.2 427.8L398.0 440.0M365.9 428.3L390.0 452.0M386.6 427.8L396.0 448.0M431.8 433.2L398.0 448.0M384.2 433.2L396.0 452.0M429.4 442.4L400.0 452.0M450.1 446.1L405.0 455.0M362.2 444.1L386.0 456.0M390.3 436.3L396.0 455.0M381.8 450.2L394.0 456.0M365.9 452.9L390.0 458.0M439.1 455.4L405.0 457.0M342.7 455.1L385.0 458.0M350.0 465.6L380.0 461.0M365.9 466.8L383.0 462.0M380.5 466.8L387.0 462.0M402.5 467.6L393.0 462.0M429.4 466.8L402.0 462.0" stroke="#d08484" stroke-width="0.45" fill="none"/>
<text x="389.10" y="387.40" font-size="4.6" text-anchor="middle" fill="#b5474a" stroke="#b5474a" stroke-width="0.1">Spp1</text>
<text x="426.40" y="388.60" font-size="4.6" text-anchor="middle" fill="#b5474a" stroke="#b5474a" stroke-width="0.1">Cxcl2</text>
<text x="409.10" y="394.20" font-size="4.6" text-anchor="middle" fill="#b5474a" stroke="#b5474a" stroke-width="0.1">Itgav</text>
<text x="387.90" y="400.80" font-size="4.6" text-anchor="middle" fill="#b5474a" stroke="#b5474a" stroke-width="0.1">Cxcl3</text>
<text x="384.20" y="409.40" font-size="4.6" text-anchor="middle" fill="#b5474a" stroke="#b5474a" stroke-width="0.1">Ptpn1</text>
<text x="421.30" y="410.60" font-size="4.6" text-anchor="middle" fill="#b5474a" stroke="#b5474a" stroke-width="0.1">Ccl3</text>
<text x="420.10" y="417.90" font-size="4.6" text-anchor="middle" fill="#b5474a" stroke="#b5474a" stroke-width="0.1">Ccl20</text>
<text x="381.80" y="419.60" font-size="4.6" text-anchor="middle" fill="#b5474a" stroke="#b5474a" stroke-width="0.1">Cdc42ep3</text>
<text x="415.20" y="429.40" font-size="4.6" text-anchor="middle" fill="#b5474a" stroke="#b5474a" stroke-width="0.1">Ccl6</text>
<text x="365.90" y="429.90" font-size="4.6" text-anchor="middle" fill="#b5474a" stroke="#b5474a" stroke-width="0.1">Cxcl16</text>
<text x="386.60" y="429.40" font-size="4.6" text-anchor="middle" fill="#b5474a" stroke="#b5474a" stroke-width="0.1">Edn5</text>
<text x="431.80" y="434.80" font-size="4.6" text-anchor="middle" fill="#b5474a" stroke="#b5474a" stroke-width="0.1">Cdc42ep4</text>
<text x="384.20" y="434.80" font-size="4.6" text-anchor="middle" fill="#b5474a" stroke="#b5474a" stroke-width="0.1">Piezo1</text>
<text x="429.40" y="444.00" font-size="4.6" text-anchor="middle" fill="#b5474a" stroke="#b5474a" stroke-width="0.1">Ptpn23</text>
<text x="450.10" y="447.70" font-size="4.6" text-anchor="middle" fill="#b5474a" stroke="#b5474a" stroke-width="0.1">Pdgfa</text>
<text x="362.20" y="445.70" font-size="4.6" text-anchor="middle" fill="#4a6fa8" stroke="#4a6fa8" stroke-width="0.1">Mfsd2</text>
<text x="390.30" y="437.90" font-size="4.6" text-anchor="middle" fill="#b5474a" stroke="#b5474a" stroke-width="0.1">Cd44</text>
<text x="381.80" y="451.80" font-size="4.6" text-anchor="middle" fill="#b5474a" stroke="#b5474a" stroke-width="0.1">Cdc27</text>
<text x="365.90" y="454.50" font-size="4.6" text-anchor="middle" fill="#b5474a" stroke="#b5474a" stroke-width="0.1">Ccl8</text>
<text x="439.10" y="457.00" font-size="4.6" text-anchor="middle" fill="#b5474a" stroke="#b5474a" stroke-width="0.1">Cxcl14</text>
<text x="342.70" y="456.70" font-size="4.6" text-anchor="middle" fill="#b5474a" stroke="#b5474a" stroke-width="0.1">Nrxn1</text>
<text x="350.00" y="467.20" font-size="4.6" text-anchor="middle" fill="#b5474a" stroke="#b5474a" stroke-width="0.1">Ccl2</text>
<text x="365.90" y="468.40" font-size="4.6" text-anchor="middle" fill="#e060a0" stroke="#e060a0" stroke-width="0.1">Ctsk</text>
<text x="380.50" y="468.40" font-size="4.6" text-anchor="middle" fill="#555" stroke="#555" stroke-width="0.1">Pcgfa</text>
<text x="402.50" y="469.20" font-size="4.6" text-anchor="middle" fill="#555" stroke="#555" stroke-width="0.1">Sp7</text>
<text x="429.40" y="468.40" font-size="4.6" text-anchor="middle" fill="#b5474a" stroke="#b5474a" stroke-width="0.1">Cdc42bpg</text>
<path d="M409.7 294.0h0M425.3 295.7h0M409.7 302.9h0M402.0 322.2h0M404.9 332.1h0M409.7 353.7h0M405.5 357.5h0M414.5 358.6h0M403.2 360.8h0M400.2 366.3h0M406.1 366.3h0M403.8 370.8h0M409.1 372.4h0M401.4 375.2h0M399.0 375.2h0M407.9 377.4h0M404.3 378.5h0" stroke="#ee4a3c" stroke-width="1.5" stroke-linecap="round"/>
<path d="M368.5 384.0h0M362.5 391.7h0M321.2 450.3h0M378.0 407.2h0M375.0 416.0h0M379.8 419.3h0M361.9 422.7h0M341.0 452.5h0M345.1 453.0h0" stroke="#3f7ab8" stroke-width="1.5" stroke-linecap="round"/>
<text x="345.00" y="364.50" font-size="4.3" text-anchor="middle" fill="#4f86c0" stroke="#4f86c0" stroke-width="0.1">997</text>
<text x="436.80" y="365.10" font-size="4.3" text-anchor="middle" fill="#e06055" stroke="#e06055" stroke-width="0.1">1873</text>
<line x1="536.20" y1="285.00" x2="536.20" y2="471.80" stroke="#8c8c8c" stroke-width="0.9"/>
<line x1="536.20" y1="471.80" x2="708.50" y2="471.80" stroke="#8c8c8c" stroke-width="0.9"/>
<line x1="534.20" y1="463.50" x2="536.20" y2="463.50" stroke="#8c8c8c" stroke-width="0.7"/>
<text x="530.40" y="466.10" font-size="7.4" text-anchor="end" fill="#222" stroke="#222" stroke-width="0.14">0</text>
<line x1="534.20" y1="427.60" x2="536.20" y2="427.60" stroke="#8c8c8c" stroke-width="0.7"/>
<text x="530.40" y="430.20" font-size="7.4" text-anchor="end" fill="#222" stroke="#222" stroke-width="0.14">50</text>
<line x1="534.20" y1="391.70" x2="536.20" y2="391.70" stroke="#8c8c8c" stroke-width="0.7"/>
<text x="530.40" y="394.30" font-size="7.4" text-anchor="end" fill="#222" stroke="#222" stroke-width="0.14">100</text>
<line x1="534.20" y1="355.80" x2="536.20" y2="355.80" stroke="#8c8c8c" stroke-width="0.7"/>
<text x="530.40" y="358.40" font-size="7.4" text-anchor="end" fill="#222" stroke="#222" stroke-width="0.14">150</text>
<line x1="534.20" y1="319.90" x2="536.20" y2="319.90" stroke="#8c8c8c" stroke-width="0.7"/>
<text x="530.40" y="322.50" font-size="7.4" text-anchor="end" fill="#222" stroke="#222" stroke-width="0.14">200</text>
<line x1="557.90" y1="471.80" x2="557.90" y2="473.80" stroke="#8c8c8c" stroke-width="0.7"/>
<text x="557.90" y="483.40" font-size="7.4" text-anchor="middle" fill="#222" stroke="#222" stroke-width="0.14">-20</text>
<line x1="590.70" y1="471.80" x2="590.70" y2="473.80" stroke="#8c8c8c" stroke-width="0.7"/>
<text x="590.70" y="483.40" font-size="7.4" text-anchor="middle" fill="#222" stroke="#222" stroke-width="0.14">-10</text>
<line x1="623.50" y1="471.80" x2="623.50" y2="473.80" stroke="#8c8c8c" stroke-width="0.7"/>
<text x="623.50" y="483.40" font-size="7.4" text-anchor="middle" fill="#222" stroke="#222" stroke-width="0.14">0</text>
<line x1="656.30" y1="471.80" x2="656.30" y2="473.80" stroke="#8c8c8c" stroke-width="0.7"/>
<text x="656.30" y="483.40" font-size="7.4" text-anchor="middle" fill="#222" stroke="#222" stroke-width="0.14">10</text>
<line x1="689.10" y1="471.80" x2="689.10" y2="473.80" stroke="#8c8c8c" stroke-width="0.7"/>
<text x="689.10" y="483.40" font-size="7.4" text-anchor="middle" fill="#222" stroke="#222" stroke-width="0.14">20</text>
<line x1="620.20" y1="285.00" x2="620.20" y2="471.80" stroke="#cfcfcf" stroke-width="0.5" stroke-dasharray="1 1"/>
<line x1="626.80" y1="285.00" x2="626.80" y2="471.80" stroke="#cfcfcf" stroke-width="0.5" stroke-dasharray="1 1"/>
<line x1="536.20" y1="462.60" x2="708.50" y2="462.60" stroke="#cfcfcf" stroke-width="0.5" stroke-dasharray="1 1"/>
<text x="623.5" y="494.2" font-size="7.6" text-anchor="middle" fill="#222" stroke="#222" stroke-width="0.12">log<tspan font-size="5" dy="1.8">2</tspan><tspan dy="-1.8">FoldChange</tspan></text>
<text x="623.50" y="507.40" font-size="7.6" text-anchor="middle" fill="#222" stroke="#222" stroke-width="0.14">PLA-vs-CTS</text>
<text x="507.5" y="385.5" font-size="7.6" text-anchor="middle" fill="#222" stroke="#222" stroke-width="0.12" transform="rotate(-90 507.5 385.5)">-log<tspan font-size="5" dy="1.8">10</tspan><tspan dy="-1.8">q-value</tspan></text>
<path d="M648.4 462.8h0M610.8 463.4h0M613.4 462.5h0M616.9 463.2h0M627.9 463.0h0M635.1 462.7h0M628.3 462.0h0M624.3 462.5h0M604.9 463.1h0M622.0 463.4h0M626.7 462.0h0M608.5 462.6h0M634.2 462.2h0M621.5 462.6h0M608.3 463.0h0M616.1 463.3h0M605.5 462.8h0M626.5 462.5h0M618.9 463.1h0M617.8 462.8h0M626.5 463.2h0M616.6 463.3h0M632.4 462.4h0M625.7 461.6h0M618.1 462.9h0M633.1 462.9h0M626.0 462.9h0M609.2 463.3h0M627.3 461.6h0M605.9 463.2h0M598.8 463.0h0M616.2 461.6h0M639.0 463.4h0M650.6 463.2h0M644.2 462.8h0M626.6 461.3h0M633.0 462.5h0M597.2 462.8h0M623.4 461.1h0M612.9 462.8h0M625.1 462.4h0M627.8 463.1h0M649.2 463.3h0M612.1 463.3h0M616.6 462.4h0M622.2 461.5h0M623.3 461.3h0M635.5 462.8h0M610.2 462.2h0M643.7 462.5h0M619.0 462.0h0M612.6 462.0h0M618.1 462.9h0M617.0 462.7h0M625.5 462.2h0M609.0 462.3h0M636.1 463.0h0M633.7 462.5h0M627.9 461.4h0M616.0 463.3h0M610.2 463.1h0M618.1 462.3h0M611.2 462.3h0M625.8 463.5h0M609.1 463.3h0M637.5 462.2h0M628.5 463.1h0M640.1 462.9h0M619.3 461.9h0M625.7 462.4h0M618.2 462.3h0M610.2 462.7h0M616.2 463.3h0M647.0 462.7h0M632.3 462.0h0M613.3 462.3h0M616.0 462.9h0M617.7 462.8h0M614.1 462.9h0M651.0 463.3h0M605.0 462.9h0M633.7 462.5h0M623.2 463.3h0M632.8 463.1h0M621.5 462.3h0M645.9 463.4h0M617.8 462.3h0M624.9 462.4h0M629.1 461.7h0M616.6 463.0h0M639.7 463.4h0M621.7 461.6h0M621.8 463.1h0M634.2 462.0h0M639.3 462.9h0M633.6 462.3h0M622.3 461.3h0M628.0 462.1h0M638.7 462.2h0M651.0 463.4h0M639.2 463.3h0M625.4 461.8h0M605.8 462.8h0M627.0 461.8h0M630.3 462.3h0M609.5 463.0h0M626.9 461.5h0M627.3 463.0h0M614.5 462.3h0M628.0 462.3h0M631.3 462.8h0M614.0 462.3h0M622.6 462.7h0M597.4 462.9h0M655.9 463.5h0M619.7 462.6h0M626.8 463.4h0M602.1 463.1h0M620.4 462.3h0M604.4 463.3h0M620.2 462.8h0M625.7 462.5h0M630.3 462.7h0M609.8 463.1h0M616.7 462.6h0M639.2 463.3h0M630.0 461.5h0M610.0 462.7h0M614.8 462.3h0M615.0 461.7h0M640.3 462.9h0M621.5 463.4h0M629.6 462.7h0M613.8 463.4h0M634.7 461.8h0M625.9 461.8h0M619.1 462.9h0M607.0 463.3h0M620.2 462.2h0M621.0 462.3h0M617.9 463.4h0M622.0 462.4h0M633.5 462.9h0M636.5 462.5h0M623.5 462.2h0M607.8 463.2h0M605.3 463.2h0M649.5 463.3h0M609.1 462.3h0M624.1 462.8h0M625.9 461.6h0M622.9 462.1h0M628.9 462.0h0M619.6 461.4h0M620.7 461.4h0M618.6 461.4h0M640.0 463.4h0M637.3 463.4h0M628.7 461.4h0M605.9 462.7h0M614.4 462.4h0M622.8 461.1h0M609.3 463.2h0M604.8 462.6h0M623.0 461.5h0M619.1 463.1h0M624.3 461.9h0M627.5 463.2h0M623.6 461.5h0M623.5 461.6h0M609.9 462.2h0M617.2 462.2h0M636.6 462.9h0M639.2 462.7h0M598.7 463.2h0M621.6 461.5h0M632.4 462.2h0M628.5 462.2h0M627.4 461.7h0M616.7 461.9h0M627.4 462.2h0M628.4 461.4h0M614.3 462.5h0M615.5 461.9h0M609.4 462.6h0M621.5 461.3h0M630.3 463.0h0M602.6 462.9h0M631.6 461.6h0M607.1 462.2h0M633.0 462.8h0M633.3 463.1h0M590.6 463.3h0M623.3 463.3h0M623.7 461.3h0M634.5 462.7h0M631.3 463.0h0M635.7 463.4h0M594.1 463.1h0M604.2 462.6h0M632.0 462.3h0M635.6 462.2h0M619.9 461.4h0M624.7 462.9h0M622.6 461.6h0M610.7 463.0h0M633.6 462.6h0M630.2 461.9h0M609.5 462.9h0M633.2 462.2h0M634.3 461.8h0M644.5 463.5h0M636.0 462.4h0M608.0 463.3h0M621.4 462.0h0M603.9 462.4h0M638.9 462.2h0M618.2 463.2h0M619.3 462.3h0M637.0 462.0h0M613.0 462.4h0M611.4 461.9h0M608.2 462.6h0M634.5 462.8h0M620.0 463.5h0M629.1 462.8h0M622.0 462.3h0M628.0 462.7h0M641.4 462.7h0M614.5 461.9h0M622.6 462.0h0M629.1 463.0h0M635.5 462.0h0M622.4 462.9h0M636.9 462.4h0M632.5 463.0h0M651.2 463.1h0M609.8 462.0h0M630.0 462.0h0M622.8 461.7h0M622.3 462.2h0M613.1 462.4h0M625.7 462.6h0M620.5 462.8h0M625.0 463.4h0M618.0 463.3h0M632.7 461.9h0M631.7 462.8h0M637.3 463.0h0M633.6 462.5h0M623.3 461.7h0M610.8 462.5h0M635.1 462.0h0M607.9 462.4h0M620.8 461.7h0M636.8 462.3h0M620.8 461.6h0M601.6 463.0h0M621.3 462.4h0M620.8 461.8h0M642.6 463.0h0M612.0 463.1h0M636.1 463.2h0M612.4 463.4h0M634.3 463.3h0M613.1 461.7h0M607.0 462.4h0M613.4 463.0h0M616.5 462.3h0M622.5 462.4h0M624.9 463.0h0M618.0 462.7h0M635.2 461.9h0M623.6 461.3h0M632.7 463.1h0M643.1 463.2h0M617.3 463.1h0M616.2 463.3h0M626.8 461.4h0M630.2 463.4h0M615.8 462.1h0M621.5 463.5h0M610.5 463.5h0M637.1 462.9h0M617.4 462.2h0M635.2 463.4h0M629.6 461.9h0M616.7 463.2h0M629.8 463.3h0M627.7 462.9h0M626.6 461.5h0M627.3 462.3h0M609.8 462.2h0M623.8 463.4h0M639.8 463.5h0M628.3 462.4h0M607.7 463.5h0M607.7 462.9h0M617.7 463.4h0M637.5 462.3h0M637.5 462.5h0M619.6 461.6h0M635.3 462.7h0M605.8 463.4h0M629.6 462.0h0M602.2 463.2h0M639.3 463.1h0M621.0 461.7h0M624.9 461.3h0M631.9 463.4h0M631.4 462.4h0M615.1 462.2h0M630.1 463.3h0M618.9 462.4h0M625.5 463.2h0M635.4 463.3h0M620.1 462.9h0M622.0 462.6h0M640.7 462.3h0M635.2 463.4h0M626.0 461.8h0M616.8 463.4h0M622.7 462.9h0M596.9 463.4h0M611.2 462.2h0M642.7 463.3h0M638.9 462.1h0M612.6 461.8h0M633.6 463.5h0M639.0 463.2h0M615.4 463.1h0M621.6 462.6h0M598.7 463.0h0M630.0 462.4h0M622.1 461.6h0M616.2 462.0h0M628.4 462.3h0M612.0 463.4h0M607.6 462.2h0M627.8 461.5h0M613.2 462.0h0M639.8 462.2h0M619.2 461.6h0M614.2 463.5h0M611.9 462.0h0M618.3 462.2h0M625.6 463.4h0M630.1 462.0h0M625.8 463.0h0M612.6 462.5h0M628.2 462.7h0M636.7 463.0h0M620.4 462.7h0M615.4 462.4h0M629.6 462.9h0M621.2 462.9h0M618.2 461.7h0M635.7 463.2h0M621.1 462.2h0M611.5 462.7h0M617.7 462.2h0M619.1 462.6h0M626.8 462.6h0M608.4 462.1h0M624.3 463.2h0M625.2 461.8h0M639.2 463.4h0M633.7 463.0h0M621.8 462.5h0M621.9 461.1h0M621.9 461.3h0M612.2 462.5h0M627.4 462.6h0M613.7 462.2h0M624.7 463.1h0M605.9 463.0h0M620.0 463.2h0M631.1 462.0h0M630.3 463.5h0M631.8 462.1h0M620.2 461.3h0M620.2 461.2h0M623.5 461.7h0M602.7 463.5h0M622.3 463.4h0M631.9 462.3h0M614.4 462.1h0M617.6 463.0h0M622.4 462.9h0M629.1 461.7h0M604.8 462.5h0M624.7 461.9h0M604.2 463.4h0M646.5 463.1h0M636.5 462.9h0M612.0 462.1h0M624.4 462.8h0M605.1 462.7h0M611.2 462.6h0M605.3 462.3h0M622.0 462.1h0M615.8 463.1h0M616.0 461.5h0M616.6 462.8h0M628.9 462.7h0M602.4 462.9h0M624.7 462.4h0M634.6 462.3h0M616.7 462.2h0M623.2 462.2h0M611.2 462.1h0M621.5 461.9h0M616.4 462.7h0M612.0 462.8h0M618.2 463.4h0M612.4 463.1h0M626.9 462.7h0M624.7 462.6h0M616.1 463.0h0M625.6 462.4h0M621.3 462.3h0M632.1 462.0h0M625.3 462.4h0M624.2 461.3h0M616.1 461.6h0M615.4 462.2h0M633.6 463.4h0M603.9 463.3h0M626.4 461.4h0M612.4 463.4h0M638.3 462.9h0M617.4 461.8h0M611.1 463.2h0M620.7 461.7h0M629.4 463.3h0M631.2 463.5h0M622.5 462.4h0M626.8 462.7h0M636.2 463.0h0M625.0 462.9h0M613.5 463.4h0M620.9 461.3h0M631.8 462.2h0M622.0 462.1h0M623.6 462.8h0M637.8 463.1h0M620.2 463.0h0M624.5 461.1h0M624.8 461.1h0M613.3 462.9h0M629.5 461.6h0M615.4 462.6h0M627.8 462.6h0M619.0 462.7h0M628.1 463.2h0M601.0 463.1h0M625.5 463.2h0M627.2 463.3h0M619.6 461.5h0M635.0 462.4h0M624.2 462.7h0M613.2 462.8h0M623.7 462.8h0M625.8 461.3h0M636.4 463.1h0M627.8 461.8h0M636.8 462.4h0M626.8 462.4h0M638.4 463.5h0M642.4 462.4h0M633.4 461.9h0M601.8 463.1h0M614.4 462.4h0M614.3 462.8h0M629.5 462.3h0M615.7 463.4h0M645.8 463.2h0M632.1 462.8h0M641.8 463.3h0M621.8 462.2h0M608.0 463.1h0M625.2 462.8h0M638.0 462.7h0M618.2 462.0h0M623.6 461.5h0M616.3 462.5h0M629.4 461.4h0M631.6 461.9h0M634.6 462.4h0M615.8 462.7h0M622.1 462.6h0M609.3 462.0h0M620.2 461.6h0M623.5 463.3h0M621.1 463.0h0M635.9 462.8h0M610.4 462.5h0M628.7 462.0h0M631.5 463.3h0M626.1 462.7h0M601.9 463.5h0M629.5 461.8h0M634.0 462.0h0M639.2 462.1h0M620.1 462.8h0M621.7 462.5h0M609.7 462.1h0M596.6 463.5h0M635.0 463.1h0M635.6 462.5h0M609.1 463.0h0M622.7 461.3h0M620.6 463.1h0M634.0 463.0h0M634.5 463.5h0M635.7 463.1h0M631.5 462.8h0M602.5 462.7h0M629.6 462.2h0M608.0 462.4h0M619.1 462.9h0M632.8 463.1h0M609.3 463.2h0M622.3 463.3h0M631.4 463.2h0M624.7 462.0h0M628.9 462.1h0M610.4 462.8h0M640.5 462.5h0M632.1 463.2h0M617.0 462.0h0M639.7 463.3h0M614.9 462.5h0M630.9 461.9h0M630.3 461.6h0M632.4 463.2h0M632.5 462.3h0M641.6 462.9h0M619.5 462.1h0M624.6 462.9h0M598.9 463.1h0M633.0 462.8h0M617.9 462.2h0M631.0 462.1h0M624.3 462.5h0M624.2 463.1h0M618.0 462.4h0M619.5 462.4h0M633.4 463.0h0M621.8 462.7h0M618.9 463.0h0M616.3 462.1h0M619.2 461.6h0M622.7 463.2h0M619.4 462.5h0M637.3 462.3h0M633.5 463.2h0M636.9 463.3h0M617.2 463.3h0M604.7 463.5h0M628.1 463.4h0M637.8 462.1h0M642.3 462.5h0M625.7 462.6h0M626.3 461.7h0M617.0 462.3h0M635.6 462.2h0M607.1 462.3h0M623.4 463.1h0M626.4 461.8h0M610.2 462.7h0M622.0 463.4h0M636.8 462.6h0M616.8 462.5h0M633.2 462.5h0M614.9 462.0h0M636.3 462.5h0M640.7 463.1h0M631.7 462.9h0M634.6 463.5h0M632.1 461.8h0M606.5 462.5h0M602.4 463.2h0M637.7 463.1h0M606.6 463.4h0M626.9 463.4h0M625.2 461.7h0M622.7 462.3h0M645.5 463.0h0M617.8 462.3h0M620.6 463.5h0M615.1 461.6h0M603.7 462.9h0M617.9 463.3h0M630.2 461.5h0M628.6 461.7h0M620.2 461.3h0M635.5 462.7h0M617.8 463.1h0M636.4 462.6h0" stroke="#cfd6de" stroke-width="2.3" stroke-linecap="round"/>
<path d="M616.1 462.1h0M616.5 463.4h0M623.5 460.4h0M617.0 461.8h0M624.9 462.1h0M618.3 460.6h0M625.0 461.2h0M620.4 457.6h0M619.1 456.6h0M618.2 462.2h0M620.6 455.8h0M623.7 459.7h0M615.3 462.3h0M625.2 463.1h0M617.4 462.5h0M616.7 463.0h0M620.7 456.7h0M620.3 458.5h0M622.7 457.6h0M625.8 461.8h0M620.7 463.0h0M618.5 462.3h0M625.7 461.5h0M616.7 462.3h0M619.9 458.2h0M625.8 462.7h0M622.9 460.6h0M625.1 461.7h0M623.6 460.1h0M623.1 458.5h0M619.5 459.9h0M622.0 457.6h0M621.7 460.3h0M620.6 458.6h0M619.4 461.0h0M616.0 463.3h0M617.0 463.1h0M619.3 456.1h0M619.6 456.1h0M622.8 456.8h0M622.4 456.0h0M624.0 463.1h0M615.3 462.0h0M619.0 458.8h0M625.6 460.8h0M621.0 460.2h0M621.7 457.4h0M616.3 461.0h0M615.3 462.9h0M624.4 459.4h0M624.6 459.8h0M620.2 459.7h0M620.5 458.6h0M617.7 461.6h0M620.5 463.3h0M621.5 462.9h0M621.4 462.9h0M617.3 461.4h0M623.5 457.6h0M623.6 458.7h0M620.0 459.0h0M621.2 454.3h0M624.5 463.4h0M622.8 458.4h0M624.9 459.9h0M619.6 460.1h0M617.8 462.5h0M624.8 460.5h0M624.3 461.9h0M623.6 463.4h0M620.7 460.4h0M618.6 457.1h0M615.3 462.0h0M622.5 456.0h0M619.7 456.1h0M621.3 458.1h0M622.1 461.4h0M621.9 462.0h0M615.7 462.0h0M615.6 461.7h0M617.8 458.7h0M618.6 458.8h0M619.0 458.6h0M617.3 462.5h0M618.2 457.7h0M625.1 462.1h0M625.7 461.0h0M616.8 461.1h0M617.6 461.8h0M618.6 462.0h0M621.6 461.6h0M618.9 462.5h0M618.2 458.9h0M618.4 457.4h0M616.5 463.4h0M618.0 460.6h0M618.7 460.8h0M623.4 459.4h0M617.9 458.7h0M619.2 459.2h0M619.2 457.8h0M621.6 459.0h0M617.2 463.2h0M618.1 458.5h0M625.3 462.2h0M616.1 463.0h0M625.4 463.1h0M619.8 462.9h0M620.7 460.1h0M625.9 461.3h0M620.7 455.3h0M622.6 460.1h0M623.6 463.3h0M617.1 460.0h0M620.9 456.7h0M621.8 456.3h0M618.0 462.5h0M618.4 458.0h0M620.8 456.0h0M623.7 461.5h0" stroke="#8cc6ee" stroke-width="1.6" stroke-linecap="round"/>
<path d="M626.9 456.7h0M626.2 459.0h0M626.0 459.6h0M625.2 458.6h0M627.3 461.3h0M625.9 460.3h0M625.5 455.5h0M626.9 462.8h0M626.2 460.5h0M625.7 462.5h0M626.5 460.4h0M626.7 462.5h0M626.2 459.7h0M626.6 463.0h0M627.1 459.0h0M625.3 462.1h0M627.2 463.4h0M626.4 460.9h0M625.6 455.2h0M624.9 461.9h0M624.5 460.3h0M624.7 463.1h0M626.7 455.4h0M625.0 458.3h0M627.6 462.0h0M625.0 459.1h0M624.7 458.5h0M627.2 455.9h0M624.9 458.7h0M626.1 459.6h0M625.1 458.3h0M625.0 457.6h0M624.8 463.5h0M627.3 460.6h0M625.8 459.1h0M626.1 463.3h0M627.2 455.1h0M625.5 461.0h0M625.4 457.8h0M626.2 458.7h0M626.5 461.3h0M626.2 458.9h0M626.5 458.0h0M627.7 462.4h0M626.2 458.4h0M625.0 460.3h0M625.3 458.8h0M626.8 461.2h0M626.0 461.7h0M625.8 455.0h0M627.4 460.4h0M625.6 461.9h0M627.4 455.5h0M624.6 459.6h0M625.8 461.4h0M626.7 456.4h0M625.7 455.0h0M626.5 461.4h0M626.7 462.4h0M625.8 458.5h0M625.1 462.6h0M625.7 456.1h0M625.2 459.4h0M626.5 461.9h0M625.7 456.0h0M627.1 458.7h0M626.5 463.4h0M625.3 460.4h0M624.7 459.6h0M626.5 457.8h0M626.5 459.1h0M627.2 461.4h0M625.5 461.5h0M625.5 456.0h0M626.0 455.6h0M626.1 460.2h0M626.5 463.2h0M626.1 460.5h0M626.1 460.0h0M626.7 457.9h0M624.5 459.0h0M625.8 460.3h0M625.1 456.5h0M625.1 461.3h0M625.6 455.6h0M626.1 462.2h0M625.2 460.9h0M627.2 463.5h0M625.3 457.3h0M624.8 458.5h0" stroke="#f6b9c2" stroke-width="1.6" stroke-linecap="round"/>
<path d="M617.5 455.7h0M616.0 457.8h0M611.8 457.4h0M612.5 455.2h0M617.8 459.6h0M612.4 456.6h0M612.8 452.8h0M615.8 460.2h0M608.0 455.0h0M616.7 461.1h0M618.3 460.8h0M619.8 453.2h0M617.5 454.4h0M614.7 444.9h0M618.7 459.4h0M619.4 456.5h0M619.5 462.2h0M611.7 459.3h0M619.6 453.0h0M616.7 439.4h0M617.3 462.3h0M614.9 456.2h0M613.0 460.3h0M617.9 447.6h0M614.6 462.2h0M619.9 459.5h0M619.8 450.5h0M617.9 453.0h0M617.6 458.5h0M619.5 461.1h0M614.0 445.9h0M618.1 460.9h0M619.8 446.1h0M617.3 453.2h0M617.4 452.7h0M616.4 457.5h0M616.3 457.4h0M617.8 462.6h0M616.3 447.8h0M612.8 457.8h0M617.6 460.0h0M616.2 457.5h0M618.2 460.9h0M610.9 459.1h0M613.5 450.8h0M617.5 441.9h0M617.2 461.9h0M615.0 462.2h0M614.2 457.6h0M619.3 462.3h0M615.2 455.9h0M615.7 460.9h0M618.3 460.2h0M614.9 458.1h0M616.8 460.3h0M615.3 433.1h0M619.9 459.8h0M614.6 462.4h0M616.3 450.9h0M615.1 459.7h0M616.8 462.3h0M615.0 458.4h0M615.1 454.4h0M615.6 453.9h0M615.9 458.4h0M613.8 461.0h0M619.3 445.3h0M617.2 452.8h0M613.5 459.1h0M619.6 462.3h0M614.4 462.4h0M619.1 461.6h0M619.7 451.1h0M616.8 459.7h0M617.8 462.5h0M616.6 456.2h0M618.7 455.6h0M614.8 458.0h0M619.1 452.5h0M617.7 449.4h0M617.0 443.8h0M615.0 461.6h0M612.6 456.5h0M619.8 457.7h0M619.0 461.1h0M616.1 460.4h0M618.2 461.8h0M615.8 452.0h0M616.0 456.4h0M614.8 454.1h0M616.9 461.1h0M619.0 461.9h0M613.8 456.8h0M618.7 457.2h0M615.3 462.3h0M617.9 455.9h0M618.4 446.2h0M619.3 458.4h0M616.9 460.3h0M619.7 458.6h0M615.7 456.4h0M620.0 456.3h0M616.4 461.7h0M614.3 462.3h0M617.5 452.6h0M619.7 460.4h0M614.3 453.3h0M616.2 442.6h0M616.3 453.0h0M614.9 456.3h0M614.3 462.1h0M617.2 453.7h0M610.6 456.1h0M616.1 446.3h0M617.3 458.6h0M616.7 459.1h0M613.3 461.5h0M615.6 461.1h0M617.0 459.5h0M614.3 460.4h0M616.9 461.4h0M618.2 453.4h0M613.8 462.4h0M618.2 439.2h0M617.8 461.5h0M615.2 460.3h0M619.1 439.3h0M615.0 461.9h0M613.5 460.3h0M613.5 448.2h0M619.0 460.3h0M613.5 458.3h0M614.3 460.3h0M614.0 462.1h0M618.7 460.2h0M613.2 459.1h0M617.6 450.2h0M616.5 459.6h0M611.4 462.2h0M619.2 459.8h0M617.1 459.2h0M614.5 459.3h0M612.4 460.8h0M615.1 459.3h0M618.0 460.1h0M619.9 459.9h0M619.4 459.1h0M617.8 452.0h0M617.9 460.1h0M618.0 457.6h0M617.4 459.1h0M619.0 457.3h0M615.9 449.3h0M611.4 461.5h0M619.4 462.4h0M618.9 459.7h0M614.6 446.1h0M617.8 461.8h0M613.5 461.7h0M618.6 455.9h0M618.9 456.4h0M618.9 461.7h0M617.7 456.3h0M616.2 460.4h0M618.6 451.2h0M618.8 453.4h0M616.0 462.0h0M615.4 456.9h0M619.3 461.8h0M609.2 462.4h0M615.0 457.0h0M616.0 462.0h0M613.6 462.1h0M617.6 453.4h0M618.2 458.3h0M618.9 459.5h0M618.4 452.2h0M614.8 454.4h0M617.2 435.5h0M620.0 460.4h0M614.5 461.4h0M614.2 462.3h0M618.4 461.6h0M613.3 460.5h0M616.0 451.6h0M616.3 458.8h0M617.3 459.5h0M613.3 460.8h0M618.0 461.8h0M617.5 461.6h0M618.0 461.4h0M619.8 455.7h0M617.0 462.4h0M613.6 460.5h0M616.9 458.7h0M615.8 454.6h0M612.4 462.2h0M616.8 457.3h0M616.4 448.9h0M618.6 461.0h0M608.8 462.5h0M615.6 457.3h0M616.6 452.6h0M615.4 461.8h0M614.4 461.8h0M617.0 461.4h0M614.3 451.0h0M615.3 461.4h0M616.0 462.4h0M615.8 458.2h0M619.0 454.0h0M614.6 461.9h0M618.8 458.1h0M619.4 454.9h0M619.2 450.8h0M613.3 458.7h0M619.5 461.9h0M619.7 454.6h0M619.8 456.8h0M619.6 448.4h0M616.9 453.7h0M609.7 461.4h0M616.9 460.6h0M612.5 462.4h0M613.7 456.0h0M619.4 461.5h0M616.7 460.9h0M617.9 461.0h0M615.9 451.4h0M614.2 462.1h0M617.5 462.1h0M617.3 456.5h0M619.2 442.1h0M618.5 462.3h0M615.8 461.5h0M619.7 438.1h0M618.7 460.3h0M619.5 457.5h0M613.8 457.6h0M617.6 458.9h0M618.0 458.9h0M619.8 460.3h0M615.1 458.6h0M619.4 453.7h0M613.7 462.3h0M619.6 461.6h0M619.1 462.4h0M619.1 445.1h0M614.1 460.8h0M616.2 461.2h0M618.3 451.0h0M619.9 462.2h0M615.5 457.8h0M619.4 457.2h0M614.0 461.3h0M613.9 460.9h0M617.2 457.5h0M619.1 458.9h0M612.5 460.0h0M617.8 460.4h0M616.6 460.0h0M620.0 456.5h0M618.4 450.2h0M609.9 456.2h0M617.4 458.8h0M606.0 459.5h0M615.7 459.2h0M614.1 461.1h0M613.3 456.1h0M619.9 462.0h0M615.1 450.8h0M616.8 460.5h0M614.2 451.3h0M616.5 458.0h0M619.2 460.4h0M616.3 461.8h0M614.0 452.8h0M615.5 457.7h0M615.1 453.3h0M618.6 462.1h0M619.5 439.5h0M617.7 458.7h0M619.1 453.0h0M616.5 453.9h0M608.5 438.3h0M611.2 454.4h0M614.5 443.0h0M611.4 457.8h0M616.2 460.4h0M615.5 461.9h0M618.7 458.8h0M616.1 458.1h0M614.5 459.1h0M617.3 458.8h0M618.4 459.5h0M614.2 459.8h0M619.7 460.1h0M613.9 461.7h0M619.5 455.3h0M619.2 452.0h0M619.1 460.1h0M619.6 461.1h0M615.2 451.5h0M616.7 452.0h0M618.8 455.0h0M617.0 460.6h0M615.9 462.5h0M614.1 457.0h0M618.1 461.1h0M615.7 461.3h0M615.4 461.2h0M619.0 456.6h0M616.4 457.5h0M616.7 452.7h0M616.5 457.8h0M616.9 461.6h0M613.9 461.0h0M611.0 458.1h0M619.6 460.8h0M618.0 459.4h0M619.8 460.6h0M610.5 448.6h0M615.0 459.0h0M612.3 462.5h0M619.1 461.8h0M618.7 462.3h0M619.8 456.3h0M615.1 461.3h0M614.1 461.9h0M616.4 455.7h0M619.5 454.0h0M619.7 458.2h0M617.2 461.6h0M617.9 457.7h0M615.6 453.5h0M608.1 449.6h0M618.3 459.8h0M616.3 461.8h0M614.3 460.5h0M619.3 461.5h0M617.0 458.7h0M619.5 436.5h0M619.3 460.8h0M616.9 461.3h0M619.7 448.6h0M619.7 454.1h0M618.4 461.9h0M614.8 455.6h0M611.2 459.5h0M613.2 456.8h0M611.1 452.7h0M618.0 457.1h0M616.4 454.5h0M616.3 460.4h0M614.6 447.5h0M617.9 461.6h0M615.0 460.5h0M619.9 457.9h0M616.0 460.8h0M620.0 458.4h0M617.6 462.3h0M618.0 459.1h0M619.0 449.5h0M618.0 461.7h0M619.0 453.0h0M619.2 461.4h0M614.0 461.0h0M617.6 460.1h0M616.9 450.2h0M618.5 459.4h0M615.8 458.0h0M615.4 454.7h0M619.3 459.1h0M617.6 452.3h0M615.3 449.6h0M619.3 451.9h0M613.6 456.1h0M618.0 459.5h0M619.3 456.4h0M611.6 441.9h0M619.4 461.2h0M610.4 454.7h0M612.6 457.1h0M616.9 460.6h0M619.1 455.0h0M617.4 456.8h0M619.8 461.7h0M611.5 450.6h0M619.9 443.3h0M612.4 457.4h0M619.1 446.0h0M615.2 458.6h0M619.3 459.5h0M619.9 461.8h0M614.9 462.1h0M619.8 462.0h0M617.2 460.2h0M619.4 455.1h0M611.8 458.9h0M618.2 462.1h0M617.0 456.3h0M617.9 458.4h0M619.5 455.2h0M618.5 460.9h0M615.8 457.7h0M618.8 446.3h0M617.4 460.7h0M611.6 456.7h0M616.8 459.5h0M613.7 447.9h0M611.3 458.9h0M619.0 455.3h0M619.5 458.1h0M617.0 456.9h0M611.8 451.3h0M619.8 459.3h0M616.4 461.6h0M618.2 452.5h0M619.3 455.1h0M613.7 459.0h0M617.0 459.0h0M617.3 446.0h0M617.8 462.4h0M613.9 461.0h0M610.3 450.8h0M619.4 453.7h0M616.4 460.7h0M615.8 462.0h0M619.5 459.3h0M612.2 457.6h0M617.8 462.1h0M616.9 454.7h0M619.4 460.6h0M616.6 436.8h0M619.0 462.1h0M615.1 447.7h0M619.8 459.9h0M614.8 461.6h0M616.9 459.0h0M614.7 460.0h0M617.2 452.5h0M619.3 457.1h0M617.3 461.8h0M617.1 458.6h0M617.3 439.1h0M619.1 455.6h0M615.9 456.7h0M615.9 462.0h0M614.4 460.5h0M619.5 459.8h0M616.5 449.4h0M615.1 461.3h0M614.4 462.0h0M613.5 462.1h0M616.9 461.6h0M618.7 459.9h0M616.9 457.6h0M619.9 455.7h0M619.1 438.9h0M617.9 459.3h0M618.2 455.1h0M619.1 459.3h0M613.5 462.1h0M617.3 454.5h0M604.6 451.7h0M616.6 456.9h0M613.4 459.4h0M616.5 460.6h0M618.2 459.6h0M619.9 462.1h0M616.9 460.9h0M616.6 443.3h0M617.9 458.4h0M615.1 459.6h0M617.4 452.2h0M609.9 462.2h0M617.4 448.6h0M616.5 455.8h0M615.4 441.5h0M615.2 462.1h0M609.9 462.3h0M594.1 462.5h0M608.1 461.8h0M608.2 460.5h0M594.8 455.3h0M596.6 456.3h0M608.6 460.9h0M595.3 462.4h0M597.8 462.1h0M606.3 462.1h0M601.1 462.4h0M607.8 461.7h0M594.4 459.7h0M605.3 461.1h0M606.4 461.7h0M607.2 459.0h0M601.7 459.5h0M598.8 460.9h0M604.2 462.4h0M603.8 459.0h0M610.1 443.5h0M600.7 460.6h0M595.6 454.2h0M594.8 460.4h0M601.4 459.0h0M609.2 456.8h0M609.9 457.4h0M594.3 462.3h0M601.9 460.2h0M608.0 458.9h0M606.3 461.2h0M597.3 462.0h0M606.3 461.7h0M595.2 460.2h0M603.5 460.1h0M601.8 462.0h0M609.9 461.1h0M603.3 460.3h0M594.1 462.1h0M599.6 456.2h0M594.7 456.2h0M603.9 461.4h0M606.1 458.1h0M606.8 462.5h0M608.1 461.6h0M607.8 461.1h0M608.1 462.4h0M602.2 458.7h0M599.2 458.8h0M596.4 460.8h0M594.3 459.7h0M598.4 460.1h0M595.4 461.4h0M603.2 462.2h0M598.9 460.1h0M603.1 460.6h0M594.7 459.6h0M601.9 460.5h0M594.4 457.4h0M594.6 460.9h0M600.8 461.9h0M595.6 462.0h0M607.3 462.2h0M600.7 457.9h0M598.8 458.5h0M595.9 461.7h0M600.2 462.4h0M596.6 460.7h0M600.4 462.6h0M598.1 461.9h0" stroke="#3f7ab8" stroke-width="1.6" stroke-linecap="round"/>
<path d="M632.8 459.7h0M630.6 453.1h0M631.6 459.5h0M634.0 449.8h0M628.5 462.1h0M632.4 459.7h0M641.9 460.7h0M627.5 459.5h0M627.4 455.0h0M633.0 460.9h0M643.9 455.6h0M627.8 461.8h0M639.7 445.1h0M632.9 457.7h0M627.4 452.9h0M631.1 461.7h0M630.3 461.5h0M627.2 451.8h0M632.8 460.2h0M631.5 461.4h0M629.4 460.8h0M628.5 462.3h0M627.9 457.0h0M630.0 456.3h0M630.1 453.7h0M627.9 453.7h0M633.2 454.3h0M632.0 453.2h0M635.4 452.9h0M629.9 448.6h0M631.0 460.2h0M631.4 458.6h0M631.3 453.6h0M630.5 456.3h0M634.8 462.3h0M630.1 455.5h0M632.1 438.1h0M627.5 461.2h0M628.9 455.5h0M641.7 461.1h0M628.6 457.8h0M638.1 461.0h0M628.0 459.8h0M633.4 425.4h0M633.1 460.6h0M632.9 462.4h0M638.9 459.9h0M632.4 456.5h0M629.5 460.4h0M629.5 457.5h0M632.7 459.1h0M628.3 459.7h0M628.9 460.8h0M629.3 462.3h0M630.3 455.4h0M630.4 462.4h0M627.1 460.5h0M629.7 460.2h0M636.4 449.7h0M629.8 455.8h0M633.9 460.2h0M636.6 460.4h0M632.8 454.5h0M629.6 462.2h0M634.8 459.6h0M628.4 461.1h0M635.3 462.3h0M630.9 460.9h0M632.5 457.1h0M627.4 460.6h0M627.2 459.9h0M630.8 452.8h0M630.7 459.4h0M627.7 461.7h0M629.0 451.6h0M633.5 453.6h0M637.8 460.9h0M631.6 462.4h0M636.0 462.1h0M634.0 461.4h0M628.5 461.0h0M636.4 461.8h0M630.1 454.2h0M627.9 447.9h0M631.3 462.0h0M629.8 460.1h0M627.3 461.9h0M631.0 456.6h0M627.9 456.5h0M630.7 459.8h0M631.4 461.3h0M629.7 442.3h0M632.9 450.5h0M632.1 457.1h0M630.6 462.1h0M628.5 462.4h0M633.3 457.4h0M632.0 460.4h0M628.6 459.1h0M627.7 445.5h0M635.7 456.9h0M632.6 456.8h0M628.5 459.5h0M629.0 459.9h0M638.4 449.5h0M634.4 455.4h0M627.9 458.5h0M630.7 462.4h0M639.9 460.9h0M629.6 459.0h0M630.3 456.1h0M628.1 458.4h0M629.6 454.2h0M635.8 456.2h0M627.6 461.7h0M645.0 459.7h0M636.7 460.5h0M631.7 461.6h0M632.5 452.7h0M636.0 448.4h0M632.8 459.3h0M634.0 458.7h0M632.9 461.2h0M632.2 450.6h0M628.4 462.5h0M635.9 454.9h0M633.6 451.1h0M630.5 459.4h0M639.7 461.6h0M628.2 462.0h0M628.1 452.0h0M630.3 457.4h0M632.3 458.5h0M634.2 457.4h0M628.8 462.1h0M634.8 461.4h0M633.9 460.3h0M632.3 460.5h0M630.9 462.5h0M627.8 462.5h0M628.1 459.0h0M633.8 460.8h0M633.3 455.9h0M630.0 457.9h0M627.4 462.4h0M628.8 461.5h0M630.0 458.4h0M633.2 462.5h0M630.4 460.7h0M629.0 462.2h0M636.5 462.3h0M631.8 452.4h0M631.0 459.8h0M633.4 461.9h0M628.4 460.9h0M630.9 461.9h0M627.8 458.1h0M629.4 462.3h0M635.8 459.8h0M637.7 461.9h0M636.1 457.4h0M636.3 460.2h0M631.0 448.3h0M631.2 462.5h0M631.1 453.2h0M629.5 461.1h0M628.7 459.8h0M629.2 459.5h0M630.2 462.3h0M631.7 453.2h0M628.0 456.4h0M634.0 459.9h0M636.6 458.2h0M632.8 462.4h0M628.6 454.5h0M629.3 460.1h0M631.9 462.0h0M628.6 460.4h0M634.3 459.9h0M635.8 451.0h0M630.6 438.3h0M629.2 461.3h0M628.2 456.4h0M629.1 459.2h0M628.6 462.5h0M628.2 458.1h0M629.4 461.5h0M628.1 453.7h0M633.2 457.1h0M632.4 456.4h0M631.8 457.8h0M627.2 460.8h0M629.0 450.8h0M627.5 460.4h0M630.5 443.6h0M636.4 462.5h0M633.9 460.6h0M632.6 454.7h0M629.8 447.4h0M635.4 462.5h0M639.0 455.9h0M633.4 456.5h0M636.3 456.4h0M629.6 459.5h0M628.2 460.4h0M627.6 455.4h0M638.8 461.3h0M632.7 451.9h0M631.9 441.5h0M633.0 450.1h0M632.1 462.1h0M637.6 457.7h0M631.5 450.8h0M629.5 456.4h0M627.9 449.9h0M630.1 455.8h0M628.5 461.1h0M632.9 457.0h0M632.6 453.5h0M628.8 460.0h0M640.0 461.7h0M636.3 460.1h0M638.8 462.2h0M629.1 453.9h0M627.9 455.9h0M627.5 457.0h0M632.9 461.7h0M628.6 462.2h0M634.7 460.1h0M629.5 460.2h0M628.8 457.8h0M629.8 459.0h0M634.2 457.6h0M629.6 461.5h0M630.6 462.0h0M631.9 462.5h0M628.1 454.7h0M627.7 454.9h0M629.7 456.0h0M629.3 459.2h0M631.7 456.8h0M631.0 457.6h0M630.1 449.7h0M630.5 457.1h0M635.5 449.3h0M634.8 461.8h0M638.2 456.9h0M628.5 462.0h0M630.1 451.7h0M629.8 460.2h0M628.0 460.7h0M630.8 457.8h0M633.8 452.2h0M630.2 461.9h0M630.2 458.8h0M629.8 461.1h0M628.7 458.8h0M629.3 455.2h0M630.8 456.3h0M630.7 444.3h0M630.9 458.5h0M631.2 454.9h0M634.0 453.5h0M634.2 458.9h0M630.6 449.5h0M627.5 460.4h0M631.9 460.4h0M628.8 447.4h0M628.3 448.1h0M631.7 458.1h0M637.1 457.3h0M633.1 461.6h0M629.5 461.0h0M627.5 451.9h0M639.1 458.4h0M630.2 452.6h0M637.8 461.5h0M636.4 459.7h0M628.8 462.4h0M636.0 454.9h0M633.1 462.0h0M628.8 456.7h0M633.4 462.3h0M627.8 462.2h0M629.9 461.0h0M630.4 460.7h0M641.3 458.6h0M631.8 458.9h0M635.7 456.4h0M629.3 453.9h0M634.3 462.4h0M633.2 461.1h0M630.5 462.3h0M630.5 455.3h0M631.8 454.9h0M630.3 457.2h0M635.7 460.5h0M633.7 456.5h0M638.1 454.7h0M628.4 461.0h0M632.2 459.5h0M635.6 462.0h0M633.1 461.7h0M631.4 461.1h0M632.1 455.0h0M632.3 461.7h0M630.4 462.2h0M627.8 447.9h0M636.3 459.3h0M629.4 462.4h0M637.5 457.6h0M628.7 456.9h0M630.8 456.9h0M633.3 457.6h0M627.4 459.5h0M629.5 459.2h0M637.1 452.0h0M629.1 460.9h0M632.6 462.4h0M631.1 456.4h0M633.0 462.3h0M628.5 460.8h0M628.3 461.7h0M635.9 462.2h0M630.6 462.2h0M634.7 454.8h0M631.7 459.8h0M627.8 456.9h0M631.4 460.6h0M629.2 459.0h0M632.5 454.1h0M637.5 458.5h0M631.5 459.5h0M630.2 462.1h0M631.7 457.1h0M630.8 461.2h0M632.9 442.2h0M627.1 454.2h0M635.1 459.2h0M631.5 462.2h0M634.2 460.0h0M631.3 451.8h0M627.6 459.7h0M631.5 447.4h0M629.3 459.9h0M629.0 461.6h0M627.2 460.9h0M633.8 444.0h0M633.2 457.5h0M629.2 461.9h0M629.7 458.0h0M633.1 462.1h0M635.7 460.6h0M627.7 459.9h0M628.7 459.7h0M628.4 457.7h0M631.3 446.2h0M630.9 458.7h0M629.6 460.5h0M630.4 459.6h0M630.7 457.7h0M632.3 456.1h0M628.6 462.4h0M630.5 459.2h0M630.0 459.2h0M628.3 459.7h0M631.0 460.1h0M629.8 462.3h0M631.2 461.8h0M631.8 446.3h0M637.6 454.3h0M638.9 459.5h0M632.8 460.5h0M628.8 461.1h0M630.4 454.4h0M630.8 457.3h0M639.2 460.9h0M636.3 458.7h0M629.0 454.1h0M629.1 462.3h0M629.7 445.1h0M637.3 459.8h0M634.1 451.6h0M630.4 459.0h0M628.2 457.8h0M635.9 438.7h0M628.4 461.8h0M632.8 462.5h0M635.7 450.3h0M628.2 458.0h0M634.5 455.0h0M632.8 462.0h0M637.7 461.7h0M633.1 460.6h0M627.9 457.2h0M632.4 462.0h0M630.2 456.5h0M628.6 461.4h0M634.0 452.6h0M627.9 460.6h0M637.4 448.0h0M629.6 456.8h0M629.5 457.2h0M631.8 461.5h0M628.3 448.8h0M630.6 452.8h0M634.3 458.6h0M634.5 460.1h0M628.7 455.4h0M628.8 452.0h0M638.9 459.5h0M633.2 460.9h0M628.0 455.2h0M629.4 455.2h0M627.9 453.0h0M628.8 458.1h0M630.2 461.4h0M635.4 458.4h0M636.0 457.6h0M628.1 460.3h0M630.1 436.1h0M628.1 457.2h0M629.1 455.6h0M629.4 461.7h0M627.7 452.6h0M630.8 455.5h0M627.9 449.1h0M631.0 454.5h0M627.8 456.2h0M627.9 461.9h0M630.6 444.8h0M632.4 459.2h0M633.8 461.7h0M635.3 461.5h0M638.6 449.9h0M634.7 458.6h0M629.7 461.2h0M629.1 460.2h0M627.3 458.2h0M629.3 457.3h0M627.5 462.3h0M632.3 445.7h0M637.3 461.3h0M631.0 460.5h0M634.2 453.5h0M629.7 461.7h0M629.6 461.4h0M631.9 457.3h0M630.0 461.7h0M627.7 459.1h0M632.6 460.8h0M628.4 461.4h0M631.0 458.1h0M627.8 459.5h0M634.9 455.1h0M628.9 461.3h0M637.1 449.5h0M632.8 453.5h0M631.4 461.8h0M628.5 458.5h0M628.2 461.4h0M639.1 458.1h0M629.7 460.8h0M631.2 456.5h0M633.4 459.7h0M636.7 460.1h0M633.4 460.8h0M628.0 461.8h0M636.6 462.2h0M629.6 457.1h0M629.8 460.2h0M631.6 459.0h0M628.3 462.3h0M632.2 461.0h0M630.3 461.2h0M636.3 455.6h0M629.1 460.9h0M629.2 461.3h0M631.6 461.6h0M630.9 461.2h0M629.1 452.1h0M629.5 460.2h0M627.2 458.1h0M627.1 461.7h0M630.3 456.1h0M627.9 460.2h0M631.5 459.6h0M634.4 462.4h0M629.7 450.1h0M638.2 460.3h0M632.0 460.6h0M628.7 453.5h0M640.4 459.5h0M628.4 457.7h0M632.0 460.8h0M628.6 461.7h0M640.2 453.1h0M634.8 460.3h0M629.1 455.3h0M627.6 462.4h0M633.7 461.1h0M637.2 448.7h0M628.4 461.4h0M630.1 453.4h0M630.2 461.3h0M629.5 441.5h0M631.4 462.1h0M631.1 461.9h0M632.6 451.6h0M630.7 462.1h0M632.9 459.8h0M629.5 451.5h0M633.1 458.7h0M634.5 449.3h0M628.9 460.5h0M628.3 460.9h0M632.0 459.5h0M632.0 458.9h0M632.4 459.8h0M629.1 461.2h0M633.6 450.0h0M631.0 462.3h0M632.8 457.6h0M629.2 449.9h0M630.9 462.1h0M630.7 459.3h0M629.9 461.4h0M628.8 462.3h0M628.3 460.9h0M632.2 460.5h0M628.8 460.2h0M633.8 453.8h0M629.6 451.8h0M634.4 456.6h0M634.6 450.6h0M628.4 461.8h0M636.1 460.5h0M636.4 442.7h0M627.4 450.0h0M635.3 456.9h0M642.7 447.9h0M634.8 459.8h0M634.2 456.7h0M628.7 459.9h0M629.2 456.1h0M627.5 460.6h0M634.5 460.0h0M633.4 447.6h0M628.8 459.9h0M629.5 448.2h0M629.4 461.9h0M627.3 460.5h0M630.3 458.8h0M636.3 448.9h0M634.8 456.2h0M631.2 457.3h0M632.1 461.7h0M627.9 455.0h0M629.6 455.5h0M629.1 453.7h0M629.8 447.8h0M632.2 460.6h0M631.3 460.5h0M630.4 460.7h0M633.6 456.9h0M631.5 455.4h0M633.9 451.8h0M633.1 461.2h0M627.3 460.5h0M634.6 457.1h0M627.2 457.4h0M631.5 458.8h0M627.1 461.2h0M629.9 461.4h0M634.3 460.0h0M630.4 454.1h0M629.1 459.1h0M627.9 459.7h0M632.4 461.0h0M629.1 455.9h0M644.9 450.5h0M632.3 459.0h0M631.4 461.1h0M634.3 461.7h0M632.0 453.6h0M633.7 458.2h0M635.6 456.9h0M631.0 458.9h0M632.5 458.7h0M629.8 459.9h0M630.9 460.4h0M629.0 462.1h0M630.8 456.0h0M627.9 451.5h0M632.7 461.3h0M635.1 462.2h0M630.4 460.3h0M627.8 457.1h0M627.3 455.6h0M628.1 442.7h0M630.5 461.1h0M628.6 461.6h0M634.3 457.5h0M636.6 460.3h0M633.2 459.2h0M634.9 462.2h0M628.4 462.2h0M631.6 460.6h0M629.1 462.2h0M628.0 455.5h0M629.2 456.2h0M631.8 450.4h0M627.1 450.6h0M627.2 458.7h0M629.6 453.8h0M628.4 460.8h0M628.1 445.3h0M632.5 461.0h0M634.9 448.0h0M628.5 462.0h0M636.4 462.3h0M633.0 458.9h0M627.5 453.1h0M632.9 460.2h0M635.1 461.4h0M631.2 455.7h0M630.9 459.6h0M630.0 432.5h0M628.7 462.2h0M633.6 460.3h0M632.0 457.2h0M627.6 461.6h0M628.8 457.5h0M627.2 461.5h0M628.1 460.0h0M634.5 459.4h0M628.4 462.2h0M627.5 460.0h0M630.0 458.2h0M627.6 458.9h0M627.5 452.3h0M629.2 454.8h0M628.0 450.9h0M631.1 461.7h0M628.1 457.9h0M630.4 454.5h0M628.1 459.1h0M635.2 458.0h0M636.9 458.2h0M628.8 455.4h0M631.2 459.7h0M643.1 460.7h0M631.9 461.9h0M632.6 458.8h0M629.4 461.8h0M631.0 452.4h0M628.4 462.0h0M629.7 451.1h0M630.1 459.1h0M629.7 461.2h0M629.1 460.2h0M627.5 448.8h0M630.3 452.4h0M633.9 461.4h0M636.9 461.0h0M628.3 460.6h0M632.0 457.1h0M630.0 447.1h0M635.2 460.4h0M635.7 461.9h0M627.9 452.3h0M630.3 452.9h0M634.9 459.5h0M627.5 451.5h0M636.0 461.5h0M630.8 457.3h0M627.5 459.8h0M629.6 460.0h0M631.8 443.5h0M627.5 447.2h0M627.8 458.6h0M631.1 457.3h0M633.3 455.8h0M628.4 448.9h0M629.5 457.2h0M636.4 459.7h0M636.4 451.7h0M634.9 458.9h0M632.1 461.8h0M630.6 459.6h0M628.7 459.5h0M630.1 461.7h0M631.1 460.9h0M632.7 458.5h0M631.3 460.0h0M628.8 461.4h0M628.5 461.6h0M628.1 457.5h0M629.7 456.7h0M630.3 460.9h0M630.8 461.3h0M627.1 457.1h0M627.7 454.3h0M628.6 461.5h0M629.9 457.0h0M628.6 459.9h0M628.2 456.0h0M628.5 452.8h0M638.4 462.2h0M638.7 457.5h0M631.3 451.8h0M633.0 456.3h0M634.3 462.2h0M631.3 457.7h0M627.2 456.0h0M631.7 444.6h0M630.2 459.9h0M630.4 462.5h0M628.1 455.0h0M629.0 458.9h0M630.9 459.1h0M628.3 457.0h0M630.1 461.5h0M628.4 460.8h0M633.0 458.0h0M627.5 460.0h0M637.6 460.3h0M628.9 460.2h0M632.4 460.9h0M629.6 459.6h0M627.9 458.3h0M627.3 462.5h0M632.0 460.8h0M627.7 457.7h0M634.4 462.2h0M628.2 461.4h0M627.8 458.9h0M633.6 458.6h0M631.9 461.0h0M628.7 441.6h0M635.6 458.3h0M634.3 454.5h0M630.9 460.5h0M633.1 456.6h0M630.6 454.0h0M629.8 461.9h0M629.4 461.2h0M628.9 458.1h0M631.2 452.2h0M634.0 452.2h0M630.4 448.6h0M632.5 459.1h0M633.0 459.9h0M629.4 461.3h0M628.1 452.0h0M636.8 460.5h0M628.7 461.5h0M627.3 459.1h0M628.7 458.5h0M632.9 462.6h0M630.6 460.0h0M630.7 459.0h0M629.8 458.5h0M628.9 461.5h0M634.3 454.5h0M633.4 449.2h0M632.4 462.4h0M629.8 451.7h0M629.9 459.8h0M640.5 459.8h0M630.9 462.0h0M629.7 460.7h0M627.2 448.8h0M635.6 462.1h0M627.9 448.8h0M627.8 451.7h0M627.6 458.2h0M632.2 454.3h0M630.0 460.0h0M630.9 455.2h0M628.2 457.1h0M627.2 462.0h0M632.0 459.9h0M627.6 462.1h0M628.9 447.2h0M627.6 458.1h0M628.5 454.1h0M631.8 450.8h0M634.5 461.4h0M635.8 459.7h0M635.9 461.5h0M632.1 459.1h0M631.6 460.6h0M630.9 456.2h0M633.2 454.8h0M630.1 441.3h0M628.4 460.7h0M629.1 460.5h0M636.8 462.5h0M632.4 452.3h0M637.6 455.3h0M629.3 459.3h0M628.3 459.6h0M631.4 455.5h0M631.1 459.8h0M633.2 461.8h0M630.7 461.3h0M631.4 457.9h0M632.0 462.2h0M632.4 462.2h0M630.5 443.1h0M632.1 457.5h0M627.3 461.8h0M629.0 456.9h0M629.6 461.6h0M635.1 462.3h0M627.7 460.3h0M632.4 461.9h0M635.6 461.5h0M630.8 454.5h0M638.4 455.2h0M629.2 458.0h0M629.4 458.1h0M632.1 462.1h0M630.1 458.7h0M627.8 460.9h0M633.7 454.5h0M630.8 457.2h0M632.9 455.6h0M632.4 454.5h0M629.8 462.0h0M629.9 458.7h0M635.1 460.7h0M627.6 457.0h0M631.3 460.4h0M629.8 462.3h0M629.4 455.3h0M627.8 462.4h0M630.9 457.1h0M629.7 460.3h0M628.7 461.1h0M630.2 455.9h0M630.0 457.6h0M630.1 457.4h0M630.3 461.7h0M633.2 450.8h0M636.1 459.3h0M628.0 460.1h0M634.5 458.6h0M633.3 460.3h0M630.1 456.9h0M631.7 461.8h0M636.5 448.9h0M627.2 450.9h0M634.2 462.3h0M628.8 461.6h0M629.5 458.5h0M633.4 459.5h0M629.2 461.7h0M628.5 454.2h0M627.5 456.2h0M630.4 460.4h0M627.5 461.0h0M632.6 443.4h0M633.1 449.9h0M630.1 462.0h0M628.3 459.5h0M635.5 451.9h0M638.6 458.2h0M632.0 460.0h0M629.3 460.5h0M631.1 454.8h0M634.2 449.3h0M627.5 460.4h0M632.1 458.9h0M637.1 456.6h0M628.5 454.1h0M633.1 459.6h0M630.4 456.3h0M630.3 458.5h0M628.7 462.1h0M630.5 461.8h0M638.5 458.4h0M629.9 433.7h0M627.6 451.1h0M630.6 460.2h0M638.0 459.5h0M634.0 449.4h0M631.7 461.1h0M636.3 460.3h0M633.5 436.4h0M631.5 460.5h0M629.5 459.7h0M634.6 446.8h0M628.2 458.8h0M628.5 460.2h0M629.2 460.2h0M631.8 460.7h0M633.2 454.8h0M636.3 459.0h0M629.0 461.2h0M630.7 457.7h0M631.7 456.7h0M628.1 454.9h0M630.3 438.0h0M628.0 461.0h0M628.2 458.9h0M627.9 449.4h0M630.0 439.4h0M628.6 443.5h0M628.1 426.0h0M630.3 425.3h0M629.5 446.6h0M630.7 431.0h0M628.5 440.6h0M633.1 451.2h0M633.7 460.9h0M629.8 439.4h0M628.1 434.1h0M630.8 431.1h0M633.4 446.3h0M628.9 434.1h0M628.3 422.2h0M630.3 425.3h0M629.5 460.4h0M630.0 455.4h0M630.0 448.5h0M630.2 442.2h0M628.1 450.2h0M629.8 458.9h0M630.6 453.1h0M629.5 451.3h0M628.7 432.1h0M629.5 450.4h0M629.2 432.2h0M628.4 425.0h0M628.6 449.6h0M629.8 450.1h0M633.1 455.8h0M632.0 443.8h0M630.2 455.4h0M629.8 432.2h0M631.3 447.4h0M634.2 456.3h0M631.7 460.4h0M630.6 456.4h0M628.2 462.1h0M628.5 446.5h0M634.4 455.3h0M632.8 454.9h0M628.4 462.3h0M628.5 452.9h0M632.6 461.7h0M628.0 447.8h0M628.8 432.7h0M631.5 454.2h0M630.2 448.0h0M629.0 453.2h0M632.4 455.7h0M628.9 442.4h0M629.8 425.3h0M629.4 425.6h0M632.3 450.0h0M633.3 456.5h0M628.0 450.6h0M634.8 456.8h0M628.5 428.6h0M627.9 450.3h0M632.1 425.1h0M630.7 448.2h0M633.5 462.6h0M628.4 421.2h0M629.9 447.4h0M634.3 461.2h0M629.5 439.6h0M630.8 447.8h0M628.9 426.2h0M628.6 435.4h0M629.1 453.2h0M629.0 434.7h0M628.1 440.0h0M629.1 460.1h0M631.9 455.0h0M629.1 421.5h0M629.2 442.4h0M631.6 456.5h0M631.6 441.7h0M631.1 441.8h0M630.4 461.9h0M628.9 443.7h0M632.3 441.8h0M628.0 432.8h0M628.5 454.8h0M631.5 449.4h0M628.9 429.4h0M630.4 421.8h0M631.0 431.1h0M630.1 423.6h0M628.0 461.5h0M629.9 452.3h0M631.9 447.6h0M627.8 454.2h0M629.0 443.0h0M629.2 444.0h0M632.1 462.0h0M630.4 454.1h0M630.2 459.2h0M628.9 457.7h0M628.0 460.4h0M630.9 449.7h0M629.6 441.2h0M636.7 457.5h0M630.2 449.6h0M630.0 446.5h0M629.0 453.8h0M631.0 435.0h0M630.6 462.3h0M628.4 438.0h0M630.3 453.8h0M629.0 426.5h0M627.9 457.7h0M628.6 443.7h0M634.1 452.7h0M629.0 458.8h0M628.1 438.8h0M633.0 462.6h0M630.0 452.7h0M629.5 450.0h0M633.8 460.5h0M628.1 436.7h0M627.8 424.6h0M629.4 462.1h0M633.7 455.1h0M628.8 432.0h0M633.3 453.2h0M627.9 437.6h0M627.8 429.9h0M628.3 428.5h0M628.5 438.0h0M630.3 454.7h0M629.4 456.8h0M628.4 461.0h0M627.9 426.6h0M629.1 426.8h0M629.2 461.0h0M627.8 448.7h0M628.2 435.6h0M628.8 453.7h0M628.1 425.4h0M629.1 450.9h0M630.2 421.6h0M634.9 462.5h0M630.9 450.9h0M639.2 461.6h0M631.8 461.1h0M631.6 434.5h0M635.5 460.6h0M632.2 459.8h0M629.2 450.8h0M628.8 422.9h0M631.5 438.8h0M628.7 457.9h0M634.4 441.4h0M634.1 458.9h0M634.0 459.4h0M628.3 434.5h0M631.6 462.3h0M630.1 452.2h0M632.7 462.6h0M627.8 422.6h0M630.2 423.0h0M628.4 461.8h0M632.3 445.9h0M629.3 445.6h0M627.8 422.7h0M632.4 448.0h0M630.6 447.9h0M628.8 428.0h0M634.5 454.3h0M627.9 434.5h0M631.8 442.4h0M628.8 449.6h0M629.7 458.4h0M628.4 458.2h0M628.1 443.0h0M629.3 423.9h0M630.5 450.4h0M628.2 432.1h0M631.0 456.3h0M634.2 461.3h0M636.1 457.0h0M629.8 433.7h0M628.0 452.1h0M634.0 459.1h0M628.1 462.4h0M629.1 434.8h0M628.0 461.7h0M629.8 460.8h0M630.3 437.4h0M631.0 438.5h0M627.8 442.5h0M629.9 426.1h0M628.9 451.0h0M630.0 461.1h0M629.7 451.6h0M630.0 427.1h0M629.0 458.9h0M631.5 450.8h0M629.8 421.1h0M628.7 455.4h0M630.7 448.7h0M629.1 428.6h0M630.8 457.5h0M632.6 442.3h0M632.1 462.3h0M630.8 434.6h0M630.4 444.4h0M628.1 437.4h0M634.8 444.7h0M630.5 431.8h0M628.0 460.4h0M628.8 424.5h0M629.3 447.2h0M629.0 433.0h0M629.1 449.2h0M629.4 455.5h0M633.2 435.5h0M630.7 432.3h0M628.0 455.2h0M629.1 420.9h0M629.3 451.6h0M629.4 449.1h0M632.7 447.3h0M629.5 443.0h0M628.1 450.5h0M631.1 461.4h0M631.2 448.4h0M631.7 448.7h0M630.7 460.6h0M631.9 458.5h0M630.2 423.9h0M633.1 444.3h0M631.5 454.0h0M632.3 451.7h0M630.2 462.5h0M628.2 434.4h0M629.7 451.8h0M629.9 441.6h0M628.3 432.6h0M633.1 451.8h0M629.6 461.3h0M631.0 457.4h0M631.2 460.8h0M637.9 455.5h0M631.2 457.8h0M630.5 450.1h0M628.4 453.5h0M628.7 444.2h0M629.2 452.3h0M633.5 459.4h0M630.8 462.6h0M631.7 441.3h0M631.3 440.6h0M629.5 421.5h0M628.6 430.6h0M630.1 427.0h0M629.8 432.7h0M632.8 448.3h0M635.0 456.4h0M630.5 441.4h0M631.7 430.6h0M631.9 453.9h0M628.0 454.0h0M628.7 461.3h0M628.3 424.7h0M628.6 435.0h0M630.5 454.1h0M628.1 457.6h0M629.9 453.6h0M627.8 429.8h0M632.6 450.9h0M630.6 425.7h0M633.1 448.0h0M634.4 462.5h0M628.6 434.1h0M631.4 461.5h0M628.1 450.5h0M629.8 461.4h0M631.6 446.1h0M633.9 445.5h0M628.9 455.9h0M628.4 457.8h0M632.2 444.1h0M636.1 462.0h0M628.7 439.0h0M633.1 445.4h0M627.8 430.1h0M634.2 435.8h0M629.5 458.9h0M630.7 421.5h0M630.6 459.1h0M627.9 438.1h0M631.3 456.6h0M628.1 431.9h0M628.6 443.9h0M628.5 462.1h0M637.7 451.3h0M629.7 436.1h0M628.6 459.1h0M633.6 447.7h0M631.5 425.9h0M629.1 435.4h0M628.9 436.6h0M629.1 425.5h0M628.0 422.3h0M629.4 444.7h0M632.4 446.7h0M638.5 454.7h0M627.9 440.1h0M632.9 460.4h0M629.4 429.5h0M633.2 449.4h0M627.8 450.3h0M628.3 421.1h0M632.3 453.0h0M628.3 462.3h0M629.3 459.3h0M629.7 433.5h0M629.7 460.3h0M629.5 431.5h0M632.3 459.2h0M632.4 448.5h0M628.3 443.8h0M630.1 444.2h0M632.5 442.4h0M628.3 444.8h0M630.2 459.6h0M634.1 457.7h0M629.5 461.9h0M634.2 455.5h0M635.8 452.2h0M628.6 432.6h0M630.4 431.7h0M627.8 453.6h0M632.8 458.0h0M629.0 440.4h0M633.0 440.8h0M628.1 426.6h0M629.7 435.7h0M629.3 450.0h0M632.1 440.3h0M628.5 436.0h0M631.6 457.6h0M627.8 430.4h0M633.3 456.7h0M628.5 457.1h0M632.9 457.4h0M630.5 422.4h0M632.6 462.1h0M630.9 457.0h0M627.9 426.7h0M628.6 452.2h0M629.5 436.5h0M633.3 456.8h0M628.8 442.3h0M636.0 451.7h0M628.3 429.3h0M630.5 436.8h0M629.2 462.5h0M629.4 429.0h0M630.7 439.1h0M628.9 437.5h0M630.5 461.0h0M629.8 429.2h0M633.5 445.4h0M635.8 452.5h0M628.0 458.9h0M635.5 460.9h0M628.7 431.7h0M628.6 435.1h0M636.2 380.2h0M635.9 381.3h0M633.0 410.6h0M633.1 384.1h0M631.1 403.4h0M630.7 408.4h0M632.1 362.8h0M632.4 411.1h0M635.7 395.5h0M631.3 379.0h0M635.0 363.5h0M630.0 366.9h0M629.9 389.5h0M631.9 413.3h0M633.6 362.5h0M633.8 367.7h0M634.6 406.6h0M632.8 387.5h0M631.3 367.2h0M635.4 402.1h0M634.2 384.1h0M634.9 420.4h0M637.1 390.2h0M634.5 394.4h0M634.1 390.2h0M632.8 377.6h0M634.3 383.7h0M633.5 419.0h0M651.5 460.5h0M639.2 460.6h0M645.7 461.5h0M641.7 459.1h0M646.2 462.2h0M638.6 461.3h0M647.5 459.8h0M637.0 453.6h0M651.4 461.8h0M643.2 459.0h0M640.5 462.5h0M636.5 461.4h0M636.6 460.9h0M636.6 461.0h0M659.9 453.3h0M636.6 457.3h0M635.0 460.6h0M663.1 462.4h0M635.4 447.1h0M645.4 460.7h0M669.4 461.3h0M635.8 461.6h0M654.9 460.7h0M652.1 454.8h0M635.9 460.7h0M641.8 460.2h0M653.5 462.1h0M636.6 454.2h0M637.4 454.1h0M642.3 462.5h0M636.1 458.5h0M641.8 460.1h0M656.3 458.8h0M636.6 461.5h0M637.4 461.0h0M640.9 462.5h0M650.0 462.4h0M637.5 462.2h0M655.3 460.7h0M635.6 460.4h0M642.7 461.4h0M643.6 462.0h0M641.8 458.1h0M641.3 451.1h0M654.2 457.8h0M656.3 461.8h0M635.6 461.5h0M651.7 456.7h0M669.4 461.7h0M637.3 459.4h0M642.2 462.0h0M639.7 458.1h0M647.4 461.6h0M639.2 459.2h0M649.7 457.5h0M637.3 456.4h0M650.0 462.5h0M636.2 458.7h0M643.0 461.8h0M638.0 461.3h0M647.8 457.9h0M646.7 460.2h0M638.2 461.6h0M646.0 461.7h0M643.0 460.6h0M655.0 458.3h0M636.1 459.0h0M636.2 452.3h0M643.8 460.2h0M636.6 460.3h0M636.6 457.7h0M661.5 459.7h0M641.2 461.9h0M635.4 458.0h0M638.9 455.1h0M646.4 457.8h0M643.2 460.7h0M635.0 461.4h0M635.8 457.0h0M637.1 459.2h0M665.7 462.6h0M635.4 457.2h0M653.3 459.1h0M646.4 455.7h0M653.6 461.0h0M646.9 458.9h0M635.0 456.0h0M640.9 461.5h0M645.3 455.4h0M640.5 454.3h0M657.4 461.1h0M637.9 460.8h0M661.9 462.5h0M635.4 458.5h0M647.1 462.5h0M641.3 462.6h0M646.7 460.6h0M651.1 452.2h0M635.5 455.1h0M641.6 461.6h0M639.2 461.7h0M644.6 457.2h0M655.3 457.1h0M636.6 461.9h0M653.6 462.0h0M649.4 457.1h0M641.3 458.1h0M640.2 460.0h0M638.5 461.4h0M651.8 454.5h0M639.4 458.5h0M635.3 456.9h0M645.0 459.9h0M645.7 456.9h0M641.6 462.4h0M644.1 461.0h0M650.3 462.3h0M641.6 462.1h0M642.2 462.5h0M661.2 461.0h0M636.4 457.3h0M654.7 458.2h0M645.6 459.5h0M647.3 460.6h0M635.5 461.7h0M638.3 462.1h0M637.5 458.9h0M652.3 458.6h0M636.1 462.4h0M648.6 456.7h0M637.6 456.9h0M637.6 459.2h0M651.1 462.5h0M669.4 455.3h0M669.4 459.7h0M636.5 461.4h0M646.8 460.2h0M637.8 448.3h0M641.6 461.3h0M641.7 461.4h0M640.9 461.6h0M657.8 461.9h0M640.3 455.0h0M649.1 450.9h0M637.9 460.9h0M635.4 462.2h0M648.0 462.0h0M635.3 458.0h0M637.0 462.4h0M641.8 462.4h0M638.2 460.7h0M635.4 462.3h0M636.2 460.4h0M637.7 461.5h0M669.4 460.4h0M640.2 460.3h0M654.0 459.3h0M645.2 462.3h0M651.8 459.4h0M646.3 462.4h0M635.3 462.5h0M636.6 461.3h0M640.8 460.2h0M636.5 459.7h0M642.2 459.7h0M641.4 456.4h0M651.8 457.1h0M639.4 462.4h0M635.0 458.7h0M655.6 460.7h0M653.1 461.1h0M644.9 456.4h0M643.3 459.3h0M644.7 452.7h0M643.2 461.6h0M637.7 462.6h0M651.5 461.5h0M641.6 458.6h0M641.3 462.2h0M635.2 459.1h0M644.5 462.5h0M647.1 460.5h0M641.8 461.2h0M645.7 459.6h0M635.3 461.7h0M661.0 461.2h0M667.5 458.6h0M641.6 460.3h0M637.5 462.3h0M638.0 462.1h0M649.0 450.3h0M648.6 459.5h0M659.5 462.5h0M669.4 461.5h0M641.1 461.6h0M642.8 459.3h0M641.4 458.7h0M662.3 462.1h0M643.3 461.9h0M643.6 460.7h0M635.6 462.3h0M643.0 456.1h0M636.7 461.7h0M642.9 459.4h0M648.6 459.5h0M635.8 461.7h0M636.8 460.6h0M643.0 461.8h0M638.5 461.2h0M639.1 461.3h0M643.2 461.4h0M642.7 453.5h0M635.5 459.8h0M648.3 455.4h0M642.7 461.9h0M666.5 459.2h0M639.2 462.1h0M638.3 460.9h0M642.2 462.3h0M637.9 461.9h0" stroke="#ee4a3c" stroke-width="1.6" stroke-linecap="round"/>
<path d="M647.0 304.8L641.5 311.0M641.0 396.8L633.0 410.0M621.0 398.8L630.0 415.0M639.0 408.0L633.0 420.0M624.0 410.8L632.0 420.0M640.0 418.5L633.0 430.0M667.0 421.8L634.0 440.0M595.0 420.8L618.0 448.0M612.0 421.0L622.0 448.0M614.0 430.0L623.0 452.0M626.0 430.2L627.0 452.0M650.0 432.0L633.0 445.0M586.5 433.7L613.0 447.0M600.0 431.3L617.0 455.0M673.0 438.5L634.0 450.0M648.0 441.0L633.0 453.0M606.0 446.0L620.0 455.0M643.0 447.0L632.0 455.0M670.0 446.5L634.0 455.0M690.0 446.8L640.0 455.0M600.0 450.0L619.0 456.0M673.0 453.5L634.0 457.0M568.0 454.0L612.0 458.0M596.0 453.5L617.0 457.0M676.0 456.5L638.0 458.0M697.0 458.7L640.0 459.0M553.0 458.3L606.0 460.0M604.0 458.5L618.0 460.0M560.0 462.7L610.0 461.0M697.0 463.0L640.0 461.0M574.0 466.5L608.0 462.0M586.5 467.5L617.0 462.0M597.5 467.5L620.0 462.0M620.0 467.0L622.0 462.0M635.0 467.5L626.0 462.0M648.5 467.5L630.0 462.0M660.0 467.0L632.0 462.0M675.5 467.0L636.0 462.0" stroke="#d08484" stroke-width="0.45" fill="none"/>
<text x="647.00" y="306.40" font-size="4.6" text-anchor="middle" fill="#b5474a" stroke="#b5474a" stroke-width="0.1">Cxcl3</text>
<text x="641.00" y="398.40" font-size="4.6" text-anchor="middle" fill="#b5474a" stroke="#b5474a" stroke-width="0.1">Ccl3</text>
<text x="621.00" y="400.40" font-size="4.6" text-anchor="middle" fill="#b5474a" stroke="#b5474a" stroke-width="0.1">Cxcl2</text>
<text x="639.00" y="409.60" font-size="4.6" text-anchor="middle" fill="#b5474a" stroke="#b5474a" stroke-width="0.1">Itgav</text>
<text x="624.00" y="412.40" font-size="4.6" text-anchor="middle" fill="#b5474a" stroke="#b5474a" stroke-width="0.1">Cxcl1</text>
<text x="640.00" y="420.10" font-size="4.6" text-anchor="middle" fill="#b5474a" stroke="#b5474a" stroke-width="0.1">Ptpn23</text>
<text x="667.00" y="423.40" font-size="4.6" text-anchor="middle" fill="#b5474a" stroke="#b5474a" stroke-width="0.1">Ptpn1</text>
<text x="595.00" y="422.40" font-size="4.6" text-anchor="middle" fill="#b5474a" stroke="#b5474a" stroke-width="0.1">Cdc5</text>
<text x="612.00" y="422.60" font-size="4.6" text-anchor="middle" fill="#b5474a" stroke="#b5474a" stroke-width="0.1">Cdc42ep4</text>
<text x="614.00" y="431.60" font-size="4.6" text-anchor="middle" fill="#b5474a" stroke="#b5474a" stroke-width="0.1">Cdc27</text>
<text x="626.00" y="431.80" font-size="4.6" text-anchor="middle" fill="#b5474a" stroke="#b5474a" stroke-width="0.1">Pla2g</text>
<text x="650.00" y="433.60" font-size="4.6" text-anchor="middle" fill="#b5474a" stroke="#b5474a" stroke-width="0.1">Cxcl6</text>
<text x="586.50" y="435.30" font-size="4.6" text-anchor="middle" fill="#3f7ab8" stroke="#3f7ab8" stroke-width="0.1">Mfsd2</text>
<text x="600.00" y="432.90" font-size="4.6" text-anchor="middle" fill="#b5474a" stroke="#b5474a" stroke-width="0.1">Thy1</text>
<text x="673.00" y="440.10" font-size="4.6" text-anchor="middle" fill="#b5474a" stroke="#b5474a" stroke-width="0.1">Pdgfrb</text>
<text x="648.00" y="442.60" font-size="4.6" text-anchor="middle" fill="#b5474a" stroke="#b5474a" stroke-width="0.1">Pgdn</text>
<text x="606.00" y="447.60" font-size="4.6" text-anchor="middle" fill="#b5474a" stroke="#b5474a" stroke-width="0.1">Pla2g</text>
<text x="643.00" y="448.60" font-size="4.6" text-anchor="middle" fill="#b5474a" stroke="#b5474a" stroke-width="0.1">Plaur3</text>
<text x="670.00" y="448.10" font-size="4.6" text-anchor="middle" fill="#b5474a" stroke="#b5474a" stroke-width="0.1">Mcam</text>
<text x="690.00" y="448.40" font-size="4.6" text-anchor="middle" fill="#b5474a" stroke="#b5474a" stroke-width="0.1">Cd200</text>
<text x="600.00" y="451.60" font-size="4.6" text-anchor="middle" fill="#b5474a" stroke="#b5474a" stroke-width="0.1">Cd44</text>
<text x="673.00" y="455.10" font-size="4.6" text-anchor="middle" fill="#b5474a" stroke="#b5474a" stroke-width="0.1">Pdgfa</text>
<text x="568.00" y="455.60" font-size="4.6" text-anchor="middle" fill="#b5474a" stroke="#b5474a" stroke-width="0.1">Cdc42bpg</text>
<text x="596.00" y="455.10" font-size="4.6" text-anchor="middle" fill="#b5474a" stroke="#b5474a" stroke-width="0.1">Smurf1</text>
<text x="676.00" y="458.10" font-size="4.6" text-anchor="middle" fill="#b5474a" stroke="#b5474a" stroke-width="0.1">Ccl20</text>
<text x="697.00" y="460.30" font-size="4.6" text-anchor="middle" fill="#b5474a" stroke="#b5474a" stroke-width="0.1">Tnfsf11</text>
<text x="553.00" y="459.90" font-size="4.6" text-anchor="middle" fill="#b5474a" stroke="#b5474a" stroke-width="0.1">Ptpn14</text>
<text x="604.00" y="460.10" font-size="4.6" text-anchor="middle" fill="#b5474a" stroke="#b5474a" stroke-width="0.1">Adgrf1</text>
<text x="560.00" y="464.30" font-size="4.6" text-anchor="middle" fill="#b5474a" stroke="#b5474a" stroke-width="0.1">Cxcl16</text>
<text x="697.00" y="464.60" font-size="4.6" text-anchor="middle" fill="#b5474a" stroke="#b5474a" stroke-width="0.1">Pdpn</text>
<text x="574.00" y="468.10" font-size="4.6" text-anchor="middle" fill="#e060a0" stroke="#e060a0" stroke-width="0.1">Pdgfra</text>
<text x="586.50" y="469.10" font-size="4.6" text-anchor="middle" fill="#555" stroke="#555" stroke-width="0.1">Sp7</text>
<text x="597.50" y="469.10" font-size="4.6" text-anchor="middle" fill="#555" stroke="#555" stroke-width="0.1">Nectin2</text>
<text x="620.00" y="468.60" font-size="4.6" text-anchor="middle" fill="#555" stroke="#555" stroke-width="0.1">Ctsk</text>
<text x="635.00" y="469.10" font-size="4.6" text-anchor="middle" fill="#b5474a" stroke="#b5474a" stroke-width="0.1">Nectin1</text>
<text x="648.50" y="469.10" font-size="4.6" text-anchor="middle" fill="#b5474a" stroke="#b5474a" stroke-width="0.1">Eng</text>
<text x="660.00" y="468.60" font-size="4.6" text-anchor="middle" fill="#b5474a" stroke="#b5474a" stroke-width="0.1">Ptgs5</text>
<text x="675.50" y="468.60" font-size="4.6" text-anchor="middle" fill="#b5474a" stroke="#b5474a" stroke-width="0.1">Ccl4</text>
<path d="M644.8 292.3h0M646.5 292.3h0M641.5 311.3h0M643.2 312.0h0M637.6 358.0h0M640.9 358.7h0M635.0 363.0h0M639.9 368.0h0M636.0 371.6h0M638.3 376.6h0M635.3 378.1h0M640.2 384.5h0M646.5 422.9h0M633.3 383.1h0" stroke="#ee4a3c" stroke-width="1.5" stroke-linecap="round"/>
<path d="M611.7 409.6h0M612.0 411.8h0M606.8 426.2h0M609.7 429.0h0M603.2 435.5h0M596.9 442.0h0M598.6 445.6h0M615.0 414.7h0" stroke="#3f7ab8" stroke-width="1.5" stroke-linecap="round"/>
<text x="579.00" y="365.10" font-size="4.3" text-anchor="middle" fill="#4f86c0" stroke="#4f86c0" stroke-width="0.1">1301</text>
<text x="666.00" y="365.10" font-size="4.3" text-anchor="middle" fill="#e06055" stroke="#e06055" stroke-width="0.1">1899</text>
<text x="0.30" y="539.30" font-size="16.5" font-weight="bold">d</text>
<text x="4.40" y="647.00" font-size="4.9" text-anchor="middle" fill="#222" stroke="#222" stroke-width="0.1" transform="rotate(-90 4.40 647.00)">Top up-enrichment go terms</text>
<rect x="116.90" y="544.60" width="11.00" height="5.80" fill="#e77b30"/>
<text x="114.60" y="549.20" font-size="4.6" text-anchor="end" fill="#222" stroke="#222" stroke-width="0.1">Intracellular membrane-bounded organelle</text>
<line x1="115.70" y1="547.50" x2="116.90" y2="547.50" stroke="#444" stroke-width="0.4"/>
<rect x="116.90" y="555.10" width="11.60" height="5.80" fill="#e77b30"/>
<text x="114.60" y="559.70" font-size="4.6" text-anchor="end" fill="#222" stroke="#222" stroke-width="0.1">Endosome</text>
<line x1="115.70" y1="558.00" x2="116.90" y2="558.00" stroke="#444" stroke-width="0.4"/>
<rect x="116.90" y="565.60" width="13.00" height="5.80" fill="#e77b30"/>
<text x="114.60" y="570.20" font-size="4.6" text-anchor="end" fill="#222" stroke="#222" stroke-width="0.1">Perinuclear region of cytoplasm</text>
<line x1="115.70" y1="568.50" x2="116.90" y2="568.50" stroke="#444" stroke-width="0.4"/>
<rect x="116.90" y="576.10" width="13.60" height="5.80" fill="#e77b30"/>
<text x="114.60" y="580.70" font-size="4.6" text-anchor="end" fill="#222" stroke="#222" stroke-width="0.1">Lysosomal membrane</text>
<line x1="115.70" y1="579.00" x2="116.90" y2="579.00" stroke="#444" stroke-width="0.4"/>
<rect x="116.90" y="586.60" width="18.70" height="5.80" fill="#e77b30"/>
<text x="114.60" y="591.20" font-size="4.6" text-anchor="end" fill="#222" stroke="#222" stroke-width="0.1">Cytoplasm</text>
<line x1="115.70" y1="589.50" x2="116.90" y2="589.50" stroke="#444" stroke-width="0.4"/>
<rect x="116.90" y="597.10" width="20.30" height="5.80" fill="#e77b30"/>
<text x="114.60" y="601.70" font-size="4.6" text-anchor="end" fill="#222" stroke="#222" stroke-width="0.1">Lysosome</text>
<line x1="115.70" y1="600.00" x2="116.90" y2="600.00" stroke="#444" stroke-width="0.4"/>
<rect x="116.90" y="607.60" width="21.00" height="5.80" fill="#e77b30"/>
<text x="114.60" y="612.20" font-size="4.6" text-anchor="end" fill="#222" stroke="#222" stroke-width="0.1">Membrane raft</text>
<line x1="115.70" y1="610.50" x2="116.90" y2="610.50" stroke="#444" stroke-width="0.4"/>
<rect x="116.90" y="618.10" width="25.70" height="5.80" fill="#e77b30"/>
<text x="114.60" y="622.70" font-size="4.6" text-anchor="end" fill="#222" stroke="#222" stroke-width="0.1">Cytosol</text>
<line x1="115.70" y1="621.00" x2="116.90" y2="621.00" stroke="#444" stroke-width="0.4"/>
<rect x="116.90" y="628.60" width="33.70" height="5.80" fill="#e77b30"/>
<text x="114.60" y="633.20" font-size="4.6" text-anchor="end" fill="#222" stroke="#222" stroke-width="0.1">Cell surface</text>
<line x1="115.70" y1="631.50" x2="116.90" y2="631.50" stroke="#444" stroke-width="0.4"/>
<rect x="116.90" y="639.10" width="69.00" height="5.80" fill="#e77b30"/>
<text x="114.60" y="643.70" font-size="4.6" text-anchor="end" fill="#222" stroke="#222" stroke-width="0.1">External side of plasma membrane</text>
<line x1="115.70" y1="642.00" x2="116.90" y2="642.00" stroke="#444" stroke-width="0.4"/>
<rect x="116.90" y="648.10" width="9.90" height="5.80" fill="#4d8ed0"/>
<text x="114.60" y="652.70" font-size="4.6" text-anchor="end" fill="#222" stroke="#222" stroke-width="0.1">Double-stranded RNA binding</text>
<line x1="115.70" y1="651.00" x2="116.90" y2="651.00" stroke="#444" stroke-width="0.4"/>
<rect x="116.90" y="658.60" width="10.30" height="5.80" fill="#4d8ed0"/>
<text x="114.60" y="663.20" font-size="4.6" text-anchor="end" fill="#222" stroke="#222" stroke-width="0.1">CCR chemokine receptor binding</text>
<line x1="115.70" y1="661.50" x2="116.90" y2="661.50" stroke="#444" stroke-width="0.4"/>
<rect x="116.90" y="669.10" width="11.00" height="5.80" fill="#4d8ed0"/>
<text x="114.60" y="673.70" font-size="4.6" text-anchor="end" fill="#222" stroke="#222" stroke-width="0.1">Protein binding</text>
<line x1="115.70" y1="672.00" x2="116.90" y2="672.00" stroke="#444" stroke-width="0.4"/>
<rect x="116.90" y="679.60" width="11.00" height="5.80" fill="#4d8ed0"/>
<text x="114.60" y="684.20" font-size="4.6" text-anchor="end" fill="#222" stroke="#222" stroke-width="0.1">Signaling receptor activity</text>
<line x1="115.70" y1="682.50" x2="116.90" y2="682.50" stroke="#444" stroke-width="0.4"/>
<rect x="116.90" y="690.10" width="11.30" height="5.80" fill="#4d8ed0"/>
<text x="114.60" y="694.70" font-size="4.6" text-anchor="end" fill="#222" stroke="#222" stroke-width="0.1">Protein kinase binding</text>
<line x1="115.70" y1="693.00" x2="116.90" y2="693.00" stroke="#444" stroke-width="0.4"/>
<rect x="116.90" y="700.60" width="12.00" height="5.80" fill="#4d8ed0"/>
<text x="114.60" y="705.20" font-size="4.6" text-anchor="end" fill="#222" stroke="#222" stroke-width="0.1">Enzyme binding</text>
<line x1="115.70" y1="703.50" x2="116.90" y2="703.50" stroke="#444" stroke-width="0.4"/>
<rect x="116.90" y="711.10" width="13.00" height="5.80" fill="#4d8ed0"/>
<text x="114.60" y="715.70" font-size="4.6" text-anchor="end" fill="#222" stroke="#222" stroke-width="0.1">Transmembrane signaling receptor activity</text>
<line x1="115.70" y1="714.00" x2="116.90" y2="714.00" stroke="#444" stroke-width="0.4"/>
<rect x="116.90" y="721.60" width="14.60" height="5.80" fill="#4d8ed0"/>
<text x="114.60" y="726.20" font-size="4.6" text-anchor="end" fill="#222" stroke="#222" stroke-width="0.1">2'-5'-oligoadenylate synthetase activity</text>
<line x1="115.70" y1="724.50" x2="116.90" y2="724.50" stroke="#444" stroke-width="0.4"/>
<rect x="116.90" y="732.10" width="15.30" height="5.80" fill="#4d8ed0"/>
<text x="114.60" y="736.70" font-size="4.6" text-anchor="end" fill="#222" stroke="#222" stroke-width="0.1">Chemokine activity</text>
<line x1="115.70" y1="735.00" x2="116.90" y2="735.00" stroke="#444" stroke-width="0.4"/>
<rect x="116.90" y="742.60" width="32.10" height="5.80" fill="#4d8ed0"/>
<text x="114.60" y="747.20" font-size="4.6" text-anchor="end" fill="#222" stroke="#222" stroke-width="0.1">Identical protein binding</text>
<line x1="115.70" y1="745.50" x2="116.90" y2="745.50" stroke="#444" stroke-width="0.4"/>
<path d="M192.5 544.4H116.9V645.8H192.5" stroke="#3a3a3a" stroke-width="0.8" fill="none"/>
<line x1="192.50" y1="544.40" x2="192.50" y2="645.80" stroke="#9a98b0" stroke-width="0.5"/>
<path d="M192.5 647.9H116.9V749.2H192.5" stroke="#3a3a3a" stroke-width="0.8" fill="none"/>
<line x1="192.50" y1="647.90" x2="192.50" y2="749.20" stroke="#9a98b0" stroke-width="0.5"/>
<rect x="193.30" y="544.10" width="6.30" height="101.50" fill="#67a93b"/>
<rect x="193.30" y="647.80" width="6.30" height="101.50" fill="#e77b30"/>
<text x="194.65" y="595.00" font-size="5.0" text-anchor="middle" fill="#111" stroke="#111" stroke-width="0.1" transform="rotate(90 194.65 595.00)">Cellular component</text>
<text x="194.65" y="698.50" font-size="5.0" text-anchor="middle" fill="#111" stroke="#111" stroke-width="0.1" transform="rotate(90 194.65 698.50)">Molecular function</text>
<line x1="116.90" y1="749.30" x2="116.90" y2="750.80" stroke="#444" stroke-width="0.4"/>
<text x="116.90" y="754.70" font-size="4.3" text-anchor="middle" fill="#333" stroke="#333" stroke-width="0.1">0</text>
<line x1="137.70" y1="749.30" x2="137.70" y2="750.80" stroke="#444" stroke-width="0.4"/>
<text x="137.70" y="754.70" font-size="4.3" text-anchor="middle" fill="#333" stroke="#333" stroke-width="0.1">10</text>
<line x1="158.50" y1="749.30" x2="158.50" y2="750.80" stroke="#444" stroke-width="0.4"/>
<text x="158.50" y="754.70" font-size="4.3" text-anchor="middle" fill="#333" stroke="#333" stroke-width="0.1">20</text>
<line x1="179.30" y1="749.30" x2="179.30" y2="750.80" stroke="#444" stroke-width="0.4"/>
<text x="179.30" y="754.70" font-size="4.3" text-anchor="middle" fill="#333" stroke="#333" stroke-width="0.1">30</text>
<text x="154.0" y="762.7" font-size="4.8" text-anchor="middle" fill="#222" stroke="#222" stroke-width="0.13">−log<tspan font-size="3.4" dy="1">10</tspan><tspan dy="-1"> </tspan><tspan font-style="italic">P</tspan>-value</text>
<text x="154.00" y="772.90" font-size="7.7" text-anchor="middle" fill="#111" stroke="#111" stroke-width="0.14">PLA-vs-NC</text>
<rect x="73.00" y="731.40" width="60.90" height="7.90" fill="none" stroke="#e8303a" stroke-width="0.8"/>
<rect x="368.40" y="544.60" width="23.90" height="5.80" fill="#e77b30"/>
<text x="364.60" y="549.20" font-size="4.6" text-anchor="end" fill="#222" stroke="#222" stroke-width="0.1">Basement membrane</text>
<line x1="367.20" y1="547.50" x2="368.40" y2="547.50" stroke="#444" stroke-width="0.4"/>
<rect x="368.40" y="555.10" width="24.90" height="5.80" fill="#e77b30"/>
<text x="364.60" y="559.70" font-size="4.6" text-anchor="end" fill="#222" stroke="#222" stroke-width="0.1">Collagen-containing extracellular matrix</text>
<line x1="367.20" y1="558.00" x2="368.40" y2="558.00" stroke="#444" stroke-width="0.4"/>
<rect x="368.40" y="565.60" width="27.90" height="5.80" fill="#e77b30"/>
<text x="364.60" y="570.20" font-size="4.6" text-anchor="end" fill="#222" stroke="#222" stroke-width="0.1">Extracellular region</text>
<line x1="367.20" y1="568.50" x2="368.40" y2="568.50" stroke="#444" stroke-width="0.4"/>
<rect x="368.40" y="576.10" width="30.60" height="5.80" fill="#e77b30"/>
<text x="364.60" y="580.70" font-size="4.6" text-anchor="end" fill="#222" stroke="#222" stroke-width="0.1">Extracellular matrix</text>
<line x1="367.20" y1="579.00" x2="368.40" y2="579.00" stroke="#444" stroke-width="0.4"/>
<rect x="368.40" y="586.60" width="39.60" height="5.80" fill="#e77b30"/>
<text x="364.60" y="591.20" font-size="4.6" text-anchor="end" fill="#222" stroke="#222" stroke-width="0.1">Cytoplasm</text>
<line x1="367.20" y1="589.50" x2="368.40" y2="589.50" stroke="#444" stroke-width="0.4"/>
<rect x="368.40" y="597.10" width="40.60" height="5.80" fill="#e77b30"/>
<text x="364.60" y="601.70" font-size="4.6" text-anchor="end" fill="#222" stroke="#222" stroke-width="0.1">Cytosol</text>
<line x1="367.20" y1="600.00" x2="368.40" y2="600.00" stroke="#444" stroke-width="0.4"/>
<rect x="368.40" y="607.60" width="41.30" height="5.80" fill="#e77b30"/>
<text x="364.60" y="612.20" font-size="4.6" text-anchor="end" fill="#222" stroke="#222" stroke-width="0.1">External side of plasma membrane</text>
<line x1="367.20" y1="610.50" x2="368.40" y2="610.50" stroke="#444" stroke-width="0.4"/>
<rect x="368.40" y="618.10" width="57.40" height="5.80" fill="#e77b30"/>
<text x="364.60" y="622.70" font-size="4.6" text-anchor="end" fill="#222" stroke="#222" stroke-width="0.1">Membrane raft</text>
<line x1="367.20" y1="621.00" x2="368.40" y2="621.00" stroke="#444" stroke-width="0.4"/>
<rect x="368.40" y="628.60" width="62.40" height="5.80" fill="#e77b30"/>
<text x="364.60" y="633.20" font-size="4.6" text-anchor="end" fill="#222" stroke="#222" stroke-width="0.1">Cell surface</text>
<line x1="367.20" y1="631.50" x2="368.40" y2="631.50" stroke="#444" stroke-width="0.4"/>
<rect x="368.40" y="639.10" width="75.10" height="5.80" fill="#e77b30"/>
<text x="364.60" y="643.70" font-size="4.6" text-anchor="end" fill="#222" stroke="#222" stroke-width="0.1">Extracellular space</text>
<line x1="367.20" y1="642.00" x2="368.40" y2="642.00" stroke="#444" stroke-width="0.4"/>
<rect x="368.40" y="648.10" width="22.90" height="5.80" fill="#4d8ed0"/>
<text x="364.60" y="652.70" font-size="4.6" text-anchor="end" fill="#222" stroke="#222" stroke-width="0.1">Extracellular matrix binding</text>
<line x1="367.20" y1="651.00" x2="368.40" y2="651.00" stroke="#444" stroke-width="0.4"/>
<rect x="368.40" y="658.60" width="22.90" height="5.80" fill="#4d8ed0"/>
<text x="364.60" y="663.20" font-size="4.6" text-anchor="end" fill="#222" stroke="#222" stroke-width="0.1">Growth factor activity</text>
<line x1="367.20" y1="661.50" x2="368.40" y2="661.50" stroke="#444" stroke-width="0.4"/>
<rect x="368.40" y="669.10" width="22.90" height="5.80" fill="#4d8ed0"/>
<text x="364.60" y="673.70" font-size="4.6" text-anchor="end" fill="#222" stroke="#222" stroke-width="0.1">Ferric iron binding</text>
<line x1="367.20" y1="672.00" x2="368.40" y2="672.00" stroke="#444" stroke-width="0.4"/>
<rect x="368.40" y="679.60" width="22.90" height="5.80" fill="#4d8ed0"/>
<text x="364.60" y="684.20" font-size="4.6" text-anchor="end" fill="#222" stroke="#222" stroke-width="0.1">Inhibitory MHC class I receptor activity</text>
<line x1="367.20" y1="682.50" x2="368.40" y2="682.50" stroke="#444" stroke-width="0.4"/>
<rect x="368.40" y="690.10" width="24.60" height="5.80" fill="#4d8ed0"/>
<text x="364.60" y="694.70" font-size="4.6" text-anchor="end" fill="#222" stroke="#222" stroke-width="0.1">Collagen binding</text>
<line x1="367.20" y1="693.00" x2="368.40" y2="693.00" stroke="#444" stroke-width="0.4"/>
<rect x="368.40" y="700.60" width="25.60" height="5.80" fill="#4d8ed0"/>
<text x="364.60" y="705.20" font-size="4.6" text-anchor="end" fill="#222" stroke="#222" stroke-width="0.1">Protease binding</text>
<line x1="367.20" y1="703.50" x2="368.40" y2="703.50" stroke="#444" stroke-width="0.4"/>
<rect x="368.40" y="711.10" width="26.60" height="5.80" fill="#4d8ed0"/>
<text x="364.60" y="715.70" font-size="4.6" text-anchor="end" fill="#222" stroke="#222" stroke-width="0.1">Signaling receptor activity</text>
<line x1="367.20" y1="714.00" x2="368.40" y2="714.00" stroke="#444" stroke-width="0.4"/>
<rect x="368.40" y="721.60" width="27.30" height="5.80" fill="#4d8ed0"/>
<text x="364.60" y="726.20" font-size="4.6" text-anchor="end" fill="#222" stroke="#222" stroke-width="0.1">Fibronectin binding</text>
<line x1="367.20" y1="724.50" x2="368.40" y2="724.50" stroke="#444" stroke-width="0.4"/>
<rect x="368.40" y="732.10" width="43.00" height="5.80" fill="#4d8ed0"/>
<text x="364.60" y="736.70" font-size="4.6" text-anchor="end" fill="#222" stroke="#222" stroke-width="0.1">Cytokine activity</text>
<line x1="367.20" y1="735.00" x2="368.40" y2="735.00" stroke="#444" stroke-width="0.4"/>
<rect x="368.40" y="742.60" width="58.40" height="5.80" fill="#4d8ed0"/>
<text x="364.60" y="747.20" font-size="4.6" text-anchor="end" fill="#222" stroke="#222" stroke-width="0.1">Identical protein binding</text>
<line x1="367.20" y1="745.50" x2="368.40" y2="745.50" stroke="#444" stroke-width="0.4"/>
<path d="M450.9 544.4H368.4V645.8H450.9" stroke="#3a3a3a" stroke-width="0.8" fill="none"/>
<line x1="450.90" y1="544.40" x2="450.90" y2="645.80" stroke="#9a98b0" stroke-width="0.5"/>
<path d="M450.9 647.9H368.4V749.2H450.9" stroke="#3a3a3a" stroke-width="0.8" fill="none"/>
<line x1="450.90" y1="647.90" x2="450.90" y2="749.20" stroke="#9a98b0" stroke-width="0.5"/>
<rect x="451.60" y="544.10" width="6.10" height="101.50" fill="#67a93b"/>
<rect x="451.60" y="647.80" width="6.10" height="101.50" fill="#e77b30"/>
<text x="452.85" y="595.00" font-size="5.0" text-anchor="middle" fill="#111" stroke="#111" stroke-width="0.1" transform="rotate(90 452.85 595.00)">Cellular component</text>
<text x="452.85" y="698.50" font-size="5.0" text-anchor="middle" fill="#111" stroke="#111" stroke-width="0.1" transform="rotate(90 452.85 698.50)">Molecular function</text>
<line x1="368.40" y1="749.30" x2="368.40" y2="750.80" stroke="#444" stroke-width="0.4"/>
<text x="368.40" y="754.70" font-size="4.3" text-anchor="middle" fill="#333" stroke="#333" stroke-width="0.1">0</text>
<line x1="394.20" y1="749.30" x2="394.20" y2="750.80" stroke="#444" stroke-width="0.4"/>
<text x="394.20" y="754.70" font-size="4.3" text-anchor="middle" fill="#333" stroke="#333" stroke-width="0.1">5</text>
<line x1="420.40" y1="749.30" x2="420.40" y2="750.80" stroke="#444" stroke-width="0.4"/>
<text x="420.40" y="754.70" font-size="4.3" text-anchor="middle" fill="#333" stroke="#333" stroke-width="0.1">10</text>
<line x1="446.60" y1="749.30" x2="446.60" y2="750.80" stroke="#444" stroke-width="0.4"/>
<text x="446.60" y="754.70" font-size="4.3" text-anchor="middle" fill="#333" stroke="#333" stroke-width="0.1">15</text>
<text x="407.5" y="762.7" font-size="4.8" text-anchor="middle" fill="#222" stroke="#222" stroke-width="0.13">−log<tspan font-size="3.4" dy="1">10</tspan><tspan dy="-1"> </tspan><tspan font-style="italic">P</tspan>-value</text>
<text x="407.50" y="772.90" font-size="7.7" text-anchor="middle" fill="#111" stroke="#111" stroke-width="0.14">PLA-vs-GelMA</text>
<rect x="326.00" y="731.40" width="86.40" height="7.90" fill="none" stroke="#e8303a" stroke-width="0.8"/>
<rect x="611.80" y="544.60" width="16.80" height="5.80" fill="#e77b30"/>
<text x="608.00" y="549.20" font-size="4.6" text-anchor="end" fill="#222" stroke="#222" stroke-width="0.1">Cytoplasmic vesicle</text>
<line x1="610.60" y1="547.50" x2="611.80" y2="547.50" stroke="#444" stroke-width="0.4"/>
<rect x="611.80" y="555.10" width="17.50" height="5.80" fill="#e77b30"/>
<text x="608.00" y="559.70" font-size="4.6" text-anchor="end" fill="#222" stroke="#222" stroke-width="0.1">Collagen trimer</text>
<line x1="610.60" y1="558.00" x2="611.80" y2="558.00" stroke="#444" stroke-width="0.4"/>
<rect x="611.80" y="565.60" width="20.20" height="5.80" fill="#e77b30"/>
<text x="608.00" y="570.20" font-size="4.6" text-anchor="end" fill="#222" stroke="#222" stroke-width="0.1">Cytoplasm</text>
<line x1="610.60" y1="568.50" x2="611.80" y2="568.50" stroke="#444" stroke-width="0.4"/>
<rect x="611.80" y="576.10" width="23.20" height="5.80" fill="#e77b30"/>
<text x="608.00" y="580.70" font-size="4.6" text-anchor="end" fill="#222" stroke="#222" stroke-width="0.1">Extracellular matrix</text>
<line x1="610.60" y1="579.00" x2="611.80" y2="579.00" stroke="#444" stroke-width="0.4"/>
<rect x="611.80" y="586.60" width="25.90" height="5.80" fill="#e77b30"/>
<text x="608.00" y="591.20" font-size="4.6" text-anchor="end" fill="#222" stroke="#222" stroke-width="0.1">Cytosol</text>
<line x1="610.60" y1="589.50" x2="611.80" y2="589.50" stroke="#444" stroke-width="0.4"/>
<rect x="611.80" y="597.10" width="29.20" height="5.80" fill="#e77b30"/>
<text x="608.00" y="601.70" font-size="4.6" text-anchor="end" fill="#222" stroke="#222" stroke-width="0.1">Plasma membrane</text>
<line x1="610.60" y1="600.00" x2="611.80" y2="600.00" stroke="#444" stroke-width="0.4"/>
<rect x="611.80" y="607.60" width="37.60" height="5.80" fill="#e77b30"/>
<text x="608.00" y="612.20" font-size="4.6" text-anchor="end" fill="#222" stroke="#222" stroke-width="0.1">Membrane raft</text>
<line x1="610.60" y1="610.50" x2="611.80" y2="610.50" stroke="#444" stroke-width="0.4"/>
<rect x="611.80" y="618.10" width="40.90" height="5.80" fill="#e77b30"/>
<text x="608.00" y="622.70" font-size="4.6" text-anchor="end" fill="#222" stroke="#222" stroke-width="0.1">Extracellular space</text>
<line x1="610.60" y1="621.00" x2="611.80" y2="621.00" stroke="#444" stroke-width="0.4"/>
<rect x="611.80" y="628.60" width="57.70" height="5.80" fill="#e77b30"/>
<text x="608.00" y="633.20" font-size="4.6" text-anchor="end" fill="#222" stroke="#222" stroke-width="0.1">Cell surface</text>
<line x1="610.60" y1="631.50" x2="611.80" y2="631.50" stroke="#444" stroke-width="0.4"/>
<rect x="611.80" y="639.10" width="62.70" height="5.80" fill="#e77b30"/>
<text x="608.00" y="643.70" font-size="4.6" text-anchor="end" fill="#222" stroke="#222" stroke-width="0.1">External side of plasma membrane</text>
<line x1="610.60" y1="642.00" x2="611.80" y2="642.00" stroke="#444" stroke-width="0.4"/>
<rect x="611.80" y="648.10" width="15.20" height="5.80" fill="#4d8ed0"/>
<text x="608.00" y="652.70" font-size="4.6" text-anchor="end" fill="#222" stroke="#222" stroke-width="0.1">Protein kinase binding</text>
<line x1="610.60" y1="651.00" x2="611.80" y2="651.00" stroke="#444" stroke-width="0.4"/>
<rect x="611.80" y="658.60" width="15.80" height="5.80" fill="#4d8ed0"/>
<text x="608.00" y="663.20" font-size="4.6" text-anchor="end" fill="#222" stroke="#222" stroke-width="0.1">Signaling receptor binding</text>
<line x1="610.60" y1="661.50" x2="611.80" y2="661.50" stroke="#444" stroke-width="0.4"/>
<rect x="611.80" y="669.10" width="15.80" height="5.80" fill="#4d8ed0"/>
<text x="608.00" y="673.70" font-size="4.6" text-anchor="end" fill="#222" stroke="#222" stroke-width="0.1">Integrin binding</text>
<line x1="610.60" y1="672.00" x2="611.80" y2="672.00" stroke="#444" stroke-width="0.4"/>
<rect x="611.80" y="679.60" width="16.80" height="5.80" fill="#4d8ed0"/>
<text x="608.00" y="684.20" font-size="4.6" text-anchor="end" fill="#222" stroke="#222" stroke-width="0.1">Transmembrane signaling receptor activity</text>
<line x1="610.60" y1="682.50" x2="611.80" y2="682.50" stroke="#444" stroke-width="0.4"/>
<rect x="611.80" y="690.10" width="16.80" height="5.80" fill="#4d8ed0"/>
<text x="608.00" y="694.70" font-size="4.6" text-anchor="end" fill="#222" stroke="#222" stroke-width="0.1">Platelet-derived growth factor receptor binding</text>
<line x1="610.60" y1="693.00" x2="611.80" y2="693.00" stroke="#444" stroke-width="0.4"/>
<rect x="611.80" y="700.60" width="20.20" height="5.80" fill="#4d8ed0"/>
<text x="608.00" y="705.20" font-size="4.6" text-anchor="end" fill="#222" stroke="#222" stroke-width="0.1">Enzyme binding</text>
<line x1="610.60" y1="703.50" x2="611.80" y2="703.50" stroke="#444" stroke-width="0.4"/>
<rect x="611.80" y="711.10" width="24.20" height="5.80" fill="#4d8ed0"/>
<text x="608.00" y="715.70" font-size="4.6" text-anchor="end" fill="#222" stroke="#222" stroke-width="0.1">Cytokine activity</text>
<line x1="610.60" y1="714.00" x2="611.80" y2="714.00" stroke="#444" stroke-width="0.4"/>
<rect x="611.80" y="721.60" width="24.20" height="5.80" fill="#4d8ed0"/>
<text x="608.00" y="726.20" font-size="4.6" text-anchor="end" fill="#222" stroke="#222" stroke-width="0.1">Signaling receptor activity</text>
<line x1="610.60" y1="724.50" x2="611.80" y2="724.50" stroke="#444" stroke-width="0.4"/>
<rect x="611.80" y="732.10" width="26.90" height="5.80" fill="#4d8ed0"/>
<text x="608.00" y="736.70" font-size="4.6" text-anchor="end" fill="#222" stroke="#222" stroke-width="0.1">Protein binding</text>
<line x1="610.60" y1="735.00" x2="611.80" y2="735.00" stroke="#444" stroke-width="0.4"/>
<rect x="611.80" y="742.60" width="29.20" height="5.80" fill="#4d8ed0"/>
<text x="608.00" y="747.20" font-size="4.6" text-anchor="end" fill="#222" stroke="#222" stroke-width="0.1">Identical protein binding</text>
<line x1="610.60" y1="745.50" x2="611.80" y2="745.50" stroke="#444" stroke-width="0.4"/>
<path d="M680.5 544.4H611.8V645.8H680.5" stroke="#3a3a3a" stroke-width="0.8" fill="none"/>
<line x1="680.50" y1="544.40" x2="680.50" y2="645.80" stroke="#9a98b0" stroke-width="0.5"/>
<path d="M680.5 647.9H611.8V749.2H680.5" stroke="#3a3a3a" stroke-width="0.8" fill="none"/>
<line x1="680.50" y1="647.90" x2="680.50" y2="749.20" stroke="#9a98b0" stroke-width="0.5"/>
<rect x="681.30" y="544.10" width="6.00" height="101.50" fill="#67a93b"/>
<rect x="681.30" y="647.80" width="6.00" height="101.50" fill="#e77b30"/>
<text x="682.50" y="595.00" font-size="5.0" text-anchor="middle" fill="#111" stroke="#111" stroke-width="0.1" transform="rotate(90 682.50 595.00)">Cellular component</text>
<text x="682.50" y="698.50" font-size="5.0" text-anchor="middle" fill="#111" stroke="#111" stroke-width="0.1" transform="rotate(90 682.50 698.50)">Molecular function</text>
<line x1="611.80" y1="749.30" x2="611.80" y2="750.80" stroke="#444" stroke-width="0.4"/>
<text x="611.80" y="754.70" font-size="4.3" text-anchor="middle" fill="#333" stroke="#333" stroke-width="0.1">0</text>
<line x1="626.70" y1="749.30" x2="626.70" y2="750.80" stroke="#444" stroke-width="0.4"/>
<text x="626.70" y="754.70" font-size="4.3" text-anchor="middle" fill="#333" stroke="#333" stroke-width="0.1">5</text>
<line x1="641.60" y1="749.30" x2="641.60" y2="750.80" stroke="#444" stroke-width="0.4"/>
<text x="641.60" y="754.70" font-size="4.3" text-anchor="middle" fill="#333" stroke="#333" stroke-width="0.1">10</text>
<line x1="656.50" y1="749.30" x2="656.50" y2="750.80" stroke="#444" stroke-width="0.4"/>
<text x="656.50" y="754.70" font-size="4.3" text-anchor="middle" fill="#333" stroke="#333" stroke-width="0.1">15</text>
<line x1="671.40" y1="749.30" x2="671.40" y2="750.80" stroke="#444" stroke-width="0.4"/>
<text x="671.40" y="754.70" font-size="4.3" text-anchor="middle" fill="#333" stroke="#333" stroke-width="0.1">20</text>
<text x="646.0" y="762.7" font-size="4.8" text-anchor="middle" fill="#222" stroke="#222" stroke-width="0.13">−log<tspan font-size="3.4" dy="1">10</tspan><tspan dy="-1"> </tspan><tspan font-style="italic">P</tspan>-value</text>
<text x="646.00" y="772.90" font-size="7.7" text-anchor="middle" fill="#111" stroke="#111" stroke-width="0.14">PLA-vs-CTS</text>
<rect x="571.70" y="710.80" width="66.00" height="7.60" fill="none" stroke="#e8303a" stroke-width="0.8"/>
<defs><linearGradient id="pvg" x1="0" y1="1" x2="0" y2="0"><stop offset="0" stop-color="#a50026"/><stop offset="0.12" stop-color="#d73027"/><stop offset="0.3" stop-color="#f46d43"/><stop offset="0.45" stop-color="#fdae61"/><stop offset="0.55" stop-color="#fee090"/><stop offset="0.65" stop-color="#ffffbf"/><stop offset="0.75" stop-color="#e0f3f8"/><stop offset="0.85" stop-color="#abd9e9"/><stop offset="0.93" stop-color="#74add1"/><stop offset="1" stop-color="#313695"/></linearGradient></defs>
<text x="0.30" y="802.50" font-size="16.5" font-weight="bold">f</text>
<text x="4.40" y="873.70" font-size="4.9" text-anchor="middle" fill="#222" stroke="#222" stroke-width="0.1" transform="rotate(-90 4.40 873.70)">Top up-enrichment KEGG pathways</text>
<path d="M117.0 803.0V942.6M124.5 803.0V942.6M131.9 803.0V942.6M139.3 803.0V942.6M146.8 803.0V942.6M154.2 803.0V942.6M161.7 803.0V942.6M169.2 803.0V942.6M176.6 803.0V942.6M184.1 803.0V942.6M191.5 803.0V942.6M117.0 809.5H191.5M117.0 816.2H191.5M117.0 822.8H191.5M117.0 829.5H191.5M117.0 836.2H191.5M117.0 842.9H191.5M117.0 849.5H191.5M117.0 856.2H191.5M117.0 862.9H191.5M117.0 869.5H191.5M117.0 876.2H191.5M117.0 882.9H191.5M117.0 889.5H191.5M117.0 896.2H191.5M117.0 902.9H191.5M117.0 909.5H191.5M117.0 916.2H191.5M117.0 922.9H191.5M117.0 929.6H191.5M117.0 936.2H191.5" stroke="#ececec" stroke-width="0.4" fill="none"/>
<rect x="117.00" y="803.00" width="74.50" height="139.60" fill="none" stroke="#3a3a3a" stroke-width="0.6"/>
<circle cx="143.90" cy="809.50" r="2.05" fill="#b2182b"/>
<line x1="115.80" y1="809.50" x2="117.00" y2="809.50" stroke="#444" stroke-width="0.4"/>
<text x="113.00" y="811.15" font-size="4.7" text-anchor="end" fill="#222" stroke="#222" stroke-width="0.1">Cytokine-cytokine receptor interaction</text>
<circle cx="158.00" cy="816.17" r="1.75" fill="#b2182b"/>
<line x1="115.80" y1="816.17" x2="117.00" y2="816.17" stroke="#444" stroke-width="0.4"/>
<text x="113.00" y="815.97" font-size="4.7" text-anchor="end" fill="#222" stroke="#222" stroke-width="0.1">Viral protein interaction with cytokine-cytokine and</text>
<text x="113.00" y="819.77" font-size="4.7" text-anchor="end" fill="#222" stroke="#222" stroke-width="0.1">cytokine receptor</text>
<circle cx="154.00" cy="822.84" r="1.75" fill="#b2182b"/>
<line x1="115.80" y1="822.84" x2="117.00" y2="822.84" stroke="#444" stroke-width="0.4"/>
<text x="113.00" y="824.49" font-size="4.7" text-anchor="end" fill="#222" stroke="#222" stroke-width="0.1">NF-kappa B signaling pathway</text>
<circle cx="147.30" cy="829.51" r="1.75" fill="#b2182b"/>
<line x1="115.80" y1="829.51" x2="117.00" y2="829.51" stroke="#444" stroke-width="0.4"/>
<text x="113.00" y="831.16" font-size="4.7" text-anchor="end" fill="#222" stroke="#222" stroke-width="0.1">TNF signaling pathway</text>
<circle cx="141.30" cy="836.18" r="1.65" fill="#b2182b"/>
<line x1="115.80" y1="836.18" x2="117.00" y2="836.18" stroke="#444" stroke-width="0.4"/>
<text x="113.00" y="837.83" font-size="4.7" text-anchor="end" fill="#222" stroke="#222" stroke-width="0.1">Apoptosis</text>
<circle cx="138.20" cy="842.85" r="1.75" fill="#b2182b"/>
<line x1="115.80" y1="842.85" x2="117.00" y2="842.85" stroke="#444" stroke-width="0.4"/>
<text x="113.00" y="844.50" font-size="4.7" text-anchor="end" fill="#222" stroke="#222" stroke-width="0.1">Cell adhesion molecules</text>
<circle cx="138.90" cy="849.52" r="1.75" fill="#b2182b"/>
<line x1="115.80" y1="849.52" x2="117.00" y2="849.52" stroke="#444" stroke-width="0.4"/>
<text x="113.00" y="851.17" font-size="4.7" text-anchor="end" fill="#222" stroke="#222" stroke-width="0.1">JAK-STAT signaling pathway</text>
<circle cx="136.60" cy="856.19" r="1.65" fill="#b2182b"/>
<line x1="115.80" y1="856.19" x2="117.00" y2="856.19" stroke="#444" stroke-width="0.4"/>
<text x="113.00" y="857.84" font-size="4.7" text-anchor="end" fill="#222" stroke="#222" stroke-width="0.1">Phagosome</text>
<circle cx="135.60" cy="862.86" r="1.65" fill="#b2182b"/>
<line x1="115.80" y1="862.86" x2="117.00" y2="862.86" stroke="#444" stroke-width="0.4"/>
<text x="113.00" y="864.51" font-size="4.7" text-anchor="end" fill="#222" stroke="#222" stroke-width="0.1">Necroptosis</text>
<circle cx="138.20" cy="869.53" r="1.65" fill="#b2182b"/>
<line x1="115.80" y1="869.53" x2="117.00" y2="869.53" stroke="#444" stroke-width="0.4"/>
<text x="113.00" y="871.18" font-size="4.7" text-anchor="end" fill="#222" stroke="#222" stroke-width="0.1">HIF-1 signaling pathway</text>
<circle cx="168.40" cy="876.20" r="0.95" fill="#b2182b"/>
<line x1="115.80" y1="876.20" x2="117.00" y2="876.20" stroke="#444" stroke-width="0.4"/>
<text x="113.00" y="877.85" font-size="4.7" text-anchor="end" fill="#222" stroke="#222" stroke-width="0.1">Virion - herpesvirus</text>
<circle cx="134.60" cy="882.87" r="1.65" fill="#b2182b"/>
<line x1="115.80" y1="882.87" x2="117.00" y2="882.87" stroke="#444" stroke-width="0.4"/>
<text x="113.00" y="884.52" font-size="4.7" text-anchor="end" fill="#222" stroke="#222" stroke-width="0.1">Autophagy - animal</text>
<circle cx="130.50" cy="889.54" r="2.05" fill="#b2182b"/>
<line x1="115.80" y1="889.54" x2="117.00" y2="889.54" stroke="#444" stroke-width="0.4"/>
<text x="113.00" y="891.19" font-size="4.7" text-anchor="end" fill="#222" stroke="#222" stroke-width="0.1">PI3K-Akt signaling pathway</text>
<circle cx="144.60" cy="896.21" r="1.15" fill="#d8432e"/>
<line x1="115.80" y1="896.21" x2="117.00" y2="896.21" stroke="#444" stroke-width="0.4"/>
<text x="113.00" y="897.86" font-size="4.7" text-anchor="end" fill="#222" stroke="#222" stroke-width="0.1">Fructose and mannose metabolism</text>
<circle cx="132.20" cy="902.88" r="1.65" fill="#f5a24a"/>
<line x1="115.80" y1="902.88" x2="117.00" y2="902.88" stroke="#444" stroke-width="0.4"/>
<text x="113.00" y="904.53" font-size="4.7" text-anchor="end" fill="#222" stroke="#222" stroke-width="0.1">Lysosome</text>
<circle cx="135.60" cy="909.55" r="1.35" fill="#fdcf6e"/>
<line x1="115.80" y1="909.55" x2="117.00" y2="909.55" stroke="#444" stroke-width="0.4"/>
<text x="113.00" y="911.20" font-size="4.7" text-anchor="end" fill="#222" stroke="#222" stroke-width="0.1">Mitophagy - animal</text>
<circle cx="129.50" cy="916.22" r="1.65" fill="#b7dcef"/>
<line x1="115.80" y1="916.22" x2="117.00" y2="916.22" stroke="#444" stroke-width="0.4"/>
<text x="113.00" y="917.87" font-size="4.7" text-anchor="end" fill="#222" stroke="#222" stroke-width="0.1">Ras signaling pathway</text>
<circle cx="131.20" cy="922.89" r="1.55" fill="#9fcbe6"/>
<line x1="115.80" y1="922.89" x2="117.00" y2="922.89" stroke="#444" stroke-width="0.4"/>
<text x="113.00" y="924.54" font-size="4.7" text-anchor="end" fill="#222" stroke="#222" stroke-width="0.1">Apelin signaling pathway</text>
<circle cx="133.20" cy="929.56" r="1.55" fill="#5b8fcb"/>
<line x1="115.80" y1="929.56" x2="117.00" y2="929.56" stroke="#444" stroke-width="0.4"/>
<text x="113.00" y="931.21" font-size="4.7" text-anchor="end" fill="#222" stroke="#222" stroke-width="0.1">ECM-receptor interaction</text>
<circle cx="137.60" cy="936.23" r="1.35" fill="#2f4a9e"/>
<line x1="115.80" y1="936.23" x2="117.00" y2="936.23" stroke="#444" stroke-width="0.4"/>
<text x="113.00" y="937.88" font-size="4.7" text-anchor="end" fill="#222" stroke="#222" stroke-width="0.1">Ferroptosis</text>
<line x1="117.00" y1="942.60" x2="117.00" y2="944.00" stroke="#444" stroke-width="0.4"/>
<text x="117.00" y="948.70" font-size="4.3" text-anchor="middle" fill="#333" stroke="#333" stroke-width="0.1">0</text>
<line x1="131.90" y1="942.60" x2="131.90" y2="944.00" stroke="#444" stroke-width="0.4"/>
<text x="131.90" y="948.70" font-size="4.3" text-anchor="middle" fill="#333" stroke="#333" stroke-width="0.1">2</text>
<line x1="146.80" y1="942.60" x2="146.80" y2="944.00" stroke="#444" stroke-width="0.4"/>
<text x="146.80" y="948.70" font-size="4.3" text-anchor="middle" fill="#333" stroke="#333" stroke-width="0.1">4</text>
<line x1="161.70" y1="942.60" x2="161.70" y2="944.00" stroke="#444" stroke-width="0.4"/>
<text x="161.70" y="948.70" font-size="4.3" text-anchor="middle" fill="#333" stroke="#333" stroke-width="0.1">6</text>
<line x1="176.60" y1="942.60" x2="176.60" y2="944.00" stroke="#444" stroke-width="0.4"/>
<text x="176.60" y="948.70" font-size="4.3" text-anchor="middle" fill="#333" stroke="#333" stroke-width="0.1">8</text>
<line x1="191.50" y1="942.60" x2="191.50" y2="944.00" stroke="#444" stroke-width="0.4"/>
<text x="191.50" y="948.70" font-size="4.3" text-anchor="middle" fill="#333" stroke="#333" stroke-width="0.1">10</text>
<text x="154.00" y="956.40" font-size="4.5" text-anchor="middle" fill="#222" stroke="#222" stroke-width="0.1">Enrichment Score</text>
<text x="154.00" y="969.10" font-size="7.6" text-anchor="middle" fill="#111" stroke="#111" stroke-width="0.14">PLA-vs-NC</text>
<rect x="35.10" y="806.40" width="112.20" height="6.70" fill="none" stroke="#e8303a" stroke-width="0.8"/>
<text x="194.50" y="833.60" font-size="4.5" fill="#222" stroke="#222" stroke-width="0.1">GeneNumber</text>
<circle cx="199.50" cy="840.30" r="0.90" fill="#111"/>
<text x="202.40" y="841.90" font-size="4.5" fill="#222" stroke="#222" stroke-width="0.1">7</text>
<circle cx="199.50" cy="855.30" r="1.35" fill="#111"/>
<text x="202.40" y="856.90" font-size="4.5" fill="#222" stroke="#222" stroke-width="0.1">25</text>
<circle cx="199.50" cy="869.70" r="1.75" fill="#111"/>
<text x="202.40" y="871.30" font-size="4.5" fill="#222" stroke="#222" stroke-width="0.1">65</text>
<text x="194.5" y="879" font-size="4.6" fill="#222" stroke="#222" stroke-width="0.13"><tspan font-style="italic">P</tspan>-value</text>
<rect x="194.90" y="882.70" width="7.40" height="39.00" fill="url(#pvg)"/>
<text x="203.70" y="885.40" font-size="4.5" fill="#222" stroke="#222" stroke-width="0.1">0.006</text>
<text x="203.70" y="898.00" font-size="4.5" fill="#222" stroke="#222" stroke-width="0.1">0.004</text>
<text x="203.70" y="910.60" font-size="4.5" fill="#222" stroke="#222" stroke-width="0.1">0.002</text>
<text x="203.70" y="923.20" font-size="4.5" fill="#222" stroke="#222" stroke-width="0.1">0</text>
<path d="M368.4 803.0V942.6M375.8 803.0V942.6M383.1 803.0V942.6M390.5 803.0V942.6M397.8 803.0V942.6M405.2 803.0V942.6M412.6 803.0V942.6M419.9 803.0V942.6M427.3 803.0V942.6M434.6 803.0V942.6M442.0 803.0V942.6M368.4 809.5H442.0M368.4 816.2H442.0M368.4 822.8H442.0M368.4 829.5H442.0M368.4 836.2H442.0M368.4 842.9H442.0M368.4 849.5H442.0M368.4 856.2H442.0M368.4 862.9H442.0M368.4 869.5H442.0M368.4 876.2H442.0M368.4 882.9H442.0M368.4 889.5H442.0M368.4 896.2H442.0M368.4 902.9H442.0M368.4 909.5H442.0M368.4 916.2H442.0M368.4 922.9H442.0M368.4 929.6H442.0M368.4 936.2H442.0" stroke="#ececec" stroke-width="0.4" fill="none"/>
<rect x="368.40" y="803.00" width="73.60" height="139.60" fill="none" stroke="#3a3a3a" stroke-width="0.6"/>
<circle cx="397.30" cy="809.50" r="1.75" fill="#b2182b"/>
<line x1="367.20" y1="809.50" x2="368.40" y2="809.50" stroke="#444" stroke-width="0.4"/>
<text x="365.60" y="811.15" font-size="4.7" text-anchor="end" fill="#222" stroke="#222" stroke-width="0.1">TNF signaling pathway</text>
<circle cx="393.00" cy="816.17" r="1.75" fill="#b2182b"/>
<line x1="367.20" y1="816.17" x2="368.40" y2="816.17" stroke="#444" stroke-width="0.4"/>
<text x="365.60" y="817.82" font-size="4.7" text-anchor="end" fill="#222" stroke="#222" stroke-width="0.1">HIF-1 signaling pathway</text>
<circle cx="384.60" cy="822.84" r="2.05" fill="#b2182b"/>
<line x1="367.20" y1="822.84" x2="368.40" y2="822.84" stroke="#444" stroke-width="0.4"/>
<text x="365.60" y="824.49" font-size="4.7" text-anchor="end" fill="#222" stroke="#222" stroke-width="0.1">PI3K-Akt signaling pathway</text>
<circle cx="385.00" cy="829.51" r="2.05" fill="#b2182b"/>
<line x1="367.20" y1="829.51" x2="368.40" y2="829.51" stroke="#444" stroke-width="0.4"/>
<text x="365.60" y="831.16" font-size="4.7" text-anchor="end" fill="#222" stroke="#222" stroke-width="0.1">Cytokine-cytokine receptor interaction</text>
<circle cx="386.00" cy="836.18" r="1.75" fill="#b2182b"/>
<line x1="367.20" y1="836.18" x2="368.40" y2="836.18" stroke="#444" stroke-width="0.4"/>
<text x="365.60" y="837.83" font-size="4.7" text-anchor="end" fill="#222" stroke="#222" stroke-width="0.1">Focal adhesion</text>
<circle cx="383.60" cy="842.85" r="2.05" fill="#b2182b"/>
<line x1="367.20" y1="842.85" x2="368.40" y2="842.85" stroke="#444" stroke-width="0.4"/>
<text x="365.60" y="844.50" font-size="4.7" text-anchor="end" fill="#222" stroke="#222" stroke-width="0.1">MAPK signaling pathway</text>
<circle cx="391.30" cy="849.52" r="1.65" fill="#b2182b"/>
<line x1="367.20" y1="849.52" x2="368.40" y2="849.52" stroke="#444" stroke-width="0.4"/>
<text x="365.60" y="851.17" font-size="4.7" text-anchor="end" fill="#222" stroke="#222" stroke-width="0.1">ECM-receptor interaction</text>
<circle cx="393.30" cy="856.19" r="1.65" fill="#b2182b"/>
<line x1="367.20" y1="856.19" x2="368.40" y2="856.19" stroke="#444" stroke-width="0.4"/>
<text x="365.60" y="857.84" font-size="4.7" text-anchor="end" fill="#222" stroke="#222" stroke-width="0.1">Glycolysis / Gluconeogenesis</text>
<circle cx="389.60" cy="862.86" r="1.65" fill="#b2182b"/>
<line x1="367.20" y1="862.86" x2="368.40" y2="862.86" stroke="#444" stroke-width="0.4"/>
<text x="365.60" y="864.51" font-size="4.7" text-anchor="end" fill="#222" stroke="#222" stroke-width="0.1">NF-kappa B signaling pathway</text>
<circle cx="390.60" cy="869.53" r="1.65" fill="#b2182b"/>
<line x1="367.20" y1="869.53" x2="368.40" y2="869.53" stroke="#444" stroke-width="0.4"/>
<text x="365.60" y="869.33" font-size="4.7" text-anchor="end" fill="#222" stroke="#222" stroke-width="0.1">Viral protein interaction with cytokine-cytokine and</text>
<text x="365.60" y="873.13" font-size="4.7" text-anchor="end" fill="#222" stroke="#222" stroke-width="0.1">cytokine receptor</text>
<circle cx="386.60" cy="876.20" r="1.75" fill="#b2182b"/>
<line x1="367.20" y1="876.20" x2="368.40" y2="876.20" stroke="#444" stroke-width="0.4"/>
<text x="365.60" y="877.85" font-size="4.7" text-anchor="end" fill="#222" stroke="#222" stroke-width="0.1">Apoptosis</text>
<circle cx="397.30" cy="882.87" r="1.15" fill="#b2182b"/>
<line x1="367.20" y1="882.87" x2="368.40" y2="882.87" stroke="#444" stroke-width="0.4"/>
<text x="365.60" y="884.52" font-size="4.7" text-anchor="end" fill="#222" stroke="#222" stroke-width="0.1">Fructose and mannose metabolism</text>
<circle cx="412.70" cy="889.54" r="0.95" fill="#b2182b"/>
<line x1="367.20" y1="889.54" x2="368.40" y2="889.54" stroke="#444" stroke-width="0.4"/>
<text x="365.60" y="891.19" font-size="4.7" text-anchor="end" fill="#222" stroke="#222" stroke-width="0.1">Virion - herpesvirus</text>
<circle cx="385.00" cy="896.21" r="1.65" fill="#b2182b"/>
<line x1="367.20" y1="896.21" x2="368.40" y2="896.21" stroke="#444" stroke-width="0.4"/>
<text x="365.60" y="897.86" font-size="4.7" text-anchor="end" fill="#222" stroke="#222" stroke-width="0.1">mTOR signaling pathway</text>
<circle cx="384.30" cy="902.88" r="1.65" fill="#f39a45"/>
<line x1="367.20" y1="902.88" x2="368.40" y2="902.88" stroke="#444" stroke-width="0.4"/>
<text x="365.60" y="904.53" font-size="4.7" text-anchor="end" fill="#222" stroke="#222" stroke-width="0.1">Apelin signaling pathway</text>
<circle cx="382.00" cy="909.55" r="1.55" fill="#b2daef"/>
<line x1="367.20" y1="909.55" x2="368.40" y2="909.55" stroke="#444" stroke-width="0.4"/>
<text x="365.60" y="911.20" font-size="4.7" text-anchor="end" fill="#222" stroke="#222" stroke-width="0.1">Rap1 signaling pathway</text>
<circle cx="383.30" cy="916.22" r="1.65" fill="#97c6e6"/>
<line x1="367.20" y1="916.22" x2="368.40" y2="916.22" stroke="#444" stroke-width="0.4"/>
<text x="365.60" y="917.87" font-size="4.7" text-anchor="end" fill="#222" stroke="#222" stroke-width="0.1">Autophagy - animal</text>
<circle cx="391.30" cy="922.89" r="1.15" fill="#7aa9d8"/>
<line x1="367.20" y1="922.89" x2="368.40" y2="922.89" stroke="#444" stroke-width="0.4"/>
<text x="365.60" y="924.54" font-size="4.7" text-anchor="end" fill="#222" stroke="#222" stroke-width="0.1">Ferroptosis</text>
<circle cx="385.00" cy="929.56" r="1.55" fill="#4a72bd"/>
<line x1="367.20" y1="929.56" x2="368.40" y2="929.56" stroke="#444" stroke-width="0.4"/>
<text x="365.60" y="931.21" font-size="4.7" text-anchor="end" fill="#222" stroke="#222" stroke-width="0.1">TGF-beta signaling pathway</text>
<circle cx="382.60" cy="936.23" r="1.75" fill="#2c3f98"/>
<line x1="367.20" y1="936.23" x2="368.40" y2="936.23" stroke="#444" stroke-width="0.4"/>
<text x="365.60" y="937.88" font-size="4.7" text-anchor="end" fill="#222" stroke="#222" stroke-width="0.1">JAK-STAT signaling pathway</text>
<line x1="368.40" y1="942.60" x2="368.40" y2="944.00" stroke="#444" stroke-width="0.4"/>
<text x="368.40" y="948.70" font-size="4.3" text-anchor="middle" fill="#333" stroke="#333" stroke-width="0.1">0</text>
<line x1="383.12" y1="942.60" x2="383.12" y2="944.00" stroke="#444" stroke-width="0.4"/>
<text x="383.12" y="948.70" font-size="4.3" text-anchor="middle" fill="#333" stroke="#333" stroke-width="0.1">2</text>
<line x1="397.84" y1="942.60" x2="397.84" y2="944.00" stroke="#444" stroke-width="0.4"/>
<text x="397.84" y="948.70" font-size="4.3" text-anchor="middle" fill="#333" stroke="#333" stroke-width="0.1">4</text>
<line x1="412.56" y1="942.60" x2="412.56" y2="944.00" stroke="#444" stroke-width="0.4"/>
<text x="412.56" y="948.70" font-size="4.3" text-anchor="middle" fill="#333" stroke="#333" stroke-width="0.1">6</text>
<line x1="427.28" y1="942.60" x2="427.28" y2="944.00" stroke="#444" stroke-width="0.4"/>
<text x="427.28" y="948.70" font-size="4.3" text-anchor="middle" fill="#333" stroke="#333" stroke-width="0.1">8</text>
<line x1="442.00" y1="942.60" x2="442.00" y2="944.00" stroke="#444" stroke-width="0.4"/>
<text x="442.00" y="948.70" font-size="4.3" text-anchor="middle" fill="#333" stroke="#333" stroke-width="0.1">10</text>
<text x="405.00" y="956.40" font-size="4.5" text-anchor="middle" fill="#222" stroke="#222" stroke-width="0.1">Enrichment score</text>
<text x="405.00" y="969.10" font-size="7.6" text-anchor="middle" fill="#111" stroke="#111" stroke-width="0.14">PLA-vs-GelMA</text>
<rect x="285.90" y="826.90" width="102.10" height="6.80" fill="none" stroke="#e8303a" stroke-width="0.8"/>
<text x="445.90" y="833.60" font-size="4.5" fill="#222" stroke="#222" stroke-width="0.1">GeneNumber</text>
<circle cx="450.90" cy="840.30" r="0.90" fill="#111"/>
<text x="453.80" y="841.90" font-size="4.5" fill="#222" stroke="#222" stroke-width="0.1">7</text>
<circle cx="450.90" cy="855.30" r="1.35" fill="#111"/>
<text x="453.80" y="856.90" font-size="4.5" fill="#222" stroke="#222" stroke-width="0.1">25</text>
<circle cx="450.90" cy="869.70" r="1.75" fill="#111"/>
<text x="453.80" y="871.30" font-size="4.5" fill="#222" stroke="#222" stroke-width="0.1">65</text>
<text x="445.9" y="879" font-size="4.6" fill="#222" stroke="#222" stroke-width="0.13"><tspan font-style="italic">P</tspan>-value</text>
<rect x="446.30" y="882.70" width="7.40" height="39.00" fill="url(#pvg)"/>
<text x="455.10" y="891.40" font-size="4.5" fill="#222" stroke="#222" stroke-width="0.1">0.001</text>
<text x="455.10" y="904.80" font-size="4.5" fill="#222" stroke="#222" stroke-width="0.1">0.0005</text>
<path d="M611.8 803.0V942.6M619.2 803.0V942.6M626.7 803.0V942.6M634.1 803.0V942.6M641.6 803.0V942.6M649.0 803.0V942.6M656.4 803.0V942.6M663.9 803.0V942.6M671.3 803.0V942.6M678.8 803.0V942.6M686.2 803.0V942.6M611.8 809.5H686.2M611.8 816.2H686.2M611.8 822.8H686.2M611.8 829.5H686.2M611.8 836.2H686.2M611.8 842.9H686.2M611.8 849.5H686.2M611.8 856.2H686.2M611.8 862.9H686.2M611.8 869.5H686.2M611.8 876.2H686.2M611.8 882.9H686.2M611.8 889.5H686.2M611.8 896.2H686.2M611.8 902.9H686.2M611.8 909.5H686.2M611.8 916.2H686.2M611.8 922.9H686.2M611.8 929.6H686.2M611.8 936.2H686.2" stroke="#ececec" stroke-width="0.4" fill="none"/>
<rect x="611.80" y="803.00" width="74.40" height="139.60" fill="none" stroke="#3a3a3a" stroke-width="0.6"/>
<circle cx="633.00" cy="809.50" r="2.05" fill="#b2182b"/>
<line x1="610.60" y1="809.50" x2="611.80" y2="809.50" stroke="#444" stroke-width="0.4"/>
<text x="608.70" y="811.15" font-size="4.7" text-anchor="end" fill="#222" stroke="#222" stroke-width="0.1">Cytokine-cytokine receptor interaction</text>
<circle cx="640.00" cy="816.17" r="1.75" fill="#b2182b"/>
<line x1="610.60" y1="816.17" x2="611.80" y2="816.17" stroke="#444" stroke-width="0.4"/>
<text x="608.70" y="817.82" font-size="4.7" text-anchor="end" fill="#222" stroke="#222" stroke-width="0.1">TNF signaling pathway</text>
<circle cx="634.70" cy="822.84" r="1.75" fill="#b2182b"/>
<line x1="610.60" y1="822.84" x2="611.80" y2="822.84" stroke="#444" stroke-width="0.4"/>
<text x="608.70" y="824.49" font-size="4.7" text-anchor="end" fill="#222" stroke="#222" stroke-width="0.1">JAK-STAT signaling pathway</text>
<circle cx="638.00" cy="829.51" r="1.75" fill="#b2182b"/>
<line x1="610.60" y1="829.51" x2="611.80" y2="829.51" stroke="#444" stroke-width="0.4"/>
<text x="608.70" y="831.16" font-size="4.7" text-anchor="end" fill="#222" stroke="#222" stroke-width="0.1">NF-kappa B signaling pathway</text>
<circle cx="627.30" cy="836.18" r="2.05" fill="#b2182b"/>
<line x1="610.60" y1="836.18" x2="611.80" y2="836.18" stroke="#444" stroke-width="0.4"/>
<text x="608.70" y="837.83" font-size="4.7" text-anchor="end" fill="#222" stroke="#222" stroke-width="0.1">PI3K-Akt signaling pathway</text>
<circle cx="634.30" cy="842.85" r="1.65" fill="#b2182b"/>
<line x1="610.60" y1="842.85" x2="611.80" y2="842.85" stroke="#444" stroke-width="0.4"/>
<text x="608.70" y="844.50" font-size="4.7" text-anchor="end" fill="#222" stroke="#222" stroke-width="0.1">HIF-1 signaling pathway</text>
<circle cx="629.30" cy="849.52" r="1.75" fill="#b2182b"/>
<line x1="610.60" y1="849.52" x2="611.80" y2="849.52" stroke="#444" stroke-width="0.4"/>
<text x="608.70" y="851.17" font-size="4.7" text-anchor="end" fill="#222" stroke="#222" stroke-width="0.1">Focal adhesion</text>
<circle cx="627.00" cy="856.19" r="2.05" fill="#b2182b"/>
<line x1="610.60" y1="856.19" x2="611.80" y2="856.19" stroke="#444" stroke-width="0.4"/>
<text x="608.70" y="857.84" font-size="4.7" text-anchor="end" fill="#222" stroke="#222" stroke-width="0.1">MAPK signaling pathway</text>
<circle cx="630.60" cy="862.86" r="1.75" fill="#b2182b"/>
<line x1="610.60" y1="862.86" x2="611.80" y2="862.86" stroke="#444" stroke-width="0.4"/>
<text x="608.70" y="864.51" font-size="4.7" text-anchor="end" fill="#222" stroke="#222" stroke-width="0.1">Apoptosis</text>
<circle cx="628.60" cy="869.53" r="1.75" fill="#b2182b"/>
<line x1="610.60" y1="869.53" x2="611.80" y2="869.53" stroke="#444" stroke-width="0.4"/>
<text x="608.70" y="871.18" font-size="4.7" text-anchor="end" fill="#222" stroke="#222" stroke-width="0.1">Cell adhesion molecules</text>
<circle cx="633.70" cy="876.20" r="1.55" fill="#b2182b"/>
<line x1="610.60" y1="876.20" x2="611.80" y2="876.20" stroke="#444" stroke-width="0.4"/>
<text x="608.70" y="876.00" font-size="4.7" text-anchor="end" fill="#222" stroke="#222" stroke-width="0.1">Viral protein interaction with cytokine-cytokine and</text>
<text x="608.70" y="879.80" font-size="4.7" text-anchor="end" fill="#222" stroke="#222" stroke-width="0.1">cytokine receptor</text>
<circle cx="633.30" cy="882.87" r="1.55" fill="#b2182b"/>
<line x1="610.60" y1="882.87" x2="611.80" y2="882.87" stroke="#444" stroke-width="0.4"/>
<text x="608.70" y="884.52" font-size="4.7" text-anchor="end" fill="#222" stroke="#222" stroke-width="0.1">ECM-receptor interaction</text>
<circle cx="657.40" cy="889.54" r="0.95" fill="#b2182b"/>
<line x1="610.60" y1="889.54" x2="611.80" y2="889.54" stroke="#444" stroke-width="0.4"/>
<text x="608.70" y="891.19" font-size="4.7" text-anchor="end" fill="#222" stroke="#222" stroke-width="0.1">Virion - herpesvirus</text>
<circle cx="627.60" cy="896.21" r="1.75" fill="#b2182b"/>
<line x1="610.60" y1="896.21" x2="611.80" y2="896.21" stroke="#444" stroke-width="0.4"/>
<text x="608.70" y="897.86" font-size="4.7" text-anchor="end" fill="#222" stroke="#222" stroke-width="0.1">Phagosome</text>
<circle cx="638.00" cy="902.88" r="1.45" fill="#fdd57a"/>
<line x1="610.60" y1="902.88" x2="611.80" y2="902.88" stroke="#444" stroke-width="0.4"/>
<text x="608.70" y="904.53" font-size="4.7" text-anchor="end" fill="#222" stroke="#222" stroke-width="0.1">Fructose and mannose metabolism</text>
<circle cx="636.30" cy="909.55" r="1.45" fill="#fdd07c"/>
<line x1="610.60" y1="909.55" x2="611.80" y2="909.55" stroke="#444" stroke-width="0.4"/>
<text x="608.70" y="911.20" font-size="4.7" text-anchor="end" fill="#222" stroke="#222" stroke-width="0.1">Ferroptosis</text>
<circle cx="626.00" cy="916.22" r="1.65" fill="#fcc262"/>
<line x1="610.60" y1="916.22" x2="611.80" y2="916.22" stroke="#444" stroke-width="0.4"/>
<text x="608.70" y="917.87" font-size="4.7" text-anchor="end" fill="#222" stroke="#222" stroke-width="0.1">Rap1 signaling pathway</text>
<circle cx="627.30" cy="922.89" r="1.45" fill="#f7efaa"/>
<line x1="610.60" y1="922.89" x2="611.80" y2="922.89" stroke="#444" stroke-width="0.4"/>
<text x="608.70" y="924.54" font-size="4.7" text-anchor="end" fill="#222" stroke="#222" stroke-width="0.1">Phospholipase D signaling pathway</text>
<circle cx="625.60" cy="929.56" r="1.45" fill="#e2efc6"/>
<line x1="610.60" y1="929.56" x2="611.80" y2="929.56" stroke="#444" stroke-width="0.4"/>
<text x="608.70" y="931.21" font-size="4.7" text-anchor="end" fill="#222" stroke="#222" stroke-width="0.1">Ras signaling pathway</text>
<circle cx="627.00" cy="936.23" r="1.65" fill="#2c3f98"/>
<line x1="610.60" y1="936.23" x2="611.80" y2="936.23" stroke="#444" stroke-width="0.4"/>
<text x="608.70" y="937.88" font-size="4.7" text-anchor="end" fill="#222" stroke="#222" stroke-width="0.1">Autophagy - animal</text>
<line x1="611.80" y1="942.60" x2="611.80" y2="944.00" stroke="#444" stroke-width="0.4"/>
<text x="611.80" y="948.70" font-size="4.3" text-anchor="middle" fill="#333" stroke="#333" stroke-width="0.1">0</text>
<line x1="626.68" y1="942.60" x2="626.68" y2="944.00" stroke="#444" stroke-width="0.4"/>
<text x="626.68" y="948.70" font-size="4.3" text-anchor="middle" fill="#333" stroke="#333" stroke-width="0.1">2</text>
<line x1="641.56" y1="942.60" x2="641.56" y2="944.00" stroke="#444" stroke-width="0.4"/>
<text x="641.56" y="948.70" font-size="4.3" text-anchor="middle" fill="#333" stroke="#333" stroke-width="0.1">4</text>
<line x1="656.44" y1="942.60" x2="656.44" y2="944.00" stroke="#444" stroke-width="0.4"/>
<text x="656.44" y="948.70" font-size="4.3" text-anchor="middle" fill="#333" stroke="#333" stroke-width="0.1">6</text>
<line x1="671.32" y1="942.60" x2="671.32" y2="944.00" stroke="#444" stroke-width="0.4"/>
<text x="671.32" y="948.70" font-size="4.3" text-anchor="middle" fill="#333" stroke="#333" stroke-width="0.1">8</text>
<line x1="686.20" y1="942.60" x2="686.20" y2="944.00" stroke="#444" stroke-width="0.4"/>
<text x="686.20" y="948.70" font-size="4.3" text-anchor="middle" fill="#333" stroke="#333" stroke-width="0.1">10</text>
<text x="649.40" y="956.40" font-size="4.5" text-anchor="middle" fill="#222" stroke="#222" stroke-width="0.1">Enrichment score</text>
<text x="649.40" y="969.10" font-size="7.6" text-anchor="middle" fill="#111" stroke="#111" stroke-width="0.14">PLA-vs-CTS</text>
<rect x="530.60" y="806.80" width="106.10" height="6.70" fill="none" stroke="#e8303a" stroke-width="0.8"/>
<text x="689.60" y="833.60" font-size="4.5" fill="#222" stroke="#222" stroke-width="0.1">GeneNumber</text>
<circle cx="694.60" cy="840.30" r="0.90" fill="#111"/>
<text x="697.50" y="841.90" font-size="4.5" fill="#222" stroke="#222" stroke-width="0.1">8</text>
<circle cx="694.60" cy="855.30" r="1.35" fill="#111"/>
<text x="697.50" y="856.90" font-size="4.5" fill="#222" stroke="#222" stroke-width="0.1">34</text>
<circle cx="694.60" cy="869.70" r="1.75" fill="#111"/>
<text x="697.50" y="871.30" font-size="4.5" fill="#222" stroke="#222" stroke-width="0.1">67</text>
<text x="689.6" y="879" font-size="4.6" fill="#222" stroke="#222" stroke-width="0.13"><tspan font-style="italic">P</tspan>-value</text>
<rect x="690.00" y="882.70" width="7.40" height="39.00" fill="url(#pvg)"/>
<text x="698.80" y="885.40" font-size="4.5" fill="#222" stroke="#222" stroke-width="0.1">0.0004</text>
<text x="698.80" y="894.70" font-size="4.5" fill="#222" stroke="#222" stroke-width="0.1">0.0003</text>
<text x="698.80" y="904.00" font-size="4.5" fill="#222" stroke="#222" stroke-width="0.1">0.0002</text>
<text x="698.80" y="913.50" font-size="4.5" fill="#222" stroke="#222" stroke-width="0.1">0.0001</text>
<text x="698.80" y="923.20" font-size="4.5" fill="#222" stroke="#222" stroke-width="0.1">0</text>
</svg>
</body></html>
